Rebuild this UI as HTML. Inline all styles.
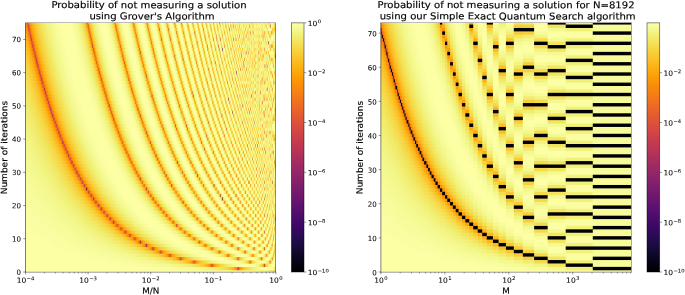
<!DOCTYPE html>
<html><head><meta charset="utf-8"><title>Grover search probability plots</title>
<style>
html,body{margin:0;padding:0;background:#fff}
#f{position:relative;width:685px;height:295px;overflow:hidden;background:#fff}
.hm{position:absolute;overflow:hidden}
.r{position:absolute;left:0;right:0;background:var(--g)}
.r i{position:absolute;left:0;right:0;top:-1px;height:1px;background:var(--g)}
.w{position:absolute;left:0;right:0;height:1px;background:#fff}
text{white-space:pre}
</style></head>
<body><div id="f">
<div class="hm" style="left:25px;top:22px;width:251px;height:250px">
<div class="r" style="--g:linear-gradient(90deg,#fbb768 .5px,#f37819,#e05635,#ee6d22,#f88a0c,#fc9f08,#fcab0f,#fbb61b,#fbbd23,#fac52c,#f9cb34,#f7d03c,#f6d543,#f5da4a,#f4de51,#f3e157,#f3e55e,#f2e864,#f2eb6b,#f1ed71,#f1ef76,#f2f17a,#f2f380,#f2f484,#f3f587,#f4f78d,#f4f88e,#f6fa94,#f6fa96,#f7fb99,#f8fb9a,#f9fc9d,#fafd9f,#fafda1,#fbfea2,#fcffa4,#fcffa4,#fcffa4,#fcffa4,#fcffa4,#fcffa4,#fcffa4,#fcffa4,#fcffa4,#fcffa4,#fbfea3,#fafda1,#f9fd9e,#f8fc9b,#f7fb97,#f6fa94,#f4f88e,#f4f68a,#f2f483,#f2f179,#f1ec6e,#f2e763,#f4e054,#f6d847,#f9c932,#fbba1f,#f89310,#ee6b23,#fba20e,#fabf26,#f8cf3a,#f4dd4f,#f3e55d,#f1ed6f,#f2f17a,#f3f688,#f5f890,#f7fb97,#f9fc9d,#fafda0,#fbfea3,#fcffa4,#fcffa4,#fcffa4,#fcffa4,#fbfea3,#fafd9f,#f8fb99,#f5f992,#f3f587,#f2f17a,#f2e966,#f4dd50,#f9c932,#fb9f0f,#fa970e,#fac128,#f5db4d,#f2e968,#f2f27c,#f4f78c,#f7fa96,#fafd9f,#fbfea3,#fcffa4,#fcffa4,#fbfea2,#fafd9f,#f6fa95,#f3f585,#f2ed71,#f5dc4e,#fabc22,#f58b1b,#f9c730,#f3e35c,#f2f17b,#f4f88e,#f9fc9d,#fcfea3,#fcffa4,#fcffa4,#f9fc9d,#f5f992,#f2f078,#f4de52,#ec9732,#f3a328,#f5dc50,#f2f27e,#f6fa95,#fafda1,#fcffa4,#fbfea2,#f8fb9a,#f3f483,#f4e056,#fab41c,#f9c42d,#f2e968,#f5f88f,#fafd9f,#fcffa4,#fbfea1,#f5f88f,#f3e765,#fabe26,#f8ca35,#f2ee73,#f7fa97,#fcfea3,#fbfea3,#f5f88f,#f4e360,#ef8c2e,#f6d648,#f5f88f,#fbfea1,#fbfea3,#f6f991,#f5de55,#de7d41,#f4e768,#f8fc9b,#fcffa4,#f7fa95,#f4e460,#f9c52f,#f3ee74,#fafd9f,#fbfea2,#f5f17f,#f6a828,#f4e058,#f9fc9d,#fbfea2,#f4ee77,#f8ab21,#f5eb70,#fafda1,#f9fb98,#f6d64a,#f7ca3b,#f9fc9b,#fbfda1,#f6da57,#f6c33a,#f8fb9a,#f8fb9a,#f5e15a,#f5e769,#fbfea3,#f5f07b,#f7b62e,#f8f78f,#f9fc9c,#f4df53,#f6f487,#fafb9b,#d1845f,#f5f381,#f7fa96,#f8cc3e,#f9f58a,#f7f890,#f8c741,#fafd9e,#f4ed73,#f6f384,#f8fa95,#f7e160,#f9fc9d,#f7dd59,#f9fc9d,#f4ec72,#f9f68f,#f5f17e,#f7f891,#f8d458,#faf089,#f7e463,#f7f68b,#f3e45d,#f9f080,#f4ed74,#f5f68a,#f8fb9a,#f5e25f,#f5ea73,#faed7e,#f5f88f,#fad459,#fbd260,#f9e276,#f2ef75,#f2f17b,#f9e771,#f5ec75,#f6f588,#f3e35a,#f7f07d,#f7f58a,#f4f688,#f6e669,#f6f78e,#fad350,#f7fa97,#f6ee77,#f7d442,#f6d649,#f4f483,#f2f27d,#fafda0,#fcd25d,#f4ea76,#f9fbaa 250.5px);top:1px;height:2px"><i style="opacity:.150"></i></div>
<div class="r" style="--g:linear-gradient(90deg,#fcc065 .5px,#f98b0b,#ec6b24,#d24a42,#f1741c,#fa9208,#fca209,#fcaf13,#fbb71c,#fabf25,#f9c72f,#f8cd36,#f7d33f,#f6d745,#f5dc4e,#f4e054,#f3e35a,#f2e660,#f2e967,#f1ec6d,#f1ee72,#f1f078,#f2f27c,#f2f482,#f3f585,#f3f689,#f4f78d,#f5f890,#f6f993,#f7fa97,#f8fb9a,#f8fc9c,#f9fc9d,#fafda1,#fafda1,#fbfea1,#fcffa4,#fcffa4,#fcffa4,#fcffa4,#fcffa4,#fcffa4,#fcffa4,#fcffa4,#fcffa4,#fcffa4,#fbfea1,#fafda0,#f9fc9d,#f8fc9b,#f6fa96,#f5f992,#f4f88e,#f3f587,#f2f380,#f1f077,#f2eb6c,#f2e55f,#f4df52,#f7d340,#f9c72f,#fbb116,#f78a0f,#e1682a,#fcad13,#fac32b,#f6d542,#f4df53,#f2e865,#f1ed71,#f2f37f,#f3f688,#f5f991,#f7fa97,#f9fc9d,#fbfea1,#fcffa4,#fcffa4,#fcffa4,#fcffa4,#fcffa4,#fbfea3,#f9fc9d,#f7fb98,#f5f88f,#f3f586,#f1ee74,#f2e762,#f6d949,#fac228,#f48017,#f89c14,#f8cb35,#f4df54,#f2eb6c,#f2f482,#f4f88e,#f8fb9a,#fafd9f,#fcfea4,#fcffa4,#fcffa4,#fbfea3,#f8fb9a,#f5f890,#f2f381,#f2e967,#f6d746,#f6991d,#f79715,#f7d13d,#f2e865,#f3f483,#f6fa95,#fafd9f,#fcffa4,#fcffa4,#fcfea3,#f8fc9b,#f4f78b,#f2ec6f,#f6d341,#fa9810,#faba24,#f2e762,#f3f484,#f8fb9a,#fcfea3,#fcffa4,#fbfea3,#f7fa95,#f2f079,#f5d94c,#fb9b07,#f7cf3c,#f2ef76,#f6f993,#fbfea1,#fcffa4,#f9fd9e,#f3f586,#f3e25b,#fca20b,#f6d343,#f4f381,#f8fc9c,#fcffa4,#fbfea2,#f4f587,#f6d648,#fcaa0f,#f2eb6c,#f6f994,#fbfea3,#fbfea1,#f4f485,#f7c936,#f9bf2a,#f3f27f,#fafda0,#fbfea3,#f5f78c,#f6c640,#f5b636,#f4f587,#fcfea4,#f9fc9c,#f4e768,#fbb71c,#f3f27f,#fafda0,#f9fc9c,#f3e869,#f8bf2e,#f5f689,#fbfea1,#f5f68a,#f5ae34,#f3eb75,#fbfea1,#f7f891,#f8c231,#f6e566,#fbfea2,#f8f58b,#f9be28,#f4f381,#fafd9f,#f5e162,#f5da56,#fafda0,#f7f07e,#f8c535,#f7f993,#f6f78e,#f8cd37,#fafa97,#f7f487,#f4e561,#fbfea1,#efbb6d,#f1d973,#fafa98,#f7d442,#f8fb9a,#f4cd5f,#f5d86e,#f5ee8a,#eaa55a,#f7f992,#f8c840,#f9f994,#f4df53,#fafd9e,#f9c145,#f8fa97,#f2f17c,#f7f992,#f9df60,#f5ee76,#f9ef7e,#f2e764,#f7f68c,#f7f993,#f1a75b,#f6ee77,#f7f891,#fcd354,#f8e569,#f6fa96,#f6f994,#f6f07b,#f5f88e,#f5ef78,#f9fc9d,#f4f280,#f5f17d,#f4f27f,#f5f991,#f1ef75,#faeb78,#f7d445,#f8fa96,#f8fa96,#f5e96c,#d58668,#fcffa4,#f7fa95,#f4f587,#f6d747,#fcf39c 250.5px);top:3px;height:3px"><i style="opacity:.489"></i></div>
<div class="r" style="--g:linear-gradient(90deg,#fdc566 .5px,#fb9806,#f78410,#df5b32,#d54f3d,#f68112,#fb9607,#fca60c,#fcb115,#fbb91f,#fac128,#f9c831,#f8cf39,#f7d33f,#f6d847,#f5dc4d,#f4e156,#f3e45c,#f2e762,#f2e967,#f1ec6e,#f1ef74,#f1f078,#f2f27d,#f2f381,#f3f586,#f3f68a,#f4f88e,#f5f992,#f6fa95,#f7fa96,#f8fb9a,#f9fc9d,#f9fc9d,#fafda0,#fafda1,#fbfea3,#fcffa4,#fcffa4,#fcffa4,#fcffa4,#fcffa4,#fcffa4,#fcffa4,#fcffa4,#fcffa4,#fbfea3,#fafda1,#f9fd9e,#f9fc9d,#f8fb9a,#f7fa96,#f5f992,#f4f78b,#f2f484,#f2f27c,#f1ef74,#f2e967,#f3e45d,#f5db4c,#f7d23e,#fac128,#fcab10,#e96f22,#f58a11,#fbb318,#f9ca33,#f6d644,#f3e259,#f2ea68,#f1ef76,#f2f482,#f4f78b,#f5f992,#f8fb99,#f9fc9d,#fafda1,#fcfea4,#fcffa4,#fcffa4,#fcffa4,#fcffa4,#fbfea1,#f9fd9e,#f7fb97,#f4f88e,#f2f380,#f1ed70,#f3e35b,#f7d441,#fbb016,#ef761e,#faaf1c,#f7d23e,#f3e35a,#f2ee73,#f3f585,#f6f993,#f8fc9b,#fbfea2,#fcffa4,#fcffa4,#fcffa4,#fafda0,#f8fb99,#f5f88e,#f2f17a,#f2e660,#f8cb35,#f99810,#f8a822,#f5d949,#f2eb6d,#f3f587,#f7fb98,#fafda1,#fcffa4,#fcffa4,#fbfea1,#f7fb98,#f3f484,#f3e764,#f8c731,#f2861f,#f7d13e,#f2eb6b,#f4f78c,#f8fc9c,#fbfea3,#fcffa4,#fafd9f,#f5f88e,#f2ed71,#f9c832,#df7437,#f4dd53,#f2f27e,#f7fb98,#fcffa4,#fcfea3,#f8fb99,#f3f381,#f7d13e,#ea8130,#f4e15b,#f4f68a,#fafd9f,#fcffa4,#f9fc9c,#f2f07a,#f7d13e,#f9c12b,#f2ee75,#f8fb9a,#fcffa4,#f9fc9d,#f2ef76,#f9c833,#f6d648,#f4f587,#fcffa4,#fbfea1,#f4f07a,#f9b824,#f6d84e,#f7fa95,#fbfea3,#f7f994,#f4e15a,#f7cc3a,#f5f689,#fbfea2,#f7fa97,#f6c43f,#f6d54b,#f6f991,#fcfea3,#f4f383,#eb923f,#f5f282,#fbfda1,#f4f689,#f7d441,#f5f487,#fbfda1,#f4eb74,#f8bb29,#f9fa98,#f9fc9b,#f8c038,#f4ec73,#fbfea1,#f5d959,#f7d44d,#fbfea3,#f5ee78,#f4e869,#fafd9f,#f8e260,#f6e567,#f9fc9b,#f7d74a,#f7f181,#f5f48a,#d78c63,#f9fb99,#f7d74e,#f8f58a,#f7e467,#f6ed75,#f8ea79,#f6de5d,#f6f78d,#f9d24f,#f8ea78,#f6e66a,#f7ed76,#f7f17f,#f5f280,#f9f790,#f9c045,#f7f890,#f8e86d,#f7e463,#f9f58d,#faeb78,#f2ec6f,#fae975,#faec7b,#f2ef77,#f2f079,#f9e974,#f5eb73,#f7f283,#f4e25d,#f4f78b,#f6e972,#f9eb78,#f4f281,#f7f78e,#f5f383,#faf893,#f3e866,#f8fb99,#fbfea2,#f6fa95,#f5f88f,#f7ca3d,#f8e76d,#fcbb26,#fdec94 250.5px);top:6px;height:4px"><i style="opacity:.167"></i></div>
<div class="r" style="--g:linear-gradient(90deg,#fdca6a .5px,#fca209,#fa9308,#f57d15,#e35b31,#ea6529,#f8870e,#fb9b07,#fca80d,#fcb317,#fbbc21,#fac32a,#f9ca33,#f8cf3a,#f7d441,#f5da4a,#f4dd50,#f4e055,#f3e45c,#f2e763,#f2ea6a,#f1ed70,#f1ee74,#f1f179,#f2f37f,#f2f482,#f3f586,#f4f78c,#f5f890,#f6f993,#f6fa96,#f7fb98,#f8fb9a,#f9fc9d,#f9fd9e,#fafda1,#fafda1,#fcffa4,#fcffa4,#fcffa4,#fcffa4,#fcffa4,#fcffa4,#fcffa4,#fcffa4,#fcffa4,#fcffa4,#fcfea4,#fafda1,#fafd9f,#f8fc9c,#f7fb98,#f6fa95,#f5f88f,#f4f68a,#f3f484,#f2f27c,#f1ee72,#f2e967,#f3e157,#f5da4b,#f8cd37,#fbbe24,#fb9f0d,#eb6826,#f9940f,#fbbc22,#f8cd37,#f5db4c,#f3e45d,#f2eb6b,#f2f17a,#f3f585,#f4f88e,#f6fa95,#f8fc9c,#fafd9f,#fbfea2,#fcffa4,#fcffa4,#fcffa4,#fcffa4,#fcfea3,#fafda0,#f8fc9b,#f6fa94,#f3f689,#f2f27e,#f2ea6a,#f4e054,#f8cb35,#fba815,#f9910b,#fbbb21,#f6d746,#f2e763,#f2f078,#f4f78b,#f6f994,#f9fd9e,#fcfea4,#fcffa4,#fcffa4,#fbfea3,#fafda0,#f7fa97,#f3f689,#f1ee73,#f4de52,#f9c42c,#f89113,#fac027,#f4df54,#f2ef75,#f4f78b,#f8fc9c,#fbfea2,#fcffa4,#fcffa4,#fafda0,#f5f992,#f2f27d,#f4e158,#f8bc2c,#f59420,#f6d848,#f2f078,#f5f890,#f9fd9e,#fcffa4,#fcfea3,#f9fc9d,#f4f78c,#f3e55f,#f9bb25,#fabc24,#f3e45e,#f4f587,#fafd9f,#fcfea4,#fbfea3,#f7fb97,#f2ec70,#f9c32d,#f9c12a,#f3e968,#f6f992,#fbfea2,#fcfea3,#f7fa96,#f2ed73,#f1952c,#f5c840,#f4f383,#fafd9f,#fcffa4,#f7fb98,#f4e564,#f69b24,#f4e058,#f8fb98,#fcfea4,#f8fb99,#f3eb6e,#fac52c,#f3e96a,#f8fb98,#fcfea3,#f5f88f,#ec9e3e,#f1cb52,#f7f994,#fcfea4,#f5f485,#f9c22b,#f5dd5a,#fafd9f,#fafda1,#f5da52,#f8cc3a,#f7f891,#fbfea2,#f6e466,#f8cb3a,#f6f88f,#fafd9e,#f5e25e,#f4e767,#fafd9e,#f6f488,#f9c830,#f6f68c,#fafc9d,#f5e15a,#f5f280,#fbfea3,#f7d446,#f6e972,#f9fb9a,#f5b53a,#f6f183,#f8f78e,#f8c83b,#fafda0,#f7e568,#f6f283,#f9f893,#f2ea6a,#fafda1,#f2ec6e,#f8fa96,#f5ec72,#f8fa95,#f8da5d,#faf18a,#f5eb70,#f9f080,#f6d953,#f6f388,#f9d34e,#f9f895,#f9e76f,#f6c963,#f8e57e,#f3ec6f,#eb9d67,#f8fb9a,#fada5a,#f9bd4c,#f6f992,#f6f994,#f6f17f,#f5f78d,#f8e86d,#f8fb98,#f3f586,#f6f993,#fccd4e,#f7e873,#f5b161,#f2ef76,#f4f27e,#f6f17e,#f9c42c,#f4ed74,#fbe779,#fca90d,#f6cf46,#f9e76d,#f3ef76,#fafaa8 250.5px);top:10px;height:3px"><i style="opacity:.845"></i></div>
<div class="r" style="--g:linear-gradient(90deg,#fdcf6f .5px,#fcaa0f,#fb9f08,#fa8f09,#f2771a,#d14744,#ee6d22,#f98d0b,#fb9e08,#fcab10,#fbb61a,#fbbd23,#fac52d,#f9cb34,#f7d13d,#f6d644,#f5db4c,#f4df52,#f3e258,#f2e55f,#f2e966,#f1eb6c,#f1ed70,#f1f077,#f2f17b,#f2f381,#f3f484,#f3f688,#f4f78b,#f5f88f,#f5f992,#f6fa96,#f8fb9a,#f8fc9b,#f9fc9d,#fafda0,#fafda1,#fafda1,#fcfea4,#fcffa4,#fcffa4,#fcffa4,#fcffa4,#fcffa4,#fcffa4,#fcffa4,#fcffa4,#fcffa4,#fbfea2,#fafda1,#f9fc9d,#f9fc9c,#f7fa97,#f6f993,#f5f890,#f3f689,#f2f482,#f1f077,#f1ec6f,#f2e762,#f4e055,#f6d745,#f9cb34,#fbb81d,#f9930d,#e4652b,#fba50e,#fbbf25,#f7d33f,#f5dd4f,#f2e661,#f1ed6f,#f2f27d,#f3f586,#f4f88e,#f7fb98,#f8fc9b,#fafda1,#fcfea4,#fcffa4,#fcffa4,#fcffa4,#fcffa4,#fcfea4,#fafd9f,#f8fb9a,#f5f991,#f3f587,#f2f079,#f2e967,#f5da4a,#f9c62e,#f89414,#f58915,#f9c52d,#f5dc4e,#f2e968,#f2f27f,#f4f78c,#f7fb98,#f9fd9e,#fcfea3,#fcffa4,#fcffa4,#fcfea3,#f9fc9d,#f6f993,#f3f586,#f2eb6b,#f5dc4f,#f9b221,#f07e1b,#f9c731,#f3e45d,#f2f17a,#f5f992,#f9fc9d,#fcfea4,#fcffa4,#fcffa4,#f9fc9d,#f5f890,#f2ef75,#f4dd52,#f99e18,#faaf18,#f4e158,#f2f27d,#f6fa95,#fbfea3,#fcffa4,#fcfea4,#f8fc9b,#f2f381,#f4e158,#faa712,#f9bf2b,#f2ea6a,#f5f88f,#fafda1,#fcffa4,#fbfea2,#f5f88e,#f3e866,#faaf18,#f8c32f,#f2ee75,#f8fb9a,#fcfea4,#fafda1,#f6f992,#f4e057,#fbac13,#f5db53,#f4f78b,#fbfea1,#fbfea3,#f6f78e,#f5d84d,#fbaf15,#f2f079,#f8fc9b,#fcfea4,#f7fa96,#f5db54,#f9b121,#f4ee77,#fbfda1,#fbfea3,#f3ee75,#fabc24,#f5e365,#fafd9e,#fafd9f,#f3ed73,#f5ac30,#f4f280,#fbfea3,#f6f993,#f1bf4d,#efc561,#fafd9e,#f9fb9a,#f3c34d,#f4c850,#fafda0,#f9fc9b,#f9cb37,#f5ea71,#fafda0,#f4f07b,#f0a64a,#fafc9d,#f9f58d,#f8cc37,#f6f992,#f7f890,#f7bb32,#f9f68d,#f7fa94,#f7d74e,#f9fc9c,#f6ef7f,#f7dd5d,#fbfea1,#f8d345,#f8f78f,#f7ea70,#f7e669,#f8f589,#f6de57,#faf995,#f4dd51,#fafda0,#efa556,#f8fb98,#f3ed72,#f9fc9d,#fbcd4d,#f9ed80,#f6e062,#f5b654,#f8f695,#f9e164,#f7f184,#fbe36d,#f5e361,#f7f58a,#f8f182,#f5eb72,#f4ed74,#f8e973,#f5eb73,#f9ec7c,#f8d454,#f4f587,#f5e15f,#f8d36f,#f4bf75,#fbcc57,#f8f188,#f2eb6c,#f8f78d,#f7f994,#f5c642,#f3dd5d,#f2f381,#f8fb99,#f5f992,#f7fb98,#fafdb0 250.5px);top:13px;height:3px"><i style="opacity:.523"></i></div>
<div class="r" style="--g:linear-gradient(90deg,#fdd373 .5px,#fcb216,#fca80d,#fb9b07,#f98c0b,#ee6b23,#cb4447,#f2781a,#fa9009,#fca20a,#fcaf13,#fbb71c,#fac026,#f9c62e,#f8cd37,#f7d23e,#f6d745,#f5db4b,#f4df53,#f3e45b,#f2e660,#f2e966,#f2eb6b,#f1ee73,#f1f076,#f2f27c,#f2f380,#f2f484,#f3f68a,#f4f78d,#f5f991,#f6fa94,#f6fa96,#f8fb99,#f9fc9c,#f9fc9d,#fafd9f,#fafda1,#fbfea2,#fcffa4,#fcffa4,#fcffa4,#fcffa4,#fcffa4,#fcffa4,#fcffa4,#fcffa4,#fcffa4,#fcfea4,#fafda1,#fafd9f,#f9fc9d,#f8fc9b,#f7fb97,#f6f994,#f4f78d,#f3f586,#f2f27e,#f1f077,#f2ea6a,#f2e660,#f4de51,#f6d542,#f9c62e,#fcb116,#f28615,#ea7121,#fcab11,#f9c62e,#f7d440,#f4df53,#f2e865,#f1ee72,#f2f37f,#f3f689,#f5f890,#f7fb98,#f9fc9d,#fafda0,#fbfea3,#fcffa4,#fcffa4,#fcffa4,#fcffa4,#fbfea2,#fafd9f,#f7fb99,#f5f991,#f3f484,#f1ef75,#f3e55e,#f6d848,#fabe25,#f17d1c,#faa114,#f8cd37,#f4de52,#f2ec6d,#f2f381,#f5f890,#f8fb9a,#fafda0,#fcffa4,#fcffa4,#fcffa4,#fbfea1,#f8fc9b,#f5f992,#f2f27f,#f2e968,#f6d442,#fba813,#f7961c,#f7d340,#f3e762,#f2f482,#f6fa95,#fafda0,#fcfea4,#fcffa4,#fbfea3,#f8fc9b,#f4f689,#f2ec6f,#f7d441,#f58f1a,#f6bd35,#f3e560,#f3f484,#f8fb99,#fbfea2,#fcffa4,#fbfea2,#f6f994,#f2f17a,#f6d343,#df7438,#f7cf3d,#f2f17a,#f7fa95,#fcfea4,#fcffa4,#f9fc9d,#f4f689,#f5dc52,#e67e35,#f6d546,#f3f483,#f8fc9b,#fcffa4,#fbfea2,#f3f484,#f5da4d,#fabc23,#f3e764,#f6f994,#fcfea4,#fbfda1,#f3f483,#f6d443,#f8ca36,#f3f27f,#fafda0,#fcfea4,#f5f68a,#f7c536,#f8c636,#f5f78b,#fbfea3,#f8fc9b,#f4e96a,#f8c934,#f3f17b,#fafda1,#f9fc9c,#f3d862,#f6b936,#f5f68a,#fbfea3,#f5f68a,#efa040,#f4ec72,#fbfea2,#f6f891,#f6d648,#f4ee76,#fbfea3,#f5f280,#f1a03a,#f8f487,#fbfea3,#e6ad67,#efd56c,#fafd9f,#f3ea79,#d98d59,#fafc9c,#f6f283,#f4e35d,#fafd9f,#f9e26a,#f6e15e,#f9fc9b,#f7c43b,#f5f280,#f7f589,#f7d347,#f8fb9a,#df9a63,#f3eb88,#f1d174,#efc46b,#f6f68a,#f9d14c,#f8f081,#f5e664,#f6f487,#f9dc5c,#f6cb75,#f5db7e,#f6ef7b,#f9fc9c,#f4e35e,#f7dc6d,#f8db6e,#f7ed77,#f7f88f,#f3ef76,#fada59,#f6f689,#f6f991,#f5f383,#f6f68b,#fade60,#f6f68a,#f6f180,#f9fa97,#f8ea72,#fbd454,#f6f78c,#fccf50,#fafb99,#f3e968,#fafd9f,#f9fc9b,#f6ec73,#fcffa4,#fbfea2,#f9ef7c,#fbfb9b,#f9fcae 250.5px);top:16px;height:4px"><i style="opacity:.201"></i></div>
<div class="r" style="--g:linear-gradient(90deg,#fcd677 .5px,#fbb81d,#fcaf14,#fca50b,#fb9a07,#f7850f,#e96429,#e45b31,#f57d15,#fa9508,#fca50b,#fcb015,#fbba1f,#fac127,#f9c831,#f8ce38,#f7d340,#f6d847,#f5dc4e,#f4e054,#f3e35a,#f2e661,#f2e967,#f1ec6f,#f1ee72,#f1f078,#f2f27c,#f2f482,#f3f586,#f4f68a,#f4f88e,#f5f890,#f6fa96,#f7fa97,#f8fb9a,#f9fc9c,#f9fc9d,#fafda1,#fafda1,#fcfea3,#fcffa4,#fcffa4,#fcffa4,#fcffa4,#fcffa4,#fcffa4,#fcffa4,#fcffa4,#fcffa4,#fcffa4,#fafea1,#fafda0,#f9fc9d,#f8fb99,#f6fa96,#f5f991,#f4f78c,#f3f585,#f2f37f,#f1ee74,#f2ea69,#f3e45c,#f5dd4f,#f7d13c,#fac229,#fbac14,#f0741d,#f58213,#fbb51a,#f9c830,#f6d745,#f3e156,#f2e966,#f1ef75,#f2f381,#f4f78c,#f6f994,#f8fc9b,#f9fd9e,#fbfea1,#fcffa4,#fcffa4,#fcffa4,#fcffa4,#fcffa4,#fafda1,#f9fc9c,#f6fa96,#f4f78c,#f2f381,#f1ec6e,#f3e45c,#f7d23f,#fbb81d,#f98c0b,#fbb019,#f7d03c,#f3e45c,#f1ed71,#f3f586,#f5f991,#f8fc9b,#fafda1,#fcffa4,#fcffa4,#fcfea4,#fafda1,#f8fc9c,#f4f78c,#f2f27d,#f3e661,#f8cf3a,#f89a18,#f9ab1d,#f6d645,#f2ec6e,#f3f587,#f7fa97,#fafda1,#fcffa4,#fcffa4,#fbfea2,#f7fb99,#f3f688,#f2e864,#f8cc37,#ee8328,#f8cb36,#f2e969,#f4f78b,#f8fc9b,#fcfea4,#fcffa4,#fafd9f,#f5f992,#f2ec6e,#f7cd39,#fcad12,#f5dd50,#f3f27e,#f8fb99,#fbfea3,#fcffa4,#f8fc9b,#f3f17c,#f6d546,#fbb419,#f3e25a,#f4f587,#fafd9f,#fcffa4,#f9fc9c,#f3f27f,#efb341,#ea9b3b,#f3ee74,#f9fc9c,#fcfea4,#f9fc9d,#f3f380,#f5a129,#f5cd47,#f5f68a,#fbfea3,#fafd9f,#f3f17b,#f8cd38,#f5dc52,#f5f890,#fcffa4,#f7fa95,#f2c852,#eca142,#f5f68a,#fcfea4,#f7f993,#f7d141,#f7cb3b,#f9fc9b,#fbfea3,#f5ea71,#fac027,#f5f484,#fbfea2,#f7f081,#fac42c,#f4f485,#fbfea1,#f5ea72,#f5dc50,#f9fb9a,#f8fa96,#f8d03e,#f6ea71,#fbfea1,#f5e160,#f4ed75,#fafda0,#f8e160,#f6e261,#f9fc9e,#f6db53,#f6e368,#f9fc9b,#f7d442,#fbf895,#f6e773,#f8d960,#f9fc9d,#f6e15e,#f9fc9c,#f6e566,#f8fa97,#f8de62,#f9f289,#f6eb74,#fbe470,#f9d759,#f6f182,#f6e260,#f8f58a,#f4e35d,#f8f993,#f5f88f,#f6ea6e,#f4f588,#fac94b,#f5f88f,#f9ec7e,#f9db61,#f6e76a,#f8eb75,#f6eb73,#f9e678,#f8c75e,#f8ec74,#f8d952,#f4f485,#f7f589,#f2f27d,#f9e56f,#f8dc56,#f6f485,#b97457,#f2f08f,#fafc9d,#f5f88f,#f3f079,#f9df64,#faf692,#f7f9a5 250.5px);top:20px;height:3px"><i style="opacity:.879"></i></div>
<div class="r" style="--g:linear-gradient(90deg,#fcd97a .5px,#fbbd22,#fbb61b,#fcae12,#fca40a,#fa9407,#f68212,#d6513b,#db5835,#f78410,#fb9906,#fca70d,#fcb217,#fbbb20,#fac42b,#f9c931,#f8cf3a,#f7d441,#f5d949,#f4de51,#f3e157,#f3e45d,#f2e864,#f2ea69,#f1ec6e,#f1ef74,#f1f078,#f2f380,#f2f483,#f3f587,#f4f78a,#f4f88e,#f5f992,#f6fa95,#f7fb99,#f8fb9a,#f9fc9d,#f9fc9d,#fafda0,#fafda1,#fbfea3,#fcffa4,#fcffa4,#fcffa4,#fcffa4,#fcffa4,#fcffa4,#fcffa4,#fcffa4,#fcffa4,#fbfea3,#fafda1,#f9fd9e,#f9fc9d,#f7fb98,#f6fa94,#f5f991,#f4f78b,#f2f483,#f2f27c,#f1ed71,#f2e966,#f3e259,#f5da4a,#f8ce38,#fabf25,#fba30d,#c7543c,#f59510,#fbb81d,#f8cc36,#f6d848,#f3e35b,#f2ea6a,#f2f078,#f3f484,#f4f78c,#f6fa95,#f8fb9a,#fafda0,#fbfea3,#fcffa4,#fcffa4,#fcffa4,#fcffa4,#fcffa4,#fafda0,#f9fc9d,#f6fa94,#f4f78c,#f2f17b,#f2eb6b,#f4df53,#f8cf39,#faa916,#ec7222,#fbb51c,#f6d644,#f3e55f,#f2f078,#f3f587,#f6f993,#f8fc9c,#fbfea2,#fcffa4,#fcffa4,#fcffa4,#fafd9f,#f7fb97,#f4f68a,#f2ef76,#f3e258,#f9c52f,#f68716,#fab51f,#f4de52,#f1ee72,#f4f68a,#f7fb98,#fbfea2,#fcffa4,#fcffa4,#fafda1,#f7fa97,#f2f37f,#f3e660,#f9b724,#fa9b0c,#f6d545,#f2ef74,#f5f88e,#fafda0,#fcffa4,#fcffa4,#f9fd9e,#f4f688,#f2e968,#f9bd26,#f9a71a,#f4e15a,#f3f688,#f8fc9b,#fcffa4,#fbfea3,#f6fa94,#f2ef75,#f8c532,#faad1b,#f3e663,#f6f992,#fbfea2,#fcffa4,#f8fb99,#f3eb6d,#fabb23,#f7c534,#f3f484,#f9fc9d,#fcfea4,#f8fc9a,#f3e663,#fbb319,#f4de59,#f6f993,#fcffa4,#f9fc9c,#f4e96d,#f8a321,#f3e45f,#f9fc9d,#fcfea3,#f5f587,#f8cb38,#f7d248,#f7fa97,#fbfea2,#f5f68a,#f7b52c,#f3e86b,#fafd9e,#f9fc9c,#f3e665,#e09157,#f8fa96,#fbfda0,#f4e46a,#f4aa34,#f9fa98,#fafda0,#f8d952,#f5db54,#fafda0,#f6f589,#d8895c,#f7fa94,#f9fc9e,#f8d03f,#f6ee7b,#f9fc9c,#efa748,#f6ed7d,#f8fb98,#f8cc42,#f8fa97,#f6f88f,#f6e05d,#fafd9e,#f9c044,#f6f589,#faeb79,#f6e463,#fbf996,#f5db4d,#fafda0,#f9c941,#f8fa96,#f8e05f,#fafd9f,#f4ed73,#f8fa95,#f6de58,#f6f78e,#f9e365,#f3ec6f,#f8f58b,#f3f587,#fae872,#f4f17e,#f4ec71,#f7ef7a,#f7f78d,#f5f587,#f6f689,#fbca4c,#f8ed77,#fcdb65,#f9f087,#f3f689,#f3f586,#f7f384,#f5f78e,#f5f180,#f9f183,#f5f890,#f7d546,#f6d568,#faa011,#fbb318,#f3ea6c,#f4f688,#f6f497 250.5px);top:23px;height:3px"><i style="opacity:.557"></i></div>
<div class="r" style="--g:linear-gradient(90deg,#fcdb7d .5px,#fac228,#fbbc21,#fcb418,#fcad11,#fca008,#fa9208,#f37819,#d94f3c,#e86529,#f98a0c,#fb9c08,#fcaa0f,#fcb318,#fbbe23,#fac42b,#f9cb34,#f7d03c,#f6d643,#f5da4a,#f4dd50,#f4e156,#f3e45c,#f2e763,#f2ea6a,#f1ed70,#f1ef74,#f2f17b,#f2f37f,#f2f483,#f3f689,#f4f78c,#f5f890,#f5f992,#f6fa95,#f7fb98,#f8fc9b,#f9fc9d,#f9fd9e,#fafda1,#fafea1,#fcffa4,#fcffa4,#fcffa4,#fcffa4,#fcffa4,#fcffa4,#fcffa4,#fcffa4,#fcffa4,#fcffa4,#fbfea1,#fafda1,#fafd9f,#f8fc9c,#f7fb98,#f6fa95,#f5f88f,#f3f68a,#f2f380,#f1f079,#f1ec6f,#f2e864,#f4e055,#f6d847,#f8cd36,#fbba20,#fb9f0a,#d45738,#fb9d0d,#fbbd23,#f8d03b,#f5dc4e,#f3e55e,#f2eb6c,#f2f17a,#f2f483,#f4f88f,#f6fa96,#f9fc9c,#fafd9f,#fbfea2,#fcffa4,#fcffa4,#fcffa4,#fcffa4,#fcfea3,#fafda0,#f8fc9b,#f6f994,#f3f587,#f2f079,#f2e967,#f4de50,#f9c932,#f99b13,#f68716,#fac128,#f6d847,#f2e967,#f2f179,#f4f68a,#f7fb98,#fafd9f,#fcfea4,#fcffa4,#fcffa4,#fcffa4,#f9fc9d,#f6fa95,#f3f585,#f2ed71,#f4dd51,#fabb23,#ee7b23,#f9c72f,#f4e157,#f2f17a,#f4f78d,#f8fc9b,#fbfea3,#fcffa4,#fcfea4,#f9fd9e,#f5f992,#f2f17b,#f5dd50,#f4aa27,#ea8f32,#f4dd51,#f2f079,#f6fa94,#fafda0,#fcffa4,#fbfea3,#f8fb99,#f3f587,#f3e35c,#f8a321,#f9b626,#f2e867,#f4f68a,#fafda1,#fcffa4,#fafda0,#f6f993,#f3e96a,#f8ad26,#f8bb2b,#f2ee73,#f6fa95,#fcffa4,#fcfea3,#f6f991,#f3e765,#fab41d,#f5db4e,#f4f587,#fbfea2,#fcffa4,#f5f88f,#f4e15b,#fabe26,#f3ea6b,#f8fb99,#fcffa4,#f8fa97,#f4e059,#fbb318,#f3f17d,#fafda0,#fafda0,#f4f483,#f8c731,#f4e564,#f8fb99,#fbfda1,#f3f381,#f9b21f,#f4ec73,#fafda0,#f9fc9c,#eaaa56,#f2d35b,#f8fb99,#f9fc9c,#f5df59,#f4e460,#f9fc9c,#f7f993,#f5af36,#f6e96f,#fbfea2,#f3de7c,#eeb04c,#f9fc9d,#f6f589,#9f706a,#f8f78e,#f8fb99,#f5de53,#f8f994,#f9f188,#f7ce3e,#fafd9e,#f3cb60,#f3d365,#f9fa98,#f6d645,#f7f892,#f6e061,#f7df66,#f6f588,#f8cf49,#f7f589,#f6e05a,#f7f791,#f7c841,#f9f284,#f5e96a,#f8f994,#f8ed79,#f9d45f,#faeb84,#f9cc47,#f5f381,#f7f17f,#f5f484,#f8e97d,#fbd660,#f9dd60,#f7eb75,#f7e970,#faea76,#fbe46e,#fcce4f,#fbd251,#f4f17e,#f4ee80,#f4b062,#f6e96d,#f8fb98,#f5e666,#fafda1,#f7f589,#f8c33b,#f2f382,#f3f483,#fbd85a,#f8d751,#f6ea80 250.5px);top:26px;height:4px"><i style="opacity:.235"></i></div>
<div class="r" style="--g:linear-gradient(90deg,#fbde80 .5px,#f9c72e,#fac027,#fbba1f,#fcb419,#fca90e,#fc9f07,#f98d0b,#f2751c,#db503a,#f1721e,#f98d0b,#fca008,#fcab10,#fbb71c,#fbbf25,#fac62d,#f9cb35,#f7d23d,#f6d644,#f5da4a,#f4df52,#f3e258,#f2e55f,#f2e966,#f1eb6c,#f1ed70,#f1f077,#f2f17b,#f2f37f,#f3f585,#f3f688,#f4f78c,#f5f88f,#f6f993,#f6fa96,#f7fb98,#f8fc9b,#f9fc9d,#fafda0,#fafda1,#fbfea2,#fcffa4,#fcffa4,#fcffa4,#fcffa4,#fcffa4,#fcffa4,#fcffa4,#fcffa4,#fcffa4,#fcffa4,#fbfea2,#fafda1,#f9fc9d,#f8fb9a,#f7fb99,#f6f993,#f5f890,#f3f688,#f2f381,#f1f077,#f1ec6e,#f2e761,#f4df54,#f6d644,#f9c932,#fbb81d,#f88c0f,#ec6c23,#fba611,#fac128,#f7d13d,#f4de51,#f2e661,#f1ee72,#f2f17b,#f3f586,#f4f88e,#f7fa97,#f8fc9c,#fafda1,#fcfea4,#fcffa4,#fcffa4,#fcffa4,#fcffa4,#fbfea2,#f9fd9e,#f7fb98,#f5f891,#f3f586,#f2f077,#f2e762,#f5da4b,#fac32a,#fa9b0f,#f99512,#f9c52d,#f4de52,#f2ea69,#f2f27e,#f4f88e,#f7fb99,#fafda0,#fcfea3,#fcffa4,#fcffa4,#fcfea3,#f9fc9d,#f6fa94,#f3f483,#f2eb6c,#f5d949,#eeab2c,#d06f33,#f8cb35,#f3e662,#f2f27c,#f5f991,#fafd9f,#fcfea4,#fcffa4,#fcfea4,#f8fc9b,#f5f88f,#f2ee73,#f5da4b,#f39128,#fab81f,#f4e158,#f2f380,#f7fa96,#fbfea3,#fcffa4,#fbfea3,#f7fa97,#f3f380,#f4dd50,#fbb319,#f8c934,#f2eb6c,#f6f994,#fbfea2,#fcffa4,#fbfea1,#f4f78b,#f3e35c,#fbbb21,#f7cf3d,#f2f078,#f9fc9d,#fcfea4,#fafda0,#f5f78d,#f5de55,#f99f19,#f5df57,#f6f992,#fbfea3,#fbfea1,#f5f78c,#f5c946,#f6aa2a,#f3ef77,#fafd9f,#fbfea3,#f6f88f,#f5dd53,#f8c733,#f4f382,#fbfea1,#fafda0,#f4ea6d,#f8a821,#f4e96c,#fafda1,#fafda1,#f4e360,#f8b224,#f6f384,#fcffa4,#f6f68b,#f9c731,#f5e05f,#fbfea2,#f8fb99,#f9c733,#f5e365,#fafd9f,#f5f88e,#f6d746,#f6f588,#fafd9f,#f6de58,#f6d850,#fbfda0,#f5ef7c,#f4e15a,#fafd9f,#f8ed7a,#f7d74c,#f9fb9a,#f5eb71,#f7d34b,#f9fc9c,#f6df59,#faec7b,#f7f891,#f7b749,#f9fc9d,#f8db57,#f9fb9a,#f7e267,#f8f389,#f5e181,#f4c16e,#f7f281,#f7e86c,#f7e672,#f8dd65,#e59d67,#f7f496,#f5b053,#f9f68f,#f9e974,#f8d556,#f8ea76,#f4f07b,#fae468,#f7f487,#f5f588,#f6f587,#f5ad5a,#fbda5c,#fbe26c,#f9ea75,#f9ed79,#f9ed7a,#fae167,#fbe772,#fbbf34,#f6f58a,#f9c62f,#fafa99,#f7fa95,#fcffa4,#fcfea4,#f7f994,#f7d84b,#fad359 250.5px);top:30px;height:3px"><i style="opacity:.913"></i></div>
<div class="r" style="--g:linear-gradient(90deg,#fbe083 .5px,#f9ca33,#fac42b,#fbbf25,#fbba1f,#fcb216,#fca80d,#fb9a07,#f98b0b,#ec6c23,#ca4448,#f2761b,#fa9108,#fca109,#fcaf14,#fbb71c,#fac026,#f9c72e,#f8cd37,#f7d23e,#f6d644,#f5db4c,#f4de52,#f3e45b,#f3e55f,#f2e865,#f1eb6c,#f1ee73,#f1f077,#f2f17a,#f2f380,#f2f484,#f3f68a,#f4f78d,#f5f991,#f6fa94,#f6fa96,#f8fb99,#f8fc9b,#f9fc9d,#fafd9f,#fafda1,#fbfea2,#fcffa4,#fcffa4,#fcffa4,#fcffa4,#fcffa4,#fcffa4,#fcffa4,#fcffa4,#fcffa4,#fcfea4,#fafda1,#fafd9f,#f9fc9d,#f8fb9a,#f7fa97,#f6f994,#f4f78c,#f3f586,#f2f37f,#f1f077,#f2eb6b,#f2e55f,#f4de52,#f7d340,#f9c730,#fcaf14,#f58613,#f37d17,#fcac11,#f9c52d,#f7d441,#f4df52,#f2e966,#f1ed71,#f2f380,#f3f68a,#f5f991,#f7fb98,#f9fc9d,#fafda0,#fcfea3,#fcffa4,#fcffa4,#fcffa4,#fcffa4,#fbfea2,#f9fc9d,#f7fb98,#f4f88e,#f2f483,#f1ef74,#f3e55f,#f6d746,#fabf27,#ef781e,#fb9f0e,#f8cd38,#f4df53,#f2eb6d,#f2f482,#f5f991,#f8fb9a,#fafda0,#fcffa4,#fcffa4,#fcffa4,#fbfea2,#f9fc9c,#f5f992,#f2f380,#f2e966,#f6d544,#fba312,#f89616,#f6d341,#f2e764,#f3f482,#f6fa96,#fafda0,#fcffa4,#fcffa4,#fbfea3,#f8fb9a,#f3f688,#f2ec6f,#f7d341,#f68d15,#f8bc2d,#f3e763,#f3f482,#f8fb9a,#fbfea2,#fcffa4,#fbfea2,#f6fa95,#f2f078,#f6d545,#e17636,#f8ce3a,#f2f17b,#f6fa95,#fbfea3,#fcffa4,#fafd9f,#f3f586,#f5dc53,#e67d35,#f6d342,#f3f587,#fafd9f,#fcffa4,#fafd9f,#f4f485,#f6d545,#f6a127,#f3eb6d,#f6fa95,#fcffa4,#fbfea1,#f3f27e,#f8ca38,#f6ba31,#f4f586,#fafd9f,#fbfea1,#f5f78d,#f5b032,#f6c83f,#f6f68b,#fbfea3,#f8fb9a,#f4e15c,#f8b426,#f4f484,#fbfea3,#f7fa96,#f5db54,#f6d345,#f6f991,#fbfea3,#f4f27f,#f7bb2d,#f4f382,#fbfea3,#f4f484,#f9c12c,#f7ed79,#fcffa4,#f6ec75,#f8c533,#f7f88f,#f9fc9c,#f6c43c,#f5ec7b,#fafda1,#f7e05d,#f6dd58,#fafd9e,#f5d95f,#f6d14f,#fcfea4,#f6d955,#f6f081,#f9fb9a,#f5dd56,#f9fc9b,#f8d266,#f5df6b,#faf793,#f6d748,#fafda0,#f8d64c,#f8f891,#d98e72,#f7fa94,#f4f07a,#f9f790,#f8e365,#f9fc9d,#f4e35d,#f8f080,#f4eb6f,#fcd455,#f8fb98,#fae468,#f6f282,#fae875,#fac852,#f6eb74,#f8e76e,#fae975,#f9ef7d,#fbd555,#f6f17e,#fbc44b,#f9bb4e,#f4f689,#f7eb73,#f9ee82,#fbe775,#f4f68a,#f3af4b,#f8f994,#f4f78c,#f6fa95,#f8fb98,#f5d35e,#d26f68 250.5px);top:33px;height:3px"><i style="opacity:.591"></i></div>
<div class="r" style="--g:linear-gradient(90deg,#fae185 .5px,#f8ce39,#f9c931,#fac42b,#fbbf24,#fbb81c,#fcb015,#fca60c,#fb9a07,#f8870f,#ea6529,#c84945,#f57d15,#fa9308,#fca50b,#fcaf14,#fbb91f,#fac127,#f9c830,#f8ce39,#f7d23e,#f6d746,#f5dc4e,#f4e054,#f3e35b,#f2e661,#f2e967,#f2eb6b,#f1ee72,#f1ef76,#f2f27d,#f2f482,#f3f586,#f3f689,#f4f78d,#f5f890,#f6f994,#f7fb97,#f8fb9a,#f9fc9c,#f9fc9d,#fafda1,#fafda1,#fcfea4,#fcffa4,#fcffa4,#fcffa4,#fcffa4,#fcffa4,#fcffa4,#fcffa4,#fcffa4,#fcffa4,#fcffa4,#fafda1,#fafda0,#f9fc9c,#f8fb99,#f6fa96,#f5f890,#f4f78d,#f3f586,#f2f37f,#f1ef75,#f2ea68,#f3e45d,#f5dc4e,#f7d23e,#fac229,#fcae14,#f27a1c,#f48114,#fbb117,#f9c831,#f6d543,#f3e157,#f2e865,#f1ef75,#f2f381,#f4f78b,#f6fa94,#f7fb97,#f9fd9e,#fbfea1,#fcffa4,#fcffa4,#fcffa4,#fcffa4,#fcffa4,#fafda1,#f9fc9c,#f6fa95,#f4f78c,#f2f381,#f1ed70,#f3e35b,#f6d442,#fbb71e,#ec731f,#f9ac1c,#f8cf3a,#f3e158,#f1ed71,#f2f482,#f5f992,#f8fb9a,#fbfea1,#fcffa4,#fcffa4,#fcffa4,#fbfea2,#f8fc9b,#f4f88e,#f2f17c,#f2e763,#f8cf3b,#f89618,#faae1d,#f6d543,#f2ea6b,#f3f586,#f6fa95,#fbfea1,#fcffa4,#fcffa4,#fbfea3,#f7fb99,#f3f587,#f2e968,#f8cd38,#faa010,#f8cc37,#f2e866,#f4f78c,#f9fc9c,#fcfea4,#fcffa4,#fafda0,#f5f891,#f2ec70,#f8cb37,#fa9c0c,#f4de51,#f2f27d,#f7fb98,#fcfea3,#fcffa4,#f8fb9a,#f3f27f,#f6d445,#fba20c,#f3e35b,#f4f689,#fafd9f,#fcffa4,#f9fc9d,#f2f27d,#e6b151,#e59f41,#f2ec6f,#f9fc9d,#fcfea4,#f9fc9c,#f3f07a,#f3a734,#f5d34a,#f5f689,#fcfea3,#fbfea3,#f3f079,#f9bc2a,#f5d351,#f7fa96,#fcffa4,#f6f994,#f3d056,#f4b83d,#f4f68a,#fcfea4,#f7f994,#f8cd3e,#f6d447,#f8fb98,#fbfea1,#f5e770,#f9c32d,#f5f689,#fbfea1,#f4f07d,#f6d646,#f6f88f,#fafda0,#f5df5d,#f8d143,#fafd9f,#f8fb98,#f9c22f,#f6f384,#f9fc9c,#f7c53a,#f7e970,#fafd9f,#f4e665,#f5f17e,#fafda0,#f8d142,#f7f488,#f6f185,#f6c239,#f9fb9b,#f6e05a,#f7eb76,#f6f484,#f8cd46,#f7f78e,#f7d348,#f7fa96,#f4de51,#f7f892,#f0a752,#f9f792,#f5dd56,#f8fa97,#f4f382,#f6f182,#fbe570,#f2e864,#fbe46f,#f8e977,#fbc94b,#f7f281,#f5f68b,#f6f382,#fbd455,#f9bd4d,#f8f386,#f6d862,#fbd866,#fbe773,#f3f483,#f3f483,#f5f78d,#f8e060,#fcffa4,#f9dc62,#f5d84e,#fabd23,#f8ce3a,#f9e871,#f8ef7e,#fad45d 250.5px);top:36px;height:4px"><i style="opacity:.269"></i></div>
<div class="r" style="--g:linear-gradient(90deg,#fae488 .5px,#f8d03b,#f8cd37,#f9c830,#fac42b,#fbbd23,#fbb71c,#fcae13,#fca50b,#fb9807,#f78311,#cd543a,#d3533a,#f57f14,#fb9907,#fca50b,#fcb216,#fbba20,#fac228,#f9c932,#f8ce39,#f7d440,#f6d948,#f5dc4e,#f4df54,#f3e45d,#f2e761,#f2e967,#f1ec6e,#f1ee72,#f1f079,#f2f27d,#f2f483,#f3f587,#f4f78b,#f4f88e,#f5f992,#f6fa96,#f7fa97,#f8fb9a,#f8fc9c,#f9fc9d,#fafda0,#fafda1,#fbfea3,#fcffa4,#fcffa4,#fcffa4,#fcffa4,#fcffa4,#fcffa4,#fcffa4,#fcffa4,#fcffa4,#fbfea3,#fafda1,#fafda0,#f9fc9d,#f8fb9a,#f6fa94,#f5f991,#f4f68a,#f2f483,#f2f17b,#f1ee73,#f2ea68,#f3e45c,#f5dc4e,#f8d03b,#fac229,#fba70f,#e76827,#f78d12,#fbb71c,#f9c932,#f5d949,#f3e258,#f2eb6b,#f1ef76,#f2f483,#f4f78c,#f6f993,#f8fb9a,#f9fd9e,#fbfea1,#fcffa4,#fcffa4,#fcffa4,#fcffa4,#fcffa4,#fafda0,#f9fc9c,#f6f994,#f4f78c,#f2f27e,#f2ec6e,#f3e259,#f7d13c,#fbb51b,#da6431,#fbb119,#f7d23f,#f3e45c,#f2ee73,#f3f587,#f5f992,#f8fc9c,#fbfea3,#fcffa4,#fcffa4,#fcffa4,#fafd9f,#f7fa97,#f4f78d,#f2f17b,#f3e35b,#f8cd37,#f99011,#fab01d,#f5da4b,#f2ed71,#f4f689,#f7fb99,#fafda0,#fcffa4,#fcffa4,#fafda0,#f7fa97,#f3f484,#f3e660,#f8c22e,#f99711,#f8ce3a,#f2ed71,#f4f78d,#f9fd9e,#fcffa4,#fcffa4,#f9fd9e,#f4f78d,#f2ea69,#f7c938,#f69b21,#f4de54,#f3f483,#f8fc9c,#fcffa4,#fbfea3,#f8fb98,#f2ef77,#f6d343,#f7a122,#f3e45f,#f5f78e,#fbfea2,#fcffa4,#f8fb99,#f3ed74,#fabc26,#f9ba27,#f3f482,#f9fc9e,#fcfea4,#f8fc9b,#f3ea6d,#fbb319,#f6d74d,#f6f994,#fbfea3,#f9fc9c,#f3ee75,#f09b36,#f4e45f,#f8fc9b,#fcfea3,#f6f78d,#f8ca37,#f7cc3b,#f8fa98,#fbfea3,#f5f587,#f7b429,#f6e25f,#fafd9f,#f9fc9c,#f3dd5e,#ed9e40,#f8fa96,#fbfea2,#f1d86a,#e49a4e,#f7f994,#fafd9e,#f5e460,#f5e361,#fafda1,#f5f07d,#f7b92e,#f7f78f,#f9fc9b,#f4df54,#f7f68b,#fafa98,#f8c431,#f6f78d,#f7f78d,#f6b736,#f8f994,#f6ee78,#f9d956,#f9fc9c,#f8c942,#f9fc9c,#f7e66b,#f7f385,#f9f288,#f7e469,#f8fa96,#eda060,#f9f68f,#f4e45f,#f6f68c,#f9df5f,#f6e66c,#fae979,#f8e365,#f9fc9c,#fabd4c,#f4f079,#f8ef83,#fac556,#f5eb73,#f9e36b,#fbe471,#f7f58a,#f5ec72,#f7fa96,#f7ec75,#f5f17e,#f9ee7a,#f6f588,#f8d54f,#f6f68c,#f6d746,#f9fb9b,#f7e669,#f3f27e,#f3e45c,#f4e159,#f9f792,#f6eb83 250.5px);top:40px;height:3px"><i style="opacity:.947"></i></div>
<div class="r" style="--g:linear-gradient(90deg,#fae58a .5px,#f7d441,#f8d03b,#f9cb35,#f9c830,#fac229,#fbbd22,#fbb61a,#fcae13,#fca40a,#fa9507,#f57f14,#dc5437,#da5637,#f8870e,#fb9907,#fca80e,#fcb317,#fbbb20,#fac32a,#f9c932,#f8cf3a,#f7d441,#f5d949,#f4de50,#f4e156,#f3e45c,#f2e763,#f2ea69,#f1ec6d,#f1ef74,#f1f179,#f2f37f,#f2f483,#f3f587,#f3f68a,#f4f88e,#f5f992,#f6fa95,#f7fb98,#f8fb9a,#f9fc9d,#f9fd9e,#fafda1,#fafda1,#fbfea3,#fcffa4,#fcffa4,#fcffa4,#fcffa4,#fcffa4,#fcffa4,#fcffa4,#fcffa4,#fcffa4,#fbfea3,#fafda1,#fafd9f,#f9fc9d,#f7fb98,#f6fa95,#f5f88f,#f4f78b,#f2f484,#f2f27c,#f1ed71,#f2e966,#f3e35a,#f5d949,#f8cf3a,#fabe25,#fca50c,#f47918,#fa960c,#fbb71c,#f8cd36,#f5da4a,#f3e35b,#f2ea69,#f1f077,#f2f484,#f4f78d,#f6fa95,#f7fb99,#fafd9f,#fbfea3,#fcffa4,#fcffa4,#fcffa4,#fcffa4,#fbfea3,#fafda0,#f8fb9a,#f6f994,#f4f68a,#f2f27c,#f2eb6c,#f4e054,#f8d03b,#fba613,#f0781d,#fab920,#f6d745,#f2e661,#f2f077,#f3f689,#f6fa94,#f8fc9b,#fbfea2,#fcffa4,#fcffa4,#fcffa4,#fafda0,#f7fb98,#f4f78b,#f2ef76,#f3e259,#f9c32b,#f3831c,#fab922,#f4df53,#f2ee73,#f4f78d,#f8fb99,#fbfea3,#fcffa4,#fcffa4,#fafda1,#f6fa95,#f2f380,#f3e35c,#f9b826,#fa990d,#f5d94a,#f2ee72,#f5f890,#fafd9f,#fcffa4,#fcffa4,#f9fd9e,#f4f68a,#f2e968,#fab51e,#faac16,#f3e45f,#f3f585,#f9fc9c,#fcffa4,#fbfea2,#f7fa95,#f2f078,#f9bc25,#fab21a,#f3e96a,#f6f992,#fbfea3,#fbfea3,#f7fa95,#f2ea6b,#f9b41f,#f6d84a,#f3f484,#fbfda1,#fcffa4,#f7fa96,#f3e460,#f8af21,#f3e665,#f7fa96,#fcffa4,#f8fb9a,#f4e361,#fbb217,#f4ea6e,#fafd9e,#fbfea2,#f4f484,#f8bb2b,#f4e461,#f8fb98,#fbfea2,#f4f485,#f8ce39,#f4ec73,#f9fd9e,#f8fb99,#f5dc54,#f5e15a,#f8fb99,#f9fc9c,#f5df59,#f8ce46,#fafd9e,#f9f995,#f5ae33,#f4eb6e,#fbfea1,#f5ed77,#f5de55,#f9fc9d,#f7f486,#f6b334,#f7f890,#f7f992,#f8ce39,#fafa98,#f7f285,#f4e561,#fbfea3,#f7de62,#f7eb78,#faf591,#f6d143,#fbfea2,#f7dc53,#f8f58b,#fae062,#f6f281,#e0b787,#e7cd85,#f6f88f,#f7f281,#f9e46c,#f9f289,#f8df5e,#f6f78e,#f8d34c,#fbe473,#f9e97b,#fac646,#f8ed78,#f6f78c,#f6f280,#f9e265,#f7e263,#f6f992,#f2ed70,#f5f484,#f3ef83,#f3af63,#fccc4d,#e8d096,#dbb488,#f2f37f,#f8e569,#fbfea2,#fcfea4,#fafb9d,#f4b34b,#f8fb9a,#f6f598 250.5px);top:43px;height:3px"><i style="opacity:.625"></i></div>
<div class="r" style="--g:linear-gradient(90deg,#f9e78e .5px,#f6d644,#f7d33f,#f8cf3a,#f8cc35,#f9c62e,#fac228,#fbbb20,#fbb51a,#fcac11,#fca209,#fa9308,#f47c16,#df5735,#ec6826,#f8870e,#fb9c08,#fca90e,#fcb318,#fbbd23,#fac42b,#f9cb34,#f8cf39,#f6d543,#f5da4a,#f4dd4f,#f4e055,#f3e55e,#f2e763,#f2ea69,#f1ed70,#f1ee73,#f2f17b,#f2f37f,#f3f585,#f3f688,#f4f78c,#f5f88f,#f6f993,#f6fa96,#f7fb98,#f8fb9a,#f9fc9d,#f9fd9e,#fafda1,#fafda1,#fcffa4,#fcffa4,#fcffa4,#fcffa4,#fcffa4,#fcffa4,#fcffa4,#fcffa4,#fcffa4,#fcffa4,#fcfea4,#fafda1,#fafd9f,#f8fc9c,#f7fb99,#f6f993,#f5f88f,#f3f688,#f2f381,#f1f179,#f1ed70,#f2e865,#f3e257,#f6d948,#f8cd37,#fbbc22,#fa9c0e,#e2602e,#fa980e,#fbbd23,#f8cd37,#f5dc4e,#f3e55d,#f2ec6d,#f2f179,#f3f585,#f4f88e,#f6fa95,#f8fc9c,#fafd9f,#fbfea2,#fcffa4,#fcffa4,#fcffa4,#fcffa4,#fcfea4,#f9fd9e,#f8fc9b,#f5f992,#f3f688,#f2f17c,#f2e967,#f4df53,#f9c932,#faa313,#f9920d,#fabe25,#f6d848,#f2e762,#f2f077,#f4f78b,#f6fa95,#f9fd9e,#fcfea4,#fcffa4,#fcffa4,#fbfea3,#f9fc9d,#f7fa96,#f3f689,#f1ee74,#f5dd50,#fac129,#fa980a,#f9c42c,#f4e157,#f2f079,#f4f78c,#f8fc9c,#fbfea2,#fcffa4,#fcfea4,#fafd9f,#f5f992,#f2f17b,#f4df55,#fabb24,#f9a519,#f5db4d,#f2f078,#f6f993,#fbfea1,#fcffa4,#fcfea3,#f8fb9a,#f4f689,#f3e35b,#f8ae24,#f8bc2d,#f3e662,#f4f78c,#fafda0,#fcffa4,#fafda1,#f6fa94,#f2e968,#f8b52b,#f7c034,#f2ec70,#f7fa96,#fcfea4,#fbfea3,#f6f993,#f2ea6b,#fca90f,#f6d648,#f5f68b,#fbfea2,#fbfea3,#f5f891,#f4dd58,#fbb41a,#f3e868,#f9fc9d,#fcffa4,#f7f993,#f3e35e,#f9ba25,#f3f07a,#fafd9e,#fbfda1,#f3f483,#fbba20,#f4e463,#f9fc9c,#fbfea2,#f5eb71,#ef9736,#f4ed76,#fbfea3,#f7fb97,#f8c032,#f5d958,#f9fc9d,#f9fc9c,#f5c643,#f4df62,#fafd9f,#f6f78f,#f8c12c,#f6f083,#fbfea1,#f7e05e,#f6d74f,#fafd9f,#f6ee7a,#f8d343,#fafda0,#f6f588,#f6de58,#fafc9d,#f7e76a,#f6df5c,#f9fb9a,#f7d84c,#f7f283,#f6f382,#f8cc45,#f8fa95,#eb9e52,#f8fa95,#f6cb44,#f7f288,#f5e664,#f7f07f,#eda759,#f7f493,#f8d852,#f8f993,#f2f27e,#f7f78d,#f7ea6e,#f7e567,#f8f68f,#fbde62,#f5eb72,#f9db68,#f9da6c,#f7f891,#f2f27c,#f8fa97,#f4f68b,#f5f68b,#f8eb75,#fbe36e,#f6e972,#fad757,#fcffa4,#f5e362,#f6ee7a,#f6f588,#fbfea2,#f6f78d,#f6f383,#f7f9a5 250.5px);top:46px;height:4px"><i style="opacity:.303"></i></div>
<div class="r" style="--g:linear-gradient(90deg,#f9e990 .5px,#f5d949,#f6d745,#f7d340,#f8d03a,#f9ca33,#f9c72e,#fac127,#fbbc21,#fcb419,#fcab10,#fca008,#fa9009,#f47b17,#cb4447,#eb6826,#f98b0c,#fb9d07,#fcaa0f,#fbb61a,#fbbd23,#fac52c,#f9ca33,#f8d03b,#f6d643,#f5db4c,#f4de52,#f3e258,#f2e55f,#f2e865,#f2ea69,#f1ed6f,#f1f077,#f2f17b,#f2f381,#f2f484,#f3f688,#f4f78b,#f5f88f,#f5f992,#f6fa96,#f8fb9a,#f8fc9b,#f9fc9d,#fafda0,#fafda1,#fafda1,#fcfea4,#fcffa4,#fcffa4,#fcffa4,#fcffa4,#fcffa4,#fcffa4,#fcffa4,#fcffa4,#fcffa4,#fbfea2,#fafda1,#f9fc9d,#f9fc9c,#f7fa97,#f6f993,#f5f890,#f3f689,#f2f482,#f2f17a,#f1ed6f,#f2e762,#f4e156,#f6d746,#f8cc36,#fbb81e,#fa970c,#d35938,#fba30c,#fbbd23,#f7d13d,#f5dd4f,#f3e55e,#f1ec6d,#f2f27c,#f3f586,#f4f88e,#f6fa96,#f8fc9b,#fafda1,#fcfea4,#fcffa4,#fcffa4,#fcffa4,#fcffa4,#fbfea2,#fafd9f,#f8fb9a,#f5f991,#f3f689,#f1f078,#f2e967,#f5db4c,#f9c831,#f89814,#f1801a,#fac229,#f5db4d,#f2e864,#f2f27c,#f4f78c,#f7fa96,#f9fc9d,#fbfea3,#fcffa4,#fcffa4,#fcfea4,#f9fd9e,#f6fa95,#f3f586,#f2ec6e,#f4dd50,#fab823,#f48215,#f9c630,#f3e45d,#f2f079,#f5f992,#f8fc9b,#fcfea3,#fcffa4,#fcffa4,#f9fc9e,#f5f891,#f2f078,#f4df54,#faa318,#fbab16,#f4df54,#f2f17a,#f6fa94,#fbfea2,#fcffa4,#fcfea4,#f9fc9c,#f2f482,#f4e259,#faa813,#f9bc27,#f2e969,#f5f88e,#fafda0,#fcffa4,#fbfea2,#f5f88e,#f3e865,#fab019,#f8c22d,#f3ef76,#f8fb99,#fcfea4,#fbfea1,#f6f993,#f4e057,#fba913,#f5dc55,#f5f88f,#fbfea3,#fbfea3,#f5f78c,#f5d54a,#faaa1a,#f3f17b,#f9fc9d,#fcfea3,#f6f993,#f6d54b,#f9bf2a,#f4f07b,#fbfea2,#fafda1,#f3ea6d,#f8ac21,#f5ea71,#fafda0,#fafd9e,#f4e666,#f8b728,#f5f68a,#fcffa4,#f5f689,#f9c935,#f6e468,#fbfea1,#f7f890,#f9cb37,#f5e466,#fbfea3,#f5f78c,#ec9a45,#f6f68a,#f9fc9d,#f7d349,#f7e465,#fafda1,#f5eb74,#f6d853,#fbfea2,#f6da5b,#f6d954,#fafd9e,#f7d54e,#f7ea71,#f9fa97,#9f7475,#f9fd9e,#f7e971,#f6f282,#f9f893,#f3ea6b,#fafd9f,#f5e667,#f8fb9a,#f9c343,#fafd9f,#f4e35b,#f8f68c,#f7dc56,#f5f68a,#fae164,#f7f385,#f8f58b,#f6df5b,#fae76f,#f6f78d,#f6f07c,#f7eb72,#f3ef77,#f5f88f,#f8dd5c,#f4f07b,#f9e061,#f3f585,#f4f587,#f5ed75,#f6f68c,#f4df54,#f8f992,#f8cd3c,#f8c935,#f2ed71,#fafda1,#fabd4c,#f9fcad 250.5px);top:50px;height:3px"><i style="opacity:.981"></i></div>
<div class="r" style="--g:linear-gradient(90deg,#f8ea92 .5px,#f5dc4e,#f6d948,#f6d543,#f7d33f,#f8ce39,#f9cb34,#fac62d,#fac128,#fbbb20,#fcb419,#fcaa0f,#fb9f08,#fa9009,#f2741c,#d54a40,#ec6e22,#f98c0b,#fb9e08,#fcac10,#fbb51a,#fbbd23,#fac42b,#f8cc36,#f7d13c,#f6d745,#f5db4b,#f4de51,#f3e257,#f3e55e,#f2e864,#f2eb6b,#f1ed71,#f1ef76,#f2f27c,#f2f380,#f2f484,#f3f68a,#f4f78b,#f5f891,#f5f992,#f6fa96,#f7fb99,#f8fb9a,#f9fc9d,#fafd9f,#fafda1,#fbfea2,#fcffa4,#fcffa4,#fcffa4,#fcffa4,#fcffa4,#fcffa4,#fcffa4,#fcffa4,#fcffa4,#fcffa4,#fbfea3,#fafda1,#f9fd9e,#f8fc9b,#f7fb97,#f6fa94,#f4f88e,#f3f689,#f2f381,#f2f179,#f2eb6c,#f2e762,#f4e055,#f6d745,#f9ca33,#fbb71c,#f79211,#ec6c24,#fba30c,#fac228,#f7d13c,#f5dd4f,#f2e661,#f1ed70,#f2f27d,#f3f586,#f5f890,#f7fb97,#f9fc9d,#fafda0,#fbfea3,#fcffa4,#fcffa4,#fcffa4,#fcffa4,#fbfea2,#fafd9f,#f7fb99,#f5f991,#f3f587,#f2f179,#f2e762,#f5db4c,#f9c42c,#f99610,#f68e1a,#f9c62e,#f5da4b,#f2ea68,#f2f27d,#f4f88e,#f7fb98,#fafda0,#fcffa4,#fcffa4,#fcffa4,#fcfea4,#fafd9f,#f6fa94,#f3f483,#f2ec6d,#f5da4c,#fbb51c,#d16a3e,#f8cc36,#f3e45c,#f2f380,#f5f991,#f9fc9d,#fcfea3,#fcffa4,#fbfea3,#f8fc9b,#f4f78d,#f2f077,#f5d949,#f69c21,#f8b42a,#f4e158,#f2f27f,#f6fa95,#fbfea1,#fcffa4,#fcfea4,#f6fa96,#f2f381,#f5db4f,#f9a017,#f8c42f,#f2ed70,#f5f890,#fbfea2,#fcffa4,#fafd9f,#f5f78e,#f4e25b,#f9a61a,#f7cb39,#f2f17c,#f8fb9a,#fcffa4,#fbfea2,#f4f689,#f4df57,#fab31d,#f4e35c,#f6f991,#fcfea4,#fbfea1,#f4f587,#f6d94b,#f9c22c,#f3f07a,#fafd9f,#fcfea4,#f5f68a,#f7cb3c,#f9c330,#f4f689,#fbfea3,#f9fc9b,#f3e96c,#f8c933,#f3f07a,#fafda0,#f9fc9b,#efd269,#eda945,#f5f78b,#fbfea2,#f5f587,#f8be2e,#f3f079,#fbfea2,#f5f589,#f7c736,#f4f280,#fcffa4,#f5eb72,#f8c835,#f7f890,#f9fc9d,#f5dc52,#f6ef7c,#fafd9f,#f6d951,#f5e564,#fafd9e,#f5dd5e,#f8d65f,#fbfda1,#f3e663,#f8f58a,#faf28d,#f6c93d,#fbfea2,#f6df57,#f7f081,#f6ef7a,#f8df60,#f9f488,#f6e25e,#fbf795,#f6d34a,#f9fc9b,#f6e96e,#f9f58f,#f9e66f,#f9e66d,#f5f180,#f9c045,#f8f995,#f9e972,#f4eb71,#f4cf72,#f3ca77,#f5f992,#f6ec75,#f8f284,#f9e978,#fcda66,#f4f586,#f4f381,#fbef85,#fae773,#f2ee74,#f6f383,#f6f890,#f5ef7a,#f9a71e,#f8fa95,#f3ea6c,#f9fbac 250.5px);top:53px;height:3px"><i style="opacity:.659"></i></div>
<div class="r" style="--g:linear-gradient(90deg,#f8eb94 .5px,#f4de51,#f5da4b,#f6d948,#f6d643,#f7d23e,#f8cf39,#f9cb34,#fac62d,#fac127,#fbba1f,#fcb217,#fcaa0f,#fb9f08,#f98c0b,#f1741c,#b33e4f,#f0711f,#f98d0b,#fca008,#fcac11,#fbb71c,#fbbe24,#f9c62e,#f8cc35,#f7d13d,#f6d745,#f5da4b,#f4df52,#f3e258,#f2e660,#f2e863,#f2eb6b,#f1ed70,#f1ef75,#f2f27c,#f2f380,#f3f585,#f3f689,#f4f78d,#f5f890,#f6f994,#f6fa96,#f7fb99,#f9fc9c,#f9fc9d,#fafd9f,#fafda1,#fbfea1,#fcffa4,#fcffa4,#fcffa4,#fcffa4,#fcffa4,#fcffa4,#fcffa4,#fcffa4,#fcffa4,#fcffa4,#fbfea1,#fafda1,#f9fd9e,#f8fc9b,#f7fb98,#f5f992,#f4f88e,#f3f587,#f2f37f,#f1f078,#f1ec6d,#f2e660,#f4df52,#f6d644,#f9c831,#fbb71c,#f78d0f,#d95b34,#fbaa12,#fac128,#f7d23f,#f4de51,#f2e762,#f1ed71,#f2f27c,#f3f688,#f5f890,#f7fa97,#f9fc9c,#fafda0,#fbfea3,#fcffa4,#fcffa4,#fcffa4,#fcffa4,#fbfea3,#f9fd9e,#f8fb99,#f5f88f,#f3f586,#f1ee73,#f2e864,#f5d949,#fac42b,#e67d27,#f39417,#f9c52d,#f4de51,#f2eb6a,#f2f37f,#f4f78e,#f7fb98,#fafd9f,#fcffa4,#fcffa4,#fcffa4,#fbfea2,#f8fc9c,#f5f890,#f2f482,#f2ea6a,#f6d848,#f8a922,#f99810,#f8cb35,#f2e764,#f2f27e,#f6f992,#f9fc9d,#fbfea3,#fcffa4,#fcfea3,#f9fc9d,#f5f88f,#f2ed71,#f5d949,#fa9e10,#fab622,#f4e259,#f2f483,#f7fb98,#fcfea4,#fcffa4,#fbfea3,#f7fb97,#f2f079,#f5db4e,#faa516,#f7d03d,#f2ed71,#f6f994,#fbfea2,#fcffa4,#fafd9f,#f4f586,#f3e25a,#faaf19,#f6d545,#f3f27e,#f9fc9c,#fcffa4,#fafd9f,#f4f689,#f6d448,#fcad12,#f4e563,#f6fa94,#fbfea3,#fbfda1,#f4f78b,#f8bf2d,#f9c22d,#f4f280,#fbfea2,#fbfea1,#f4f689,#f6d244,#f7cc3d,#f4f68a,#fcfea4,#f8fc9a,#f5dd5a,#f9b521,#f4f381,#fbfea3,#f8fa98,#f5d94f,#f7b92e,#f8fa97,#fbfea3,#f5ee78,#fabf25,#f5f280,#fbfea2,#f7f184,#fac42c,#f4f586,#fafda0,#f5e86e,#f5da51,#f9fc9d,#f8f892,#f8c634,#f6f07d,#fafda0,#f5c542,#f6eb7d,#fafd9f,#f4af49,#f5f383,#f8f994,#f7bb35,#f7f68c,#f5f17e,#f8cb42,#f8fb98,#f8cf44,#f8f68c,#f7e163,#f6ec74,#f8e978,#f6da59,#f6f68c,#f8d955,#f8e571,#f6df65,#f9e468,#f6f68a,#f3f484,#f7f890,#f3e865,#fadf63,#f7f68e,#f7ee78,#f5f07c,#f2f380,#f6f382,#fcd051,#f9b752,#f9e86f,#fbe56e,#fbe772,#f6e361,#fcc64b,#fcffa4,#f3e865,#f9fb9b,#fafda0,#f4f78c,#f6d955,#f5ea72,#fbf8a3 250.5px);top:56px;height:3px"><i style="opacity:.337"></i></div>
<div class="r" style="--g:linear-gradient(90deg,#f8ec96 .5px,#f4e054,#f4de51,#f5db4c,#f6d948,#f6d543,#f7d23f,#f8cd37,#f9ca32,#fac52c,#fac026,#fbba1f,#fcb216,#fcaa0f,#fb9d07,#f98d0a,#ed6d22,#c94448,#f0731d,#fa9108,#fca109,#fcae12,#fbb71b,#fac026,#fac62d,#f8cd36,#f7d13d,#f6d644,#f5dc4d,#f4df53,#f3e259,#f2e660,#f2e967,#f2eb6a,#f1ed71,#f1ef75,#f2f17b,#f2f381,#f3f585,#f3f689,#f4f78c,#f5f890,#f6f993,#f7fa96,#f8fb9a,#f8fc9b,#f9fc9d,#f9fd9e,#fafda1,#fafda1,#fcffa4,#fcffa4,#fcffa4,#fcffa4,#fcffa4,#fcffa4,#fcffa4,#fcffa4,#fcffa4,#fcffa4,#fbfea1,#fafda0,#f9fc9d,#f8fc9c,#f7fa96,#f5f992,#f4f88e,#f3f688,#f2f380,#f1f078,#f2eb6b,#f2e661,#f4de52,#f7d441,#f9c931,#fbb318,#f9900c,#f47c17,#fca910,#fac32a,#f7d340,#f4de51,#f2e762,#f1ed70,#f2f27e,#f3f688,#f5f992,#f7fa96,#f9fc9c,#fafda1,#fcffa4,#fcffa4,#fcffa4,#fcffa4,#fcffa4,#fbfea1,#f9fc9e,#f7fa97,#f5f890,#f2f483,#f1ef75,#f2e661,#f5d949,#fac027,#f48616,#f59118,#f9ca33,#f4df52,#f2ec6d,#f2f380,#f5f88f,#f7fb98,#f9fd9e,#fcfea4,#fcffa4,#fcffa4,#fbfea3,#f9fc9d,#f6f992,#f2f382,#f2ea69,#f6d645,#f8a41c,#f78f15,#f7d23e,#f2e763,#f3f382,#f6fa94,#f9fd9e,#fcffa4,#fcffa4,#fcfea4,#f8fc9c,#f4f78c,#f2ee72,#f7d341,#f99b13,#f9ba25,#f3e660,#f3f381,#f8fb99,#fbfea3,#fcffa4,#fbfea3,#f7fa95,#f2f17c,#f6d748,#fb9c07,#f7cc3b,#f2ef77,#f6fa95,#fbfea3,#fcffa4,#f9fc9d,#f4f688,#f4de54,#fba40b,#f6d243,#f3f484,#f9fc9c,#fcffa4,#fafd9f,#f3f382,#f5d749,#f9b020,#f2ea6c,#f7fa95,#fcffa4,#fafda1,#f3f17c,#f6bd38,#f5c341,#f3f484,#fafda1,#fbfea2,#f5f486,#f9c22c,#f7cd3b,#f7f993,#fcfea4,#f7fa96,#f4e15c,#ed9b41,#f5f68a,#fbfea2,#f7fa95,#f5d94d,#f5de55,#f7fa96,#fafda0,#f3f079,#f8c633,#f6f68c,#fbfea1,#f4f07a,#fac027,#f8f790,#fbfea1,#f7df5c,#f6d045,#f9fc9c,#f6f68b,#ea9a4c,#f7f994,#fafd9e,#f8cf3e,#f6f180,#f8fa98,#f7c835,#f6f285,#f7f78e,#f8c537,#fafda0,#f6eb74,#f5f07b,#f9fb99,#f3e763,#fafda1,#f4ec71,#f9f68e,#f5f382,#f7f588,#f8ec78,#f7f489,#f6ee7a,#fbe874,#f7d451,#f7f083,#f8d753,#f8fa97,#f8f17f,#f4ea6d,#fae16b,#f9df6b,#f4f78d,#f7c567,#facc62,#fadd6d,#f5ea78,#f2ad64,#fcd859,#f4f68a,#f6f68b,#f3e662,#f9ee7c,#f4e564,#f7f080,#fcfda2,#f8bd29,#f7cc70,#fadc96 250.5px);top:59px;height:4px"><i style="opacity:.015"></i></div>
<div class="r" style="--g:linear-gradient(90deg,#f8ed99 .5px,#f3e258,#f4e055,#f4dd50,#f5db4d,#f6d847,#f6d543,#f7d13d,#f8ce38,#f9ca33,#fac52c,#fac026,#fbb91e,#fcb317,#fca80d,#fb9d07,#f88a0d,#ef6f20,#df5437,#f3771a,#f9900a,#fca209,#fcac11,#fbb81d,#fbbf25,#f9c72f,#f8cc36,#f7d13d,#f6d745,#f5db4c,#f4df52,#f3e258,#f2e55f,#f2e966,#f1ec6d,#f1ed71,#f1f077,#f2f17b,#f2f381,#f3f584,#f3f688,#f4f88e,#f5f991,#f6fa95,#f6fa96,#f8fb9a,#f8fc9b,#f9fc9d,#fafda0,#fafda1,#fbfea2,#fcffa4,#fcffa4,#fcffa4,#fcffa4,#fcffa4,#fcffa4,#fcffa4,#fcffa4,#fcffa4,#fcffa4,#fbfea2,#fafda1,#f9fc9d,#f8fb9a,#f7fa97,#f6f993,#f4f88e,#f3f586,#f2f381,#f1f077,#f1eb6c,#f2e660,#f4de52,#f6d543,#f9c62e,#fbb419,#f38017,#f1761c,#fbab13,#fac52c,#f7d441,#f4df53,#f2e763,#f1ee72,#f2f37f,#f4f68a,#f5f992,#f7fb98,#f9fc9d,#fafda1,#fcfea4,#fcffa4,#fcffa4,#fcffa4,#fcffa4,#fbfea2,#fafd9f,#f7fb98,#f5f88f,#f3f585,#f2ee74,#f3e55f,#f6d847,#fabe25,#fa940e,#fba210,#f9ca33,#f4e055,#f2eb6c,#f2f482,#f5f890,#f7fb98,#fbfea1,#fcffa4,#fcffa4,#fcffa4,#fbfea1,#f9fc9d,#f5f891,#f2f380,#f2e866,#f7d442,#fbaf19,#f99b16,#f7d13d,#f2e865,#f2f380,#f6fa95,#fafd9f,#fcfea4,#fcffa4,#fcfea4,#f8fb99,#f4f78b,#f2eb6c,#f6d544,#f6931d,#f9c52d,#f3e560,#f3f585,#f7fa97,#fbfea3,#fcffa4,#fafda1,#f6fa94,#f2f078,#f6d543,#faa615,#f6d443,#f2ee74,#f8fb99,#fbfea2,#fcfea4,#f9fd9e,#f3f585,#f5dc50,#faab1a,#f5db4e,#f3f381,#fafda0,#fcffa4,#f9fc9d,#f3f484,#f7cf3e,#f9af1c,#f3e969,#f8fb99,#fcffa4,#f9fc9c,#f3f27f,#f9bf2a,#f7cb38,#f4f688,#fcfea3,#fbfda1,#f3f27e,#f8bf2b,#f4df57,#f6f891,#fbfea3,#f7fb98,#f6d147,#f8ca37,#f5f588,#fcffa4,#f7fb97,#efab44,#f1c754,#f8fa97,#fbfea3,#f6e568,#f8c430,#f5f589,#fbfea2,#f4f07b,#f7cc3c,#f6f890,#f9fc9d,#f6dc55,#f8db56,#fbfea1,#f8f185,#f8c934,#f7fa96,#f7f890,#f7bb31,#f8f488,#f8fb99,#f5de54,#f8f995,#f7ec8a,#f3b847,#fbfea2,#f6dc56,#f7e872,#f6f48b,#f5ba3d,#f8fa97,#f8c83e,#f7f891,#f4b747,#f7f590,#f5e460,#f8f489,#fad352,#fafd9e,#f6eb72,#f9f68f,#f3e867,#fad054,#f8f58f,#f8ea72,#f5f382,#f4f17e,#fae367,#f7f17e,#f6ed75,#f5f992,#f7f281,#f5f485,#f8f385,#f7f07f,#f4e765,#f7f993,#f7db53,#f7d144,#f5f88f,#f3f17b,#f9f286,#fbf6a1 250.5px);top:63px;height:3px"><i style="opacity:.693"></i></div>
<div class="r" style="--g:linear-gradient(90deg,#f7ef9b .5px,#f3e45b,#f3e258,#f4df53,#f4dd50,#f5db4c,#f6d848,#f6d542,#f7d23d,#f8ce38,#f9ca33,#fac52c,#fbbf25,#fbba1f,#fcb216,#fca80d,#fb9b07,#f98c0b,#ed6d22,#c6424a,#f1751b,#fa9108,#fca008,#fcaf13,#fbb71c,#fabf25,#f9c62e,#f8cd36,#f7d23e,#f6d644,#f5db4c,#f4de52,#f3e45b,#f3e55f,#f2e865,#f1eb6c,#f1ee73,#f1f077,#f2f27d,#f2f380,#f2f484,#f3f68a,#f4f78d,#f5f991,#f6fa94,#f6fa96,#f8fb99,#f8fc9a,#f9fc9d,#fafd9f,#fafda1,#fbfea2,#fcffa4,#fcffa4,#fcffa4,#fcffa4,#fcffa4,#fcffa4,#fcffa4,#fcffa4,#fcffa4,#fcfea4,#fafda1,#fafd9f,#f9fc9d,#f8fc9a,#f7fb97,#f6f994,#f4f78d,#f3f586,#f2f37f,#f1f077,#f2eb6c,#f2e65f,#f4df52,#f7d340,#f9c830,#fcb015,#f58613,#f17b19,#fcad12,#fac52c,#f7d442,#f4df53,#f2e866,#f1ed70,#f2f37f,#f3f68a,#f5f891,#f7fb98,#f9fc9d,#fafda0,#fcfea3,#fcffa4,#fcffa4,#fcffa4,#fcfea4,#fafda1,#f9fc9d,#f7fb99,#f5f88f,#f3f484,#f1ef75,#f3e55e,#f6d644,#fabe26,#ea7223,#fba10e,#f8cd37,#f4df52,#f2ec6e,#f2f482,#f5f890,#f8fb9a,#fafda0,#fcffa4,#fcffa4,#fcffa4,#fbfea2,#f9fc9c,#f5f992,#f2f380,#f2e865,#f6d645,#faa113,#f99913,#f6d442,#f2e866,#f3f483,#f6fa95,#fafd9f,#fcffa4,#fcffa4,#fbfea3,#f8fc9b,#f4f689,#f2ec6f,#f7d340,#f9930d,#f8be2d,#f2e763,#f3f484,#f8fc9b,#fcfea4,#fcffa4,#fbfea1,#f6f993,#f2ef75,#f6d242,#f6921b,#f7d13e,#f2f27d,#f7fa97,#fbfea3,#fcfea4,#f8fc9b,#f3f482,#f5d94e,#f99c16,#f6d849,#f4f689,#f9fd9e,#fcffa4,#fafd9f,#f3f280,#f7cb38,#fab41e,#f2ed71,#f7fb98,#fcffa4,#fafd9e,#f3ef78,#f9bc26,#f7ce3f,#f5f78c,#fbfea2,#fbfda1,#f3f483,#fab620,#f5d64c,#f7f993,#fcffa4,#f7f993,#f6cf43,#f9c635,#f6f991,#fcffa4,#f5f78c,#f7c83c,#f5d053,#f9fd9e,#fafd9e,#f5e361,#f9c835,#f7f994,#fbfea3,#f5e160,#f8ce3d,#f7f993,#fafd9f,#f5cd48,#f5e064,#fafd9f,#f4f17f,#f7b52c,#fafb9a,#f8f892,#f5dd51,#f8fa97,#f8f488,#f8c436,#f7fa95,#f5f07a,#f8c93f,#f9fb9a,#f6de57,#f9f080,#f6f486,#fad14e,#f9fb99,#f8ca3f,#fafda1,#f4e056,#f9f68f,#f9cd46,#f7f891,#f3e259,#f8f588,#f5e869,#f8fa96,#f7f589,#f3ea6c,#f9e772,#f8e66f,#f5f382,#faea77,#f6eb73,#f5f17f,#f4ec71,#f2f381,#f4f587,#f9d550,#dd9174,#fcffa4,#fad351,#fafd9f,#f5e375,#f5b335,#fafda1,#f5f88e,#f9fcad 250.5px);top:66px;height:3px"><i style="opacity:.371"></i></div>
<div class="r" style="--g:linear-gradient(90deg,#f7f09d .5px,#f2e55f,#f3e45c,#f3e157,#f4e054,#f4de51,#f5db4c,#f6d847,#f6d543,#f7d23e,#f8ce39,#f9ca33,#fac52c,#fac026,#fbb91e,#fcb317,#fca80d,#fb9c07,#f98a0c,#ee6c23,#c64647,#f37819,#fa9009,#fca309,#fcae12,#fbb81c,#fbbf25,#f9c72f,#f8cd37,#f7d23e,#f6d745,#f5da4b,#f4e054,#f3e35b,#f2e661,#f2e865,#f2eb6b,#f1ee72,#f1ef76,#f2f27c,#f2f380,#f3f586,#f3f689,#f4f78d,#f5f890,#f6f994,#f6fa96,#f7fb99,#f9fc9c,#f9fc9d,#fafda1,#fafda1,#fbfea1,#fcffa4,#fcffa4,#fcffa4,#fcffa4,#fcffa4,#fcffa4,#fcffa4,#fcffa4,#fcffa4,#fcffa4,#fafda1,#fafda0,#f9fc9d,#f8fc9b,#f7fb98,#f5f992,#f4f88e,#f3f586,#f2f37f,#f1ef76,#f2eb6b,#f2e660,#f4de52,#f7d441,#fac52c,#fbb318,#f58416,#ec7120,#fbac12,#f9c62d,#f7d441,#f4e055,#f2e864,#f1ee73,#f2f27e,#f3f689,#f5f890,#f8fb99,#f9fc9d,#fbfea1,#fcffa4,#fcffa4,#fcffa4,#fcffa4,#fcffa4,#fafda1,#f9fc9c,#f7fb99,#f5f890,#f2f483,#f2ee73,#f3e55e,#f6d746,#fbbd23,#eb7620,#f8a419,#f9cb34,#f4df53,#f1ec6f,#f2f482,#f5f991,#f8fb99,#fafda1,#fcffa4,#fcffa4,#fcffa4,#fbfea2,#f8fc9b,#f5f992,#f2f27e,#f2e968,#f7d441,#faa616,#fba913,#f7d23f,#f2e866,#f2f483,#f6fa95,#fafda1,#fcffa4,#fcffa4,#fbfea3,#f8fb99,#f4f78b,#f2eb6d,#f7d13d,#fba70e,#f9c630,#f3e560,#f3f688,#f8fb9a,#fbfea3,#fcffa4,#fafda1,#f6f993,#f2ef76,#f7d13e,#f89315,#f5da4c,#f2f07a,#f7fb97,#fbfea3,#fcffa4,#f8fc9b,#f3f483,#f5d84a,#fa9d10,#f4e159,#f4f588,#fafd9f,#fcffa4,#f9fc9d,#f3f27e,#e8b752,#e69b3e,#f2ec6f,#f9fc9c,#fcfea4,#f9fc9d,#f3f17b,#f5ae31,#f5d34b,#f4f588,#fbfea3,#fafda1,#f3ef77,#fabe27,#f5d751,#f7fa95,#fcffa4,#f6f890,#f5d74e,#f7ca3c,#f5f88f,#fbfea2,#f6f890,#f8bc30,#f4e15a,#f9fc9b,#f9fc9d,#f3dc67,#f4b83f,#f7fa95,#fafd9f,#f5e364,#f6d74c,#f9fc9c,#f8fb98,#f7d142,#f6de5c,#fbfea3,#f5f17e,#f6dd55,#f9fc9b,#f6f283,#f8c834,#f8f995,#f7f284,#f8d141,#fafda0,#f6ed77,#f4ee76,#fafd9e,#f8d54f,#f7fa96,#f6cc70,#f4d86f,#faf293,#f4bd4a,#fafd9f,#f9d24f,#f9fb99,#f2ee73,#fafd9e,#fac648,#f9ee82,#f7dd60,#eca965,#f7f194,#f8e86e,#f6f486,#f7ed79,#e1946d,#f5f991,#f6f58a,#f8f284,#f5f588,#f9e76d,#f6f891,#f6f486,#f4e96b,#f9d260,#f9eb83,#f9fc9c,#f4e564,#fbfea1,#f6ec73,#f9fcae 250.5px);top:69px;height:4px"><i style="opacity:.049"></i></div>
<div class="r" style="--g:linear-gradient(90deg,#f7f1a0 .5px,#f2e763,#f2e660,#f3e45c,#f3e157,#f4e054,#f4de51,#f5db4c,#f6d847,#f6d644,#f7d23e,#f8ce38,#f9c932,#fac62d,#fac026,#fbba1f,#fcb116,#fca90e,#fb9c07,#f88a0c,#ec6b24,#d54b40,#f1741c,#fa9307,#fca109,#fcae13,#fbb71c,#fbbf25,#f9c72f,#f8cc36,#f7d33f,#f6d745,#f5dc4e,#f4df53,#f3e35a,#f2e660,#f2e967,#f1ec6d,#f1ed71,#f1f078,#f2f17c,#f2f482,#f3f585,#f3f689,#f4f78c,#f5f890,#f6f993,#f7fa97,#f8fb9a,#f8fc9c,#f9fc9d,#fafda0,#fafda1,#fbfea1,#fcffa4,#fcffa4,#fcffa4,#fcffa4,#fcffa4,#fcffa4,#fcffa4,#fcffa4,#fcffa4,#fcffa4,#fbfea1,#fafda0,#f9fc9d,#f8fc9b,#f6fa96,#f5f993,#f4f88f,#f3f688,#f2f380,#f1ef75,#f1ec6c,#f2e660,#f4df53,#f7d441,#f9c72f,#fbb016,#f78810,#ea6f24,#fcad13,#fac42b,#f6d542,#f4e054,#f2e966,#f1ee71,#f2f37f,#f3f688,#f6f993,#f7fb99,#f9fc9d,#fafda1,#fcffa4,#fcffa4,#fcffa4,#fcffa4,#fcffa4,#fbfea1,#f9fc9d,#f7fa97,#f5f890,#f2f483,#f1ee73,#f2e660,#f6d645,#fabf26,#f68316,#f99f15,#f8cb35,#f4df53,#f2ec6e,#f2f482,#f5f890,#f8fc9c,#fafda1,#fcfea4,#fcffa4,#fcffa4,#fbfea3,#f8fc9b,#f5f991,#f2f380,#f2e864,#f6d644,#e28a2b,#e28728,#f7d23f,#f2ea68,#f3f381,#f6fa95,#fafda0,#fcffa4,#fcffa4,#fafda1,#f8fb9a,#f3f689,#f2eb6c,#f7d03e,#f38720,#fac028,#f2e967,#f3f585,#f8fc9b,#fcfea3,#fcffa4,#fbfea2,#f6f992,#f2ef75,#f6d647,#f99511,#f6d443,#f3f17c,#f7fa96,#fbfea3,#fcffa4,#f9fc9c,#f3f380,#f4de53,#f89719,#f5dc50,#f4f588,#f9fd9e,#fcffa4,#f9fc9d,#f4f27f,#eebf41,#d18046,#f2ef77,#f8fb99,#fcfea3,#fafda0,#f4ef77,#f8b226,#f6c842,#f5f88e,#fbfea3,#f9fd9e,#f3f17c,#f3a134,#f4df56,#f7fa96,#fcfea4,#f7f891,#f7d140,#f8c634,#f7f993,#fbfea3,#f5f689,#f7b42c,#f6e15f,#fafd9f,#f9fc9c,#f5df58,#f7b930,#f9fa98,#fbfea1,#f7df5d,#f6c83b,#f8fb9a,#f8fa97,#f6db52,#f4ee76,#fcffa4,#f6e162,#f7d649,#f9fb9a,#f5f587,#f6bb3c,#f9fc9c,#f6e987,#f0b34e,#fafda0,#f5d158,#f5d762,#f8fa97,#f6d644,#f8f892,#f6e365,#f7df63,#f6f689,#f9d24c,#f8f58a,#f5e35c,#f5f692,#c78776,#faeb7b,#f5e96f,#f6f88e,#f7f891,#f3e969,#f9ec78,#f6ea73,#f9e970,#f7f78d,#f2f077,#f4ee76,#fcd253,#fcd55c,#fce069,#f7ea75,#f4f484,#f6da53,#f7f893,#f8ce3e,#f9e774,#f9fd9e,#f3f483,#fac646,#f8fba9 250.5px);top:73px;height:3px"><i style="opacity:.727"></i></div>
<div class="r" style="--g:linear-gradient(90deg,#f7f2a2 .5px,#f2e865,#f2e863,#f3e55e,#f3e45d,#f3e258,#f4e055,#f4dd50,#f5db4c,#f6d847,#f6d543,#f7d23e,#f8cd37,#f9ca32,#fac42c,#fac026,#fbb91e,#fcb217,#fca80d,#fb9c07,#f98b0c,#ed6c23,#d24843,#f47918,#fa9009,#fca209,#fcad11,#fbb71c,#fbbf25,#f9c62e,#f8cd36,#f7d23e,#f6d746,#f5dc4d,#f4df53,#f3e259,#f2e55f,#f2e966,#f1ec6d,#f1ee71,#f1f077,#f2f17b,#f2f381,#f3f585,#f3f688,#f4f78c,#f5f992,#f6f993,#f7fa96,#f8fb9a,#f8fc9b,#f9fc9d,#fafda0,#fafda1,#fbfea3,#fcffa4,#fcffa4,#fcffa4,#fcffa4,#fcffa4,#fcffa4,#fcffa4,#fcffa4,#fcffa4,#fcffa4,#fbfea2,#fafda1,#f9fc9d,#f8fb9a,#f7fa96,#f6f993,#f4f88e,#f3f688,#f2f381,#f1f076,#f2eb6c,#f2e661,#f4de51,#f6d543,#f9c72f,#fcb317,#f28218,#f27a1a,#fbaa11,#fac52d,#f7d441,#f4e055,#f2e865,#f1ee73,#f2f37f,#f4f78b,#f5f992,#f7fb99,#f9fc9d,#fafda1,#fcfea4,#fcffa4,#fcffa4,#fcffa4,#fcffa4,#fbfea2,#f9fd9e,#f7fb98,#f5f88f,#f3f484,#f2ef75,#f3e55e,#f6d948,#fbbb22,#f78b12,#f79b1b,#f8cc35,#f4df53,#f2ec6e,#f2f380,#f5f890,#f8fc9b,#fbfea2,#fcffa4,#fcffa4,#fcffa4,#fbfea3,#f9fc9c,#f5f992,#f2f37f,#f2e967,#f7d340,#f4a11e,#e8872e,#f7d441,#f2e865,#f2f381,#f6f993,#fafd9f,#fcffa4,#fcffa4,#fcfea4,#f8fc9b,#f3f688,#f2eb6d,#f7d13e,#f58e1f,#f9c831,#f2e762,#f3f587,#f8fb9a,#fbfea3,#fcffa4,#fbfea1,#f6f992,#f2f17b,#f7d13e,#f99812,#f6d344,#f2f077,#f7fa96,#fcfea4,#fcfea4,#f8fc9b,#f3f688,#f6d746,#f89a19,#f5db51,#f3f587,#fafd9f,#fcffa4,#f9fc9d,#f3f17d,#f6d443,#f9bd27,#f3ec70,#f8fb99,#fcffa4,#f9fc9e,#f3ef77,#f8c934,#f6d649,#f4f68a,#fcfea4,#fafda0,#f4ee77,#f39d2e,#f5de56,#f8fb97,#fbfea3,#f5f88f,#f6d547,#f5db50,#f6f890,#fbfea3,#f6f890,#f7cc3a,#f4e363,#f9fc9c,#f9fc9d,#f4e460,#f6dc52,#f7fa96,#f9fc9d,#f5e35f,#f8cc42,#fafc9d,#f9fa97,#b17566,#f4ee75,#fafda0,#f5e66c,#f6d752,#fbfda1,#f8eb76,#f7d84d,#f9fc9b,#f5ef78,#f7c73d,#f9fc9c,#f5e363,#f9e067,#f8fb9a,#f7da54,#f9fc9c,#f5ec72,#f7f78e,#f7f281,#f5f381,#f9f38b,#f8e268,#f7f78d,#f9e05f,#f7e677,#f8d560,#f8c84a,#f9f693,#f9e569,#f7f489,#fbe36d,#f6e15f,#f7f891,#f9eb7e,#fad461,#f1ab66,#f5ee76,#fbc94a,#fcca4c,#fbfea3,#fcd152,#f3f381,#f7d74f,#f9fb9b,#fab01d,#f5e872,#f6f69d 250.5px);top:76px;height:3px"><i style="opacity:.405"></i></div>
<div class="r" style="--g:linear-gradient(90deg,#f7f3a4 .5px,#f2ea69,#f2e865,#f2e762,#f2e661,#f3e45b,#f3e258,#f4df53,#f4de50,#f5dc4d,#f6d847,#f7d542,#f7d13d,#f8ce38,#f9ca33,#f9c62e,#fac026,#fbba20,#fcb217,#fca90d,#fb9d07,#f98b0b,#f0731e,#cf4645,#f1731d,#fa9109,#fca108,#fcad11,#fbb71c,#fbbf25,#f9c72e,#f8cc35,#f7d23e,#f6d643,#f5db4b,#f4de52,#f3e258,#f3e55f,#f2e865,#f1eb6c,#f1ed71,#f1f077,#f2f17a,#f2f380,#f2f484,#f3f688,#f4f88e,#f5f88f,#f6fa94,#f6fa96,#f8fb99,#f8fc9b,#f9fc9d,#fafd9f,#fafda1,#fbfea2,#fcffa4,#fcffa4,#fcffa4,#fcffa4,#fcffa4,#fcffa4,#fcffa4,#fcffa4,#fcffa4,#fcfea4,#fafda1,#fafda1,#f9fc9e,#f8fb9a,#f7fa97,#f6f994,#f4f78c,#f3f586,#f2f381,#f1f076,#f1ec6d,#f2e55f,#f4df53,#f6d543,#f9c72f,#fbb319,#f68712,#f0731f,#fcab11,#fac229,#f7d441,#f4de52,#f2e661,#f1ed71,#f2f27e,#f3f689,#f5f991,#f7fb98,#f9fc9d,#fafda0,#fcfea4,#fcffa4,#fcffa4,#fcffa4,#fcffa4,#fbfea2,#fafd9f,#f7fb98,#f5f890,#f3f585,#f1ef74,#f2e761,#f6d746,#fac128,#f18020,#fb9f0f,#f9c932,#f4df53,#f2eb6b,#f2f482,#f5f890,#f8fb9a,#fafda1,#fcffa4,#fcffa4,#fcffa4,#fbfea2,#f9fd9e,#f5f992,#f2f381,#f2e866,#f6d645,#faa717,#f89617,#f7d03d,#f2e865,#f2f27e,#f6fa96,#fafd9e,#fcfea4,#fcffa4,#fbfea2,#f8fb9a,#f4f68a,#f2ec6e,#f6d747,#f88f12,#f9be2a,#f3e662,#f3f585,#f7fb98,#fbfea2,#fcffa4,#fbfea1,#f7fa96,#f2ee74,#f6d646,#f49226,#f7d241,#f2f078,#f7fb98,#fbfea3,#fcfea4,#fafd9f,#f2f381,#f5dd52,#f8a320,#f5da4c,#f3f585,#fafd9f,#fcffa4,#fafd9e,#f3f587,#f8c833,#fab41c,#f3ec71,#f8fb99,#fcffa4,#f9fc9d,#f4ef7a,#f9b721,#f7ce3b,#f6f88f,#fcfea3,#f9fd9e,#f3f381,#f9c12b,#f4de58,#f6f992,#fcfea4,#f7fa96,#f6bd3b,#f6c840,#f7f891,#fcffa4,#f6f68b,#f9c631,#f6db55,#fafda0,#fafd9f,#f6d249,#f7cf40,#f8fa95,#fafda1,#f6cf50,#f6d54e,#f8fb99,#f8fa97,#f1ad42,#f4e680,#fbfea2,#f7e363,#f6d54c,#f9fc9c,#f6ea73,#f8d546,#fbfea1,#f5ef7a,#f4ea6d,#fafd9f,#f9c143,#f5f484,#f9f58a,#f7d74c,#f8fb98,#f6bf3b,#f7f58d,#f6df61,#f8e26c,#f7ec75,#f7ec74,#fada70,#f8e074,#f5f383,#f8fa97,#f3e867,#f9ef7e,#f4ec71,#fccf51,#f8fb99,#f9e162,#e79969,#f6f78d,#f6f68a,#f4f78c,#f8f68e,#f8f07f,#f6eb73,#f4ef79,#fbfa98,#f6ec76,#f6dc5a,#f3e259,#f6f891,#f6ef8a 250.5px);top:79px;height:4px"><i style="opacity:.083"></i></div>
<div class="r" style="--g:linear-gradient(90deg,#f7f3a4 .5px,#f1ec6d,#f2ea69,#f2e966,#f2e762,#f2e55f,#f3e45c,#f3e259,#f4e056,#f4de51,#f5db4c,#f6d948,#f6d543,#f7d23e,#f8ce39,#f9cb34,#fac62d,#fac127,#fbba1f,#fcb217,#fcaa0f,#fb9e07,#f98f09,#f0711e,#d44941,#ef711f,#f98e0a,#fb9f08,#fcad11,#fbb71c,#fbbf25,#fac52c,#f8cc36,#f7d23d,#f6d745,#f5db4b,#f4df53,#f3e257,#f3e55e,#f2e864,#f2eb6b,#f1ed71,#f1ef76,#f2f27c,#f2f380,#f2f484,#f3f68a,#f4f78d,#f5f891,#f5f992,#f6fa96,#f7fb99,#f9fc9c,#f9fc9d,#fafd9f,#fafda1,#fbfea2,#fcffa4,#fcffa4,#fcffa4,#fcffa4,#fcffa4,#fcffa4,#fcffa4,#fcffa4,#fcffa4,#fcffa4,#fafda1,#fafda1,#f9fd9e,#f8fc9b,#f7fb97,#f6fa94,#f4f78d,#f3f688,#f2f37f,#f1f077,#f1eb6c,#f2e661,#f4df52,#f6d644,#f9c931,#fbb419,#ec8a17,#cd5c35,#fca70d,#fac32a,#f7d33f,#f4de52,#f2e661,#f1ee73,#f2f27e,#f3f688,#f5f890,#f7fb97,#f9fc9d,#fafda1,#fcffa4,#fcffa4,#fcffa4,#fcffa4,#fcffa4,#fbfea3,#fafd9f,#f8fb99,#f5f992,#f3f585,#f1ef75,#f3e55f,#f5d94a,#fac22a,#f68915,#f99715,#f9c932,#f4dd50,#f2eb6c,#f2f27f,#f5f88f,#f8fb99,#fafda0,#fcffa4,#fcffa4,#fcffa4,#fbfea2,#f8fc9b,#f6f993,#f2f380,#f2ea6a,#f6d848,#fbad16,#f58e1e,#f7d03b,#f3e560,#f2f380,#f6f993,#f9fc9d,#fcfea3,#fcffa4,#fbfea3,#f8fc9b,#f4f78b,#f2ed72,#f6d442,#f5931c,#f5b634,#f3e55e,#f3f482,#f7fb99,#fbfea1,#fcffa4,#fbfea2,#f6fa94,#f2f17c,#f6d444,#e37734,#f7cf3c,#f2f078,#f6f994,#fcfea3,#fcffa4,#f9fd9e,#f3f587,#f5da4f,#f48f21,#f6d748,#f3f585,#f9fc9d,#fcffa4,#fafda1,#f3f380,#f6d343,#fac22a,#f2ea6c,#f8fb99,#fcfea4,#fafd9e,#f3f07a,#f9c12b,#f6d84a,#f4f588,#fbfea1,#fbfea2,#f4f17c,#fabc25,#f6d348,#f7fa96,#fcffa4,#f6f890,#f5cf47,#f5c942,#f5f891,#fbfea3,#f5f68a,#f6d545,#f4e563,#fafd9f,#f8fc9b,#f5de5b,#f6d247,#f8fb98,#f9fc9d,#f5d653,#f7cb3f,#fafd9e,#f9fb9a,#f9cc39,#f5ec75,#fafd9f,#f5e666,#f8d54e,#fafda0,#f6ed7e,#f6ca43,#fafda0,#f6d85e,#f5d555,#fafd9e,#db9a64,#f1e482,#f7f488,#f7d94c,#fbfea3,#f6d94f,#fbf38c,#f6ea6e,#faea76,#f8e46a,#f6ee78,#f5eb71,#f8ec78,#f7d750,#f9f895,#f9e164,#f7ec8b,#f8c366,#f2eb6b,#faea78,#faec7b,#f1ef75,#f1f179,#f8e974,#f4ec74,#f4f68a,#f5b943,#f8f186,#f3f381,#f8fa95,#f6b936,#f7fb97,#f8f78f,#f8df6b 250.5px);top:83px;height:3px"><i style="opacity:.761"></i></div>
<div class="r" style="--g:linear-gradient(90deg,#f7f4a7 .5px,#f1ed6f,#f2eb6b,#f2ea69,#f2e966,#f2e763,#f2e65f,#f3e45c,#f3e259,#f4e054,#f4de51,#f5dc4e,#f5d949,#f6d644,#f7d23e,#f8cf39,#f9cb34,#f9c62e,#fac128,#fbbb20,#fcb418,#fcaa0f,#fca008,#f98e09,#f3771a,#b83f4d,#ee6c22,#f98c0b,#fc9f08,#fcab10,#fbb61a,#fbbe24,#fac52d,#f8cc35,#f7d13c,#f6d644,#f5da4a,#f4de50,#f3e157,#f2e660,#f2e763,#f2eb6b,#f1ed70,#f1ef75,#f2f27c,#f2f37f,#f3f585,#f3f689,#f4f78d,#f5f890,#f6f993,#f6fa96,#f7fb99,#f8fb9a,#f9fc9d,#fafd9f,#fafda1,#fbfea1,#fcffa4,#fcffa4,#fcffa4,#fcffa4,#fcffa4,#fcffa4,#fcffa4,#fcffa4,#fcffa4,#fcffa4,#fbfea1,#fafda1,#f9fd9e,#f8fc9b,#f7fb98,#f6fa95,#f4f88e,#f3f587,#f2f380,#f1f078,#f1ec6e,#f2e763,#f4e156,#f6d644,#f9ca33,#fbb81e,#f9940b,#e5612c,#fba712,#fac027,#f7d13d,#f4dd4f,#f2e763,#f1ed70,#f2f17c,#f3f688,#f5f890,#f7fa96,#f9fc9d,#fafda1,#fbfea3,#fcffa4,#fcffa4,#fcffa4,#fcffa4,#fbfea3,#f9fd9e,#f8fb99,#f5f88f,#f3f586,#f2ef76,#f2e864,#f5db4c,#f9c52d,#dc7b2e,#ec8b1b,#fac42b,#f4dd50,#f2e966,#f2f27e,#f4f78c,#f7fa97,#fafd9f,#fcfea4,#fcffa4,#fcffa4,#fbfea3,#f8fc9c,#f5f992,#f3f484,#f2eb6d,#f5da4a,#f9ae23,#f9950f,#f9c933,#f2e661,#f2f27d,#f5f992,#f9fc9d,#fbfea3,#fcffa4,#fcfea3,#f9fc9d,#f5f890,#f2ed71,#f5da4b,#faa111,#fab420,#f4e159,#f2f482,#f7fa97,#fcfea3,#fcffa4,#fbfea3,#f7fb98,#f2f17b,#f5dc50,#faa715,#f7ce3b,#f2ec70,#f6f993,#fbfea1,#fcffa4,#fafd9f,#f4f587,#f4e25a,#fbb219,#f6d646,#f3f27d,#f9fc9e,#fcffa4,#f9fd9e,#f4f688,#f6cf44,#faaa17,#f3e968,#f7fb98,#fcfea4,#fafd9f,#f3f585,#f0a439,#f4be3f,#f5f486,#fbfea1,#fafda0,#f3f280,#f8cf3c,#f5db51,#f6f993,#fcfea4,#f7fa96,#f7d349,#f7be30,#f6f78e,#fcfea4,#f7f890,#f8bc2a,#f5de56,#fafd9e,#fafd9e,#f6dd5b,#f6bb35,#f7fa95,#fafda0,#f4e567,#f6d146,#f9fc9c,#f7f993,#f8d040,#f8e972,#fbfea3,#f6d25b,#f5d958,#fafd9e,#f5ed75,#f7c439,#fafc9d,#f5e071,#f5c75c,#fbfea3,#f3e866,#f7f489,#f8f18d,#f5c04a,#fafda0,#f8c03e,#f8fa97,#eea25f,#f7f993,#f6ee79,#f9f489,#f7ea70,#f9fc9b,#f3e661,#f8f282,#f3ea6c,#fcd052,#f8fa97,#fccc4d,#f5ee76,#f7f993,#f6f68a,#fabd4e,#f8eb73,#fbd95a,#fafd9f,#f7ed76,#f2a53b,#eec87f,#f6f78c,#fcffa4,#fbe171,#fcb038 250.5px);top:86px;height:3px"><i style="opacity:.439"></i></div>
<div class="r" style="--g:linear-gradient(90deg,#f7f5a9 .5px,#f1ed71,#f1ed6f,#f1ec6d,#f2eb6a,#f2e967,#f2e763,#f2e660,#f3e45d,#f3e359,#f4e054,#f4de51,#f5db4d,#f5da4a,#f6d644,#f7d33f,#f8cf3a,#f8cc35,#f9c72f,#fac228,#fbbc21,#fcb419,#fcac11,#fca008,#fa9308,#f2771a,#d34b40,#ea6728,#f98b0b,#fb9d07,#fcab0f,#fcb418,#fbbe23,#fac52c,#f9cb34,#f8d03b,#f6d543,#f5da4a,#f4de51,#f3e259,#f3e45c,#f2e865,#f2ea6a,#f1ed71,#f1ef75,#f2f17b,#f2f37f,#f2f483,#f3f688,#f4f78c,#f5f890,#f6f993,#f6fa96,#f7fb98,#f8fc9b,#f9fc9d,#f9fd9e,#fafda1,#fafda1,#fcffa4,#fcffa4,#fcffa4,#fcffa4,#fcffa4,#fcffa4,#fcffa4,#fcffa4,#fcffa4,#fcffa4,#fbfea2,#fafda0,#f9fc9d,#f8fc9c,#f7fb98,#f6fa95,#f5f88f,#f3f688,#f2f380,#f1f179,#f1ed6f,#f2e865,#f4e156,#f6d847,#f8cc36,#fbba1f,#fb9c0a,#db5e32,#fb9e0c,#fabe24,#f8cf3a,#f4de51,#f3e55e,#f2ec6e,#f2f17b,#f3f585,#f4f88f,#f6fa95,#f8fc9c,#fafd9f,#fcfea4,#fcffa4,#fcffa4,#fcffa4,#fcffa4,#fcfea3,#fafda0,#f8fb99,#f6fa94,#f3f688,#f2f179,#f2e966,#f4dd4f,#f9c831,#f79515,#f48517,#fac42b,#f5d94a,#f2e966,#f2f17c,#f4f78b,#f7fb98,#f9fd9e,#fcfea4,#fcffa4,#fcffa4,#fbfea3,#f9fc9d,#f6fa96,#f3f586,#f2ec6e,#f5dc4e,#fab720,#f88a11,#f8cb34,#f3e45c,#f2f27d,#f5f890,#f9fd9e,#fcffa4,#fcffa4,#fcfea4,#f9fd9e,#f4f88e,#f2f078,#f5da4c,#faab17,#f7a625,#f4e157,#f2f17c,#f7fa97,#fafda0,#fcffa4,#fcfea3,#f7fa97,#f3f382,#f5dd52,#f89c18,#f7be33,#f2ed70,#f5f891,#fbfea2,#fcffa4,#f9fd9e,#f4f78d,#f4e35e,#fba714,#f7c83a,#f3f27f,#f8fb9a,#fcffa4,#fbfea2,#f4f688,#f4de54,#fab61d,#f3e664,#f6f890,#fbfea3,#fbfea3,#f3f280,#f6c63b,#f6c439,#f3f381,#fafda0,#fbfea2,#f5f587,#f9c22d,#f7cf3e,#f7f994,#fcfea4,#f7fa95,#f5df56,#f2a53c,#f6f78d,#fbfea2,#f6f890,#f7cc3c,#f4e360,#f8fb9a,#fafd9e,#f4e768,#f0a345,#f8fa96,#fbfda0,#f5e360,#f7c033,#f9fb99,#f8fb99,#bb7d6f,#f4ef77,#fafd9f,#f5dc5f,#f7ce45,#fbfea3,#f5f07d,#f5e562,#fafd9e,#f8e566,#f6e160,#f9fc9b,#f7d74c,#f7f282,#f6f486,#f8c840,#f8fa95,#e3955a,#f8fa95,#f6d249,#f7f187,#f6e360,#f8f588,#f5dd55,#f9f997,#fadc5c,#f9f38d,#fcdb63,#f6e466,#fbe772,#f7ec79,#fabf49,#f5b964,#f6eb85,#f9ef80,#fae872,#f7ee78,#f2f17c,#f6f994,#f8db58,#fbfea1,#f7fb97,#f4e96e,#fbc54a 250.5px);top:89px;height:4px"><i style="opacity:.117"></i></div>
<div class="r" style="--g:linear-gradient(90deg,#f7f5aa .5px,#f1ef75,#f1ed71,#f1ed70,#f1eb6c,#f2ea69,#f2e967,#f2e864,#f2e660,#f3e45d,#f3e35a,#f4e055,#f4de52,#f5dd4f,#f5d949,#f6d745,#f7d33f,#f8d03b,#f8cc36,#f9c72e,#fac329,#fbbc21,#fbb61b,#fcac11,#fca309,#fa9208,#f57f14,#b1414b,#e96529,#f7860f,#fb9b07,#fca70d,#fcb418,#fbbc22,#fac42a,#f9ca33,#f8cf3a,#f7d542,#f5d949,#f5dd4f,#f4e055,#f2e55f,#f2e762,#f2ea69,#f1ed6f,#f1ee73,#f2f17a,#f2f27e,#f3f484,#f3f688,#f4f78c,#f5f88f,#f5f992,#f6fa96,#f7fb98,#f8fb9a,#f9fc9c,#f9fc9e,#fafda1,#fafda1,#fcfea4,#fcffa4,#fcffa4,#fcffa4,#fcffa4,#fcffa4,#fcffa4,#fcffa4,#fcffa4,#fcffa4,#fbfea2,#fafda1,#fafd9f,#f9fc9c,#f7fb99,#f6f993,#f5f890,#f3f689,#f2f481,#f2f17a,#f1ed71,#f2e864,#f3e258,#f5da4a,#f8ce38,#fbbd23,#fb9d0c,#e3612d,#f99810,#fbbc21,#f8d03b,#f5db4d,#f3e55e,#f1ec6d,#f2f078,#f3f586,#f4f78d,#f6fa94,#f8fc9b,#fafda1,#fbfea2,#fcffa4,#fcffa4,#fcffa4,#fcffa4,#fcfea4,#fafd9f,#f8fc9c,#f5f991,#f3f689,#f2f17b,#f2ea69,#f4df53,#f9ca33,#ee9f1f,#cb6532,#fbbd23,#f5d949,#f2e763,#f2f079,#f3f68a,#f6fa94,#f9fc9d,#fcfea3,#fcffa4,#fcffa4,#fcfea3,#f9fd9e,#f6fa95,#f3f688,#f2ee73,#f4df53,#f9c22e,#f8880e,#fac129,#f3e159,#f2f077,#f4f78d,#f8fc9b,#fbfea2,#fcffa4,#fcffa4,#fafd9f,#f6f993,#f2f07a,#f4e157,#f9ac1e,#faa815,#f5db4e,#f2f17b,#f5f991,#fbfea3,#fcffa4,#fcfea4,#f8fc9b,#f3f483,#f4e158,#fab71f,#f9be29,#f2e865,#f6f993,#fbfea1,#fcffa4,#fbfea2,#f5f890,#f3e663,#fabf27,#f8c935,#f2ee74,#f9fc9c,#fcfea4,#fafda1,#f5f88f,#f5de56,#f79a1f,#f5de55,#f5f991,#fbfea3,#fbfea2,#f4f68a,#f5c844,#f3a533,#f3f17b,#fafda0,#fbfea2,#f5f68b,#f7d141,#f6d749,#f5f68b,#fbfea2,#f8fc9b,#f5dc57,#f9c32d,#f4f381,#fbfea3,#f8fb98,#e1a555,#e7bc59,#f8fa96,#fbfea3,#f6e467,#f8c936,#f6f68c,#fbfea2,#f4eb70,#f6db50,#f8fa97,#f8fb98,#f4b43c,#f6e56c,#fbfea1,#f5ec77,#f6d44d,#fafda0,#f6e66c,#f7d74b,#f9fc9c,#f6e86c,#f8de5c,#fafd9e,#f7db56,#f7f994,#f7f68b,#f4ed72,#fafc9c,#f2e968,#fafd9f,#f3ee73,#f8fa96,#f9d957,#fafd9f,#f4e45e,#f8f487,#f4e866,#f9e970,#f6f78d,#f6ef7a,#f7f184,#fae170,#f0a965,#f2f27e,#f2ee74,#f4f78b,#f7cc43,#fcda63,#fbf08a,#f5f07b,#f7ef7b,#f3e259,#f6db52,#f7e476 250.5px);top:93px;height:3px"><i style="opacity:.795"></i></div>
<div class="r" style="--g:linear-gradient(90deg,#f7f6ac .5px,#f1f077,#f1ef75,#f1ee72,#f1ed70,#f1ec6d,#f2eb6b,#f2e968,#f2e864,#f2e661,#f3e55d,#f3e35a,#f3e157,#f4df54,#f5dc4e,#f5da4b,#f6d745,#f7d440,#f8d03b,#f8cd36,#f9c831,#fac32a,#fbbe24,#fbb61b,#fcaf13,#fca30a,#fb9707,#f68212,#dd5636,#e05933,#f78311,#fb9607,#fca70c,#fcb116,#fbbb21,#fac329,#f9ca32,#f8cf39,#f7d441,#f6d948,#f5dc4e,#f3e258,#f3e35b,#f2e763,#f2e968,#f1ed6f,#f1ef75,#f1f179,#f2f27e,#f2f482,#f3f687,#f4f78b,#f4f88f,#f5f992,#f6f994,#f7fa97,#f8fb9a,#f9fc9d,#f9fc9d,#fafda1,#fafda1,#fcfea3,#fcffa4,#fcffa4,#fcffa4,#fcffa4,#fcffa4,#fcffa4,#fcffa4,#fcffa4,#fcffa4,#fbfea2,#fafda1,#fafda0,#f9fc9d,#f8fb99,#f6fa96,#f5f991,#f4f78b,#f3f484,#f2f17b,#f1ee72,#f2e967,#f3e35a,#f5db4b,#f7d13c,#fbbe24,#fba70f,#c7573b,#fa930b,#fbbb21,#f8cc35,#f5d949,#f3e35a,#f2ea6a,#f2f179,#f2f482,#f4f78c,#f6f994,#f8fc9b,#f9fd9e,#fcfea3,#fcffa4,#fcffa4,#fcffa4,#fcffa4,#fcffa4,#fafda1,#f9fc9c,#f6fa96,#f4f78c,#f2f27d,#f2eb6b,#f4e055,#f7d03b,#fbad13,#f2781a,#fab822,#f7d441,#f3e55e,#f2f077,#f3f688,#f6fa95,#f9fc9c,#fbfea3,#fcffa4,#fcffa4,#fcfea4,#fafd9f,#f7fb98,#f4f78b,#f2ef75,#f3e35b,#f9c52d,#f88c0e,#f8b82a,#f5dc4f,#f2ee73,#f4f78d,#f8fc9b,#fcfea4,#fcffa4,#fcffa4,#fafda0,#f6f992,#f2f380,#f3e35b,#fabb22,#f6961e,#f5d94a,#f2ed71,#f5f992,#f9fd9e,#fcfea4,#fcfea4,#f8fc9b,#f3f688,#f3e662,#f9b323,#f7a023,#f2e866,#f4f689,#fafd9f,#fcffa4,#fbfea1,#f6f992,#f3eb6e,#faba23,#f9b122,#f2ef76,#f7fa95,#fbfea2,#fcffa4,#f6f992,#f3e45f,#fab71f,#f4de54,#f4f68a,#fcfea4,#fcfea4,#f5f78d,#f5dd53,#f6a82a,#f3ef77,#f8fc9b,#fcfea4,#f6f994,#f7cb3c,#f9c32e,#f5f384,#fbfea3,#f9fc9d,#f4e665,#f8b225,#f4f483,#fbfea3,#f7fa96,#f5d752,#f6cb43,#f7fa96,#fafda0,#f4eb71,#f9bd29,#f6f890,#fbfea3,#f5e667,#f8cb38,#f7f891,#fafd9f,#f6d74f,#f5e66b,#fafd9f,#f4ec71,#f7c235,#fbfc9d,#f6f080,#f5df58,#fafda1,#f7d365,#f5d960,#fafc9d,#f7c436,#f6f58b,#f7e974,#f6de59,#f8fb99,#f6d647,#f8f993,#f8c23e,#f8f892,#f4e055,#fafb9a,#fad755,#f9f893,#f8e972,#f8cc5d,#f5e87a,#f4eb6f,#f6f280,#f7f992,#f5f280,#f6f689,#f9e266,#f8fc9b,#f4f587,#f5e664,#f8f68d,#f4e157,#f6a62a,#f8cf50,#f6f190 250.5px);top:96px;height:3px"><i style="opacity:.473"></i></div>
<div class="r" style="--g:linear-gradient(90deg,#f7f7ae .5px,#f1f179,#f1f078,#f1ef75,#f1ee72,#f1ed71,#f1ec6d,#f1eb6c,#f2ea68,#f2e865,#f2e661,#f2e660,#f3e35a,#f3e157,#f4df53,#f4dd4f,#f5db4c,#f6d846,#f7d441,#f7d03c,#f8cd37,#f9c932,#fac42b,#fbbe23,#fbb81d,#fcb014,#fca60b,#fb9907,#f8860f,#e0602f,#d8513b,#f47b17,#fb9607,#fca40a,#fcb115,#fbb91e,#fac127,#f9c830,#f8ce38,#f7d33f,#f6d746,#f5dc4d,#f4df53,#f3e45b,#f2e660,#f2e967,#f1ec6e,#f1ee72,#f1f078,#f2f17b,#f2f481,#f3f585,#f3f689,#f4f88e,#f5f992,#f6fa95,#f7fa97,#f8fb9a,#f8fc9c,#f9fc9d,#fafda0,#fafda1,#fbfea3,#fcffa4,#fcffa4,#fcffa4,#fcffa4,#fcffa4,#fcffa4,#fcffa4,#fcffa4,#fcffa4,#fbfea3,#fafda1,#fafda0,#f9fc9d,#f8fb9a,#f7fa96,#f5f992,#f4f78b,#f3f586,#f2f27e,#f1ef74,#f2ea6a,#f3e45d,#f4dd50,#f7d03c,#fac32b,#fbab12,#ef751d,#f9910c,#fbb419,#f9ca33,#f6d745,#f3e259,#f2ea69,#f1ef74,#f2f483,#f4f78c,#f6f993,#f8fb9a,#f9fc9e,#fafda1,#fcffa4,#fcffa4,#fcffa4,#fcffa4,#fcffa4,#fafda0,#f9fc9d,#f7fa97,#f4f78c,#f2f381,#f2ed6f,#f3e35b,#f7d23e,#fbb71d,#ea7124,#fbad16,#f7d13d,#f3e35a,#f2ee72,#f3f586,#f5f991,#f8fc9c,#fbfea2,#fcffa4,#fcffa4,#fcffa4,#fafda1,#f8fc9b,#f4f88e,#f2f27c,#f3e45d,#f8cf3a,#f99411,#faac1b,#f6d849,#f2ed70,#f3f688,#f7fb98,#fafda0,#fcffa4,#fcffa4,#fafda1,#f7fb97,#f3f483,#f2e661,#f8c330,#fa980e,#f8ce3a,#f2ee72,#f4f78d,#f9fc9d,#fcffa4,#fcffa4,#f9fd9e,#f5f78d,#f2e967,#f8cb35,#f9a71a,#f4e056,#f3f485,#f8fc9b,#fcffa4,#fbfea3,#f7fa96,#f2ee74,#f8ce3a,#fab720,#f3e764,#f6f891,#fbfea3,#fbfea3,#f6fa95,#f3ea6d,#f8a61e,#f7ce3b,#f4f68a,#fafda0,#fcfea3,#f6fa94,#f5df58,#eb8a37,#f4e665,#f9fc9b,#fcffa4,#f6f993,#f5df57,#f8ca35,#f3f27f,#fafda0,#fafd9e,#f4eb73,#fbba1f,#f3ee74,#fbfea2,#f9fc9e,#f5d95c,#f1a63a,#f6f88f,#fbfea3,#f6f07f,#fac329,#f4f485,#fbfda1,#f5f07c,#f6d849,#f7f993,#f9fc9c,#f5d14e,#f5cf50,#fbfea3,#f5f280,#f6de57,#fafc9d,#f5ee81,#eca04a,#f9fb9a,#f6e36c,#f6d24b,#fbfea3,#f5ca46,#f9eb84,#f7f185,#f7de60,#f9fc9c,#f8dc59,#f9fc9b,#eda157,#fafda1,#f4e35c,#f8f58a,#f5e25c,#f5f484,#f7ed76,#f4f78c,#f9f58b,#f5e86c,#f2ed71,#fbe571,#fbd667,#fad368,#f8ee7a,#f8e76c,#f6e160,#f9e876,#f9de5f,#f3f381,#f5f689,#f7f8a3 250.5px);top:99px;height:4px"><i style="opacity:.151"></i></div>
<div class="r" style="--g:linear-gradient(90deg,#f7f7af .5px,#f2f27d,#f1f179,#f1f078,#f1ef75,#f1ee73,#f1ed71,#f1ec6d,#f1eb6c,#f2ea69,#f2e865,#f2e864,#f3e55e,#f3e45d,#f3e258,#f4e055,#f4dd50,#f5db4d,#f6d847,#f6d543,#f7d23e,#f8ce37,#f9ca33,#fac52c,#fac026,#fbba1f,#fcb317,#fca80d,#fb9c07,#f88a0c,#ed6c23,#d34842,#f47a18,#fa9009,#fca20a,#fcad12,#fbb71c,#fbbf25,#fac62d,#f8cc36,#f7d23d,#f6d847,#f5db4d,#f4df52,#f3e258,#f2e55f,#f2e966,#f1ec6d,#f1ee71,#f1f077,#f2f27d,#f2f381,#f3f585,#f3f68a,#f4f78c,#f5f991,#f6f993,#f7fa96,#f8fb9a,#f8fc9b,#f9fc9d,#fafda0,#fafda1,#fbfea3,#fcffa4,#fcffa4,#fcffa4,#fcffa4,#fcffa4,#fcffa4,#fcffa4,#fcffa4,#fcffa4,#fcffa4,#fbfea2,#fafda1,#f9fc9d,#f8fb9a,#f7fa97,#f6f993,#f4f88e,#f3f587,#f2f37f,#f1ef75,#f2eb6a,#f2e65f,#f4de51,#f6d542,#f9c72f,#fcb318,#ee771d,#f17a1a,#fbae14,#fac52d,#f6d543,#f4e055,#f2e865,#f1ee74,#f2f37f,#f4f78b,#f5f992,#f7fb99,#f9fc9d,#fafda1,#fcfea4,#fcffa4,#fcffa4,#fcffa4,#fcffa4,#fbfea2,#f9fd9e,#f7fb98,#f5f88f,#f2f482,#f2ef76,#f3e55f,#f6d847,#fabc22,#f78a13,#f99e19,#f8cc36,#f4e054,#f2ec6d,#f2f380,#f5f890,#f8fc9b,#fbfea1,#fcffa4,#fcffa4,#fcffa4,#fbfea2,#f8fb9a,#f5f992,#f2f27d,#f2e967,#f7d23f,#f7a118,#ed8b2b,#f6d543,#f2e866,#f3f484,#f6f993,#fafd9f,#fcfea4,#fcffa4,#fbfea2,#f8fb99,#f3f689,#f2ea6b,#f8ce3a,#cc673f,#f8ce38,#f2e865,#f4f587,#f8fc9b,#fbfea3,#fcffa4,#fafda0,#f5f890,#f2ef76,#f8ca35,#dc7239,#f5d94c,#f2f27e,#f8fb99,#fcffa4,#fcfea4,#f8fc9b,#f3f483,#f7cf3b,#f49325,#f4e15c,#f4f78c,#fafda1,#fcffa4,#f9fc9b,#f2ef77,#f9c52f,#f7cf3c,#f3f17c,#f9fc9d,#fcffa4,#f8fb98,#f3e867,#f9b421,#f3e561,#f7fa95,#fcfea4,#f8fc9b,#f5e361,#fcb419,#f4ec72,#fafda0,#fbfea1,#f3f17c,#f8ad25,#f3e56d,#f9fc9d,#fafd9e,#f3ec71,#f7ba2c,#f5f588,#fbfea2,#f4f689,#f9c028,#f5ee7d,#fbfea2,#f5f281,#fac52c,#f6f384,#fbfda1,#f4ea6e,#f6dc57,#fafda0,#f6ee79,#f8ce3d,#f8fa96,#f6f78e,#f7c53c,#fafc9d,#f6f284,#f7d44f,#fbfea2,#f7db51,#f7f181,#f6f281,#f8d34e,#f8f890,#f8d248,#f9fa98,#f4df53,#f9fb9b,#facf4c,#f9fa97,#f4ef79,#f9ef7f,#f4f07a,#f3aa56,#f7fb98,#f6f68c,#f9dc5c,#f8e162,#f4f78c,#f5e05a,#f9e973,#faf690,#f9df5f,#f8fb9a,#fbfea1,#fbfea2,#f9fbac 250.5px);top:103px;height:3px"><i style="opacity:.829"></i></div>
<div class="r" style="--g:linear-gradient(90deg,#f7f8b1 .5px,#f2f27d,#f2f27d,#f2f17a,#f1f079,#f1ef75,#f1ef75,#f1ee71,#f1ed70,#f1ec6d,#f2ea69,#f2e967,#f2e864,#f2e661,#f3e45b,#f3e258,#f4e055,#f4de50,#f5dc4d,#f6d847,#f6d644,#f7d33f,#f8d03b,#f9ca33,#f9c72f,#fac128,#fbbb20,#fcb519,#fcab0f,#fca009,#f98f09,#f37918,#d44842,#ec6b24,#f98c0b,#fb9d07,#fcab10,#fcb51a,#fbbe23,#fac52c,#f9cb34,#f7d13d,#f6d643,#f5da4b,#f4de52,#f3e258,#f3e55e,#f2e865,#f2eb6b,#f1ed6f,#f1f077,#f2f17a,#f2f380,#f2f484,#f3f688,#f4f78b,#f4f88f,#f5f992,#f6fa96,#f8fb99,#f8fc9b,#f9fc9d,#fafd9f,#fafda1,#fbfea2,#fcffa4,#fcffa4,#fcffa4,#fcffa4,#fcffa4,#fcffa4,#fcffa4,#fcffa4,#fcffa4,#fcffa4,#fbfea2,#fafda1,#f9fc9e,#f8fb9a,#f7fa97,#f6f994,#f5f890,#f3f689,#f2f482,#f1f077,#f1ed6f,#f2e661,#f4e156,#f6d745,#f9ca33,#fbb419,#f9930d,#f57d16,#fca60d,#fac128,#f7d23e,#f5dd4f,#f2e762,#f1ed71,#f2f27e,#f3f586,#f5f88f,#f7fb98,#f8fc9b,#fafda0,#fcfea3,#fcffa4,#fcffa4,#fcffa4,#fcffa4,#fbfea2,#fafd9f,#f7fb98,#f5f992,#f3f587,#f2f079,#f2e864,#f5d94a,#f9c52d,#f89217,#f89211,#f9c52d,#f5dd4f,#f2e966,#f2f27e,#f4f78d,#f8fb99,#fafda0,#fbfea3,#fcffa4,#fcffa4,#fcfea4,#f9fd9e,#f5f992,#f2f483,#f2ea69,#f5da4b,#fab11a,#ef7f22,#f8cb35,#f3e55f,#f2f17c,#f5f992,#f9fd9e,#fcfea4,#fcffa4,#fbfea3,#f8fc9c,#f5f88e,#f2ee72,#f5dc4e,#ec8226,#f7b428,#f3e35d,#f2f381,#f7fb98,#fbfea2,#fcffa4,#fbfea2,#f8fb99,#f2f078,#f5da4c,#e27c3a,#f7cf3b,#f2ee75,#f6fa95,#fbfea1,#fcfea4,#fafd9f,#f3f382,#f4de53,#f7a022,#f5d94a,#f3f485,#fafd9f,#fcffa4,#fafd9f,#f3f585,#f8c632,#fab61e,#f3eb70,#f7fb98,#fcffa4,#f9fc9d,#f4ee77,#f7a723,#f6d647,#f6f890,#fbfea3,#f9fc9d,#f2f078,#f9c72f,#f4e767,#f8fb99,#fcfea4,#f5f88e,#f9bf2a,#f5d74f,#f8fb98,#fbfea3,#f5ee78,#ed943b,#f4ed75,#fbfea3,#f7fa95,#f9c733,#f5e465,#fafd9f,#f6f992,#f6d848,#f5f180,#fbfda1,#f4e96b,#f7c033,#fafb9b,#f7f68d,#f5dd51,#f8fb99,#f8f58a,#f7c033,#f7f993,#f5f382,#f6ba39,#f9fb99,#f6e360,#f9eb77,#f6f68b,#facb47,#f9fb99,#f8d045,#fbfda1,#f5df54,#f8f68c,#f7d74f,#f5f88f,#fad350,#f8f183,#f9f387,#f7de5b,#fbdb61,#f8f58d,#f6f994,#f6e86c,#f7f992,#f4f689,#f6f991,#f4f280,#f7f78f,#fafda1,#fafda0,#fafcaf 250.5px);top:106px;height:3px"><i style="opacity:.507"></i></div>
<div class="r" style="--g:linear-gradient(90deg,#f7f8b1 .5px,#f2f482,#f2f380,#f2f27d,#f2f17a,#f1f179,#f1f077,#f1ef75,#f1ee72,#f1ed71,#f1ec6d,#f2ea69,#f2ea68,#f2e864,#f2e661,#f3e55d,#f3e359,#f4e156,#f4de51,#f5dc4e,#f5da4a,#f6d745,#f7d441,#f8d03b,#f8cd37,#f9c830,#fac329,#fbbc22,#fbb61b,#fcad12,#fca30a,#fb9607,#f57d15,#d04f3e,#de5e30,#f78510,#fb9a07,#fca80d,#fcb317,#fbbc22,#fac228,#f9ca33,#f8d03a,#f7d542,#f6d948,#f4dd4f,#f3e157,#f3e55d,#f2e864,#f2e967,#f1ec6e,#f1ef74,#f1f079,#f2f27d,#f2f483,#f3f587,#f4f78b,#f4f88e,#f5f992,#f6fa96,#f7fa97,#f8fb9a,#f9fc9d,#fafd9f,#fafda1,#fbfea2,#fcffa4,#fcffa4,#fcffa4,#fcffa4,#fcffa4,#fcffa4,#fcffa4,#fcffa4,#fcffa4,#fcffa4,#fbfea3,#fafda1,#f9fd9e,#f9fc9d,#f8fb9a,#f6fa94,#f5f991,#f4f68a,#f2f483,#f2f17b,#f1ed70,#f2e966,#f3e35a,#f5da4a,#f8cd37,#fbbd22,#fa9d0e,#e96529,#fa9b0e,#fbbd23,#f8cd37,#f5db4c,#f3e45d,#f1ec6d,#f1f078,#f2f483,#f4f78c,#f6fa95,#f8fc9b,#fafda0,#fbfea3,#fcffa4,#fcffa4,#fcffa4,#fcffa4,#fbfea3,#fafda0,#f8fb99,#f5f993,#f3f689,#f2f27e,#f2e967,#f4df53,#f8cc36,#fba811,#ca613c,#fabd23,#f6d645,#f2e763,#f2f078,#f4f68a,#f6fa95,#f9fd9e,#fbfea3,#fcffa4,#fcffa4,#fcffa4,#fafd9f,#f7fa97,#f3f688,#f2ee73,#f4e055,#fac027,#f89314,#f9c32c,#f4df53,#f2f079,#f4f78c,#f9fc9c,#fcfea3,#fcffa4,#fcffa4,#fafd9f,#f6f992,#f2f27d,#f4de52,#fab11f,#fab11c,#f5dc4f,#f2f07a,#f6fa94,#fafda1,#fcffa4,#fcffa4,#f8fb9a,#f3f586,#f4df56,#faab17,#f9bc28,#f2eb6c,#f5f88e,#fafda0,#fcffa4,#fafd9f,#f5f88f,#f4e45f,#f9a61c,#f8ca37,#f3f27d,#f8fb99,#fcffa4,#fbfea3,#f3f587,#f5dd53,#fabb22,#f3e661,#f7f994,#fcfea4,#fafd9f,#f3f483,#f7cd3a,#f7d240,#f4f483,#fbfda1,#fbfea3,#f4f27f,#f9be2a,#f6cf45,#f7fa96,#fcffa4,#f5f88f,#f4cb4c,#f3bf4a,#f6f994,#fbfea3,#f5f586,#f8cb38,#f3ec70,#fafda0,#f7fa95,#f5d14b,#f5cc51,#fafd9f,#f8fa96,#f8cf3e,#f5e364,#fcffa4,#f5f381,#f7d448,#f8fa96,#f7f892,#f8cd37,#f6f386,#f8fa95,#f1a845,#f8fb98,#f7f891,#f6df5a,#f9fc9c,#facd4b,#f6f382,#faf083,#f5e25e,#fbfa9a,#f5da4d,#f9fc9c,#f9c545,#f9fb99,#f2f17c,#f8f993,#f8e263,#f5ed74,#f7f088,#eea765,#f8e872,#fadf66,#fbe06b,#f8f07e,#fabc4f,#f8bb3a,#f9ee7f,#f7de5f,#f4ef79,#f5f78c,#f9faa8 250.5px);top:109px;height:4px"><i style="opacity:.185"></i></div>
<div class="r" style="--g:linear-gradient(90deg,#f7f9b4 .5px,#f2f482,#f2f482,#f2f381,#f2f27d,#f2f27d,#f1f179,#f1f078,#f1ef75,#f1ee72,#f1ed71,#f1ec6d,#f1eb6c,#f2ea68,#f2e865,#f2e661,#f3e55e,#f3e35b,#f3e258,#f4df53,#f5dd4f,#f5db4b,#f6d847,#f7d441,#f7d13c,#f8cd37,#f9ca32,#fac32a,#fbbe24,#fbb81d,#fcb015,#fca70c,#fb9806,#f8870e,#e15e30,#d34c3f,#f57c16,#fa9507,#fca40a,#fcb115,#fbb81d,#fac128,#f9c830,#f8ce39,#f7d33f,#f6d746,#f5dc4d,#f4df54,#f3e45c,#f2e65f,#f2e966,#f1ec6d,#f1ef74,#f1f077,#f2f17b,#f2f381,#f3f586,#f3f68a,#f4f88e,#f5f992,#f6fa95,#f7fa96,#f8fb9a,#f8fc9b,#f9fc9d,#fafda0,#fafda1,#fbfea3,#fcffa4,#fcffa4,#fcffa4,#fcffa4,#fcffa4,#fcffa4,#fcffa4,#fcffa4,#fcffa4,#fbfea3,#fafda1,#fafd9f,#f9fc9d,#f8fb9a,#f7fa96,#f5f992,#f4f78b,#f3f586,#f2f27d,#f1ef75,#f2ea69,#f3e55d,#f5db4c,#f7d13c,#fac229,#fcab10,#ec721f,#f68a11,#fbb318,#f9cb34,#f6d746,#f3e259,#f2ea69,#f1f077,#f2f482,#f4f78b,#f5f992,#f7fb99,#f9fc9d,#fafda1,#fcfea4,#fcffa4,#fcffa4,#fcffa4,#fbfea3,#fafda0,#f9fc9d,#f7fb97,#f4f78c,#f2f380,#f1ed71,#f3e259,#f7d23f,#fbb41c,#e46a28,#fbac16,#f7d33f,#f3e35a,#f2ee74,#f3f585,#f6f993,#f8fc9b,#fbfea2,#fcffa4,#fcffa4,#fcffa4,#fafda0,#f7fb98,#f4f88e,#f2f17a,#f3e45d,#f8cc37,#f99212,#faab18,#f5dd4f,#f2ec6d,#f3f688,#f7fb97,#fbfea1,#fcffa4,#fcffa4,#fbfea1,#f7fb98,#f2f380,#f2e763,#f9be2b,#fa9809,#f7d341,#f2ee72,#f4f78c,#fafd9f,#fcffa4,#fcffa4,#fafd9f,#f4f78b,#f2e969,#f9ba27,#faae17,#f4e159,#f4f68a,#f9fc9e,#fcffa4,#fcfea3,#f6f993,#f2ed72,#f7b62b,#fabb25,#f3e969,#f7fa96,#fbfea3,#fbfea3,#f6f993,#f4e461,#e88235,#f6d94e,#f4f78c,#fafda0,#fbfea2,#f6f992,#f6d345,#fab51d,#f4ed75,#fafda0,#fbfea3,#f5f78d,#f5d64b,#f7c434,#f4f689,#fcfea3,#f8fc9b,#f3d95d,#ee9b3a,#f5f485,#fcfea3,#f8f995,#f8c533,#f6da50,#f9fb9b,#fafd9f,#f7de5b,#f7c637,#f8fa96,#f9fc9c,#f4e461,#f5e25e,#fafda0,#f6f384,#f4a936,#f7f589,#f9fc9d,#f4e158,#f6f283,#fafb9c,#f8c532,#f6f487,#f7f68b,#f8ca3b,#f8fa97,#f7e162,#f7e86c,#f8f68e,#f6dd51,#fafd9f,#f5dc50,#f8f78f,#f8c23e,#f6fa94,#f8cc44,#fbe172,#f8e26e,#f9e76d,#f8fb98,#f9e366,#eda064,#f5f587,#f2ea6a,#f5f68a,#f5ef7b,#f7f080,#f8d651,#f8c531,#f5dd55,#fcf098 250.5px);top:113px;height:3px"><i style="opacity:.863"></i></div>
<div class="r" style="--g:linear-gradient(90deg,#f7f9b4 .5px,#f3f586,#f2f484,#f2f482,#f2f381,#f2f27d,#f2f27d,#f1f17a,#f1f179,#f1f077,#f1ef75,#f1ee71,#f1ec6e,#f1ec6c,#f2ea69,#f2e865,#f2e762,#f2e660,#f3e35b,#f3e258,#f4e055,#f4dd50,#f5dc4d,#f6d847,#f6d543,#f7d23d,#f8cf39,#f9ca33,#fac62d,#fac127,#fbba1f,#fcb318,#fca90e,#fb9f08,#f98d0b,#f1741c,#df5337,#f1731d,#f98d0b,#fca008,#fcac10,#fbb81c,#fbbe24,#f9c62e,#f8cc35,#f7d13d,#f6d644,#f5db4c,#f4df52,#f3e258,#f2e55f,#f2e865,#f1eb6c,#f1ed71,#f1f077,#f2f17b,#f2f381,#f2f484,#f3f688,#f4f88e,#f5f88f,#f5f992,#f6fa96,#f8fb9a,#f8fc9b,#f9fc9d,#fafda0,#fafda1,#fbfea2,#fcffa4,#fcffa4,#fcffa4,#fcffa4,#fcffa4,#fcffa4,#fcffa4,#fcffa4,#fcffa4,#fcffa4,#fbfea2,#fafda1,#f9fc9d,#f8fb9a,#f7fa97,#f6f993,#f4f88e,#f3f689,#f2f482,#f1f078,#f1ec6d,#f3e55f,#f4df52,#f6d543,#f9c932,#fbb318,#f68712,#f0741f,#fcac11,#fac229,#f7d442,#f4df52,#f2e762,#f1ed71,#f2f27c,#f3f68a,#f5f991,#f7fb98,#f9fc9d,#fafda1,#fcfea4,#fcffa4,#fcffa4,#fcffa4,#fcffa4,#fbfea2,#fafd9f,#f7fb98,#f5f890,#f3f585,#f2ef75,#f2e661,#f5d949,#fac027,#fa970d,#fba010,#f9c931,#f4df53,#f2eb6b,#f2f381,#f5f890,#f7fb98,#fafda1,#fcffa4,#fcffa4,#fcffa4,#fbfea2,#f9fc9d,#f5f991,#f2f380,#f2e967,#f6d544,#fbb21a,#f99c15,#f7d03d,#f2e867,#f2f482,#f6fa94,#fafd9f,#fcfea4,#fcffa4,#fbfea2,#f8fb9a,#f4f68b,#f2ea6b,#f7d341,#fa9f12,#f9c631,#f3e661,#f3f688,#f8fb9a,#fcffa4,#fcffa4,#fafda0,#f6f994,#f2ee73,#f7d03d,#f08b2b,#f5d94a,#f2f078,#f8fb9a,#fcfea4,#fcfea4,#f9fc9c,#f3f27e,#f7d241,#f2922b,#f4e25b,#f4f68a,#fbfea2,#fcffa4,#f8fc9b,#f2f079,#e69946,#f3c03f,#f3f07b,#f9fd9e,#fcffa4,#f6fa95,#f3e868,#f9b621,#f3e561,#f7fa95,#fcfea4,#f8fa97,#f4e15c,#faad1a,#f4f17e,#fafd9f,#fafd9e,#f3ef76,#f9c932,#f4ee77,#fafda0,#f9fc9c,#f4e35e,#f6d74a,#f6f890,#fbfea1,#f3ef78,#f7bc31,#f6f78e,#fbfea1,#f4e768,#f7bd31,#fafb9a,#f9fb99,#f7c539,#f4f484,#f9fc9c,#f6da50,#f6df5f,#fafda1,#f4c54f,#f6e57d,#fafc9c,#f4df57,#f8fb9a,#f2c876,#f1cf6f,#fbf999,#f7cd42,#fafd9f,#f6b44b,#f8fb98,#f2ed71,#fafc9d,#fac748,#f4e088,#efbb70,#f2e968,#f8f68c,#f6f88f,#f4ec71,#f6f589,#f9ec78,#faf792,#f9e062,#f6f382,#f7d550,#fbb318,#fcf199 250.5px);top:116px;height:3px"><i style="opacity:.541"></i></div>
<div class="r" style="--g:linear-gradient(90deg,#f8fab6 .5px,#f3f586,#f3f586,#f3f585,#f2f482,#f2f482,#f2f380,#f2f27d,#f2f17a,#f1f179,#f1f077,#f1ef75,#f1ee72,#f1ed70,#f1ec6d,#f2ea69,#f2e968,#f2e864,#f2e661,#f3e55d,#f3e259,#f4e055,#f4df52,#f5dc4e,#f5d949,#f6d746,#f7d440,#f8d03b,#f8cd36,#f9c72f,#fac229,#fbbd23,#fbb61b,#fcad12,#fca209,#fb9507,#f57e15,#bf4646,#d85934,#f8870e,#fb9907,#fca90e,#fcb317,#fbbc22,#fac32a,#f9c932,#f8d03b,#f7d441,#f6d948,#f5dc4e,#f3e257,#f3e55e,#f2e864,#f2ea69,#f1ec6f,#f1ef75,#f1f179,#f2f27e,#f2f484,#f3f587,#f4f78b,#f4f88e,#f5f992,#f6fa96,#f8fb99,#f8fb9a,#f9fc9d,#f9fc9d,#fafda1,#fafda1,#fcfea3,#fcffa4,#fcffa4,#fcffa4,#fcffa4,#fcffa4,#fcffa4,#fcffa4,#fcffa4,#fcffa4,#fbfea3,#fafda1,#f9fd9e,#f9fc9d,#f8fb99,#f6fa94,#f5f891,#f3f68a,#f2f483,#f2f17b,#f1ed70,#f2e864,#f3e157,#f5d948,#f8cd37,#fbbb21,#fa9e10,#ec6826,#fb9b0a,#fbbd23,#f8cd38,#f5db4c,#f3e55e,#f2ec6d,#f2f17b,#f3f586,#f5f890,#f6f994,#f8fb9a,#fafda0,#fbfea3,#fcffa4,#fcffa4,#fcffa4,#fcffa4,#fbfea2,#fafd9f,#f7fb99,#f5f992,#f3f688,#f2f17b,#f2ea68,#f4de52,#f8cd38,#fba40f,#de662e,#fabe26,#f6d847,#f2e661,#f2f079,#f3f689,#f6fa96,#f9fc9c,#fbfea3,#fcffa4,#fcffa4,#fcfea4,#fafd9f,#f7fa96,#f3f587,#f2ed71,#f4df54,#fbbc22,#f58415,#f9c32e,#f3e158,#f2f078,#f5f991,#f8fc9b,#fcfea3,#fcffa4,#fcffa4,#fafd9f,#f5f88f,#f2f17a,#f4dd52,#f9a51e,#f9a919,#f4df55,#f2f17a,#f6fa95,#fbfea1,#fcffa4,#fcfea4,#f7fb98,#f2f380,#f4df56,#f99d19,#f9c029,#f2ed72,#f5f88f,#fbfea1,#fcffa4,#fafd9f,#f4f689,#f4e25c,#e78035,#f7cf3b,#f3f483,#f9fc9d,#fcffa4,#fafda0,#f4f483,#f6d343,#faae1a,#f2eb6d,#f7fb97,#fcfea4,#fafd9f,#f3ef78,#f9b423,#f7d244,#f5f78e,#fbfea2,#fafda0,#f3f07a,#fab41d,#f4e35f,#f8fb99,#fcffa4,#f5f485,#f9c42e,#f6d84f,#fafd9e,#fbfea3,#f4e96c,#f8b025,#f5f280,#fcffa4,#f6f485,#f8b627,#f4ec72,#fcffa4,#f4f485,#f7c435,#f6f78d,#f9fc9c,#f6ca40,#f7e364,#fafda1,#f4ee77,#f6df5d,#fcfea3,#f6d457,#f5d45b,#fafd9e,#f7cf3f,#f7f083,#f7ec7b,#f6d84e,#f9fc9d,#f6d74a,#f8f892,#f5b247,#f7fa95,#f4e156,#f8f488,#f5e867,#f7fa96,#f6f68c,#f3eb6e,#f4ee78,#f9ed7b,#f8f07e,#fade60,#f6ee79,#f4f280,#f7fa96,#f7f993,#f3e45d,#fafbaa 250.5px);top:119px;height:4px"><i style="opacity:.219"></i></div>
<div class="r" style="--g:linear-gradient(90deg,#f8fab6 .5px,#f3f68a,#f3f688,#f3f586,#f3f585,#f2f482,#f2f482,#f2f380,#f2f27d,#f2f27d,#f1f179,#f1f078,#f1ef75,#f1ef75,#f1ed71,#f1ec6d,#f1eb6c,#f2ea68,#f2e865,#f2e661,#f2e660,#f3e35b,#f3e157,#f4df53,#f4dd4f,#f5db4c,#f6d846,#f7d441,#f7d13c,#f8cd37,#f9ca32,#fac52c,#fbbf25,#fbb91e,#fcb115,#fca80d,#fb9b07,#f8880d,#e6652a,#d94f3c,#f37819,#fb9507,#fca209,#fcaf14,#fbb91d,#fac127,#f9c830,#f8ce38,#f7d33f,#f6d644,#f5dc4d,#f4df53,#f3e259,#f2e660,#f2e967,#f1ec6e,#f1ee72,#f1f078,#f2f17b,#f2f381,#f3f585,#f3f689,#f4f88e,#f5f890,#f6f993,#f7fa96,#f8fb9a,#f8fc9b,#f9fc9d,#fafda0,#fafda1,#fbfea3,#fcffa4,#fcffa4,#fcffa4,#fcffa4,#fcffa4,#fcffa4,#fcffa4,#fcffa4,#fcffa4,#fbfea3,#fafda1,#fafda0,#f9fc9d,#f8fb9a,#f7fa96,#f5f992,#f4f78b,#f3f688,#f2f27c,#f1ef75,#f2eb6a,#f3e45d,#f5dc4e,#f7d23e,#fac52c,#fcab11,#f27b18,#f88d0e,#fbb116,#f9c730,#f6d645,#f3e157,#f2e966,#f1ee74,#f2f380,#f4f78c,#f6f993,#f8fb99,#f9fc9e,#fafda1,#fcffa4,#fcffa4,#fcffa4,#fcffa4,#fcffa4,#fbfea1,#f9fc9e,#f7fa97,#f4f88e,#f2f382,#f1ed70,#f3e45c,#f7d441,#fbba20,#ef7720,#fba914,#f8cf3b,#f3e259,#f2ed71,#f3f585,#f5f991,#f8fc9b,#fbfea2,#fcffa4,#fcffa4,#fcffa4,#fafda1,#f8fc9b,#f5f88e,#f2f27d,#f3e55e,#f7d03b,#f99512,#faa919,#f6d848,#f2ec6f,#f3f587,#f7fb98,#fafda0,#fcffa4,#fcffa4,#fbfea1,#f7fb98,#f3f483,#f3e661,#f8c431,#fa990c,#f8ce39,#f2ee72,#f4f78c,#fafd9f,#fcffa4,#fcffa4,#fafd9f,#f5f78e,#f2e866,#f9c731,#fab01a,#f4e159,#f4f588,#f9fd9e,#fcffa4,#fcfea3,#f7fa96,#f2ec6f,#f9c731,#f9c32b,#f2eb6d,#f7fa95,#fbfea3,#fbfea3,#f6f992,#f3e564,#f69821,#f5db4e,#f6f891,#fbfea3,#fbfea1,#f5f88f,#f6cf41,#f9c029,#f3ef77,#fafda0,#fbfea3,#f4f586,#f0bc48,#eab155,#f5f890,#fcfea4,#f7fa95,#f4dd56,#f7c737,#f6f890,#fbfea2,#f5f68b,#f3a839,#f3ea6c,#fafd9e,#f8fa97,#f5dc52,#f4e665,#fafda0,#f6f68c,#f8c432,#f6ec76,#fbfea3,#f7d75e,#f6d652,#f9fc9d,#f5f17e,#ec9d48,#fafb9a,#f6ee7c,#f6da56,#fbfea3,#f5e86b,#f7ef7f,#f7f195,#e6a05d,#fafd9f,#d38a6e,#f8fa97,#f7e160,#f9fc9c,#f4ed73,#f8f994,#f3e661,#f9e871,#f6f58a,#f9e56a,#f5f483,#f1ef75,#f5f78d,#f4e664,#f9e076,#f8c568,#fafda1,#f6f993,#fafcaf 250.5px);top:123px;height:3px"><i style="opacity:.897"></i></div>
<div class="r" style="--g:linear-gradient(90deg,#f8fab6 .5px,#f3f68a,#f3f68a,#f3f689,#f3f586,#f3f586,#f2f484,#f2f482,#f2f482,#f2f37f,#f2f27d,#f2f27c,#f1f179,#f1f076,#f1ef75,#f1ed71,#f1ed70,#f1ec6d,#f2eb6a,#f2e967,#f2e864,#f2e660,#f3e45d,#f3e35a,#f4e055,#f4de52,#f5dc4d,#f5da4a,#f6d645,#f7d33f,#f8d03a,#f8cc36,#f9c72e,#fac128,#fbbc21,#fcb51a,#fcac11,#fca008,#fa9109,#f3781a,#cb4745,#ef6e21,#f8890d,#fb9d08,#fcaa0f,#fcb519,#fbbd22,#fac42b,#f9cb34,#f7d03c,#f6d644,#f5d949,#f4de51,#f3e258,#f2e55f,#f2e864,#f2ea69,#f1ed70,#f1ef75,#f2f17b,#f2f27e,#f3f584,#f3f688,#f4f78c,#f5f88f,#f5f993,#f6fa96,#f7fb98,#f8fc9b,#f9fc9d,#fafda0,#fafda1,#fafda1,#fcfea4,#fcffa4,#fcffa4,#fcffa4,#fcffa4,#fcffa4,#fcffa4,#fcffa4,#fcffa4,#fcffa4,#fbfea2,#fafda1,#f9fc9d,#f9fc9c,#f7fb99,#f6f993,#f5f890,#f3f688,#f2f381,#f1f077,#f1ec6f,#f2e762,#f4e055,#f6d746,#f9ca33,#fbba1f,#f9900e,#e86628,#fba210,#fac026,#f7d13d,#f4de51,#f2e661,#f1ed6f,#f2f17b,#f3f586,#f4f88e,#f7fa97,#f8fc9b,#fafda1,#fcfea4,#fcffa4,#fcffa4,#fcffa4,#fcffa4,#fbfea2,#fafd9f,#f8fb9a,#f6f993,#f3f586,#f2f17a,#f2e865,#f5dc4e,#f9c52d,#f29317,#e47c29,#fac52c,#f5db4c,#f2ea69,#f2f17b,#f4f88e,#f7fa97,#fafda0,#fcfea3,#fcffa4,#fcffa4,#fcfea3,#f9fc9e,#f6fa94,#f3f484,#f2ec6d,#f6d949,#fab41f,#f99613,#f8cd38,#f3e45e,#f2f37f,#f5f88f,#fafd9f,#fcfea4,#fcffa4,#fcfea4,#f9fc9d,#f4f78e,#f2ee73,#f6d646,#f99f17,#fac22a,#f3e35c,#f3f382,#f7fa97,#fbfea3,#fcffa4,#fbfea3,#f6fa94,#f2f27d,#f7d442,#fa9c12,#f6d040,#f2f078,#f6fa95,#fcfea4,#fcfea4,#f8fc9b,#f3f585,#f6d545,#e98132,#f5dc53,#f4f689,#fafda0,#fcffa4,#f9fc9b,#f2f078,#f8c833,#f8cd39,#f3f17b,#f9fc9c,#fcffa4,#f8fb97,#f3e765,#f7aa26,#f3e664,#f6fa95,#fcfea4,#f8fb98,#f5dc59,#f8ac21,#f4f07a,#fbfea2,#fafd9e,#f3eb6e,#fbb81d,#f5f07f,#fbfea2,#f8fa97,#f6d74b,#f8d044,#f8fb9a,#fbfda0,#f4e461,#f7ba2d,#f9fa97,#fafd9e,#f8d047,#f5e361,#fafd9e,#f5f180,#f9ca37,#f9fc9c,#f7fa96,#f5b23f,#f7f891,#f6f58a,#f7c132,#f9fa98,#f5de69,#f5cb56,#f8fb99,#f7d142,#f8f994,#f8d34c,#f7f78d,#f6d952,#f7f084,#f7bc45,#f8f597,#eba463,#fae774,#f9ee7f,#f3ee74,#f8ef7b,#fbd562,#f9e778,#f5f486,#f2f078,#f6f68a,#fcffa4,#f9fbac 250.5px);top:126px;height:3px"><i style="opacity:.575"></i></div>
<div class="r" style="--g:linear-gradient(90deg,#f8fab9 .5px,#f4f88e,#f3f68a,#f3f68a,#f3f68a,#f3f688,#f3f586,#f3f586,#f2f483,#f2f482,#f2f380,#f2f27d,#f2f27c,#f1f179,#f1f077,#f1ef75,#f1ee72,#f1ed71,#f1ec6e,#f2eb6b,#f2e967,#f2e865,#f2e762,#f3e55d,#f3e45c,#f3e157,#f4df53,#f4dd4f,#f5da4b,#f6d745,#f7d441,#f7d23e,#f8cc36,#f9c931,#fac42b,#fbbf25,#fbb81d,#fcb014,#fca60c,#fb9807,#f8880d,#e55e2e,#d9503c,#f57e15,#fa9407,#fca50b,#fcb014,#fbb81d,#fac127,#f9c830,#f8ce38,#f7d340,#f6d848,#f5dc4e,#f4e054,#f3e35b,#f2e661,#f2e968,#f1ec6d,#f1ee72,#f1f078,#f2f27d,#f2f482,#f3f688,#f3f68a,#f4f88e,#f5f992,#f6f994,#f7fb97,#f8fb9a,#f9fc9c,#f9fc9d,#fafda1,#fafda1,#fcfea4,#fcffa4,#fcffa4,#fcffa4,#fcffa4,#fcffa4,#fcffa4,#fcffa4,#fcffa4,#fcffa4,#fcffa4,#fafda1,#fafda0,#f9fc9d,#f8fc9b,#f6fa96,#f5f891,#f4f78d,#f3f484,#f2f27d,#f1ee71,#f2e967,#f3e45c,#f5db4c,#f7d13d,#fac027,#fcaa11,#e76b27,#f88c0e,#fbb51b,#f9ca33,#f6d745,#f3e259,#f2ea68,#f1f077,#f2f381,#f4f78b,#f6f994,#f8fc9b,#f9fd9e,#fbfea1,#fcffa4,#fcffa4,#fcffa4,#fcffa4,#fcffa4,#fafda1,#f9fc9c,#f6fa96,#f4f88e,#f2f37f,#f1ed70,#f3e258,#f7d23f,#fbb31a,#f57c16,#faaf1a,#f7d33f,#f3e25a,#f1ef75,#f3f484,#f6fa95,#f9fc9d,#fbfea3,#fcffa4,#fcffa4,#fcffa4,#fbfea2,#f7fb98,#f4f78c,#f2ef76,#f3e45d,#f9c933,#f68913,#f9ae21,#f5dd4f,#f2ec6f,#f4f78b,#f7fb98,#fafda1,#fcffa4,#fcffa4,#fafda0,#f6fa94,#f2f37f,#f2e662,#fab921,#f79219,#f6d647,#f2ee72,#f5f992,#fafda0,#fcffa4,#fcfea4,#f9fc9d,#f3f587,#f3e764,#f9b31f,#f9ae21,#f3e663,#f4f78c,#f9fc9d,#fcffa4,#fbfea3,#f5f890,#f2e969,#f9b11d,#f9c32d,#f3ee75,#f8fb9a,#fcfea4,#fbfea2,#f5f88e,#f5d94c,#e98535,#f4e35f,#f6f992,#fcffa4,#fafd9f,#f4f383,#f9c22c,#f8c632,#f5f68a,#fbfea2,#fafd9e,#f3f17d,#f9c831,#f4e25d,#f7fa95,#fcffa4,#f5f78d,#fac22d,#f5da53,#f9fb9a,#fbfea3,#f5e86e,#f9bb27,#f5f281,#fcffa4,#f4f586,#e99547,#f5f282,#fafda0,#f4ed73,#f3ac43,#f9fc9b,#f9f996,#f9c52e,#f5f384,#f8fb99,#f7d74c,#f8ec77,#f9fc9c,#f4e25b,#f8f892,#f7f58c,#f7d34d,#fafd9e,#f6b544,#f8fa96,#f8ba4f,#f7f994,#f4f17e,#f9f790,#facf4d,#f9fc9c,#e49668,#f3f078,#f8f486,#f8f17f,#f3ee75,#f7fa96,#fae265,#fbcc4f,#db916b,#fbfea2,#f7f8a3 250.5px);top:129px;height:4px"><i style="opacity:.253"></i></div>
<div class="r" style="--g:linear-gradient(90deg,#f8fab9 .5px,#f4f88e,#f4f88e,#f4f78d,#f3f68a,#f3f68a,#f3f68a,#f3f586,#f3f586,#f2f483,#f2f482,#f2f482,#f2f27e,#f2f27d,#f2f17b,#f1f179,#f1ef76,#f1ef74,#f1ed71,#f1ed6f,#f1ec6d,#f2ea6a,#f2e966,#f2e763,#f2e660,#f3e45c,#f3e259,#f4e054,#f4de51,#f5dc4e,#f5d949,#f6d644,#f7d23e,#f8cf39,#f9cb35,#f9c72e,#fac128,#fbbb20,#fcb51a,#fcab10,#fca108,#fa9009,#f37918,#c44548,#ec6a25,#f98b0c,#fb9d07,#fcaa0f,#fcb51a,#fbbc21,#fac52c,#f9ca33,#f7d13c,#f6d643,#f5da4a,#f4dd50,#f3e157,#f3e55e,#f2e763,#f2eb6a,#f1ed70,#f1ef74,#f2f17c,#f2f37f,#f2f483,#f3f689,#f4f78c,#f5f890,#f6f993,#f6fa96,#f7fb98,#f8fb9a,#f9fc9d,#f9fd9e,#fafda1,#fbfea1,#fcffa4,#fcffa4,#fcffa4,#fcffa4,#fcffa4,#fcffa4,#fcffa4,#fcffa4,#fcffa4,#fcffa4,#fbfea1,#fafda1,#fafd9f,#f8fc9b,#f7fb98,#f6fa95,#f4f88f,#f3f687,#f2f380,#f1f078,#f1ec6e,#f2e762,#f4e156,#f6d644,#f9cb34,#fbb61c,#fa960a,#e86a26,#fba60e,#fabf25,#f7d23e,#f5dd4f,#f2e762,#f1ed70,#f2f17b,#f3f688,#f5f88f,#f7fa96,#f9fc9d,#fafda1,#fbfea2,#fcffa4,#fcffa4,#fcffa4,#fcffa4,#fbfea3,#f9fd9e,#f8fb9a,#f5f890,#f3f587,#f2f077,#f2e865,#f5dc4e,#fac52d,#e0822b,#e8861f,#fac22a,#f4dd50,#f2ea69,#f2f27d,#f4f78c,#f7fb98,#fafd9f,#fcfea4,#fcffa4,#fcffa4,#fbfea3,#f9fc9c,#f5f992,#f2f483,#f2ea6a,#f6d848,#f7ab26,#f89411,#f9ca33,#f2e864,#f2f27e,#f6f993,#f9fd9e,#fbfea3,#fcffa4,#fcfea4,#f8fc9b,#f4f78d,#f2ec6e,#f6d746,#f6931d,#fabd25,#f3e560,#f3f585,#f8fb99,#fcfea3,#fcffa4,#fafd9f,#f6f993,#f2ee74,#f6d645,#fcad12,#f6d849,#f2f079,#f8fb9a,#fbfea3,#fcffa4,#f9fc9c,#f3f17d,#f6d747,#faab19,#f3e35d,#f4f68a,#fbfea2,#fcffa4,#f7fb98,#f3ee75,#f9b622,#f8ca36,#f4f382,#fafda0,#fcfea3,#f6f993,#f3e662,#f5a22a,#f3e96a,#f8fc9b,#fcffa4,#f6f891,#f6d044,#f9c02d,#f4f78b,#fbfea2,#f8fb98,#f4e05d,#f7cd3b,#f5f78b,#fbfea2,#f5f78c,#f7d040,#f3ea6d,#fafda0,#f7fa95,#f7d446,#f7da5a,#fbfea3,#f7f589,#f4aa34,#f5f07d,#fafda1,#f6da56,#f5e86f,#fbfda1,#f8e05f,#f6e463,#f9fc9c,#f6dd55,#f6e86f,#f7fa95,#f7c93a,#f9fa95,#f7df5b,#f8f283,#f8dc5e,#f6ec79,#f5ec73,#f8ee7b,#f4e15b,#f9f894,#f5f382,#f6f07a,#f2f380,#f6f27f,#f3aa59,#f4f17d,#f5f88e,#f4e35e,#f6f68c,#f6f292 250.5px);top:133px;height:3px"><i style="opacity:.931"></i></div>
<div class="r" style="--g:linear-gradient(90deg,#f9fbbb .5px,#f5f890,#f4f88e,#f4f88e,#f4f78d,#f3f68a,#f3f68a,#f3f68a,#f3f587,#f3f586,#f3f586,#f2f482,#f2f482,#f2f381,#f2f27d,#f2f27d,#f2f17a,#f1f079,#f1ef75,#f1ee73,#f1ed71,#f1ec6e,#f1ec6c,#f2ea69,#f2e865,#f2e762,#f3e55e,#f3e45b,#f3e258,#f4df53,#f4dd50,#f5db4c,#f6d847,#f7d542,#f7d13d,#f8ce38,#f9c932,#fac42b,#fbbf25,#fbb81d,#fcb216,#fca60b,#fb9b07,#f7860f,#ea6826,#d34e3f,#f57d15,#fa9308,#fca50b,#fcae13,#fbb91e,#fac026,#f9c830,#f8ce38,#f7d340,#f6d847,#f5db4d,#f4e055,#f3e45c,#f2e762,#f2e966,#f1eb6c,#f1ee73,#f1f077,#f2f27d,#f2f381,#f3f586,#f3f68a,#f4f88e,#f5f991,#f6fa94,#f6fa96,#f8fb9a,#f9fc9d,#f9fd9e,#fafda1,#fafda1,#fbfea2,#fcffa4,#fcffa4,#fcffa4,#fcffa4,#fcffa4,#fcffa4,#fcffa4,#fcffa4,#fcffa4,#fcfea4,#fafda1,#fafd9f,#f9fc9d,#f8fb9a,#f7fa96,#f5f992,#f4f78c,#f3f585,#f2f27d,#f1ee72,#f2ea69,#f3e45b,#f5dc4f,#f7d13d,#fac32a,#fbaa11,#ee731f,#f07e1b,#fbb419,#f9c932,#f6d847,#f3e157,#f2ea69,#f1ef75,#f2f380,#f3f68a,#f5f992,#f8fb9a,#fafd9f,#fbfea2,#fcffa4,#fcffa4,#fcffa4,#fcffa4,#fcfea4,#fafda1,#f8fc9b,#f7fb98,#f4f78d,#f2f381,#f2ed6f,#f3e35a,#f7d340,#fbb41b,#dd662f,#fbb218,#f7d03c,#f3e45c,#f1ee72,#f3f484,#f6f994,#f8fc9b,#fbfea2,#fcffa4,#fcffa4,#fcffa4,#fafda1,#f8fb9a,#f4f78b,#f2f078,#f3e45d,#f8ca34,#f79217,#fbb91f,#f5d94a,#f2ed71,#f3f687,#f7fb98,#fbfea2,#fcffa4,#fcffa4,#fbfea2,#f7fa96,#f3f482,#f3e35c,#f9c12c,#f89b19,#f6d747,#f2ed72,#f5f890,#f9fc9e,#fcffa4,#fcffa4,#f8fc9b,#f4f68a,#f3e560,#f7aa27,#f8ad24,#f2e865,#f4f68a,#fafda0,#fcffa4,#fbfea1,#f6f993,#f3e765,#f8a823,#f6b935,#f2f079,#f7fb97,#fcfea4,#fbfea3,#f5f68a,#f4de52,#fab11d,#f3e867,#f6f993,#fcffa4,#fbfea1,#f3f079,#f8bf32,#f4c544,#f4f78c,#fbfea2,#f9fc9e,#f4ed76,#fbb017,#f3e766,#f9fc9c,#fbfea3,#f5f17e,#f9b21f,#f5e567,#fafd9f,#fafd9e,#f5e15b,#f7b62a,#f8f994,#fbfea2,#f5e56c,#f0a33d,#f7f891,#f9fc9d,#f5e461,#f5e869,#fbfea1,#f6ea72,#f7d342,#f8fa97,#f6f587,#efa44e,#fafc9d,#f5f384,#f6e363,#fafd9f,#f8c33d,#f8f892,#fbd95a,#f6f384,#f8d776,#f6d871,#f6f78c,#f6f68c,#f6e467,#f9ed7b,#f3ed71,#fae469,#f8f284,#f6e56a,#fbe56f,#fbe874,#fae56e,#f3e561,#f6e678 250.5px);top:136px;height:3px"><i style="opacity:.609"></i></div>
<div class="r" style="--g:linear-gradient(90deg,#f9fbbb .5px,#f5f992,#f5f992,#f4f88f,#f4f88e,#f4f88e,#f4f88e,#f4f68a,#f3f68a,#f3f68a,#f3f586,#f3f586,#f3f585,#f2f482,#f2f482,#f2f27e,#f2f27d,#f2f17a,#f1f179,#f1f077,#f1ef75,#f1ee72,#f1ed71,#f1ec6d,#f2ea69,#f2e966,#f2e864,#f2e661,#f3e55d,#f3e259,#f4e055,#f4df52,#f5dc4e,#f5d949,#f6d746,#f7d441,#f8d03b,#f8cc35,#f9c72f,#fac228,#fbbd23,#fcb419,#fcad11,#fca109,#fa9407,#f57d15,#ca4943,#dc5c32,#f8880d,#fb9a06,#fcab0f,#fcb318,#fbbd22,#fac42b,#f9ca33,#f8d03b,#f6d542,#f6d948,#f4de51,#f3e157,#f3e55e,#f2e864,#f2ea69,#f1ec6f,#f1ef74,#f1f079,#f2f380,#f2f484,#f3f587,#f4f78b,#f4f88e,#f5f992,#f6fa96,#f7fb99,#f8fb9a,#f9fc9d,#f9fc9d,#fafda1,#fafda1,#fbfea3,#fcffa4,#fcffa4,#fcffa4,#fcffa4,#fcffa4,#fcffa4,#fcffa4,#fcffa4,#fcffa4,#fbfea3,#fafda1,#f9fd9e,#f8fc9b,#f7fb97,#f6fa94,#f4f88e,#f4f68a,#f2f483,#f2f17b,#f1ec6f,#f2e864,#f4e056,#f6d847,#f8cc35,#fbba1f,#f99c0f,#ee6b24,#fb9d0a,#fabf25,#f8cf39,#f5dc4d,#f3e55d,#f2ec6d,#f2f17a,#f3f585,#f5f890,#f6fa96,#f8fb9a,#fafda0,#fbfea3,#fcffa4,#fcffa4,#fcffa4,#fcffa4,#fbfea3,#fafd9f,#f8fb99,#f5f992,#f3f689,#f2f179,#f2ea68,#f4dd50,#f8cc36,#fa9c0f,#f27e1b,#fac129,#f5d949,#f2e864,#f2f27d,#f4f78b,#f7fa96,#f9fc9e,#fcffa4,#fcffa4,#fcffa4,#fcfea4,#fafd9f,#f6fa94,#f3f586,#f2ec6e,#f4de52,#fbb61c,#b45942,#f8c832,#f3e45c,#f2f17c,#f5f891,#f9fc9d,#fcfea3,#fcffa4,#fbfea3,#f9fc9d,#f5f88f,#f2ef76,#f5d94b,#ef8d25,#f3a82b,#f3e35b,#f2f27e,#f7fb99,#fbfea1,#fcffa4,#fbfea2,#f7fa96,#f2f078,#f5d649,#f79219,#f7cf3b,#f2f17b,#f7fa96,#fbfea2,#fcffa4,#f9fc9c,#f3f381,#f5d64a,#fba70e,#f4df54,#f5f78d,#fafda0,#fcfea4,#f8fc9b,#f3ed74,#f5ae2f,#f4b73a,#f3f484,#fafda1,#fcfea3,#f6f994,#f5dd57,#fbae15,#f4e96c,#f9fc9d,#fbfea3,#f5f890,#f6d74a,#f6d445,#f4f689,#fbfea2,#f8fb99,#f5cf4c,#f7cb3d,#f5f78d,#fcffa4,#f4f68a,#f8b727,#f4eb71,#fafda0,#f6f890,#f6d747,#f5ee79,#fafda0,#f4ef78,#f2a339,#f9f994,#f9fb99,#f7d144,#f6f78d,#f8fa96,#f7c235,#f6f485,#f6f88f,#f7bd32,#f9fa96,#f6e666,#fae975,#f7f384,#f8e160,#f9f187,#f5de5a,#f7f07d,#f6ee78,#f6e565,#f8f78e,#f7f07e,#f3ef78,#f8f78e,#f5f588,#f5f381,#f8fa97,#f29a35,#fbca4e 250.5px);top:139px;height:4px"><i style="opacity:.287"></i></div>
<div class="r" style="--g:linear-gradient(90deg,#f9fbbb .5px,#f5f992,#f5f992,#f5f992,#f5f991,#f4f88e,#f4f88e,#f4f88e,#f4f78b,#f3f68a,#f3f68a,#f3f688,#f3f586,#f3f586,#f2f484,#f2f482,#f2f380,#f2f27d,#f2f27d,#f1f179,#f1f078,#f1ef75,#f1ef75,#f1ed71,#f1ed6f,#f1eb6c,#f2ea69,#f2e967,#f2e763,#f2e660,#f3e45d,#f3e359,#f4e054,#f4de51,#f5db4c,#f5d949,#f6d644,#f7d33f,#f8cf39,#f9ca32,#f9c62e,#fac026,#fbbb20,#fcb217,#fca90e,#fb9d07,#f98d0a,#ef711f,#d14843,#f07020,#fa9109,#fca008,#fcad12,#fbb61b,#fbbe24,#f9c72e,#f8cc35,#f7d23e,#f6d644,#f5dc4d,#f4df53,#f3e259,#f2e65f,#f2e967,#f1eb6c,#f1ed71,#f1f078,#f2f17b,#f2f381,#f3f585,#f3f688,#f4f78c,#f5f890,#f6f993,#f7fa96,#f8fb9a,#f8fc9b,#f9fc9d,#fafda0,#fafda1,#fafda1,#fcffa4,#fcffa4,#fcffa4,#fcffa4,#fcffa4,#fcffa4,#fcffa4,#fcffa4,#fcffa4,#fcffa4,#fbfea2,#fafda0,#f9fc9d,#f8fc9c,#f7fa96,#f5f992,#f4f88e,#f3f688,#f2f380,#f1ef76,#f2eb6b,#f2e661,#f4de51,#f7d441,#f9c830,#fcb116,#f88b0e,#f68313,#fcaa11,#fac42c,#f7d441,#f4e054,#f2e865,#f1ed71,#f2f380,#f3f687,#f5f992,#f7fb99,#f9fc9c,#fafda1,#fcfea4,#fcffa4,#fcffa4,#fcffa4,#fcffa4,#fbfea1,#f9fd9e,#f7fb97,#f5f890,#f3f484,#f1ef74,#f2e660,#f6d644,#fabf26,#f68616,#f99d13,#f8cb34,#f4e055,#f2eb6c,#f2f381,#f5f88f,#f8fc9b,#fafda1,#fcfea4,#fcffa4,#fcffa4,#fbfea3,#f8fc9c,#f5f88f,#f2f380,#f2e762,#f7d340,#f89b15,#f79b1b,#f6d443,#f2ea6a,#f3f484,#f7fb98,#fafd9f,#fcffa4,#fcffa4,#fbfea1,#f7fb98,#f3f586,#f2e866,#f8c936,#f9930f,#f8ca34,#f2ec6f,#f4f78b,#f9fc9c,#fcffa4,#fcffa4,#fafd9f,#f5f88e,#f2ea69,#f9c832,#faaf19,#f4e057,#f4f587,#f9fd9e,#fcffa4,#fcfea3,#f7fa95,#f2eb6e,#f9c12a,#f9c731,#f2ec6f,#f7fa96,#fcffa4,#fbfea1,#f5f78e,#f4df5a,#fcab10,#f4e35c,#f7f994,#fcfea4,#fafd9f,#f3f585,#efab44,#f3c447,#f4f484,#fbfea3,#fbfea1,#f3ec70,#f9b120,#f5e362,#f9fc9d,#fafda0,#f4f17e,#f8ba29,#f3ed72,#fafda0,#f8fb99,#f4da59,#f5c542,#f8fb99,#fafd9e,#f5d858,#f7c53b,#f9fc9d,#f9fc9b,#f9cc3b,#f5ec74,#fafda1,#f6de5a,#f8df5b,#fafda1,#f5ec73,#f5ec73,#fafd9f,#f9cb40,#f7f68c,#f8ed77,#f7e363,#f9f489,#f5e25c,#f9f69b,#e8a161,#f8f890,#f5f68a,#f7eb72,#f3f586,#fadf62,#f6f281,#f9e468,#f9e468,#f7f994,#f6d851,#faa73f 250.5px);top:143px;height:3px"><i style="opacity:.965"></i></div>
<div class="r" style="--g:linear-gradient(90deg,#fafcbe .5px,#f6fa96,#f5f992,#f5f992,#f5f992,#f5f992,#f5f890,#f4f88e,#f4f88e,#f4f88e,#f3f68a,#f3f68a,#f3f68a,#f3f587,#f3f586,#f3f586,#f2f482,#f2f482,#f2f37f,#f2f27d,#f2f27c,#f1f179,#f1f079,#f1ef75,#f1ee73,#f1ed71,#f1ec6e,#f2eb6b,#f2ea69,#f2e865,#f2e762,#f3e55f,#f3e35a,#f3e156,#f4df53,#f5dd4f,#f5da4a,#f6d746,#f6d542,#f7d23d,#f8ce38,#f9c931,#fac42c,#fbbe24,#fbb81d,#fcb015,#fca70c,#fb9907,#f7850f,#ec6826,#dc5338,#f57c16,#fa9508,#fca40a,#fcb014,#fbb91f,#fac228,#f9c830,#f8cd37,#f7d441,#f6d746,#f5dc4e,#f4e055,#f3e45b,#f2e762,#f2e966,#f1ec6d,#f1ee73,#f1f079,#f2f27d,#f2f381,#f3f586,#f3f68a,#f4f78d,#f5f991,#f6fa94,#f6fa96,#f8fb99,#f9fc9c,#f9fc9e,#fafda1,#fafda1,#fcfea4,#fcffa4,#fcffa4,#fcffa4,#fcffa4,#fcffa4,#fcffa4,#fcffa4,#fcffa4,#fcffa4,#fcfea4,#fafda1,#fafd9f,#f9fc9c,#f7fb99,#f6fa96,#f5f992,#f4f78d,#f3f586,#f2f17c,#f1ee73,#f2ea68,#f3e45c,#f5dc4d,#f8d03b,#fac32a,#fba60e,#f1771b,#f48716,#fbb51a,#f9c932,#f6d846,#f3e258,#f2ea69,#f1f077,#f2f482,#f4f78c,#f6fa94,#f8fb9a,#f9fd9e,#fbfea2,#fcffa4,#fcffa4,#fcffa4,#fcffa4,#fcfea4,#fafda1,#f8fc9c,#f6fa95,#f4f78d,#f2f37f,#f1ec6d,#f3e35a,#f7d03c,#fbb31b,#f98b0c,#fbb51b,#f7d23f,#f3e45d,#f1ee73,#f3f688,#f6f993,#f9fc9d,#fbfea1,#fcffa4,#fcffa4,#fcfea3,#fafda0,#f7fb99,#f4f68a,#f2f079,#f4e157,#f9c932,#f99511,#faba23,#f5dc4f,#f2ee73,#f3f689,#f8fc9b,#fbfea2,#fcffa4,#fcffa4,#fafd9f,#f6f993,#f2f27e,#f4e157,#fabf27,#faa816,#f5da4b,#f2f078,#f6f993,#fafda1,#fcffa4,#fcfea4,#f8fc9b,#f3f585,#f4de53,#f8a81f,#f5b837,#f2eb6b,#f5f891,#fbfea1,#fcffa4,#fafda0,#f5f88e,#f4df55,#fbaa13,#f6d143,#f2f380,#f9fd9e,#fcffa4,#fafd9f,#f3f380,#f7d03e,#f9c731,#f3ee75,#f8fc9b,#fcffa4,#f8fb98,#f3e766,#f5a32a,#f3e766,#f8fb99,#fbfea3,#f7fa95,#f6d751,#f5ab2f,#f5f383,#fbfea3,#f9fc9b,#f5de55,#f7b228,#f7f78d,#fbfea3,#f5f484,#fabf26,#f5ea71,#fbfea2,#f7f78f,#fac32a,#f4f17e,#fafda0,#f5e86f,#f6d249,#fafd9e,#f8f284,#f8cb3a,#f7f993,#f5f587,#efa344,#f9fa98,#f5e76d,#fad85e,#f8fa97,#f8bf44,#f9fc9b,#f7bf3b,#fafd9f,#f6dd56,#f8f181,#f5e86b,#fccd52,#f8f792,#f4e86a,#f4f17c,#f7eb72,#fcd557,#f6f588,#f8db66 250.5px);top:146px;height:3px"><i style="opacity:.643"></i></div>
<div class="r" style="--g:linear-gradient(90deg,#fafcbe .5px,#f6fa96,#f6fa96,#f6fa95,#f5f992,#f5f992,#f5f992,#f5f992,#f5f88f,#f4f88e,#f4f88e,#f4f78c,#f3f68a,#f3f68a,#f3f68a,#f3f586,#f3f586,#f3f585,#f2f482,#f2f482,#f2f380,#f2f27d,#f2f17b,#f1f179,#f1f078,#f1ef75,#f1ee72,#f1ed71,#f1ec6d,#f2ea69,#f2ea68,#f2e865,#f2e661,#f3e55e,#f3e35a,#f4e156,#f4de51,#f5dc4e,#f5da4a,#f6d745,#f7d441,#f7d03c,#f8cd37,#f9c830,#fac32a,#fbbd22,#fbb61b,#fcae12,#fca40a,#fb9706,#f57d15,#d2523b,#d75a35,#f78410,#fb9907,#fca80d,#fcb216,#fbbc21,#fac329,#f9ca33,#f8cf3a,#f7d441,#f6d848,#f5dd4f,#f3e157,#f3e45d,#f2e864,#f2ea69,#f1ec6e,#f1ef74,#f1f078,#f2f27d,#f2f483,#f3f587,#f4f78a,#f4f88e,#f5f992,#f6fa95,#f7fa97,#f8fb9a,#f9fc9d,#fafd9f,#fafda1,#fbfea1,#fcffa4,#fcffa4,#fcffa4,#fcffa4,#fcffa4,#fcffa4,#fcffa4,#fcffa4,#fcffa4,#fcffa4,#fbfea3,#fafda1,#f9fd9e,#f8fc9b,#f8fb9a,#f6fa95,#f5f991,#f4f78b,#f2f483,#f2f17a,#f1ed70,#f2e966,#f3e259,#f5d949,#f8cc36,#fbbe24,#fa9e0e,#ec6826,#fa990e,#fbbc21,#f8cc36,#f5db4c,#f3e45d,#f2ec6e,#f2f17a,#f3f584,#f5f890,#f6fa95,#f8fc9a,#fafda0,#fbfea3,#fcffa4,#fcffa4,#fcffa4,#fcffa4,#fbfea3,#fafda0,#f8fb9a,#f6f993,#f3f688,#f2f17b,#f2e968,#f4de52,#f8cb35,#fba410,#ea7527,#fabf25,#f6d644,#f2e865,#f2f079,#f4f68a,#f6fa95,#f9fc9e,#fbfea2,#fcffa4,#fcffa4,#fcffa4,#fafd9f,#f6fa95,#f3f586,#f2ed70,#f5dd50,#fabb22,#e5762e,#f9c831,#f3e258,#f2f27f,#f5f88f,#f9fc9c,#fbfea3,#fcffa4,#fbfea3,#f9fc9c,#f5f88f,#f2f078,#f6d848,#f09625,#efa536,#f4e158,#f3f381,#f7fb98,#fafda1,#fcffa4,#fbfea3,#f6f993,#f2f17b,#f6d444,#f99511,#f7d342,#f2f17b,#f6fa95,#fbfea3,#fcffa4,#f8fb9a,#f3f27f,#f6ce41,#faa112,#f4e25c,#f5f88e,#fafd9f,#fcffa4,#f7fb98,#f3e968,#fab921,#f6cd40,#f4f688,#fafda0,#fbfea3,#f6f88f,#f6d648,#f29a30,#f4f17e,#fafd9f,#fbfea1,#f3f483,#f8c935,#f5dc55,#f6f993,#fcffa4,#f5f78c,#fac32e,#f5e05c,#f9fc9b,#fafd9f,#f6d959,#f7cf40,#f6f891,#fafda1,#f4e564,#f5e25b,#f9fc9b,#f7f994,#f8c731,#f6ed7a,#fafd9f,#f6e15c,#f5f27f,#fafda0,#f9d044,#f7f385,#f6f68a,#f1a849,#f8fa97,#f8c43d,#f7f892,#f6d54c,#f9f690,#f9c146,#f9fa96,#f6f07d,#f9da61,#f8c965,#f7d173,#f6f180,#f2ed72,#f9fc9b,#f6ee88 250.5px);top:149px;height:4px"><i style="opacity:.321"></i></div>
<div class="r" style="--g:linear-gradient(90deg,#fafcbe .5px,#f6fa96,#f6fa96,#f6fa96,#f6fa96,#f6f994,#f5f992,#f5f992,#f5f992,#f5f992,#f4f88e,#f4f88e,#f4f88e,#f4f78e,#f3f68a,#f3f68a,#f3f689,#f3f586,#f3f586,#f2f484,#f2f482,#f2f482,#f2f37f,#f2f27d,#f2f27c,#f1f179,#f1ef76,#f1ef75,#f1ed71,#f1ed70,#f1ec6d,#f2eb6a,#f2e967,#f2e863,#f2e660,#f3e45d,#f3e35a,#f4e055,#f4de52,#f5dc4d,#f5da4a,#f6d644,#f7d33f,#f8cf3a,#f8cc35,#f9c72f,#fac127,#fbbc21,#fcb519,#fcad11,#fca008,#fa9208,#f37919,#cd4844,#ea6727,#f88a0c,#fb9c08,#fcab0f,#fcb419,#fbbd23,#fac42b,#f9cb34,#f7d13c,#f6d542,#f5da49,#f4dd50,#f3e259,#f3e55d,#f2e864,#f2ea69,#f1ed70,#f1ef75,#f2f17b,#f2f37f,#f2f482,#f3f688,#f4f78c,#f5f88f,#f6f993,#f6fa96,#f7fb98,#f8fc9b,#f9fc9d,#f9fd9e,#fafda1,#fafda1,#fcfea4,#fcffa4,#fcffa4,#fcffa4,#fcffa4,#fcffa4,#fcffa4,#fcffa4,#fcffa4,#fcffa4,#fbfea2,#fafda1,#f9fc9d,#f9fc9c,#f7fb99,#f6f993,#f5f890,#f3f688,#f2f381,#f2f179,#f1ec6e,#f2e763,#f4e055,#f6d746,#f9ca33,#fbb91e,#f99510,#e96827,#fba00d,#fac027,#f7d13c,#f4de51,#f2e660,#f1ec6e,#f2f17b,#f3f586,#f4f88e,#f6fa95,#f8fc9c,#fafda1,#fcfea4,#fcffa4,#fcffa4,#fcffa4,#fcffa4,#fbfea2,#f9fd9e,#f7fb98,#f5f891,#f3f586,#f2f17a,#f2e864,#f5dc4d,#f9c62e,#ef8c19,#e27526,#f9c62e,#f5db4c,#f2e968,#f2f17b,#f4f78c,#f7fb97,#f9fd9e,#fcfea3,#fcffa4,#fcffa4,#fcfea3,#f9fc9d,#f6fa94,#f3f483,#f2eb6b,#f5d949,#f8aa1d,#f28218,#f7d23f,#f3e661,#f2f380,#f6f993,#f9fc9d,#fcffa4,#fcffa4,#fbfea2,#f8fc9b,#f3f689,#f2ec6e,#f7cf3c,#c06243,#f9c42e,#f2e865,#f3f585,#f8fc9b,#fbfea3,#fcffa4,#fafda1,#f5f890,#f2ed71,#f8c834,#f89c19,#f5da4e,#f3f484,#f8fb99,#fcfea4,#fcfea4,#f7fa95,#f2ee74,#f6b731,#f9ba27,#f3e969,#f6fa95,#fbfea3,#fbfea2,#f5f890,#f4df58,#fcaa0f,#f4e15b,#f7fa95,#fcfea3,#fafda0,#f3f483,#f9b829,#f6ca40,#f6f78d,#fcffa4,#f9fc9c,#f3e869,#f39c30,#f3ef77,#fafda0,#f9fc9d,#f4eb70,#f8cf3a,#f4f484,#fcfea3,#f6f78e,#f7d040,#f3ec71,#fbfea1,#f6f68c,#f8be2e,#f7ed78,#fbfea3,#f7dc63,#f6d54d,#f9fc9d,#f5f27f,#f2a940,#fafb9a,#f5e87a,#f5c356,#fafda0,#f3e867,#f8f994,#f5f07b,#f6f68c,#f8e56f,#faef84,#f7e568,#f5f588,#f7b54e,#f6fa95,#f6f488,#faed7b,#f9e46a,#faf794,#f6f69d 250.5px);top:153px;height:3px"><i style="opacity:.999"></i></div>
<div class="r" style="--g:linear-gradient(90deg,#fafdc0 .5px,#f7fb98,#f6fa96,#f6fa96,#f6fa96,#f6fa96,#f6fa96,#f5f992,#f5f992,#f5f992,#f5f992,#f5f890,#f4f88e,#f4f88e,#f4f88e,#f4f78c,#f3f68a,#f3f68a,#f3f68a,#f3f586,#f3f586,#f3f585,#f2f482,#f2f482,#f2f27e,#f2f27d,#f2f17a,#f1f179,#f1ef75,#f1ef74,#f1ed71,#f1ec6e,#f1ec6d,#f2ea69,#f2e966,#f2e762,#f2e55f,#f3e45c,#f3e259,#f4e156,#f4de51,#f5db4c,#f6d948,#f6d543,#f7d23e,#f8cf3a,#f9cb34,#f9c72f,#fac127,#fbbc21,#fcb217,#fcab10,#fb9e08,#fa9009,#f2751b,#d64b40,#eb6a25,#f98d0a,#fb9d07,#fcac11,#fcb519,#fbbe24,#fac52c,#f9cb34,#f7d13d,#f6d643,#f5da4b,#f4de51,#f3e157,#f3e55d,#f2e864,#f2eb6b,#f1ec6e,#f1ef76,#f2f17a,#f2f380,#f2f483,#f3f689,#f4f78d,#f5f890,#f5f992,#f6fa96,#f7fb99,#f8fb9a,#f9fc9d,#fafd9f,#fafda1,#fbfea2,#fcffa4,#fcffa4,#fcffa4,#fcffa4,#fcffa4,#fcffa4,#fcffa4,#fcffa4,#fcffa4,#fcffa4,#fafda1,#fafda1,#f9fd9e,#f8fc9b,#f7fb98,#f6fa94,#f4f78d,#f3f689,#f2f37f,#f1f077,#f1eb6c,#f2e661,#f4df53,#f6d644,#f9c932,#fbb51a,#eb8a16,#c05639,#fca80e,#fac42b,#f7d23e,#f4de51,#f2e661,#f1ed71,#f2f27d,#f3f687,#f5f890,#f7fb97,#f9fc9d,#fafda0,#fbfea3,#fcffa4,#fcffa4,#fcffa4,#fcffa4,#fbfea3,#fafda0,#f8fb99,#f5f992,#f3f585,#f1ef76,#f2e762,#f5d94a,#f9c52d,#f07d1c,#f99810,#f9c932,#f4dd50,#f2eb6c,#f2f381,#f5f88f,#f8fb99,#fafda0,#fcffa4,#fcffa4,#fcffa4,#fbfea2,#f8fc9b,#f5f891,#f2f37f,#f2e966,#f6d746,#f99a17,#fa9e11,#f7d240,#f2e966,#f2f381,#f7fa96,#f9fd9e,#fcffa4,#fcffa4,#fbfea3,#f7fb98,#f3f586,#f2ea68,#f8cb36,#f3871d,#f8c935,#f2eb6b,#f4f68a,#f9fd9e,#fcfea4,#fcfea4,#fafd9f,#f5f78d,#f2e967,#f6bc36,#f5a028,#f3e25a,#f4f78c,#f9fc9d,#fcffa4,#fbfea3,#f6f991,#f3e867,#fac22a,#f8ca36,#f2ef76,#f8fb9a,#fcfea4,#fafd9f,#f4f689,#f6d244,#fab41d,#f3e96a,#f9fc9c,#fcffa4,#f8fb99,#f3ed73,#f8b124,#f3e45f,#f8fa97,#fcffa4,#f8fa96,#f5da4e,#f7af26,#f6f589,#fbfea3,#f7fa95,#f6d649,#f8cd3f,#f7fa96,#fbfea2,#f3ee74,#f8b323,#f7f58a,#fbfea3,#f6e96e,#f6b732,#f8f995,#f7f994,#f7c83a,#f5f689,#fafda0,#f8d347,#f6ef7d,#f8fb98,#f7d23f,#f8f891,#f6e66b,#f7da5c,#f6f486,#f8dd59,#f8e778,#f7da5e,#fbc751,#f8f793,#fcce4f,#f9e568,#f4f68a,#f9ed7a,#f6f68b,#f8faa7 250.5px);top:156px;height:3px"><i style="opacity:.677"></i></div>
<div class="r" style="--g:linear-gradient(90deg,#fafdc0 .5px,#f8fb9a,#f8fb9a,#f7fb99,#f6fa96,#f6fa96,#f6fa96,#f6fa96,#f6fa96,#f6f993,#f5f992,#f5f992,#f5f992,#f5f992,#f4f88e,#f4f88e,#f4f88e,#f4f78d,#f3f68a,#f3f68a,#f3f688,#f3f586,#f3f586,#f2f484,#f2f482,#f2f381,#f2f27d,#f2f27d,#f1f179,#f1f179,#f1ef76,#f1ef75,#f1ed71,#f1ed6f,#f1eb6c,#f2ea69,#f2e967,#f2e763,#f2e660,#f3e45d,#f3e35a,#f4e055,#f4de52,#f5db4c,#f5d949,#f6d644,#f7d33f,#f8cf39,#f9ca33,#f9c62e,#fac026,#fbbb20,#fcb317,#fcaa0f,#fb9e08,#f98e0a,#f1751c,#c94448,#ee6d22,#fa8f09,#fb9f08,#fcac11,#fbb61b,#fbbe24,#fac62d,#f9cb34,#f7d13c,#f6d644,#f5dc4d,#f4df53,#f3e259,#f2e65f,#f2e966,#f2ea6a,#f1ed70,#f1f077,#f2f17b,#f2f381,#f3f585,#f3f688,#f4f78c,#f5f88f,#f6f993,#f7fa96,#f8fb9a,#f8fc9b,#f9fc9d,#fafda0,#fafda1,#fafda1,#fcffa4,#fcffa4,#fcffa4,#fcffa4,#fcffa4,#fcffa4,#fcffa4,#fcffa4,#fcffa4,#fcffa4,#fbfea2,#fafda1,#f9fc9d,#f8fc9c,#f7fa96,#f5f992,#f4f88e,#f3f688,#f2f381,#f1f078,#f2eb6b,#f2e661,#f4df53,#f6d542,#f9c831,#fcb318,#f98e0d,#f57f15,#fca910,#fac42b,#f7d441,#f4df53,#f2e865,#f1ed71,#f2f380,#f3f587,#f5f992,#f7fb98,#f8fc9c,#fafda1,#fcfea4,#fcffa4,#fcffa4,#fcffa4,#fcffa4,#fbfea2,#f9fd9e,#f7fb97,#f5f890,#f3f484,#f1ef75,#f2e763,#f6d746,#fac128,#f78916,#f99c13,#f9ca34,#f4e055,#f2eb6c,#f2f380,#f5f88f,#f8fc9b,#fafda1,#fcfea4,#fcffa4,#fcffa4,#fbfea1,#f9fc9c,#f5f88f,#f2f381,#f2e762,#f7d441,#f99d14,#f99e18,#f6d645,#f2ea6a,#f3f483,#f7fb97,#fafd9f,#fcffa4,#fcffa4,#fbfea1,#f7fb99,#f3f484,#f2e763,#f8c434,#fa980a,#f8cf3a,#f2ed72,#f4f78d,#f9fd9e,#fcffa4,#fcffa4,#f9fc9c,#f4f68a,#f3e661,#fabb23,#fac028,#f3e561,#f4f78b,#fafd9f,#fcffa4,#fafd9f,#f5f88f,#f3e45d,#e58738,#f1cd4d,#f3f27f,#f9fc9c,#fcffa4,#fafd9f,#f3f280,#f6d041,#f8b828,#f2f07a,#f9fc9d,#fcfea4,#f7fa96,#f3e561,#f9b822,#f3eb6f,#f8fb99,#fcffa4,#f5f890,#f8bf33,#f5cb44,#f6f891,#fcffa4,#f6f588,#f9c530,#f5de58,#fbfea1,#fafd9f,#d4af65,#d0a962,#f8fb99,#f9fc9c,#f5dc54,#f5e76c,#fafda1,#f4ed74,#f7be33,#fafb9b,#f7f285,#f5dc55,#fbfea2,#f7e56b,#f7e872,#f8f59a,#e59c5e,#f9fc9c,#f9da59,#fafb9a,#f5ef79,#f9eb77,#f4ef7a,#f3ef76,#cc897d,#f4f88e,#f7e668,#f9fcae 250.5px);top:159px;height:3px"><i style="opacity:.355"></i></div>
<div class="r" style="--g:linear-gradient(90deg,#fafdc0 .5px,#f8fb9a,#f8fb9a,#f8fb9a,#f8fb9a,#f7fb97,#f6fa96,#f6fa96,#f6fa96,#f6fa96,#f6fa96,#f5f992,#f5f992,#f5f992,#f5f992,#f5f890,#f4f88e,#f4f88e,#f4f88e,#f4f78c,#f3f68a,#f3f68a,#f3f68a,#f3f586,#f3f586,#f3f585,#f2f482,#f2f482,#f2f27d,#f2f27d,#f2f17a,#f1f079,#f1ef75,#f1ef75,#f1ee72,#f1ec6e,#f1ec6d,#f2ea69,#f2e865,#f2e762,#f2e661,#f3e45c,#f3e258,#f4e055,#f4de51,#f5dc4e,#f6d948,#f6d543,#f7d23d,#f8cf3a,#f9cb34,#f9c72e,#fac027,#fbbb20,#fcb318,#fcab0f,#fba008,#f98f09,#f37819,#d14743,#ee6d22,#f98d0b,#fb9e07,#fcac10,#fbb61b,#fbbe24,#f9c62e,#f9cb35,#f7d23e,#f6d543,#f5da4a,#f4de51,#f3e258,#f3e55e,#f2e864,#f2eb6b,#f1ed71,#f1ef76,#f2f17a,#f2f380,#f2f484,#f3f587,#f4f78d,#f4f88e,#f5f992,#f6fa96,#f8fb99,#f8fb9a,#f9fc9d,#fafd9f,#fafda1,#fbfea2,#fcffa4,#fcffa4,#fcffa4,#fcffa4,#fcffa4,#fcffa4,#fcffa4,#fcffa4,#fcffa4,#fcfea4,#fafda1,#fafd9f,#f9fc9d,#f8fc9b,#f7fb97,#f6fa94,#f4f78d,#f3f587,#f2f380,#f1f077,#f1ec6e,#f2e661,#f4df53,#f6d542,#f9c830,#fbb217,#f78d10,#f27a19,#fcab10,#fac42b,#f7d340,#f4de51,#f2e865,#f1ed70,#f2f27e,#f3f689,#f5f890,#f7fb97,#f9fc9d,#fafda0,#fbfea3,#fcffa4,#fcffa4,#fcffa4,#fcffa4,#fbfea2,#f9fc9d,#f7fb99,#f5f88f,#f3f484,#f1ef75,#f2e762,#f6d746,#fac128,#c4623e,#f9a111,#f9ca33,#f4e055,#f2eb6c,#f2f381,#f5f890,#f8fb99,#fafda0,#fcffa4,#fcffa4,#fcffa4,#fbfea2,#f8fc9b,#f4f88e,#f2f27f,#f2e763,#f7d341,#ef8a28,#f9a717,#f7d442,#f2eb6c,#f3f484,#f7fb99,#fbfea1,#fcffa4,#fcffa4,#fbfea1,#f7fb97,#f3f484,#f2e662,#f9ca34,#f08625,#f7d13e,#f2ed71,#f4f78d,#fafd9e,#fcffa4,#fcfea4,#f9fc9c,#f4f68a,#f3e35b,#da9a39,#cd944b,#f2e865,#f5f78e,#fbfda1,#fcffa4,#fafda0,#f5f88e,#f4df55,#faa815,#f6d244,#f3f484,#f9fc9d,#fcffa4,#f9fc9d,#f2f17b,#f8c32e,#f7d03e,#f3f27d,#fafd9f,#fcffa4,#f6f890,#f5d94f,#fbb820,#f3f27d,#fafda0,#fbfea1,#f4f484,#f1a138,#f4e460,#f8fb98,#fbfea2,#f5f07f,#fbbd22,#f3ef79,#fbfea1,#f7f994,#f4af3a,#f3ed73,#fafd9f,#f6f487,#f7b42c,#f7f993,#fafd9f,#f8d548,#f6e970,#fafd9e,#f6c53d,#f6e876,#f8f790,#f7d645,#fafda1,#f5df59,#fbf288,#f8dd5a,#f6f78c,#f5e15c,#fae777,#fae674,#f2f17a,#fae469,#f8d34d,#f9fbac 250.5px);top:162px;height:4px"><i style="opacity:.033"></i></div>
<div class="r" style="--g:linear-gradient(90deg,#fafdc0 .5px,#f8fb9a,#f8fb9a,#f8fb9a,#f8fb9a,#f8fb9a,#f8fb9a,#f7fb98,#f6fa96,#f6fa96,#f6fa96,#f6fa96,#f6fa96,#f6f993,#f5f992,#f5f992,#f5f992,#f5f991,#f4f88e,#f4f88e,#f4f88e,#f4f78d,#f3f68a,#f3f68a,#f3f68a,#f3f586,#f3f586,#f2f483,#f2f482,#f2f482,#f2f27e,#f2f27d,#f1f179,#f1f179,#f1ef76,#f1ef75,#f1ed71,#f1ed6f,#f1eb6c,#f2ea69,#f2e966,#f2e763,#f2e660,#f3e45d,#f3e359,#f4e054,#f4de51,#f5db4c,#f5d948,#f6d644,#f7d23f,#f8cf3a,#f9cb34,#f9c62e,#fac228,#fbbb20,#fcb318,#fcab10,#fca209,#f98f09,#f37819,#70322e,#ed6a24,#f98b0c,#fb9e08,#fcaa0f,#fcb519,#fbbe23,#fac52c,#f9cb34,#f8d03b,#f6d543,#f5da4a,#f4dd50,#f4e156,#f2e65f,#f2e763,#f2ea6a,#f1ed70,#f1ef74,#f2f17b,#f2f37f,#f3f585,#f3f689,#f4f78c,#f5f890,#f6f993,#f6fa96,#f7fb98,#f8fb9a,#f9fc9d,#f9fd9e,#fafda1,#fafda1,#fcffa4,#fcffa4,#fcffa4,#fcffa4,#fcffa4,#fcffa4,#fcffa4,#fcffa4,#fcffa4,#fcffa4,#fbfea1,#fafda0,#f9fc9d,#f8fc9c,#f7fb98,#f6f993,#f5f88f,#f3f688,#f2f380,#f1f079,#f1ec6e,#f2e661,#f4df53,#f6d644,#f9ca33,#fbb61b,#f9920b,#bf543e,#fba80f,#fac026,#f7d23f,#f4dd50,#f2e661,#f1ed70,#f2f27e,#f3f688,#f5f890,#f7fa97,#f9fc9c,#fafda1,#fcffa4,#fcffa4,#fcffa4,#fcffa4,#fcffa4,#fcfea3,#f9fc9e,#f8fb99,#f5f890,#f3f587,#f2ef76,#f2e864,#f5da4a,#fac128,#f89411,#f89914,#f9c52d,#f4df52,#f2eb6b,#f2f380,#f5f88f,#f8fb9a,#fafda1,#fcfea4,#fcffa4,#fcffa4,#fbfea3,#f9fc9d,#f5f88f,#f2f380,#f2e865,#f7d23f,#f9a51b,#f89e1b,#f7d23e,#f2eb6b,#f3f483,#f7fa97,#fafda0,#fcffa4,#fcffa4,#fbfea1,#f7fb98,#f3f587,#f3e661,#f8c832,#fba60f,#f7d13d,#f2ec6f,#f5f88f,#f9fc9d,#fcffa4,#fcffa4,#f8fc9b,#f4f688,#f3e45e,#fab31c,#f9b522,#f2e968,#f4f78c,#fbfea2,#fcffa4,#fafd9f,#f4f78c,#f4e058,#f89b19,#f6d448,#f3f586,#f9fd9e,#fcffa4,#f9fc9e,#f3ee75,#f7bd33,#f4ba3f,#f3f585,#fafd9f,#fbfea3,#f6f890,#f6d647,#f7ab25,#f5f382,#fbfea2,#fafd9f,#f3f078,#f8cb35,#f3eb6f,#f9fc9c,#fafda1,#f3eb6f,#f8cb3a,#f5f588,#fbfea3,#f4f483,#f7cc3b,#f6f589,#fbfea2,#f4e666,#f8ca3c,#fafc9b,#f7f78d,#f4de52,#f9fc9b,#f9ee7f,#f6db50,#f9fc9d,#efae52,#f5eb86,#f6e16b,#f7d861,#fbe167,#f6f68a,#f4f586,#f9ef86,#fcd963,#f8ea71,#f4ea6e,#fbf6a0 250.5px);top:166px;height:3px"><i style="opacity:.711"></i></div>
<div class="r" style="--g:linear-gradient(90deg,#fbfdc2 .5px,#f9fc9d,#f9fc9c,#f8fb9a,#f8fb9a,#f8fb9a,#f8fb9a,#f8fb9a,#f8fb9a,#f8fb99,#f6fa96,#f6fa96,#f6fa96,#f6fa96,#f6fa96,#f6fa94,#f5f992,#f5f992,#f5f992,#f5f992,#f4f88e,#f4f88e,#f4f88e,#f4f88e,#f3f68a,#f3f68a,#f3f689,#f3f586,#f3f586,#f3f584,#f2f482,#f2f381,#f2f27d,#f2f27d,#f2f17a,#f1f179,#f1f077,#f1ef75,#f1ee72,#f1ed70,#f1ec6d,#f2ea69,#f2e967,#f2e864,#f2e661,#f3e55d,#f3e35a,#f4e156,#f4df52,#f5dc4d,#f5d949,#f6d745,#f7d340,#f8d03b,#f9cc35,#f9c72f,#fac329,#fbbc21,#fbb61a,#fcac11,#fca209,#fa9408,#f67f14,#d14e3e,#e6632b,#f78510,#fb9b07,#fca70d,#fcb418,#fbbc21,#fac42b,#f9ca32,#f8cf3a,#f6d543,#f5d949,#f4de51,#f3e258,#f3e55e,#f2e864,#f2e968,#f1ed6f,#f1ef75,#f2f17a,#f2f27e,#f2f484,#f3f688,#f4f78b,#f4f88f,#f5f992,#f6fa96,#f8fb99,#f8fc9a,#f9fc9d,#f9fc9d,#fafda1,#fafda1,#fcfea4,#fcffa4,#fcffa4,#fcffa4,#fcffa4,#fcffa4,#fcffa4,#fcffa4,#fcffa4,#fcffa4,#fbfea2,#fafda1,#f9fd9e,#f9fc9d,#f7fa97,#f6f994,#f5f890,#f3f689,#f2f482,#f2f17b,#f1ed6f,#f2e864,#f3e157,#f6d847,#f8cc35,#fbba20,#fa980c,#e2612e,#fba30c,#fbbd23,#f7d13c,#f5dc4e,#f3e55f,#f1ec6f,#f2f17b,#f3f586,#f4f78d,#f7fb98,#f8fc9b,#fafda0,#fcfea3,#fcffa4,#fcffa4,#fcffa4,#fcffa4,#fbfea2,#fafd9f,#f7fb98,#f5f992,#f3f688,#f2f17b,#f2e864,#f5dc4e,#f9c62e,#fba10e,#f99411,#fac32a,#f5db4d,#f2e866,#f2f17b,#f4f78c,#f7fa97,#fafda0,#fbfea3,#fcffa4,#fcffa4,#fbfea2,#f9fd9e,#f5f992,#f2f482,#f2ea6a,#f6d746,#fbb41a,#fa9d13,#f8cf3a,#f2e764,#f2f381,#f6f993,#f9fd9e,#fcfea4,#fcffa4,#fbfea3,#f7fb98,#f3f689,#f2e867,#f7d03b,#fca50b,#f8cd39,#f2e969,#f4f88e,#f9fc9d,#fcffa4,#fcffa4,#fafd9e,#f4f78b,#f3e764,#f7af29,#f8a921,#f3e763,#f4f78b,#fbfda1,#fcffa4,#fafd9f,#f4f78d,#f4e35d,#fba912,#f7ce3d,#f3f585,#f9fc9d,#fcfea4,#f9fc9d,#f3ef78,#f9bb27,#f8c735,#f4f484,#fafd9f,#fbfea3,#f6f991,#f6c93e,#f9be2c,#f4f280,#fbfea3,#fafd9e,#f3eb70,#f19934,#f3f07a,#fafda0,#f8fb99,#f4e05e,#f7c93a,#f7fa96,#fafd9f,#f4e76b,#f9c832,#f8fb99,#fafd9f,#f8d448,#f5e262,#fafd9f,#f5e362,#f8de5a,#fafd9f,#f6e362,#f6f68a,#f7f890,#f4ed72,#fafb9b,#f3ed73,#f7f992,#f7e465,#f8e568,#f7fa97,#f4f68b,#f8d46c,#fbe193 250.5px);top:169px;height:3px"><i style="opacity:.389"></i></div>
<div class="r" style="--g:linear-gradient(90deg,#fbfdc2 .5px,#f9fc9d,#f9fc9d,#f9fc9d,#f9fc9d,#f8fb9a,#f8fb9a,#f8fb9a,#f8fb9a,#f8fb9a,#f8fb9a,#f8fb9a,#f7fa97,#f6fa96,#f6fa96,#f6fa96,#f6fa96,#f6fa95,#f5f992,#f5f992,#f5f992,#f5f992,#f5f88f,#f4f88e,#f4f88e,#f4f88e,#f4f78b,#f3f68a,#f3f68a,#f3f586,#f3f586,#f3f586,#f2f482,#f2f482,#f2f27e,#f2f27d,#f2f17b,#f1f179,#f1f078,#f1ef75,#f1ee73,#f1ed71,#f1ec6d,#f2ea6a,#f2ea68,#f2e865,#f2e661,#f3e55e,#f3e35b,#f3e258,#f4df53,#f5dd4f,#f5da4a,#f6d847,#f7d441,#f7d13c,#f8cd37,#f9c830,#fac42c,#fbbd23,#fbb71c,#fcaf13,#fca50b,#fb9807,#f78410,#e2602e,#d3503d,#f57e14,#fb9707,#fca50b,#fcb015,#fbba1f,#fac229,#f9c831,#f8ce38,#f7d441,#f6d847,#f4dd50,#f4e156,#f3e45c,#f2e763,#f2e966,#f1ec6d,#f1ef74,#f1f077,#f2f27d,#f2f482,#f3f586,#f3f68a,#f4f88e,#f5f992,#f6fa95,#f7fb98,#f8fb9a,#f9fc9d,#f9fc9d,#fafda0,#fafda1,#fbfea3,#fcffa4,#fcffa4,#fcffa4,#fcffa4,#fcffa4,#fcffa4,#fcffa4,#fcffa4,#fcffa4,#fcfea3,#fafda1,#fafd9f,#f9fc9d,#f7fb98,#f6fa95,#f5f991,#f4f78c,#f2f484,#f2f27d,#f1ee72,#f2e968,#f3e35a,#f5db4b,#f8cf39,#fac127,#fca40c,#e66728,#f59013,#fbb71d,#f8cc35,#f5da4a,#f3e35a,#f2eb6c,#f1f077,#f2f484,#f4f78b,#f6fa95,#f8fb9a,#fafd9f,#fbfea2,#fcffa4,#fcffa4,#fcffa4,#fcffa4,#fbfea3,#fafda0,#f8fc9a,#f6f994,#f4f78b,#f2f27f,#f2eb6a,#f4e156,#f8cc35,#fbac14,#f98f0e,#fbb91f,#f6d645,#f2e661,#f2f077,#f3f68a,#f6fa94,#fafd9f,#fbfea2,#fcffa4,#fcffa4,#fbfea3,#fafda0,#f6fa95,#f3f587,#f1ee72,#f5db4d,#fabc23,#fa9b0d,#f9c730,#f3e45d,#f2f27c,#f5f88e,#f9fc9c,#fbfea3,#fcffa4,#fcfea4,#f8fc9b,#f4f78d,#f2ed71,#f6d442,#fba812,#f9c52d,#f2e661,#f4f688,#f8fb9a,#fcfea3,#fcffa4,#fafda0,#f5f88f,#f2ec70,#f6c333,#c96e44,#f3e35e,#f3f585,#f9fc9d,#fcffa4,#fbfea2,#f5f88f,#f3e869,#f59925,#f8cb36,#f3f27e,#f9fc9c,#fcffa4,#f9fc9d,#f4f17e,#ecaf42,#e9a141,#f3f483,#fafda0,#fbfea2,#f6f890,#f6d448,#f8b327,#f4f280,#fbfea2,#fafda0,#f3eb6f,#fbb71d,#f5ee79,#fbfea1,#f8fb99,#f5d94e,#f8ce41,#f8fb98,#fafda0,#f5dd55,#f7d244,#f9fb99,#f8fa95,#f6d546,#f6f68b,#f9fb98,#f8c83a,#f6f281,#f6f890,#f4b03f,#f8fa95,#f8d149,#f7f78e,#f4e45f,#f7f283,#f3ec70,#f7ee78,#fcd962,#f9ec7c,#faf8a4 250.5px);top:172px;height:4px"><i style="opacity:.067"></i></div>
<div class="r" style="--g:linear-gradient(90deg,#fbfdc2 .5px,#f9fc9d,#f9fc9d,#f9fc9d,#f9fc9d,#f9fc9d,#f9fc9d,#f8fb9a,#f8fb9a,#f8fb9a,#f8fb9a,#f8fb9a,#f8fb9a,#f8fb9a,#f7fb98,#f6fa96,#f6fa96,#f6fa96,#f6fa96,#f6fa96,#f5f992,#f5f992,#f5f992,#f5f992,#f5f890,#f4f88e,#f4f88e,#f4f88e,#f4f78c,#f3f68a,#f3f68a,#f3f68a,#f3f586,#f3f586,#f2f482,#f2f482,#f2f482,#f2f27d,#f2f27c,#f1f179,#f1f179,#f1ef75,#f1ee74,#f1ed71,#f1ec6e,#f2eb6b,#f2ea69,#f2e966,#f2e762,#f2e55f,#f3e45c,#f3e259,#f4df54,#f4de51,#f5dc4e,#f6d948,#f6d543,#f7d23e,#f8ce39,#f9cb34,#fac62d,#fac026,#fbbb20,#fcb217,#fca90e,#fb9e08,#f98c0b,#f1741d,#b73e4f,#f0721e,#f9900a,#fca008,#fcad12,#fbb71c,#fabf25,#f9c62e,#f8cc36,#f7d23d,#f6d745,#f5db4b,#f4de51,#f3e259,#f2e660,#f2e864,#f2eb6b,#f1ed71,#f1ef76,#f2f27c,#f2f380,#f3f586,#f3f68a,#f4f78d,#f5f891,#f6fa94,#f7fb97,#f8fb9a,#f8fb9a,#f9fc9d,#fafd9f,#fafda1,#fbfea2,#fcffa4,#fcffa4,#fcffa4,#fcffa4,#fcffa4,#fcffa4,#fcffa4,#fcffa4,#fcffa4,#fcffa4,#fafda1,#fafda0,#f9fc9d,#f8fc9b,#f7fb97,#f5f992,#f4f78d,#f3f586,#f2f37f,#f1f077,#f2eb6b,#f3e45d,#f4de51,#f7d441,#f9c62e,#fcaf14,#ee8018,#dc6b2a,#fcaf14,#f9c52d,#f6d543,#f4df53,#f2e865,#f1ee74,#f2f381,#f3f689,#f5f992,#f7fb97,#f9fd9e,#fbfea2,#fcffa4,#fcffa4,#fcffa4,#fcffa4,#fcffa4,#fbfea3,#f8fc9c,#f7fb97,#f4f88e,#f2f483,#f1ed71,#f3e55e,#f7d441,#fbbb22,#f78711,#fbad16,#f8cf3a,#f3e35a,#f1ed70,#f3f585,#f5f992,#f9fc9c,#fbfea1,#fcffa4,#fcffa4,#fcfea4,#fafda1,#f8fc9b,#f4f78b,#f2f17a,#f3e259,#f8cb35,#fa970f,#fab923,#f5db4d,#f2ef74,#f4f68a,#f8fc9a,#fbfea1,#fcffa4,#fcffa4,#f9fd9e,#f6f992,#f2f17b,#f4de52,#fab21a,#fab71e,#f4de52,#f3f27e,#f7fa96,#fbfea2,#fcffa4,#fbfea3,#f6fa95,#f2f17c,#f7d13f,#8d5746,#f6d648,#f2f380,#f8fb9a,#fcfea4,#fcfea3,#f7fa97,#f2ee75,#efa538,#f2ab34,#f3ec71,#f7fb98,#fcfea4,#fafda0,#f5f689,#f7d03e,#f7a523,#f3ef78,#f9fc9d,#fcffa4,#f6fa94,#f5d750,#fabf28,#f3ef76,#fbfea3,#fbfea2,#f4e96d,#f6a329,#f5ec72,#fbfea3,#f8fa97,#f4cc4e,#f3ba45,#f9fc9d,#fafd9f,#f7d146,#f5d752,#fafd9e,#f5f485,#f5b43d,#f9fb99,#f6f394,#e19659,#fafc9e,#f6e360,#f8eb77,#f8ee79,#f7eb72,#f9f184,#f9f082,#f6e260,#f6f07d,#f7f88f,#fafcae 250.5px);top:176px;height:3px"><i style="opacity:.745"></i></div>
<div class="r" style="--g:linear-gradient(90deg,#fbfdc2 .5px,#f9fc9d,#f9fc9d,#f9fc9d,#f9fc9d,#f9fc9d,#f9fc9d,#f9fc9d,#f9fc9d,#f8fc9b,#f8fb9a,#f8fb9a,#f8fb9a,#f8fb9a,#f8fb9a,#f8fb9a,#f7fb99,#f6fa96,#f6fa96,#f6fa96,#f6fa96,#f6fa96,#f6fa96,#f5f992,#f5f992,#f5f992,#f5f992,#f5f890,#f4f88e,#f4f88e,#f4f78d,#f3f68a,#f3f68a,#f3f68a,#f3f587,#f3f586,#f3f586,#f2f482,#f2f482,#f2f37f,#f2f27d,#f2f17b,#f1f179,#f1ef76,#f1ef75,#f1ee73,#f1ed6f,#f1ec6d,#f2ea6a,#f2ea69,#f2e865,#f2e762,#f3e55e,#f3e359,#f4e156,#f4de52,#f5dd4f,#f5da4a,#f6d746,#f7d340,#f7d13d,#f8cc36,#f9c830,#fac32a,#fbbd22,#fbb61a,#fcad12,#fca40a,#fa9507,#f68112,#de5636,#e25b31,#f78510,#fb9a07,#fca70c,#fcb317,#fbbc21,#fac42b,#f9c931,#f8cf3a,#f7d441,#f6d948,#f4dd50,#f4e156,#f3e45c,#f2e763,#f2ea6a,#f1ec6e,#f1ee74,#f1f179,#f2f37f,#f2f483,#f3f688,#f4f78c,#f5f890,#f5f992,#f6fa95,#f7fb98,#f8fb9a,#f9fc9d,#f9fd9e,#fafda1,#fafda1,#fcffa4,#fcffa4,#fcffa4,#fcffa4,#fcffa4,#fcffa4,#fcffa4,#fcffa4,#fcffa4,#fcffa4,#fbfea2,#fafda1,#fafd9f,#f8fc9c,#f7fb98,#f6fa95,#f5f88f,#f3f68a,#f2f483,#f1f179,#f1ee71,#f2e865,#f3e157,#f6d848,#f8ce38,#fbbc22,#fb9e0a,#f1761b,#fb9e0c,#fbba20,#f8cf3a,#f5db4c,#f3e45d,#f2eb6b,#f2f17a,#f3f585,#f4f88f,#f6fa95,#f8fc9c,#fafd9f,#fbfea2,#fcffa4,#fcffa4,#fcffa4,#fcffa4,#fcfea3,#f9fd9e,#f8fc9b,#f5f992,#f3f689,#f2f17a,#f2ea68,#f5dd4f,#f9c830,#e18a28,#dc7a26,#fac026,#f5dc4f,#f2e967,#f2f17c,#f4f78b,#f7fb98,#f9fd9e,#fcfea4,#fcffa4,#fcffa4,#fbfea3,#f9fc9d,#f6f993,#f2f482,#f2ea6a,#f6d644,#f5a526,#f18d20,#f8d03b,#f2ea6a,#f2f381,#f6f993,#fafd9f,#fcffa4,#fcffa4,#fbfea1,#f7fb98,#f3f688,#f3e762,#f8c934,#fba70e,#f7d23f,#f2ed70,#f5f88f,#f9fc9d,#fcffa4,#fcffa4,#f8fc9b,#f3f586,#f4e057,#f69922,#f8c22f,#f2ed71,#f5f890,#fbfea3,#fcffa4,#f8fc9a,#f3f381,#f6cf44,#f59522,#f4e461,#f6f991,#fbfea2,#fbfea3,#f6f993,#f5db51,#f9a61a,#f4e666,#f8fb99,#fcfea4,#f8fb98,#f3e668,#fab11a,#f3ec71,#fafd9e,#fbfea2,#f4ef79,#fbbb20,#f5e96d,#fbfea2,#fafc9d,#f7d042,#f6d74b,#f9fb9a,#f9fc9c,#eda250,#f4eb71,#fafda0,#f5e36b,#f6c73e,#fbfea3,#f6e367,#f6eb75,#f9fb9a,#f2ea6a,#fafd9e,#f9db5b,#f9f088,#f9d65a,#f5eb71,#f5f689,#f9fcad 250.5px);top:179px;height:3px"><i style="opacity:.423"></i></div>
<div class="r" style="--g:linear-gradient(90deg,#fcfec5 .5px,#fafd9f,#f9fc9d,#f9fc9d,#f9fc9d,#f9fc9d,#f9fc9d,#f9fc9d,#f9fc9d,#f9fc9d,#f9fc9d,#f9fc9d,#f8fc9a,#f8fb9a,#f8fb9a,#f8fb9a,#f8fb9a,#f8fb9a,#f8fb9a,#f7fb98,#f6fa96,#f6fa96,#f6fa96,#f6fa96,#f6fa96,#f5f993,#f5f992,#f5f992,#f5f992,#f5f891,#f4f88e,#f4f88e,#f4f88e,#f4f78c,#f3f68a,#f3f68a,#f3f688,#f3f586,#f3f586,#f2f483,#f2f482,#f2f482,#f2f27e,#f2f27d,#f2f17b,#f1f179,#f1ef75,#f1ef74,#f1ed71,#f1ec6f,#f1ec6d,#f2ea69,#f2e966,#f2e762,#f2e65f,#f3e45c,#f3e259,#f4e054,#f4de51,#f5db4c,#f5d949,#f6d643,#f7d23e,#f8ce39,#f9cb34,#fac62d,#fac026,#fbbb20,#fcb317,#fcaa0f,#fb9d08,#fa8f09,#f0721e,#c74448,#ee6e21,#f98e0a,#fc9f07,#fcad12,#fbb61b,#fbbe24,#fac62d,#f8cc35,#f7d23d,#f6d543,#f5da4b,#f4de51,#f3e35a,#f3e55e,#f2e864,#f2eb6b,#f1ee72,#f1ef76,#f2f27c,#f2f380,#f2f483,#f3f689,#f4f78d,#f5f890,#f6f994,#f6fa96,#f7fb99,#f9fc9c,#f9fc9d,#fafd9f,#fafda1,#fbfea1,#fcffa4,#fcffa4,#fcffa4,#fcffa4,#fcffa4,#fcffa4,#fcffa4,#fcffa4,#fcffa4,#fcffa4,#fafea1,#fafda0,#f9fc9d,#f8fc9b,#f7fb98,#f5f992,#f4f88e,#f3f587,#f2f37f,#f1f078,#f2eb6c,#f3e55f,#f4de51,#f7d442,#f9c62e,#fbb116,#f88d0e,#f27919,#fcab11,#f9c52d,#f7d441,#f4df54,#f2e864,#f1ee72,#f2f380,#f3f689,#f6f994,#f7fa97,#f9fc9d,#fbfea1,#fcffa4,#fcffa4,#fcffa4,#fcffa4,#fcffa4,#fafda1,#f9fc9c,#f6fa96,#f4f88f,#f2f381,#f1ee72,#f3e55e,#f6d542,#fbbd24,#f57e15,#faa815,#f7d03b,#f3e259,#f2ed71,#f3f484,#f5f992,#f9fc9c,#fafda1,#fcffa4,#fcffa4,#fcfea4,#fafda1,#f8fb9a,#f4f78c,#f2f078,#f3e25a,#f8cc36,#f88c0e,#fab822,#f4de53,#f1ee74,#f4f78d,#f8fc9b,#fbfea2,#fcffa4,#fcffa4,#f9fc9c,#f5f890,#f2ef75,#f5dc4f,#f49b26,#f8b428,#f4e158,#f3f483,#f8fb99,#fcfea4,#fcffa4,#fafd9f,#f6f993,#f2ec70,#f8c531,#faa410,#f3e35b,#f3f585,#f9fd9e,#fcffa4,#fbfea2,#f5f890,#f4e45f,#fbaa14,#f7cf3d,#f4f587,#fafda0,#fcfea3,#f8fb99,#f3ea6d,#f69f25,#f5d44f,#f6f890,#fbfea3,#fafd9f,#f3f079,#f8ae22,#f4e25d,#f9fc9b,#fbfea3,#f5f282,#f9bc26,#f5e15c,#fbfda1,#fafd9f,#f3c653,#f1bd4d,#f9fb9a,#f8fb99,#f5df55,#f5ed78,#fbfea1,#f6ce46,#f5e669,#f9fb99,#f6b83b,#f7f68c,#f7d458,#f6e876,#f7e566,#f8f890,#fbdf63,#fbd95a,#f8faa7 250.5px);top:182px;height:4px"><i style="opacity:.101"></i></div>
<div class="r" style="--g:linear-gradient(90deg,#fcfec5 .5px,#fafda1,#fafda1,#fafda1,#f9fd9e,#f9fc9d,#f9fc9d,#f9fc9d,#f9fc9d,#f9fc9d,#f9fc9d,#f9fc9d,#f9fc9d,#f9fc9d,#f9fc9d,#f8fb9a,#f8fb9a,#f8fb9a,#f8fb9a,#f8fb9a,#f8fb9a,#f8fb9a,#f7fb97,#f6fa96,#f6fa96,#f6fa96,#f6fa96,#f6fa96,#f5f992,#f5f992,#f5f992,#f5f992,#f5f890,#f4f88e,#f4f88e,#f4f88e,#f4f78c,#f3f68a,#f3f68a,#f3f587,#f3f586,#f3f586,#f2f482,#f2f482,#f2f381,#f2f27d,#f2f27c,#f1f179,#f1f079,#f1ef75,#f1ee73,#f1ed71,#f1ec6e,#f2eb6a,#f2ea69,#f2e865,#f2e762,#f3e55f,#f3e45b,#f4e156,#f4df53,#f4dd50,#f5db4c,#f6d847,#f6d542,#f7d13d,#f8ce38,#f9ca33,#fac42b,#fbbf25,#fbb91e,#fcb115,#fca70c,#fb9a07,#f8880d,#e86529,#bd404c,#f47d15,#fa9308,#fca30a,#fcaf14,#fbb91e,#fac128,#f9c72f,#f8ce38,#f7d23e,#f6d746,#f5db4c,#f4e054,#f3e45b,#f2e762,#f2ea68,#f1eb6c,#f1ee73,#f1f077,#f2f27d,#f2f381,#f3f586,#f3f68a,#f4f78e,#f5f991,#f6fa94,#f7fb98,#f8fb9a,#f9fc9d,#f9fd9e,#fafda1,#fafda1,#fcfea4,#fcffa4,#fcffa4,#fcffa4,#fcffa4,#fcffa4,#fcffa4,#fcffa4,#fcffa4,#fcffa4,#fcfea4,#fafda1,#fafd9f,#f9fc9c,#f8fb9a,#f7fa97,#f5f890,#f4f78c,#f3f585,#f2f27e,#f1ef74,#f2ea69,#f3e35b,#f5db4c,#f7d33f,#fac027,#fcaa10,#f0741f,#f68911,#fbb41a,#f9cb34,#f6d746,#f3e259,#f2e966,#f1f077,#f2f482,#f4f78d,#f6fa94,#f8fb9a,#fafd9f,#fbfea2,#fcffa4,#fcffa4,#fcffa4,#fcffa4,#fcfea4,#fafda1,#f8fc9b,#f6fa94,#f4f78b,#f2f27d,#f2ec6e,#f4df54,#f8cf3a,#faa617,#f57f15,#fbb91f,#f6d746,#f3e55f,#f2f078,#f3f688,#f7fa97,#f9fd9e,#fcfea3,#fcffa4,#fcffa4,#fcfea3,#fafd9f,#f6fa94,#f3f587,#f2eb6b,#f5dd4f,#f9b122,#f68812,#f8cb35,#f3e661,#f2f27d,#f6f993,#fafd9f,#fcffa4,#fcffa4,#fbfea2,#f8fc9b,#f3f587,#f2e969,#f7cc3b,#fa9708,#f8ce39,#f2ed70,#f4f78d,#f9fc9d,#fcffa4,#fbfea3,#f9fc9c,#f4f586,#f4e158,#f59b26,#f6c63c,#f2ec6e,#f6f993,#fbfea3,#fbfea3,#f8fc9b,#f3f27f,#f8cb36,#f7a022,#f3eb70,#f7fa96,#fbfea3,#fbfea1,#f4f485,#f6c53d,#f8b12a,#f3f380,#fafda0,#fbfea3,#f5f68b,#f7c031,#f6d445,#f6f78d,#fbfea3,#f7f994,#f7b92f,#f5d950,#f9fb9a,#fafda0,#f7de5b,#f7d143,#f8fa97,#f8fa96,#f7c538,#f5f588,#fafd9f,#f9ce43,#f6f385,#f6f587,#f8d049,#f9f48a,#f4e766,#f7fa95,#f6f993,#f8e66a,#f6f69b 250.5px);top:186px;height:3px"><i style="opacity:.779"></i></div>
<div class="r" style="--g:linear-gradient(90deg,#fcfec5 .5px,#fafda1,#fafda1,#fafda1,#fafda1,#fafda1,#fafda1,#f9fd9e,#f9fc9d,#f9fc9d,#f9fc9d,#f9fc9d,#f9fc9d,#f9fc9d,#f9fc9d,#f9fc9d,#f9fc9d,#f9fc9d,#f8fb9a,#f8fb9a,#f8fb9a,#f8fb9a,#f8fb9a,#f8fb9a,#f8fb9a,#f7fa96,#f6fa96,#f6fa96,#f6fa96,#f6fa96,#f6fa95,#f5f992,#f5f992,#f5f992,#f5f992,#f5f88f,#f4f88e,#f4f88e,#f4f88e,#f4f78b,#f3f68a,#f3f68a,#f3f586,#f3f586,#f3f585,#f2f482,#f2f482,#f2f380,#f2f27d,#f2f27d,#f1f179,#f1f078,#f1ef75,#f1ee72,#f1ed71,#f1ec6d,#f1eb6c,#f2ea68,#f2e865,#f2e661,#f3e55e,#f3e35b,#f3e258,#f4df53,#f5dd4f,#f5db4b,#f6d847,#f7d441,#f7d13c,#f8cd37,#f9c831,#fac42c,#fbbe24,#fbb71c,#fcb014,#fca50b,#fb9906,#f78311,#e4602e,#de5735,#f68013,#fb9707,#fca60b,#fcb014,#fbba1f,#fac128,#f9c831,#f8ce38,#f7d441,#f6d847,#f4dd50,#f3e156,#f3e45d,#f2e763,#f2e966,#f1ec6d,#f1ef75,#f1f179,#f2f27d,#f2f483,#f3f587,#f3f68a,#f4f88e,#f5f992,#f6fa95,#f7fa96,#f8fb9a,#f9fc9d,#f9fd9e,#fafda1,#fafda1,#fbfea3,#fcffa4,#fcffa4,#fcffa4,#fcffa4,#fcffa4,#fcffa4,#fcffa4,#fcffa4,#fcffa4,#fbfea3,#fafda1,#fafd9e,#f9fc9d,#f8fb9a,#f6fa95,#f5f991,#f4f78b,#f2f484,#f2f17b,#f1ed71,#f2e967,#f3e35a,#f5db4c,#f8cf39,#fabf25,#fba30d,#ec6a25,#f79111,#fbba1f,#f9cb34,#f5da4a,#f3e45b,#f2eb6c,#f1f079,#f2f484,#f5f88f,#f6fa94,#f8fb9a,#fafd9f,#fbfea3,#fcffa4,#fcffa4,#fcffa4,#fcffa4,#fbfea3,#fafda0,#f8fb9a,#f6f994,#f3f688,#f2f17c,#f2e967,#f4df52,#f9ca33,#fa9d11,#f68718,#fac128,#f6d948,#f2ea69,#f2f17a,#f4f78c,#f7fb98,#fafd9f,#fcfea4,#fcffa4,#fcffa4,#fbfea3,#f9fc9c,#f6fa94,#f2f381,#f2ea6a,#f6d544,#f8a11c,#f89914,#f7d441,#f2e865,#f3f485,#f7fa96,#fafda0,#fcffa4,#fcffa4,#fafda0,#f7fa96,#f2f482,#f2e762,#f9b622,#fa9f0e,#f5d94b,#f2f078,#f6f993,#fbfea1,#fcffa4,#fbfea2,#f7fb98,#f2f078,#f6d646,#fbaf15,#f5da4c,#f3f380,#f9fc9c,#fcfea3,#fbfea3,#f6f993,#f3e662,#fab31a,#f7cd3d,#f3f485,#fafd9f,#fcfea4,#f8fb99,#f3e867,#fbb117,#f4df5c,#f7fa95,#fcffa4,#f8fb9a,#f5df5d,#fabe26,#f3ef78,#fbfea3,#f9fc9c,#f5d14f,#f7c135,#f7f891,#fbfea1,#f6e066,#f7d041,#f7fa96,#f7fa96,#f8d13f,#f9f084,#f9fa98,#f2e55f,#fafc9e,#f4f07b,#f8f68c,#face4c,#f7f78d,#f3f585,#f6ec84 250.5px);top:189px;height:3px"><i style="opacity:.457"></i></div>
<div class="r" style="--g:linear-gradient(90deg,#fcfec5 .5px,#fafda1,#fafda1,#fafda1,#fafda1,#fafda1,#fafda1,#fafda1,#fafda1,#fafda1,#f9fc9d,#f9fc9d,#f9fc9d,#f9fc9d,#f9fc9d,#f9fc9d,#f9fc9d,#f9fc9d,#f9fc9d,#f9fc9d,#f9fc9c,#f8fb9a,#f8fb9a,#f8fb9a,#f8fb9a,#f8fb9a,#f8fb9a,#f8fb9a,#f6fa96,#f6fa96,#f6fa96,#f6fa96,#f6fa96,#f6fa94,#f5f992,#f5f992,#f5f992,#f5f992,#f4f88f,#f4f88e,#f4f88e,#f4f88e,#f4f68a,#f3f68a,#f3f68a,#f3f688,#f3f586,#f3f586,#f2f483,#f2f482,#f2f380,#f2f27d,#f2f27d,#f1f179,#f1f077,#f1ef75,#f1ef74,#f1ed70,#f1ec6d,#f2eb6b,#f2e968,#f2e864,#f2e661,#f2e65f,#f3e35a,#f3e157,#f4df54,#f4dd4f,#f5da4b,#f6d746,#f7d440,#f8d03b,#f8cd36,#f9c932,#fac42b,#fbbe24,#fbb81d,#fcaf14,#fca60c,#fb9907,#f8860f,#e05c31,#de5636,#f57d15,#fb9607,#fca40a,#fcb116,#fbba1f,#fac228,#f9c831,#f8cf39,#f7d340,#f6d847,#f5dc4e,#f4e156,#f3e35b,#f2e661,#f2e967,#f1ec6f,#f1ef75,#f1f078,#f2f27c,#f2f482,#f3f587,#f4f78b,#f4f88e,#f5f992,#f6fa96,#f7fa97,#f8fb9a,#f9fc9c,#f9fc9d,#fafda1,#fafda1,#fcfea3,#fcffa4,#fcffa4,#fcffa4,#fcffa4,#fcffa4,#fcffa4,#fcffa4,#fcffa4,#fcffa4,#fbfea3,#fafda1,#f9fd9e,#f9fc9d,#f8fb99,#f6fa96,#f5f991,#f3f68a,#f3f585,#f2f17b,#f1ee72,#f2e865,#f3e35b,#f5db4b,#f8cf39,#fabf26,#fba20d,#e66728,#fb9a0a,#fbb91e,#f8cd37,#f5da4a,#f3e45c,#f2eb6c,#f2f078,#f3f585,#f4f78c,#f6fa96,#f8fc9a,#fafda0,#fbfea3,#fcffa4,#fcffa4,#fcffa4,#fcffa4,#fcffa4,#fafd9f,#f8fb9a,#f6f993,#f3f689,#f2f17b,#f2e967,#f4de51,#f9c831,#fba60f,#f89012,#fac027,#f5da4b,#f2e864,#f2f27d,#f4f78c,#f7fa96,#fafda0,#fcffa4,#fcffa4,#fcffa4,#fbfea1,#f8fc9b,#f5f890,#f2f380,#f2e968,#f7d341,#fba814,#fbac14,#f6d442,#f2ea69,#f3f484,#f7fa96,#fbfea1,#fcffa4,#fcffa4,#fafd9f,#f6f994,#f2f381,#f4e158,#fab61d,#f79f20,#f4df53,#f2f17a,#f7fa96,#fbfea2,#fcffa4,#fbfea1,#f6f993,#f2ee73,#f7c533,#fbab13,#f4df56,#f4f68a,#fafd9f,#fcfea4,#fafda1,#f4f68a,#f4dd52,#faaf1b,#f4e35d,#f4f78c,#fbfea3,#fbfea3,#f5f689,#f5d44a,#f8bb2c,#f3f27e,#f9fd9e,#fbfea2,#f5f588,#f39f2f,#f4db58,#f8fb98,#fbfea3,#f4ee77,#fab61f,#f5f17f,#fbfea2,#f3ef88,#df8f52,#f7f994,#f7f890,#f2a73d,#f7f68c,#f7f384,#f9da54,#f9f791,#f4e35d,#f4ba66,#f7e47b,#f9d760 250.5px);top:192px;height:4px"><i style="opacity:.135"></i></div>
<div class="r" style="--g:linear-gradient(90deg,#fcfec5 .5px,#fafda1,#fafda1,#fafda1,#fafda1,#fafda1,#fafda1,#fafda1,#fafda1,#fafda1,#fafda1,#fafda1,#fafda1,#fafd9f,#f9fc9d,#f9fc9d,#f9fc9d,#f9fc9d,#f9fc9d,#f9fc9d,#f9fc9d,#f9fc9d,#f9fc9d,#f9fc9d,#f8fb9a,#f8fb9a,#f8fb9a,#f8fb9a,#f8fb9a,#f8fb9a,#f8fb9a,#f7fb97,#f6fa96,#f6fa96,#f6fa96,#f6fa96,#f6fa96,#f5f992,#f5f992,#f5f992,#f5f992,#f5f890,#f4f88e,#f4f88e,#f4f88e,#f4f78c,#f3f68a,#f3f68a,#f3f587,#f3f586,#f3f586,#f2f482,#f2f482,#f2f381,#f2f27d,#f2f27d,#f2f17a,#f1f079,#f1ef75,#f1ee73,#f1ed71,#f1ec6e,#f1ec6d,#f2ea69,#f2e865,#f2e762,#f2e55f,#f3e45b,#f3e258,#f4df53,#f4dd50,#f5db4c,#f6d848,#f6d542,#f7d23d,#f8ce38,#f9ca33,#fac42c,#fbbf25,#fbb91e,#fcb216,#fca70d,#fb9a07,#f88b0c,#ec6a25,#ca4448,#f37a18,#fa9109,#fca30a,#fcaf14,#fbb91e,#fac026,#f9c830,#f8ce38,#f7d33f,#f6d846,#f5db4c,#f4e055,#f3e45b,#f2e762,#f2e966,#f1eb6c,#f1ee73,#f1f077,#f2f27d,#f2f381,#f3f586,#f3f68a,#f4f78d,#f5f991,#f6fa94,#f6fa96,#f8fb99,#f9fc9d,#f9fd9e,#fafda1,#fafda1,#fcfea4,#fcffa4,#fcffa4,#fcffa4,#fcffa4,#fcffa4,#fcffa4,#fcffa4,#fcffa4,#fcffa4,#fcfea4,#fafda1,#fafd9f,#f9fc9c,#f8fb9a,#f7fa97,#f5f992,#f4f78d,#f3f585,#f2f27e,#f1ef74,#f2ea69,#f3e35b,#f5db4d,#f7d33f,#fac127,#fcab11,#f0751f,#f68712,#fbb419,#f9ca33,#f6d746,#f3e259,#f2e966,#f1f077,#f2f482,#f4f78d,#f6fa94,#f8fb9a,#fafd9f,#fbfea2,#fcffa4,#fcffa4,#fcffa4,#fcffa4,#fcfea4,#fafda1,#f8fc9b,#f6fa95,#f4f78c,#f2f17b,#f1eb6c,#f4de51,#f8cd38,#f9a217,#f47d16,#fabd23,#f6d948,#f2e662,#f2f17b,#f4f68a,#f7fa97,#f9fc9e,#fcfea3,#fcffa4,#fcffa4,#fcfea3,#f9fc9d,#f6f993,#f3f484,#f2ea68,#f6d847,#f9a618,#f6911b,#f7d23f,#f2ea69,#f3f483,#f7fa97,#fafd9f,#fcfea4,#fcffa4,#fbfea2,#f6fa96,#f2f27e,#f4e157,#f9bb29,#f9a41d,#f4de52,#f3f27f,#f6fa95,#fbfea2,#fcffa4,#fbfea2,#f5f991,#f2ed72,#f9c32b,#f69922,#f3e562,#f4f78b,#fafda0,#fcffa4,#f9fc9d,#f3f381,#f3d24e,#f09730,#f3e968,#f7fa97,#fcfea3,#f9fd9e,#f3f27d,#f8c733,#f6d447,#f5f78c,#fcffa4,#f9fc9c,#f5dc56,#fac029,#f5f484,#fcffa4,#f7f78f,#f8c733,#f5e25f,#fbfea3,#f6f78c,#f7c93b,#f7f890,#f7f992,#f8c837,#f8f892,#f6e361,#f7f282,#f2ea69,#f8d270,#f48d4a 250.5px);top:196px;height:3px"><i style="opacity:.813"></i></div>
<div class="r" style="--g:linear-gradient(90deg,#fcfec5 .5px,#fafda1,#fafda1,#fafda1,#fafda1,#fafda1,#fafda1,#fafda1,#fafda1,#fafda1,#fafda1,#fafda1,#fafda1,#fafda1,#fafda1,#fafda1,#fafda0,#f9fc9d,#f9fc9d,#f9fc9d,#f9fc9d,#f9fc9d,#f9fc9d,#f9fc9d,#f9fc9d,#f9fc9d,#f9fc9d,#f8fc9b,#f8fb9a,#f8fb9a,#f8fb9a,#f8fb9a,#f8fb9a,#f8fb9a,#f7fb99,#f6fa96,#f6fa96,#f6fa96,#f6fa96,#f6fa96,#f6f994,#f5f992,#f5f992,#f5f992,#f5f992,#f4f88e,#f4f88e,#f4f88e,#f4f78d,#f3f68a,#f3f68a,#f3f68a,#f3f587,#f3f586,#f2f484,#f2f482,#f2f482,#f2f37f,#f2f27d,#f1f179,#f1f179,#f1ef76,#f1ef75,#f1ed71,#f1ed6f,#f1eb6c,#f2ea69,#f2e967,#f2e763,#f2e660,#f3e45d,#f3e35a,#f4e055,#f4de52,#f5db4c,#f5d949,#f6d644,#f7d33f,#f8cf3a,#f8cc35,#f9c62e,#fac229,#fbbb21,#fcb419,#fcac10,#fca109,#fa9009,#f47b17,#ac3d4e,#ec6925,#f98d0a,#fb9d07,#fcaa0f,#fbb51a,#fbbe24,#fac62d,#f9cb34,#f7d13c,#f6d644,#f5da4a,#f4de51,#f3e258,#f2e65f,#f2e864,#f2ea6a,#f1ed70,#f1ef75,#f2f17b,#f2f381,#f3f585,#f3f688,#f4f78c,#f5f88f,#f6f993,#f7fa96,#f8fb9a,#f8fc9b,#f9fc9d,#f9fd9e,#fafda1,#fafda1,#fcfea4,#fcffa4,#fcffa4,#fcffa4,#fcffa4,#fcffa4,#fcffa4,#fcffa4,#fcffa4,#fcffa4,#fbfea2,#fafda1,#f9fc9d,#f8fc9c,#f7fa96,#f6f993,#f5f890,#f3f688,#f2f381,#f1ef76,#f1ec6e,#f2e661,#f4e054,#f6d543,#f9c932,#fbb51a,#f88d0e,#ea6d25,#fbaa11,#fac228,#f7d441,#f4de52,#f2e864,#f1ee72,#f2f27d,#f3f689,#f5f992,#f7fb98,#f8fc9c,#fafda1,#fcfea4,#fcffa4,#fcffa4,#fcffa4,#fcffa4,#fbfea2,#f9fd9e,#f7fb97,#f4f78c,#f3f484,#f2ee72,#f3e55e,#f7d441,#fbb71d,#f78913,#fbaf16,#f8d03b,#f3e45d,#f2ee72,#f3f587,#f5f992,#f9fc9d,#fbfea2,#fcffa4,#fcffa4,#fcffa4,#fafda0,#f7fa96,#f3f688,#f1ee72,#f4dd51,#fab820,#f4861c,#f8cc36,#f3e55f,#f2f380,#f5f992,#fafd9f,#fcffa4,#fcffa4,#fafda1,#f8fb99,#f3f484,#f2e864,#f9bb26,#fa9d0e,#f6d849,#f2f079,#f6f993,#fbfea1,#fcffa4,#fbfea3,#f6fa95,#f2ed70,#f7cb38,#fab31c,#f3e45d,#f4f68a,#fafda0,#fcfea4,#f9fc9d,#f3f482,#f7c438,#fab220,#f3ec70,#f8fc9b,#fcfea4,#f9fc9b,#f3ec72,#fcb217,#f4e35e,#f8fb99,#fcfea4,#f5f78c,#f1a93e,#f4d157,#f9fc9c,#fbfda1,#f5de57,#f7d041,#f9fb98,#f8fa96,#f5dc4f,#f7f994,#faef83,#f6e05a,#fafc9e,#fac849,#f6f07e,#fad057 250.5px);top:199px;height:3px"><i style="opacity:.491"></i></div>
<div class="r" style="--g:linear-gradient(90deg,#fdffc7 .5px,#fcffa4,#fbfea1,#fafda1,#fafda1,#fafda1,#fafda1,#fafda1,#fafda1,#fafda1,#fafda1,#fafda1,#fafda1,#fafda1,#fafda1,#fafda1,#fafda1,#fafda1,#fafda1,#fafda1,#fafda0,#f9fc9d,#f9fc9d,#f9fc9d,#f9fc9d,#f9fc9d,#f9fc9d,#f9fc9d,#f9fc9d,#f9fc9d,#f9fc9d,#f8fb9a,#f8fb9a,#f8fb9a,#f8fb9a,#f8fb9a,#f8fb9a,#f8fb9a,#f7fb99,#f6fa96,#f6fa96,#f6fa96,#f6fa96,#f6fa95,#f5f992,#f5f992,#f5f992,#f5f992,#f5f88f,#f4f88e,#f4f88e,#f4f88e,#f4f78b,#f3f68a,#f3f68a,#f3f688,#f3f586,#f3f586,#f2f483,#f2f482,#f2f380,#f2f27d,#f2f27d,#f1f179,#f1f179,#f1ef76,#f1ef75,#f1ed71,#f1ec6d,#f1eb6c,#f2ea68,#f2e865,#f2e763,#f2e660,#f3e45d,#f3e257,#f4e054,#f4dd50,#f5db4c,#f6d846,#f6d543,#f7d23e,#f8cd37,#f9c932,#fac42b,#fac026,#fbb91e,#fcb217,#fca80d,#fb9b07,#f8870e,#ec6a25,#e15834,#f47a17,#fa9308,#fca30a,#fcae12,#fbb81d,#fac026,#f9c830,#f8cd37,#f7d23e,#f6d746,#f5dc4d,#f4df53,#f3e259,#f2e65f,#f2e967,#f1ec6e,#f1ee72,#f1f078,#f2f27d,#f2f381,#f3f585,#f3f689,#f4f88e,#f5f992,#f6fa95,#f7fa96,#f8fb9a,#f8fc9b,#f9fc9d,#fafda0,#fafda1,#fbfea3,#fcffa4,#fcffa4,#fcffa4,#fcffa4,#fcffa4,#fcffa4,#fcffa4,#fcffa4,#fcffa4,#fbfea3,#fafda1,#fafda0,#f9fc9d,#f8fb9a,#f6fa95,#f5f991,#f4f78b,#f2f484,#f2f27c,#f1ef74,#f2ea69,#f3e35b,#f5db4d,#f7d13d,#fac127,#fcac12,#da5e32,#f38813,#fbb61c,#f9ca33,#f6d848,#f3e35a,#f2ea69,#f1f077,#f2f482,#f4f78c,#f5f993,#f8fb99,#fafda0,#fbfea3,#fcffa4,#fcffa4,#fcffa4,#fcffa4,#fbfea3,#fafda0,#f8fb9a,#f6f993,#f4f68a,#f2f17b,#f2eb6b,#f4dd50,#f8cc36,#f99912,#f78a13,#fac128,#f5db4c,#f2e866,#f2f27e,#f4f78d,#f7fb98,#fafd9f,#fcffa4,#fcffa4,#fcffa4,#fbfea3,#f8fb9a,#f5f890,#f2f27e,#f2e661,#f7d23e,#f89211,#f9ac1f,#f5da4c,#f2ed71,#f4f78b,#f8fc9b,#fcfea3,#fcffa4,#fcffa4,#f9fc9c,#f4f78d,#f2ed71,#f6d544,#fcaa0f,#f8ca36,#f2e967,#f4f78c,#fafd9f,#fcfea4,#fcfea4,#f8fb9a,#f2f27e,#f6d344,#f6941f,#f6d849,#f4f688,#f9fd9e,#fcfea4,#fafda0,#f4f485,#f7d240,#f5a42b,#f3ed71,#f7fb98,#fcffa4,#f9fc9c,#f4e360,#f9ac1b,#f4ea6e,#fafda0,#fafda0,#f4ed74,#fab420,#f4f689,#fcfea4,#f5f07e,#f9c02b,#f7f68c,#f9fc9b,#f5df58,#f8f994,#f5f281,#f6f88f,#f3ef77,#f6e87d 250.5px);top:202px;height:4px"><i style="opacity:.169"></i></div>
<div class="r" style="--g:linear-gradient(90deg,#fdffc7 .5px,#fcffa4,#fcffa4,#fcffa4,#fcffa4,#fcffa4,#fbfea1,#fafda1,#fafda1,#fafda1,#fafda1,#fafda1,#fafda1,#fafda1,#fafda1,#fafda1,#fafda1,#fafda1,#fafda1,#fafda1,#fafda1,#fafda1,#fafda1,#fafda1,#f9fc9e,#f9fc9d,#f9fc9d,#f9fc9d,#f9fc9d,#f9fc9d,#f9fc9d,#f9fc9d,#f9fc9d,#f9fc9d,#f9fc9c,#f8fb9a,#f8fb9a,#f8fb9a,#f8fb9a,#f8fb9a,#f8fb9a,#f8fb9a,#f7fa96,#f6fa96,#f6fa96,#f6fa96,#f6fa96,#f6fa95,#f5f992,#f5f992,#f5f992,#f5f992,#f5f88f,#f4f88e,#f4f88e,#f4f88e,#f4f78b,#f3f68a,#f3f68a,#f3f688,#f3f586,#f3f586,#f2f483,#f2f482,#f2f380,#f2f27d,#f2f27d,#f1f179,#f1f078,#f1ef75,#f1ee72,#f1ed71,#f1ec6d,#f1eb6c,#f2ea68,#f2e865,#f2e661,#f3e55e,#f3e35a,#f3e157,#f4e054,#f5dc4e,#f5db4b,#f6d746,#f7d441,#f7d23e,#f8cd37,#f9ca32,#fac52c,#fbbf24,#fbb71b,#fcb014,#fca60c,#fb9906,#f7850f,#e5602d,#db513a,#f68013,#fa9507,#fca60b,#fcb014,#fbb91f,#fac228,#f9c830,#f8ce38,#f7d340,#f6d848,#f5dc4d,#f4e055,#f3e359,#f2e660,#f2e967,#f1ec6e,#f1ee72,#f1f078,#f2f27d,#f2f481,#f3f586,#f4f78b,#f4f88e,#f5f992,#f6f993,#f7fa97,#f8fb9a,#f9fc9d,#f9fc9d,#fafda0,#fafda1,#fbfea3,#fcffa4,#fcffa4,#fcffa4,#fcffa4,#fcffa4,#fcffa4,#fcffa4,#fcffa4,#fcffa4,#fbfea3,#fafda1,#f9fd9e,#f9fc9d,#f8fb9a,#f6fa96,#f5f992,#f4f78b,#f2f483,#f2f17c,#f1ee73,#f2e966,#f3e45c,#f5d949,#f8d03b,#fabe25,#fba50e,#f0741d,#fa970c,#fbb81e,#f8ce38,#f6d948,#f3e45d,#f2eb6a,#f2f079,#f3f484,#f4f88e,#f6fa95,#f8fb9a,#fafda0,#fbfea3,#fcffa4,#fcffa4,#fcffa4,#fcffa4,#fbfea3,#fafda0,#f8fb9a,#f6f993,#f3f688,#f1f076,#f2e864,#f5d94a,#f9c52d,#db7530,#f29517,#f9c62f,#f4df54,#f2eb6b,#f3f483,#f5f88f,#f8fc9b,#fafda1,#fcffa4,#fcffa4,#fcfea4,#fafda1,#f8fb9a,#f4f68a,#f2f077,#f4e056,#fac42c,#fb9a0b,#f9c52e,#f4e157,#f2f27c,#f5f991,#f9fc9e,#fcfea4,#fcffa4,#fbfea3,#f8fb99,#f3f484,#f3e663,#fabb22,#f5911f,#f4de53,#f2f27e,#f7fb97,#fbfea3,#fcffa4,#fafda0,#f5f88f,#f3e45d,#f29a2d,#f3c242,#f2ee74,#f7fa97,#fcffa4,#fbfea1,#f5f78c,#f3df5b,#f8a01e,#f3e664,#f8fa97,#fcffa4,#f8fb9a,#f3e561,#f3a235,#f4f17d,#fafda0,#f8fb9a,#f5dd57,#f5dd55,#f8fb99,#f8fb99,#f7c838,#f6e770,#f9fa97,#f7cf40,#fafda0,#f7b550,#f6f395 250.5px);top:206px;height:3px"><i style="opacity:.847"></i></div>
<div class="r" style="--g:linear-gradient(90deg,#fdffc7 .5px,#fcffa4,#fcffa4,#fcffa4,#fcffa4,#fcffa4,#fcffa4,#fcffa4,#fcffa4,#fcffa4,#fafda1,#fafda1,#fafda1,#fafda1,#fafda1,#fafda1,#fafda1,#fafda1,#fafda1,#fafda1,#fafda1,#fafda1,#fafda1,#fafda1,#fafda1,#fafda1,#fafda1,#fafda1,#fafd9f,#f9fc9d,#f9fc9d,#f9fc9d,#f9fc9d,#f9fc9d,#f9fc9d,#f9fc9d,#f9fc9d,#f9fc9d,#f9fc9c,#f8fb9a,#f8fb9a,#f8fb9a,#f8fb9a,#f8fb9a,#f8fb9a,#f8fb9a,#f7fb98,#f6fa96,#f6fa96,#f6fa96,#f6fa96,#f6fa96,#f6f993,#f5f992,#f5f992,#f5f992,#f5f991,#f4f88e,#f4f88e,#f4f88e,#f4f78d,#f3f68a,#f3f68a,#f3f688,#f3f586,#f3f586,#f2f483,#f2f482,#f2f380,#f2f27d,#f2f27d,#f1f179,#f1f179,#f1ef76,#f1ef74,#f1ed71,#f1ed6f,#f2eb6b,#f2ea69,#f2e966,#f2e763,#f2e65f,#f3e45c,#f3e259,#f4e054,#f4de51,#f5db4b,#f6d948,#f6d644,#f7d23e,#f8cd37,#f9c932,#fac52c,#fabf25,#fbb91e,#fcb116,#fca90e,#fb9c07,#f98b0b,#eb6826,#ce4744,#f2771a,#fa9108,#fca20a,#fcaf13,#fbb81c,#fac026,#f9c72f,#f8ce38,#f7d33f,#f6d847,#f5dc4e,#f4e054,#f3e35a,#f2e660,#f2e967,#f1ec6d,#f1ee72,#f1f078,#f2f27c,#f2f482,#f3f585,#f3f689,#f4f78d,#f5f992,#f6f993,#f7fa97,#f8fb9a,#f8fc9c,#f9fc9d,#fafda1,#fafda1,#fbfea3,#fcffa4,#fcffa4,#fcffa4,#fcffa4,#fcffa4,#fcffa4,#fcffa4,#fcffa4,#fcffa4,#fcffa4,#fbfea1,#fafda0,#f9fc9d,#f8fb9a,#f6fa96,#f5f991,#f4f78b,#f3f587,#f2f17b,#f1ef74,#f2ea69,#f3e45c,#f5dc4e,#f7d13d,#fac32a,#fba810,#ef741d,#fa940b,#fbb51b,#f8cb34,#f6d848,#f3e35a,#f2eb6b,#f1ef76,#f2f483,#f4f78c,#f6f993,#f8fb9a,#fafda0,#fbfea3,#fcffa4,#fcffa4,#fcffa4,#fcffa4,#fbfea3,#fafd9f,#f8fb99,#f5f992,#f3f689,#f2f078,#f2e966,#f5dc4f,#f9c62d,#fa9910,#fb9f0e,#f9c62f,#f4dd50,#f2eb6b,#f2f380,#f5f890,#f8fb9a,#fbfea1,#fcffa4,#fcffa4,#fcffa4,#fbfea2,#f8fb99,#f4f689,#f2ee74,#f4e157,#fabf27,#f88a0d,#f8c834,#f3e35c,#f2f27e,#f5f992,#fafd9f,#fcffa4,#fcffa4,#fbfea3,#f7fa96,#f2f17b,#f4e158,#f8a51f,#fab71e,#f4e35d,#f4f689,#f8fc9b,#fcffa4,#fcffa4,#f7fb98,#f2f27f,#f6d344,#f6931d,#f5de55,#f4f78c,#fafda0,#fcffa4,#f8fb99,#f4e767,#f8a81f,#f5da50,#f6fa94,#fcfea3,#f9fc9b,#f0e56f,#da854b,#f4f27f,#fafda1,#f7f992,#f7cb3a,#f4f17e,#f9fc9e,#f6e05b,#f6e468,#f7f384,#f6ec73,#f7f9a5 250.5px);top:209px;height:3px"><i style="opacity:.525"></i></div>
<div class="r" style="--g:linear-gradient(90deg,#fdffc7 .5px,#fcffa4,#fcffa4,#fcffa4,#fcffa4,#fcffa4,#fcffa4,#fcffa4,#fcffa4,#fcffa4,#fcffa4,#fcffa4,#fcffa4,#fcffa4,#fbfea3,#fafda1,#fafda1,#fafda1,#fafda1,#fafda1,#fafda1,#fafda1,#fafda1,#fafda1,#fafda1,#fafda1,#fafda1,#fafda1,#fafda1,#fafda1,#fafda1,#fafda1,#fafda1,#f9fc9e,#f9fc9d,#f9fc9d,#f9fc9d,#f9fc9d,#f9fc9d,#f9fc9d,#f9fc9d,#f9fc9d,#f9fc9d,#f8fc9a,#f8fb9a,#f8fb9a,#f8fb9a,#f8fb9a,#f8fb9a,#f8fb9a,#f8fb9a,#f7fa96,#f6fa96,#f6fa96,#f6fa96,#f6fa96,#f6fa95,#f5f992,#f5f992,#f5f992,#f5f992,#f5f88f,#f4f88e,#f4f88e,#f4f88e,#f4f78b,#f3f68a,#f3f68a,#f3f586,#f3f586,#f3f585,#f2f482,#f2f482,#f2f27e,#f2f27d,#f2f17b,#f1f179,#f1f078,#f1ef75,#f1ee72,#f1ed71,#f1ec6d,#f2ea69,#f2ea68,#f2e865,#f2e661,#f3e55e,#f3e35a,#f3e157,#f4df53,#f5dc4e,#f5d949,#f6d645,#f7d441,#f7d03c,#f9cb35,#f9c72f,#fac229,#fbbd22,#fcb51a,#fcae12,#fca30a,#fa9407,#f57e15,#d7503c,#dd5934,#f8880e,#fb9a07,#fca90e,#fcb318,#fbbc21,#fac42a,#f9ca32,#f8cf3a,#f7d442,#f5da4b,#f4de51,#f3e157,#f3e45d,#f2e864,#f2ea69,#f1ec6e,#f1ef75,#f1f17a,#f2f380,#f2f483,#f3f587,#f4f78a,#f5f890,#f5f992,#f6fa95,#f7fb99,#f8fb9a,#f9fc9d,#fafd9f,#fafda1,#fbfea1,#fcffa4,#fcffa4,#fcffa4,#fcffa4,#fcffa4,#fcffa4,#fcffa4,#fcffa4,#fcffa4,#fcffa4,#fbfea1,#fafda1,#f9fd9e,#f8fc9b,#f7fb98,#f6fa94,#f4f88e,#f3f689,#f2f381,#f1f078,#f1ed6f,#f2e762,#f4e156,#f6d543,#f9ca33,#fbb51a,#f9940c,#ee711f,#fca80f,#fac027,#f7d340,#f4de51,#f2e864,#f1ed71,#f2f27f,#f3f688,#f5f992,#f7fa97,#f9fc9d,#fbfea1,#fcffa4,#fcffa4,#fcffa4,#fcffa4,#fcffa4,#fafda1,#f9fc9d,#f6fa96,#f4f78d,#f2f482,#f2ec6d,#f3e259,#f8cf3a,#fbb016,#f58415,#fabb22,#f6d644,#f2e763,#f2f079,#f4f78b,#f7fa96,#fafda0,#fcffa4,#fcffa4,#fcffa4,#fbfea1,#f8fc9b,#f5f890,#f2f17b,#f3e55f,#f8c933,#f58615,#f9ba28,#f4e157,#f2ef76,#f5f992,#fafd9f,#fcfea4,#fcffa4,#fbfea2,#f7fa96,#f2f27e,#f4df55,#fab81f,#fabc23,#f3e55f,#f4f689,#f9fc9c,#fcffa4,#fbfea3,#f7fa95,#f2ee74,#f7cd3a,#f9b722,#f2eb6d,#f7fa97,#fcfea3,#fafda0,#f3f483,#efb84c,#f1b543,#f3f382,#fbfea3,#fafd9f,#f5e15f,#fac12a,#f5f586,#fbfea3,#f6db68,#f6cf4a,#f9fc9e,#f6c945,#f8f087,#f9fcad 250.5px);top:212px;height:4px"><i style="opacity:.203"></i></div>
<div class="r" style="--g:linear-gradient(90deg,#fdffc7 .5px,#fcffa4,#fcffa4,#fcffa4,#fcffa4,#fcffa4,#fcffa4,#fcffa4,#fcffa4,#fcffa4,#fcffa4,#fcffa4,#fcffa4,#fcffa4,#fcffa4,#fcffa4,#fcffa4,#fcffa4,#fcffa4,#fbfea3,#fafda1,#fafda1,#fafda1,#fafda1,#fafda1,#fafda1,#fafda1,#fafda1,#fafda1,#fafda1,#fafda1,#fafda1,#fafda1,#fafda1,#fafda1,#fafda1,#fafda1,#fafda1,#f9fd9e,#f9fc9d,#f9fc9d,#f9fc9d,#f9fc9d,#f9fc9d,#f9fc9d,#f9fc9d,#f9fc9d,#f9fc9d,#f8fc9b,#f8fb9a,#f8fb9a,#f8fb9a,#f8fb9a,#f8fb9a,#f8fb9a,#f8fb9a,#f7fa97,#f6fa96,#f6fa96,#f6fa96,#f6fa96,#f6f993,#f5f992,#f5f992,#f5f992,#f5f991,#f4f88e,#f4f88e,#f4f88e,#f4f78d,#f3f68a,#f3f68a,#f3f68a,#f3f586,#f3f586,#f3f586,#f2f482,#f2f482,#f2f27e,#f2f27d,#f2f17b,#f1f179,#f1ef76,#f1ef75,#f1ee73,#f1ed71,#f1ec6d,#f2ea6a,#f2e966,#f2e865,#f2e660,#f3e55d,#f3e35a,#f4e156,#f4de51,#f5dc4e,#f5d949,#f6d644,#f7d441,#f8cf3a,#f9cb35,#f9c72e,#fac229,#fbbc22,#fbb51a,#fcad11,#fca108,#fa9407,#f47a18,#dc5338,#e3602e,#f8880d,#fb9b07,#fca90e,#fcb317,#fbbc21,#fac32a,#f9ca33,#f8d03a,#f6d644,#f5da4a,#f4de50,#f4e156,#f3e45c,#f2e763,#f2eb6a,#f1ed70,#f1ef74,#f2f17c,#f2f37f,#f2f483,#f3f689,#f3f68a,#f5f890,#f5f992,#f6fa95,#f7fb98,#f8fb9a,#f9fc9d,#f9fd9e,#fafda1,#fbfea1,#fcffa4,#fcffa4,#fcffa4,#fcffa4,#fcffa4,#fcffa4,#fcffa4,#fcffa4,#fcffa4,#fcffa4,#fbfea1,#fafda0,#f9fc9d,#f8fc9b,#f7fb98,#f6fa95,#f4f88f,#f3f687,#f2f380,#f1f078,#f1ec6d,#f2e762,#f4df53,#f6d543,#f9c830,#fbb217,#f9900c,#f37c17,#fcab12,#fac42c,#f7d441,#f4e156,#f2e967,#f1ee73,#f2f380,#f3f688,#f6f993,#f7fb99,#f9fc9d,#fafea1,#fcffa4,#fcffa4,#fcffa4,#fcffa4,#fcffa4,#fafda0,#f9fc9c,#f6fa94,#f4f78c,#f2f27c,#f2ea68,#f4df53,#f9c831,#fba210,#fa990d,#f9c42b,#f5dd50,#f2eb6b,#f2f37f,#f5f88f,#f8fb99,#fafea1,#fcffa4,#fcffa4,#fcffa4,#fafda0,#f7fb98,#f3f688,#f2ed6f,#f4dd51,#fbb017,#f3881f,#f6d443,#f2ea6a,#f3f588,#f8fb99,#fbfea2,#fcffa4,#fcfea4,#f8fc9b,#f4f689,#f3e662,#f8bf2f,#f8a620,#f3e259,#f3f483,#f9fc9c,#fbfea3,#fbfea3,#f7fa96,#f3eb6e,#f8bf2e,#f5b233,#f2f17b,#f8fc9b,#fcffa4,#f9fc9d,#f3e664,#fab019,#f4e96e,#fafd9f,#fafd9f,#f4e461,#f9c738,#f8fb99,#f8f998,#f5b43e,#f9fb99,#f9fcae 250.5px);top:216px;height:3px"><i style="opacity:.881"></i></div>
<div class="r" style="--g:linear-gradient(90deg,#fdffc7 .5px,#fcffa4,#fcffa4,#fcffa4,#fcffa4,#fcffa4,#fcffa4,#fcffa4,#fcffa4,#fcffa4,#fcffa4,#fcffa4,#fcffa4,#fcffa4,#fcffa4,#fcffa4,#fcffa4,#fcffa4,#fcffa4,#fcffa4,#fcffa4,#fcffa4,#fcffa4,#fcffa4,#fcffa4,#fbfea2,#fafda1,#fafda1,#fafda1,#fafda1,#fafda1,#fafda1,#fafda1,#fafda1,#fafda1,#fafda1,#fafda1,#fafda1,#fafda1,#fafda1,#fafda1,#fafda1,#fafda1,#f9fd9e,#f9fc9d,#f9fc9d,#f9fc9d,#f9fc9d,#f9fc9d,#f9fc9d,#f9fc9d,#f9fc9d,#f9fc9d,#f9fc9d,#f8fb9a,#f8fb9a,#f8fb9a,#f8fb9a,#f8fb9a,#f8fb9a,#f8fb9a,#f7fa97,#f6fa96,#f6fa96,#f6fa96,#f6fa96,#f6fa95,#f5f992,#f5f992,#f5f992,#f5f992,#f5f890,#f4f88e,#f4f88e,#f4f88e,#f4f78b,#f3f68a,#f3f68a,#f3f689,#f3f586,#f3f586,#f2f484,#f2f482,#f2f381,#f2f27d,#f2f27d,#f1f17a,#f1f078,#f1ef75,#f1ee73,#f1ed71,#f1ec6d,#f2ea6a,#f2ea69,#f2e865,#f2e761,#f3e55e,#f3e35b,#f3e258,#f4df53,#f4dd50,#f5da4b,#f6d847,#f7d442,#f7d13d,#f8ce38,#f9c932,#fac52c,#fbbf25,#fbb81d,#fcb014,#fca70c,#fb9a07,#f8870e,#dc632a,#a63b4a,#f47b17,#fa9408,#fca40a,#fcaf14,#fbba1f,#fac128,#f9c830,#f8cd37,#f7d340,#f6d847,#f4dd4f,#f4e055,#f3e35a,#f2e661,#f2e966,#f1ec6d,#f1ed71,#f1f077,#f2f27d,#f2f482,#f3f586,#f3f68a,#f4f88e,#f5f991,#f6fa95,#f6fa96,#f8fb9a,#f9fc9d,#f9fd9e,#fafda1,#fafda1,#fbfea2,#fcffa4,#fcffa4,#fcffa4,#fcffa4,#fcffa4,#fcffa4,#fcffa4,#fcffa4,#fcffa4,#fcfea4,#fafda1,#fafd9f,#f8fc9c,#f8fb9a,#f7fa96,#f5f88f,#f4f78c,#f3f584,#f2f27c,#f1ee71,#f2e967,#f3e157,#f5da4a,#f8cd37,#fbbd23,#fa9c0f,#e2602e,#fa9b0e,#fbbe24,#f8cf3a,#f4dd4f,#f3e55e,#f2ec6e,#f2f17c,#f3f687,#f4f88f,#f6fa95,#f9fc9c,#fafda1,#fcffa4,#fcffa4,#fcffa4,#fcffa4,#fcffa4,#fbfea1,#f9fd9e,#f7fb97,#f4f88e,#f2f37f,#f2ec6e,#f4e056,#f8cf3a,#faa419,#f78814,#fabc22,#f5db4c,#f2e966,#f2f27e,#f4f78d,#f8fc9b,#fafda1,#fcffa4,#fcffa4,#fcfea4,#fafd9f,#f7fb98,#f3f586,#f2ec6f,#f6d849,#faa916,#f99f18,#f6d849,#f2ec6d,#f4f78c,#f9fc9c,#fcfea4,#fcffa4,#fbfea2,#f7fa96,#f3f17d,#f5d94b,#f89c1d,#f7d03d,#f2ee73,#f7fa95,#fcfea3,#fcffa4,#f7fb98,#f3ef77,#f8bd2e,#f7b22d,#f3f585,#fafd9f,#fbfea3,#f5f78d,#f0a642,#f4dc57,#f8fa97,#f9fc9b,#f6dc54,#f6f484,#f9f78f,#faf9a7 250.5px);top:219px;height:3px"><i style="opacity:.559"></i></div>
<div class="r" style="--g:linear-gradient(90deg,#fdffc7 .5px,#fcffa4,#fcffa4,#fcffa4,#fcffa4,#fcffa4,#fcffa4,#fcffa4,#fcffa4,#fcffa4,#fcffa4,#fcffa4,#fcffa4,#fcffa4,#fcffa4,#fcffa4,#fcffa4,#fcffa4,#fcffa4,#fcffa4,#fcffa4,#fcffa4,#fcffa4,#fcffa4,#fcffa4,#fcffa4,#fcffa4,#fcffa4,#fcffa4,#fcffa4,#fcfea4,#fafda1,#fafda1,#fafda1,#fafda1,#fafda1,#fafda1,#fafda1,#fafda1,#fafda1,#fafda1,#fafda1,#fafda1,#fafda1,#fafda1,#fafda1,#fafda1,#fafda1,#fafda1,#fafd9f,#f9fc9d,#f9fc9d,#f9fc9d,#f9fc9d,#f9fc9d,#f9fc9d,#f9fc9d,#f9fc9d,#f9fc9d,#f9fc9d,#f8fb9a,#f8fb9a,#f8fb9a,#f8fb9a,#f8fb9a,#f8fb9a,#f8fb9a,#f7fb98,#f6fa96,#f6fa96,#f6fa96,#f6fa96,#f6fa96,#f5f992,#f5f992,#f5f992,#f5f992,#f5f890,#f4f88e,#f4f88e,#f4f88e,#f4f78c,#f3f68a,#f3f68a,#f3f687,#f3f586,#f3f586,#f2f483,#f2f482,#f2f482,#f2f27e,#f2f27d,#f2f17a,#f1f179,#f1ef75,#f1ee74,#f1ed71,#f1ec6e,#f1ec6d,#f2ea69,#f2e966,#f2e762,#f2e55f,#f3e45c,#f3e157,#f4df53,#f4dd4f,#f5db4c,#f6d846,#f6d543,#f7d23e,#f8ce39,#f9ca33,#fac52c,#fac026,#fbb91e,#fcb116,#fca60b,#fb9b07,#f8880d,#ec6925,#a33a4f,#f47b17,#fa9109,#fca40a,#fcae13,#fbba1f,#fac127,#f9c72f,#f8cd37,#f7d23f,#f6d746,#f5db4b,#f4e054,#f3e35b,#f2e661,#f2e968,#f2eb6b,#f1ee73,#f1ef76,#f2f27d,#f2f482,#f3f586,#f3f689,#f4f78d,#f5f891,#f6fa94,#f7fb97,#f8fb9a,#f9fc9c,#f9fc9d,#fafda1,#fafda1,#fcfea4,#fcffa4,#fcffa4,#fcffa4,#fcffa4,#fcffa4,#fcffa4,#fcffa4,#fcffa4,#fcffa4,#fbfea2,#fafda1,#fafda0,#f9fc9c,#f8fb99,#f6fa96,#f5f890,#f3f689,#f2f482,#f2f17b,#f1ed71,#f2e864,#f3e258,#f6d847,#f8cd37,#fbb81d,#fa9a0c,#f37919,#fba10b,#fac127,#f7d23e,#f4dd4f,#f2e762,#f1ed71,#f2f27e,#f3f689,#f5f991,#f7fb98,#fafd9f,#fafda1,#fcfea3,#fcffa4,#fcffa4,#fcffa4,#fcfea4,#fafda1,#f8fc9b,#f6f993,#f3f688,#f2f27c,#f2e966,#f4dd50,#fac32b,#f58f14,#f18f23,#f8cc36,#f4e056,#f2ed71,#f3f484,#f6fa94,#fafd9f,#fcfea4,#fcffa4,#fcffa4,#fbfea3,#f8fc9b,#f4f88e,#f2f17b,#f4e056,#fac028,#fa9d13,#f8ce3a,#f2e968,#f3f689,#f8fc9b,#fcfea4,#fcffa4,#fbfea3,#f7fa96,#f2ee74,#f6d342,#fcb015,#f4de52,#f3f381,#fafd9f,#fcffa4,#f9fc9d,#f3f482,#f6bc3a,#f4b237,#f4f382,#fbfea2,#f8fb99,#f4d454,#f3b841,#fbfea3,#f8df67,#fdea92 250.5px);top:222px;height:4px"><i style="opacity:.237"></i></div>
<div class="r" style="--g:linear-gradient(90deg,#fdffc7 .5px,#fcffa4,#fcffa4,#fcffa4,#fcffa4,#fcffa4,#fcffa4,#fcffa4,#fcffa4,#fcffa4,#fcffa4,#fcffa4,#fcffa4,#fcffa4,#fcffa4,#fcffa4,#fcffa4,#fcffa4,#fcffa4,#fcffa4,#fcffa4,#fcffa4,#fcffa4,#fcffa4,#fcffa4,#fcffa4,#fcffa4,#fcffa4,#fcffa4,#fcffa4,#fcffa4,#fcffa4,#fcffa4,#fcffa4,#fcffa4,#fcffa4,#fcffa4,#fbfea3,#fafda1,#fafda1,#fafda1,#fafda1,#fafda1,#fafda1,#fafda1,#fafda1,#fafda1,#fafda1,#fafda1,#fafda1,#fafda1,#fafda1,#fafda1,#fafda1,#fafda1,#fafda1,#f9fd9e,#f9fc9d,#f9fc9d,#f9fc9d,#f9fc9d,#f9fc9d,#f9fc9d,#f9fc9d,#f9fc9d,#f9fc9d,#f9fc9d,#f8fb9a,#f8fb9a,#f8fb9a,#f8fb9a,#f8fb9a,#f8fb9a,#f8fb9a,#f7fa97,#f6fa96,#f6fa96,#f6fa96,#f6fa96,#f6fa95,#f5f992,#f5f992,#f5f992,#f5f992,#f5f890,#f4f88e,#f4f88e,#f4f88e,#f4f78b,#f3f68a,#f3f68a,#f3f586,#f3f586,#f3f586,#f2f482,#f2f482,#f2f381,#f2f27d,#f2f27d,#f1f179,#f1f078,#f1ef75,#f1ee73,#f1ed71,#f1ec6d,#f1eb6c,#f2ea69,#f2e865,#f2e761,#f3e55e,#f3e35b,#f4e156,#f4df53,#f5dd4f,#f5db4b,#f6d746,#f7d441,#f7d13c,#f8ce38,#f9c931,#fac42b,#fbbe23,#fbb71c,#fcaf14,#fca50b,#fb9806,#f68212,#db5b33,#c44c41,#f78211,#fb9708,#fca60c,#fcb015,#fbbc21,#fac229,#f9c931,#f8ce39,#f7d440,#f6d847,#f5dc4e,#f4e156,#f3e45c,#f2e763,#f2ea68,#f1ec6d,#f1ee74,#f1f077,#f2f37f,#f2f483,#f3f586,#f3f68a,#f4f88e,#f5f991,#f6fa95,#f7fb98,#f8fb9a,#f9fc9d,#f9fd9e,#fafda1,#fafea1,#fcffa4,#fcffa4,#fcffa4,#fcffa4,#fcffa4,#fcffa4,#fcffa4,#fcffa4,#fcffa4,#fcffa4,#fbfea1,#fafda0,#f9fc9d,#f8fc9c,#f7fb98,#f6fa95,#f5f88f,#f3f688,#f2f380,#f1f079,#f2eb6c,#f2e660,#f4de52,#f7d441,#f9c72f,#fcb015,#f68512,#f88a0f,#fbb015,#f9c830,#f6d645,#f3e258,#f2ea6a,#f1ef76,#f2f484,#f4f78c,#f7fa96,#f8fb9a,#fafda0,#fbfea3,#fcffa4,#fcffa4,#fcffa4,#fcffa4,#fbfea3,#f9fc9d,#f6fa96,#f4f78d,#f2f482,#f2ed70,#f4e056,#f8ce39,#fba20f,#ef7a1f,#f9c52d,#f4dd50,#f2ec6d,#f3f483,#f5f992,#f9fc9d,#fbfea3,#fcffa4,#fcffa4,#fafda1,#f8fb9a,#f4f78c,#f2ee72,#f5da4d,#f5a120,#f09027,#f4de51,#f2f078,#f6f994,#fafda0,#fcffa4,#fbfea3,#f7fa96,#f2f07a,#f2d34c,#d47541,#f4e25b,#f5f88e,#fbfea2,#fbfea3,#f4f688,#f6cf41,#f6d348,#f6f993,#f9fc9c,#f6dc50,#fcf39d 250.5px);top:226px;height:3px"><i style="opacity:.915"></i></div>
<div class="r" style="--g:linear-gradient(90deg,#fdffc7 .5px,#fcffa4,#fcffa4,#fcffa4,#fcffa4,#fcffa4,#fcffa4,#fcffa4,#fcffa4,#fcffa4,#fcffa4,#fcffa4,#fcffa4,#fcffa4,#fcffa4,#fcffa4,#fcffa4,#fcffa4,#fcffa4,#fcffa4,#fcffa4,#fcffa4,#fcffa4,#fcffa4,#fcffa4,#fcffa4,#fcffa4,#fcffa4,#fcffa4,#fcffa4,#fcffa4,#fcffa4,#fcffa4,#fcffa4,#fcffa4,#fcffa4,#fcffa4,#fcffa4,#fcffa4,#fcffa4,#fcffa4,#fcffa4,#fcffa4,#fcffa4,#fcffa4,#fbfea3,#fafda1,#fafda1,#fafda1,#fafda1,#fafda1,#fafda1,#fafda1,#fafda1,#fafda1,#fafda1,#fafda1,#fafda1,#fafda1,#fafda1,#fafda1,#fafda1,#fafda1,#fafda1,#f9fd9e,#f9fc9d,#f9fc9d,#f9fc9d,#f9fc9d,#f9fc9d,#f9fc9d,#f9fc9d,#f9fc9d,#f9fc9d,#f9fc9d,#f8fb9a,#f8fb9a,#f8fb9a,#f8fb9a,#f8fb9a,#f8fb9a,#f8fb9a,#f7fa96,#f6fa96,#f6fa96,#f6fa96,#f6fa96,#f6fa95,#f5f992,#f5f992,#f5f992,#f5f992,#f5f88f,#f4f88e,#f4f88e,#f4f78d,#f3f68a,#f3f68a,#f3f68a,#f3f586,#f3f586,#f3f585,#f2f482,#f2f482,#f2f27e,#f2f27d,#f2f17b,#f1f179,#f1ef75,#f1ef75,#f1ee72,#f1ed71,#f1ec6d,#f2ea69,#f2ea68,#f2e865,#f2e661,#f3e55e,#f3e35a,#f4e156,#f4de51,#f5dc4e,#f5d949,#f6d745,#f7d340,#f7d13c,#f9cb35,#f9c830,#fac32a,#fbbc21,#fbb51a,#fcac10,#fca209,#fa9308,#f57e14,#da503b,#e6612c,#f8880e,#fb9d07,#fca90e,#fcb419,#fbbc22,#fac52c,#f9cb34,#f7d13c,#f6d542,#f5d949,#f4de51,#f3e157,#f3e45d,#f2e763,#f2eb6b,#f1ed70,#f1ef75,#f1f179,#f2f37f,#f2f483,#f3f587,#f4f78d,#f5f890,#f6f994,#f6fa96,#f7fb99,#f8fb9a,#f9fc9d,#fafd9f,#fafda1,#fbfea1,#fcffa4,#fcffa4,#fcffa4,#fcffa4,#fcffa4,#fcffa4,#fcffa4,#fcffa4,#fcffa4,#fcffa4,#fbfea1,#fafda0,#f9fc9d,#f8fb9a,#f6fa96,#f5f991,#f4f78c,#f2f483,#f2f17b,#f1ee72,#f2e968,#f3e259,#f5da4a,#f8cd37,#fbbc21,#fa9d10,#ee6b23,#fb9e0b,#fac128,#f7d13c,#f4de51,#f2e661,#f1ed71,#f2f37f,#f3f68a,#f6fa94,#f7fb97,#f9fd9e,#fbfea2,#fcffa4,#fcffa4,#fcffa4,#fcffa4,#fbfea2,#fafd9f,#f7fb98,#f4f88e,#f2f482,#f2ec6f,#f4e157,#f8cd37,#f69918,#f28419,#f9ca33,#f4e054,#f2ee73,#f3f587,#f7fa96,#fafd9f,#fcfea4,#fcffa4,#fcffa4,#fafd9f,#f6f993,#f2f079,#f3e259,#f9b31f,#faa416,#f5db4f,#f2f27e,#f6fa95,#fbfea3,#fcffa4,#f9fc9c,#f3f484,#f7d242,#f7a523,#f4ea6d,#f9fc9d,#fcfea4,#f4eb6f,#f8c436,#f9fbaa 250.5px);top:229px;height:3px"><i style="opacity:.593"></i></div>
<div class="r" style="--g:linear-gradient(90deg,#fdffc7 .5px,#fcffa4,#fcffa4,#fcffa4,#fcffa4,#fcffa4,#fcffa4,#fcffa4,#fcffa4,#fcffa4,#fcffa4,#fcffa4,#fcffa4,#fcffa4,#fcffa4,#fcffa4,#fcffa4,#fcffa4,#fcffa4,#fcffa4,#fcffa4,#fcffa4,#fcffa4,#fcffa4,#fcffa4,#fcffa4,#fcffa4,#fcffa4,#fcffa4,#fcffa4,#fcffa4,#fcffa4,#fcffa4,#fcffa4,#fcffa4,#fcffa4,#fcffa4,#fcffa4,#fcffa4,#fcffa4,#fcffa4,#fcffa4,#fcffa4,#fcffa4,#fcffa4,#fcffa4,#fcffa4,#fcffa4,#fcffa4,#fcffa4,#fcffa4,#fcffa4,#fcffa4,#fcffa4,#fbfea3,#fafda1,#fafda1,#fafda1,#fafda1,#fafda1,#fafda1,#fafda1,#fafda1,#fafda1,#fafda1,#fafda1,#fafda1,#fafda1,#fafda1,#fafda1,#fafda1,#fafda1,#fafda1,#f9fd9e,#f9fc9d,#f9fc9d,#f9fc9d,#f9fc9d,#f9fc9d,#f9fc9d,#f9fc9d,#f9fc9d,#f9fc9d,#f9fc9d,#f8fb9a,#f8fb9a,#f8fb9a,#f8fb9a,#f8fb9a,#f8fb9a,#f8fb9a,#f7fa96,#f6fa96,#f6fa96,#f6fa96,#f6fa96,#f6fa95,#f5f992,#f5f992,#f5f992,#f5f992,#f5f88f,#f4f88e,#f4f88e,#f4f78d,#f3f68a,#f3f68a,#f3f68a,#f3f586,#f3f586,#f3f585,#f2f482,#f2f482,#f2f27e,#f2f27d,#f2f17b,#f1f179,#f1f078,#f1ef75,#f1ee72,#f1ed71,#f1ec6d,#f2ea6a,#f2ea68,#f2e865,#f2e661,#f3e55e,#f3e35b,#f3e257,#f4df53,#f5dd4f,#f5da4a,#f6d847,#f7d441,#f7d13c,#f8cc35,#f9c830,#fac32a,#fbbc21,#fbb61b,#fcad11,#fca30a,#fa9307,#f67f14,#db523a,#e5602d,#f8870e,#fb9c07,#fca80e,#fcb418,#fbbc22,#fac42c,#f9ca33,#f7d13c,#f7d542,#f5d949,#f4de50,#f3e156,#f3e45d,#f2e763,#f2eb6a,#f1ed70,#f1ef75,#f2f17c,#f2f37f,#f2f483,#f3f689,#f4f78d,#f5f890,#f6f993,#f6fa96,#f7fb98,#f8fc9c,#f9fc9d,#fafda1,#fafda1,#fbfea1,#fcffa4,#fcffa4,#fcffa4,#fcffa4,#fcffa4,#fcffa4,#fcffa4,#fcffa4,#fcffa4,#fcffa4,#fbfea1,#fafda0,#f9fc9d,#f8fb9a,#f6fa94,#f5f891,#f4f68a,#f2f483,#f2f17b,#f1ec6f,#f2e864,#f4e055,#f6d644,#f9c932,#fbb419,#f78d10,#f0791a,#fcaf14,#f9c931,#f6d745,#f3e258,#f2ea69,#f1f077,#f3f585,#f4f78d,#f7fb98,#f8fc9b,#fafda0,#fcfea3,#fcffa4,#fcffa4,#fcffa4,#fcfea4,#f9fd9e,#f7fb98,#f5f890,#f2f381,#f2ec6f,#f4e055,#f9c730,#fa9a10,#faa718,#f7d03c,#f2e865,#f2f27d,#f5f991,#f9fc9d,#fbfea3,#fcffa4,#fcfea3,#f9fc9d,#f5f890,#f2ed6f,#f7d240,#f89d1d,#f6d645,#f2f17c,#f9fc9c,#fcfea4,#fafda0,#f3f382,#fbbc21,#f4ec75,#f9fcad 250.5px);top:232px;height:4px"><i style="opacity:.271"></i></div>
<div class="r" style="--g:linear-gradient(90deg,#fdffc7 .5px,#fcffa4,#fcffa4,#fcffa4,#fcffa4,#fcffa4,#fcffa4,#fcffa4,#fcffa4,#fcffa4,#fcffa4,#fcffa4,#fcffa4,#fcffa4,#fcffa4,#fcffa4,#fcffa4,#fcffa4,#fcffa4,#fcffa4,#fcffa4,#fcffa4,#fcffa4,#fcffa4,#fcffa4,#fcffa4,#fcffa4,#fcffa4,#fcffa4,#fcffa4,#fcffa4,#fcffa4,#fcffa4,#fcffa4,#fcffa4,#fcffa4,#fcffa4,#fcffa4,#fcffa4,#fcffa4,#fcffa4,#fcffa4,#fcffa4,#fcffa4,#fcffa4,#fcffa4,#fcffa4,#fcffa4,#fcffa4,#fcffa4,#fcffa4,#fcffa4,#fcffa4,#fcffa4,#fcffa4,#fcffa4,#fcffa4,#fcffa4,#fcffa4,#fcffa4,#fcffa4,#fcffa4,#fcffa4,#fcffa4,#fcffa4,#fcfea4,#fafda1,#fafda1,#fafda1,#fafda1,#fafda1,#fafda1,#fafda1,#fafda1,#fafda1,#fafda1,#fafda1,#fafda1,#fafda1,#fafda1,#fafda1,#fafda1,#fafda1,#fafda0,#f9fc9d,#f9fc9d,#f9fc9d,#f9fc9d,#f9fc9d,#f9fc9d,#f9fc9d,#f9fc9d,#f9fc9d,#f9fc9d,#f8fc9c,#f8fb9a,#f8fb9a,#f8fb9a,#f8fb9a,#f8fb9a,#f8fb9a,#f8fb99,#f6fa96,#f6fa96,#f6fa96,#f6fa96,#f6fa96,#f6fa94,#f5f992,#f5f992,#f5f992,#f5f992,#f4f88e,#f4f88e,#f4f88e,#f4f88e,#f3f68a,#f3f68a,#f3f68a,#f3f587,#f3f586,#f2f484,#f2f482,#f2f482,#f2f37f,#f2f27d,#f2f17a,#f1f179,#f1f077,#f1ef75,#f1ee71,#f1ed70,#f1ec6c,#f2ea69,#f2e967,#f2e864,#f2e660,#f3e55d,#f3e35a,#f4e055,#f4df52,#f5dc4d,#f5d949,#f6d745,#f7d340,#f8d03b,#f9cb34,#f9c72e,#fac229,#fbbc21,#fbb51a,#fcaa0f,#fca108,#fa9009,#f37918,#da513a,#ee6d22,#f88a0d,#fb9f08,#fcaa0e,#fbb61b,#fbbe24,#fac52d,#f8cc35,#f7d13d,#f6d644,#f5db4b,#f4de52,#f3e258,#f2e55f,#f2e865,#f1eb6c,#f1ed71,#f1f077,#f2f27d,#f2f481,#f3f586,#f3f68a,#f4f88e,#f5f991,#f6fa95,#f6fa96,#f8fb9a,#f9fc9d,#f9fd9e,#fafda1,#fafda1,#fcffa4,#fcffa4,#fcffa4,#fcffa4,#fcffa4,#fcffa4,#fcffa4,#fcffa4,#fcffa4,#fcffa4,#fbfea2,#fafda1,#f9fc9d,#f8fc9c,#f7fa96,#f5f992,#f4f78b,#f2f484,#f2f27c,#f1ee72,#f2e967,#f3e35a,#f6d948,#f9cb34,#fbb91f,#f88d0e,#e76927,#fbaf17,#f9c830,#f6d746,#f3e35b,#f2eb6c,#f2f27c,#f3f587,#f5f890,#f7fa97,#f9fc9e,#fbfea1,#fcffa4,#fcffa4,#fcffa4,#fcfea4,#fafda0,#f7fb98,#f5f891,#f2f381,#f2eb6b,#f5da4b,#fbb81e,#e9792b,#f9c831,#f4e158,#f2f37f,#f5f890,#fafd9f,#fcffa4,#fcffa4,#f9fd9e,#f4f588,#f4dd52,#faa314,#f3ea6c,#f8fb9a,#f8fba9 250.5px);top:236px;height:3px"><i style="opacity:.949"></i></div>
<div class="r" style="--g:linear-gradient(90deg,#fdffc7 .5px,#fcffa4,#fcffa4,#fcffa4,#fcffa4,#fcffa4,#fcffa4,#fcffa4,#fcffa4,#fcffa4,#fcffa4,#fcffa4,#fcffa4,#fcffa4,#fcffa4,#fcffa4,#fcffa4,#fcffa4,#fcffa4,#fcffa4,#fcffa4,#fcffa4,#fcffa4,#fcffa4,#fcffa4,#fcffa4,#fcffa4,#fcffa4,#fcffa4,#fcffa4,#fcffa4,#fcffa4,#fcffa4,#fcffa4,#fcffa4,#fcffa4,#fcffa4,#fcffa4,#fcffa4,#fcffa4,#fcffa4,#fcffa4,#fcffa4,#fcffa4,#fcffa4,#fcffa4,#fcffa4,#fcffa4,#fcffa4,#fcffa4,#fcffa4,#fcffa4,#fcffa4,#fcffa4,#fcffa4,#fcffa4,#fcffa4,#fcffa4,#fcffa4,#fcffa4,#fcffa4,#fcffa4,#fcffa4,#fcffa4,#fcffa4,#fcffa4,#fcffa4,#fcffa4,#fcffa4,#fcffa4,#fcffa4,#fcffa4,#fcffa4,#fcffa4,#fcffa4,#fcffa4,#fcffa4,#fcffa4,#fcffa4,#fbfea2,#fafda1,#fafda1,#fafda1,#fafda1,#fafda1,#fafda1,#fafda1,#fafda1,#fafda1,#fafda1,#fafda1,#fafda1,#fafda1,#fafda1,#fafda1,#fafda1,#fafda1,#fafd9f,#f9fc9d,#f9fc9d,#f9fc9d,#f9fc9d,#f9fc9d,#f9fc9d,#f9fc9d,#f9fc9d,#f9fc9d,#f9fc9d,#f8fb9a,#f8fb9a,#f8fb9a,#f8fb9a,#f8fb9a,#f8fb9a,#f8fb9a,#f7fb97,#f6fa96,#f6fa96,#f6fa96,#f6fa96,#f6fa96,#f5f992,#f5f992,#f5f992,#f5f992,#f5f890,#f4f88e,#f4f88e,#f4f88e,#f4f78c,#f3f68a,#f3f68a,#f3f689,#f3f586,#f3f586,#f2f482,#f2f482,#f2f482,#f2f27d,#f2f27c,#f1f179,#f1f079,#f1ef75,#f1ee73,#f1ed71,#f1ec6e,#f2eb6b,#f2ea69,#f2e865,#f2e762,#f2e55f,#f3e45c,#f3e258,#f4df53,#f4de50,#f5da4a,#f6d848,#f6d542,#f7d23d,#f8ce38,#f9c931,#fac52c,#fbbe24,#fbb91e,#fcb015,#fca70c,#fb9a07,#f7850f,#ec6826,#df5735,#f57e15,#fb9608,#fca50b,#fcb216,#fbbb20,#fac228,#f9c932,#f8ce39,#f7d542,#f5d949,#f5dd4f,#f4e055,#f3e45d,#f2e762,#f2ea68,#f1ed70,#f1ef75,#f2f17a,#f2f27e,#f3f484,#f3f688,#f4f78b,#f5f991,#f5f992,#f6fa96,#f8fb9a,#f9fc9d,#f9fc9d,#fafda0,#fafda1,#fbfea2,#fcffa4,#fcffa4,#fcffa4,#fcffa4,#fcffa4,#fcffa4,#fcffa4,#fcffa4,#fcffa4,#fbfea2,#fafda0,#f9fc9d,#f8fb9a,#f6fa95,#f5f88f,#f3f689,#f2f380,#f1f077,#f2eb6c,#f3e55f,#f5db4c,#f8ce39,#fbb81e,#f79110,#f17b19,#fbb318,#f9cb34,#f5dc4e,#f2e55f,#f1ef75,#f2f483,#f4f78d,#f7fa97,#f9fc9e,#fbfea2,#fcffa4,#fcffa4,#fcffa4,#fafda1,#f8fc9b,#f4f78d,#f2f17a,#f4e158,#fab71f,#f89b1a,#f5dd51,#f2f27d,#f9fc9d,#fcfea4,#f7f8a0 250.5px);top:239px;height:3px"><i style="opacity:.627"></i></div>
<div class="r" style="--g:linear-gradient(90deg,#fdffc7 0.5px,#fcffa4 1.5px 96.5px,#fbfea2 97.5px,#fafda1 98.5px 115.5px,#f9fc9d 116.5px 125.5px,#f8fb9a 126.5px 132.5px,#f7fb98 133.5px,#f6fa96 134.5px 138.5px,#f6fa95 139.5px,#f5f992 140.5px 143.5px,#f4f88f 144.5px,#f4f88e 145.5px 146.5px,#f4f78c 147.5px,#f3f68a 148.5px 150.5px,#f3f586 151.5px 152.5px,#f3f585 153.5px,#f2f482 154.5px 155.5px,#f2f27e 156.5px,#f2f27d 157.5px,#f2f17a 158.5px,#f1f179 159.5px,#f1ef75 160.5px 161.5px,#f1ee72 162.5px,#f1ec6e 163.5px,#f1ec6d 164.5px,#f2ea69 165.5px,#f2e966 166.5px,#f2e762 167.5px,#f2e55f 168.5px,#f3e45c 169.5px,#f3e259 170.5px,#f4df54 171.5px,#f4de51 172.5px,#f5da4b 173.5px,#f6d848 174.5px,#f6d543 175.5px,#f7d23e 176.5px,#f8ce39 177.5px,#f9c931 178.5px,#fac52c 179.5px,#fbbe24 180.5px,#fbb81c 181.5px,#fcaf14 182.5px,#fca50b 183.5px,#fb9807 184.5px,#f68212 185.5px,#e55e2e 186.5px,#e8612b 187.5px,#f78311 188.5px,#fb9a07 189.5px,#fca80d 190.5px,#fcb318 191.5px,#fbbc22 192.5px,#fac32a 193.5px,#f9cb34 194.5px,#f8d03b 195.5px,#f6d643 196.5px,#f5db4b 197.5px,#f4de52 198.5px,#f3e258 199.5px,#f2e660 200.5px,#f2e966 201.5px,#f1eb6c 202.5px,#f1ee73 203.5px,#f1f077 204.5px,#f2f27e 205.5px,#f2f482 206.5px,#f3f688 207.5px,#f4f78c 208.5px,#f5f88f 209.5px,#f6f993 210.5px,#f7fa96 211.5px,#f8fb9a 212.5px,#f8fc9b 213.5px,#f9fc9d 214.5px,#fafda0 215.5px,#fbfea1 216.5px,#fcffa4 217.5px 225.5px,#fafda1 226.5px,#fafda0 227.5px,#f9fc9d 228.5px,#f8fb99 229.5px,#f6f994 230.5px,#f4f78d 231.5px,#f3f584 232.5px,#f2f179 233.5px,#f1eb6c 234.5px,#f3e45c 235.5px,#f6d848 236.5px,#f9c62e 237.5px,#f7a615 238.5px,#c0583b 239.5px,#fbb41a 240.5px,#f7d340 241.5px,#f3e259 242.5px,#f2ed71 243.5px,#f3f689 244.5px,#f7fa97 245.5px,#fafda0 246.5px,#fcffa4 247.5px 248.5px,#f9fd9e 249.5px,#f6f08d 250.5px);top:242px;height:4px"><i style="opacity:.305"></i></div>
<div class="r" style="--g:linear-gradient(90deg,#fdffc7 0.5px,#fcffa4 1.5px 124.5px,#fbfea1 125.5px,#fafda1 126.5px 142.5px,#fafda0 143.5px,#f9fc9d 144.5px 153.5px,#f8fb9a 154.5px 160.5px,#f7fa96 161.5px,#f6fa96 162.5px 165.5px,#f6fa95 166.5px,#f5f992 167.5px 170.5px,#f5f88f 171.5px,#f4f88e 172.5px 174.5px,#f4f78b 175.5px,#f3f68a 176.5px 177.5px,#f3f586 178.5px 179.5px,#f3f585 180.5px,#f2f482 181.5px 182.5px,#f2f27e 183.5px,#f2f27d 184.5px,#f2f17b 185.5px,#f1f179 186.5px,#f1ef75 187.5px 188.5px,#f1ee72 189.5px,#f1ec6f 190.5px,#f1ec6d 191.5px,#f2ea69 192.5px,#f2e966 193.5px,#f2e763 194.5px,#f2e65f 195.5px,#f3e45c 196.5px,#f3e157 197.5px,#f4df54 198.5px,#f4dd4f 199.5px,#f5da4b 200.5px,#f6d745 201.5px,#f7d440 202.5px,#f8d03b 203.5px,#f8cd36 204.5px,#f9c72f 205.5px,#fac229 206.5px,#fbbc21 207.5px,#fcb418 208.5px,#fcaa0f 209.5px,#fb9c07 210.5px,#f98b0c 211.5px,#ea6528 212.5px,#ce4a42 213.5px,#f68311 214.5px,#fb9807 215.5px,#fca90e 216.5px,#fcb519 217.5px,#fbbe24 218.5px,#f9c72f 219.5px,#f8cc36 220.5px,#f7d340 221.5px,#f6d948 222.5px,#f4de51 223.5px,#f3e259 224.5px,#f2e65f 225.5px,#f2e967 226.5px,#f1ec6e 227.5px,#f1ef75 228.5px,#f2f17a 229.5px,#f2f482 230.5px,#f3f587 231.5px,#f4f78b 232.5px,#f5f891 233.5px,#f6fa94 234.5px,#f7fb97 235.5px,#f8fc9b 236.5px,#f9fd9e 237.5px,#fafda1 238.5px,#fbfea3 239.5px,#fcffa4 240.5px 244.5px,#fcfea3 245.5px,#fafda0 246.5px,#f8fc9b 247.5px,#f4f88e 248.5px,#f2f27d 249.5px,#f7e271 250.5px);top:246px;height:3px"><i style="opacity:.983"></i></div>
<div class="r" style="--g:linear-gradient(90deg,#fdffc7 0.5px,#fcffa4 1.5px 183.5px,#fbfea2 184.5px,#fafda1 185.5px 200.5px,#fafda0 201.5px,#f9fc9d 202.5px 211.5px,#f8fb9a 212.5px 217.5px,#f7fb98 218.5px,#f6fa96 219.5px 222.5px,#f5f992 223.5px 226.5px,#f4f88e 227.5px 229.5px,#f3f68a 230.5px 231.5px,#f3f689 232.5px,#f3f586 233.5px 234.5px,#f2f482 235.5px,#f2f380 236.5px,#f2f27d 237.5px,#f2f17b 238.5px,#f1f077 239.5px,#f1ee73 240.5px,#f1ed70 241.5px,#f1ec6c 242.5px,#f2e967 243.5px,#f2e661 244.5px,#f3e45c 245.5px,#f4df53 246.5px,#f5db4b 247.5px,#f7d13d 248.5px,#f9c830 249.5px,#fcbc41 250.5px);top:249px;height:1px"><i style="opacity:.661"></i></div>
</div>
<div class="hm" style="left:380px;top:22px;width:252px;height:250px">
<div class="r" style="--g:linear-gradient(90deg,#fddbba 0.5px,#fa9109 1.5px,#fca108 2.5px,#fcaa0f 3.5px,#fbb51a 4.5px,#fbbb21 5.5px,#fac52d 6.5px,#f9ca32 7.5px,#f7d13d 8.5px,#f6d643 9.5px,#f5da4a 10.5px,#f4dd4f 11.5px,#f4e156 12.5px,#f3e45c 13.5px,#f2e762 14.5px,#f2eb6b 15.5px,#f1ec6d 16.5px,#f1ee74 17.5px,#f2f17a 18.5px,#f2f27e 19.5px,#f2f482 20.5px,#f3f586 21.5px,#f3f689 22.5px,#f4f78d 23.5px,#f5f890 24.5px,#f6f994 25.5px,#f7fa97 26.5px,#f8fb9a 27.5px,#f9fc9c 28.5px,#f9fc9d 29.5px,#fafd9f 30.5px,#fafda1 31.5px,#fcfea3 32.5px,#fcffa4 33.5px 41.5px,#fbfea2 42.5px,#fafda1 43.5px 45.5px,#f9fc9c 46.5px,#f8fb9a 47.5px,#f7fa96 48.5px,#f6f993 49.5px,#f3f68a 50.5px,#f3f483 51.5px,#f2f27d 52.5px,#f2f078 53.5px,#f2ea69 54.5px,#f4e158 55.5px,#f5db4c 56.5px,#f7d240 57.5px,#fac026 58.5px,#eab323 59.5px,#000004 60.5px 61.5px,#cb9f23 62.5px,#fac42a 63.5px 64.5px,#f4e156 65.5px 66.5px,#f2ee73 67.5px,#f2f27d 68.5px 69.5px,#f5f890 70.5px,#f5f992 71.5px,#f6f993 72.5px,#fafda1 73.5px 74.5px,#fbfea2 75.5px,#fcffa4 76.5px 77.5px,#fbfea3 78.5px,#fafda1 79.5px 80.5px,#fafda0 81.5px,#f4f88e 82.5px 84.5px,#f4e868 85.5px,#f4e156 86.5px 88.5px,#fab720 89.5px,#fca80d 90.5px 92.5px,#f4e469 93.5px,#f2f482 94.5px 96.5px,#f5f78b 97.5px,#fcffa4 98.5px 101.5px,#f8fb99 102.5px,#f6fa96 103.5px 105.5px,#b8ba71 106.5px,#000004 107.5px 111.5px,#0d0d0b 112.5px,#fafda1 113.5px 117.5px,#f7f68c 118.5px,#f1ec6d 119.5px 124.5px,#f2ed71 125.5px,#fafda1 126.5px 132.5px,#f9f995 133.5px,#f2e661 134.5px 141.5px,#f2e763 142.5px,#f1ed71 143.5px 153.5px,#f7fa95 154.5px,#f8fb9a 155.5px 166.5px,#a3a666 167.5px,#000004 168.5px 184.5px,#474626 185.5px,#f1f179 186.5px 211.5px,#bdbc5f 212.5px,#000004 213.5px 250.5px,#dddddd 251.5px);top:1px;height:2px"><i style="opacity:.150"></i></div>
<div class="r" style="--g:linear-gradient(90deg,#fad4c0 0.5px,#f58014 1.5px,#fb9606 2.5px,#fca108 3.5px,#fcae12 4.5px,#fbb61a 5.5px,#fac026 6.5px,#fac52c 7.5px,#f8cd37 8.5px,#f7d23d 9.5px,#f6d644 10.5px,#f5d949 11.5px,#f4dd4f 12.5px,#f3e258 13.5px,#f3e55e 14.5px,#f2e966 15.5px,#f2ea69 16.5px,#f1ed6f 17.5px,#f1ef76 18.5px,#f1f17a 19.5px,#f2f27d 20.5px,#f2f481 21.5px,#f3f689 22.5px,#f4f78d 23.5px,#f5f890 24.5px,#f6f994 25.5px,#f6fa96 26.5px 27.5px,#f7fb98 28.5px,#f8fc9c 29.5px,#fafd9f 30.5px,#fafda1 31.5px 32.5px,#fbfea3 33.5px,#fcffa4 34.5px 43.5px,#fbfea1 44.5px,#fafda1 45.5px,#fafd9f 46.5px,#f9fc9d 47.5px,#f7fa96 48.5px,#f6fa94 49.5px,#f4f88e 50.5px,#f3f587 51.5px,#f2f482 52.5px,#f2f27d 53.5px,#f1ed71 54.5px,#f3e661 55.5px,#f4e156 56.5px,#f5da4b 57.5px,#f9cb35 58.5px,#f9c832 59.5px,#fa9207 60.5px 61.5px,#fbac14 62.5px,#fcb216 63.5px 64.5px,#f5db4c 65.5px 66.5px,#f2e967 67.5px,#f1ed71 68.5px 69.5px,#f4f78b 70.5px,#f4f88e 71.5px,#f5f88f 72.5px,#f9fc9d 73.5px 74.5px,#fafd9f 75.5px,#fcffa4 76.5px 80.5px,#fcfea3 81.5px,#f6fa96 82.5px 84.5px,#f3ee74 85.5px,#f2e865 86.5px 88.5px,#3f3d1d 89.5px,#000004 90.5px 92.5px,#bfbc5a 93.5px,#f1ed71 94.5px 96.5px,#f4f27e 97.5px,#fafda1 98.5px 101.5px,#f9fd9e 102.5px,#f9fc9d 103.5px 105.5px,#faea7c 106.5px,#fbb61a 107.5px 111.5px,#fbb921 112.5px,#f8fb9a 113.5px 117.5px,#f6f991 118.5px,#f3f586 119.5px 124.5px,#f3f587 125.5px,#f8fb9a 126.5px 132.5px,#f8f387 133.5px,#f9cb35 134.5px 141.5px,#f8cc36 142.5px,#f7d13d 143.5px 153.5px,#fbf998 154.5px,#fcffa4 155.5px 166.5px,#f9f68c 167.5px,#f3e55d 168.5px 184.5px,#aca243 185.5px,#000004 186.5px 211.5px,#373724 212.5px,#f8fb9a 213.5px 250.5px,#fefef1 251.5px);top:3px;height:3px"><i style="opacity:.443"></i></div>
<div class="r" style="--g:linear-gradient(90deg,#b5b5b6 0.5px,#ae5218 1.5px,#f8860f 2.5px,#fb9606 3.5px,#fca50b 4.5px,#fcae12 5.5px,#fbb91e 6.5px,#fbbf25 7.5px,#f9c72f 8.5px,#f8cd37 9.5px,#f7d23e 10.5px,#f6d746 11.5px,#f5db4c 12.5px,#f4df53 13.5px,#f3e257 14.5px,#f2e762 15.5px,#f2e865 16.5px,#f2eb6b 17.5px,#f1ee72 18.5px,#f1ef75 19.5px,#f1f179 20.5px,#f2f381 21.5px,#f3f585 22.5px,#f3f689 23.5px,#f4f78c 24.5px,#f5f890 25.5px,#f6f993 26.5px,#f6fa96 27.5px,#f7fb98 28.5px,#f8fc9c 29.5px,#f9fc9d 30.5px 31.5px,#fafda0 32.5px,#fafda1 33.5px 34.5px,#fcfea4 35.5px,#fcffa4 36.5px 43.5px,#fbfea1 44.5px,#fafda1 45.5px,#fafd9f 46.5px,#f9fc9d 47.5px,#f8fb9a 48.5px,#f7fb98 49.5px,#f5f992 50.5px,#f4f78b 51.5px,#f3f586 52.5px,#f2f482 53.5px,#f1f179 54.5px,#f2eb6b 55.5px,#f2e661 56.5px,#f4e157 57.5px,#f6d543 58.5px,#f7d340 59.5px,#fcb014 60.5px 61.5px,#fb9909 62.5px,#fa9407 63.5px 64.5px,#f7d13c 65.5px,#f7d13d 66.5px,#f3e35d 67.5px,#f2ea69 68.5px 69.5px,#f3f483 70.5px,#f3f586 71.5px,#f3f688 72.5px,#f8fb9a 73.5px 74.5px,#f9fc9d 75.5px,#fcffa4 76.5px 80.5px,#fcfea4 81.5px,#f8fb9a 82.5px 84.5px,#f3f380 85.5px,#f1ef75 86.5px 88.5px,#f9bb28 89.5px,#fca80d 90.5px 92.5px,#f4d94f 93.5px,#f2e661 94.5px 96.5px,#f4ed72 97.5px,#f9fc9d 98.5px 101.5px,#fafda0 102.5px,#fafda1 103.5px 105.5px,#faf388 106.5px,#f7d340 107.5px 111.5px,#f7d544 112.5px,#f4f88e 113.5px 117.5px,#f5f88f 118.5px,#f5f992 119.5px 125.5px,#f4f88e 126.5px 132.5px,#c8cb75 133.5px,#000004 134.5px 153.5px,#dddf91 154.5px,#fcffa4 155.5px 166.5px,#fafd9e 167.5px,#f5f992 168.5px 184.5px,#f4f68b 185.5px,#f1f179 186.5px 211.5px,#f3f380 212.5px,#f8fb9a 213.5px 250.5px,#fefef1 251.5px);top:6px;height:4px"><i style="opacity:.030"></i></div>
<div class="r" style="--g:linear-gradient(90deg,#fad4c0 0.5px,#682e12 1.5px,#ee6b23 2.5px,#f8850f 3.5px,#fb9908 4.5px,#fca50b 5.5px,#fcb217 6.5px,#fbb91e 7.5px,#fac32a 8.5px,#f9c932 9.5px,#f8ce38 10.5px,#f7d340 11.5px,#f6d746 12.5px,#f5dc4d 13.5px,#f4e054 14.5px,#f3e45c 15.5px,#f3e55d 16.5px,#f2e967 17.5px,#f1ec6e 18.5px,#f1ee71 19.5px,#f1ef75 20.5px,#f2f27d 21.5px,#f2f381 22.5px,#f3f585 23.5px,#f3f688 24.5px,#f4f78c 25.5px,#f5f88f 26.5px,#f5f992 27.5px,#f6fa94 28.5px,#f7fb98 29.5px,#f8fc9b 30.5px,#f9fc9d 31.5px,#fafda0 32.5px,#fafda1 33.5px 34.5px,#fcfea4 35.5px,#fcffa4 36.5px 45.5px,#fbfea2 46.5px,#fafda1 47.5px,#f9fc9e 48.5px,#f8fc9c 49.5px,#f6fa96 50.5px,#f5f992 51.5px,#f4f88e 52.5px,#f4f689 53.5px,#f2f27d 54.5px,#f2ed71 55.5px,#f2ea69 56.5px,#f3e660 57.5px,#f4dd4f 58.5px,#f5db4d 59.5px,#fac228 60.5px 61.5px,#2f250a 62.5px,#000004 63.5px 64.5px,#f7c42d 65.5px,#fac62d 66.5px,#f5db4e 67.5px,#f3e35a 68.5px 69.5px,#f2f17a 70.5px,#f2f27d 71.5px,#f2f380 72.5px,#f6fa96 73.5px 74.5px,#f8fb9a 75.5px,#fcffa4 76.5px 80.5px,#fcfea4 81.5px,#f9fc9d 82.5px 84.5px,#f4f68a 85.5px,#f2f482 86.5px 88.5px,#f8d243 89.5px,#fac62d 90.5px 92.5px,#f6d745 93.5px,#f5db4c 94.5px 96.5px,#f6e462 97.5px,#f8fb9a 98.5px 101.5px,#fbfea2 102.5px,#fcffa4 103.5px 105.5px,#faf892 106.5px,#f3e55d 107.5px 111.5px,#f3e55f 112.5px,#f2f27d 113.5px 117.5px,#f5f68a 118.5px,#f9fc9d 119.5px 124.5px,#f8fb9a 125.5px,#f1f179 126.5px 132.5px,#f3ea6d 133.5px,#f9cb35 134.5px 141.5px,#f8cc36 142.5px,#f7d13d 143.5px 153.5px,#f8f68e 154.5px,#f8fb9a 155.5px 166.5px,#f9fc9d 167.5px,#fcffa4 168.5px 184.5px,#fcfea3 185.5px,#fafda1 186.5px 211.5px,#c4c67e 212.5px,#000004 213.5px 250.5px,#dddddd 251.5px);top:10px;height:3px"><i style="opacity:.617"></i></div>
<div class="r" style="--g:linear-gradient(90deg,#fddbba 0.5px,#ca6019 1.5px,#080405 2.5px,#ef6c23 3.5px,#f8890e 4.5px,#fb9a07 5.5px,#fcaa0f 6.5px,#fcb217 7.5px,#fbbd23 8.5px,#fac42b 9.5px,#f9ca33 10.5px,#f8cf3a 11.5px,#f7d340 12.5px,#f6d847 13.5px,#f5dc4d 14.5px,#f3e157 15.5px,#f3e35a 16.5px,#f2e763 17.5px,#f2ea6a 18.5px,#f1ec6d 19.5px,#f1ed71 20.5px,#f1f179 21.5px,#f2f27d 22.5px,#f2f380 23.5px,#f3f586 24.5px,#f4f78c 25.5px,#f5f88f 26.5px,#f5f992 27.5px,#f6fa94 28.5px,#f7fb98 29.5px,#f8fb9a 30.5px 31.5px,#f9fc9c 32.5px,#fafd9f 33.5px,#fafda1 34.5px 35.5px,#fcfea4 36.5px,#fcffa4 37.5px 45.5px,#fbfea2 46.5px,#fafda1 47.5px,#f9fc9e 48.5px,#f9fc9c 49.5px,#f8fb9a 50.5px,#f6fa95 51.5px,#f5f992 52.5px,#f5f88f 53.5px,#f3f586 54.5px,#f2f17c 55.5px,#f1ef75 56.5px,#f2eb6c 57.5px,#f3e35a 58.5px,#f3e157 59.5px,#f8cd37 60.5px 61.5px,#fa9f10 62.5px,#fa9407 63.5px 64.5px,#fcb418 65.5px 66.5px,#f6d241 67.5px,#f4dd4f 68.5px 69.5px,#f2ed72 70.5px,#f1ef75 71.5px,#f2f078 72.5px,#f5f992 73.5px 74.5px,#f7fa96 75.5px,#fafda1 76.5px 77.5px,#fbfea3 78.5px,#fcffa4 79.5px 81.5px,#fafda1 82.5px 84.5px,#f6f991 85.5px,#f3f68a 86.5px 88.5px,#f5df57 89.5px,#f6d746 90.5px 92.5px,#f8cc36 93.5px,#f9c932 94.5px 96.5px,#f8d74d 97.5px,#f5f992 98.5px 101.5px,#fafda0 102.5px,#fcffa4 103.5px 105.5px,#f9fb98 106.5px,#f1ef75 107.5px 111.5px,#f1ef74 112.5px,#f2e865 113.5px 117.5px,#f6f17f 118.5px,#fcffa4 119.5px 124.5px,#fbfc9e 125.5px,#f4e156 126.5px 132.5px,#f3e258 133.5px,#f2e661 134.5px 141.5px,#f2e763 142.5px,#f1ed71 143.5px 153.5px,#f2f37f 154.5px,#f2f482 155.5px 166.5px,#f6f78d 167.5px,#fcffa4 168.5px 184.5px,#fcfea3 185.5px,#fafda1 186.5px 211.5px,#fafd9f 212.5px,#f8fb9a 213.5px 250.5px,#fefef1 251.5px);top:13px;height:4px"><i style="opacity:.204"></i></div>
<div class="r" style="--g:linear-gradient(90deg,#fee0b7 0.5px,#f78411 1.5px,#e66723 2.5px,#000004 3.5px,#db6b18 4.5px,#f98b0c 5.5px,#fba009 6.5px,#fcaa0f 7.5px,#fbb61a 8.5px,#fbbe24 9.5px,#fac42b 10.5px,#f9c932 11.5px,#f8cf3a 12.5px,#f7d542 13.5px,#f5da4a 14.5px,#f4df54 15.5px,#f4e156 16.5px,#f3e55e 17.5px,#f2e763 18.5px,#f2ea69 19.5px,#f1ec6d 20.5px,#f1ef75 21.5px,#f1f079 22.5px,#f2f37f 23.5px,#f2f484 24.5px,#f3f688 25.5px,#f4f78b 26.5px,#f4f88e 27.5px,#f5f890 28.5px,#f6f994 29.5px,#f7fb97 30.5px,#f8fb9a 31.5px,#f9fc9c 32.5px,#fafd9f 33.5px,#fafda1 34.5px 35.5px,#fcfea4 36.5px,#fcffa4 37.5px 47.5px,#fbfea1 48.5px,#fafda0 49.5px,#f9fc9d 50.5px,#f8fb99 51.5px,#f6fa96 52.5px,#f6f992 53.5px,#f3f68a 54.5px,#f2f380 55.5px,#f1f179 56.5px,#f2ee73 57.5px,#f2e865 58.5px,#f2e763 59.5px,#f6d746 60.5px 61.5px,#fbb91f 62.5px,#fcb216 63.5px 64.5px,#fb9606 65.5px 66.5px,#f8c331 67.5px,#f7d340 68.5px 69.5px,#f2ea69 70.5px,#f1ec6d 71.5px,#f2ed6f 72.5px,#f3f68a 73.5px 74.5px,#f5f88f 75.5px,#f9fc9d 76.5px 77.5px,#fafda1 78.5px,#fcffa4 79.5px 84.5px,#f7fb98 85.5px,#f5f992 86.5px 88.5px,#f4e868 89.5px,#f3e35a 90.5px 92.5px,#fab820 93.5px,#fcac11 94.5px 96.5px,#f9c031 97.5px,#f3f586 98.5px 101.5px,#fafc9d 102.5px,#fcffa4 103.5px 105.5px,#fafc9d 106.5px,#f3f586 107.5px 111.5px,#f3f382 112.5px,#f6d746 113.5px 117.5px,#f8e76d 118.5px,#fcffa4 119.5px 124.5px,#fcfa9b 125.5px,#fac62d 126.5px 132.5px,#f8ce3c 133.5px,#f2f482 134.5px 141.5px,#f2f483 142.5px,#f4f88e 143.5px 153.5px,#f5df54 154.5px,#f5db4c 155.5px 166.5px,#f5e564 167.5px,#f5f992 168.5px 184.5px,#f4f68b 185.5px,#f1f179 186.5px 211.5px,#f3f380 212.5px,#f8fb9a 213.5px 250.5px,#fefef1 251.5px);top:17px;height:3px"><i style="opacity:.791"></i></div>
<div class="r" style="--g:linear-gradient(90deg,#fee3b7 0.5px,#fa9408 1.5px,#f78410 2.5px,#ef6c23 3.5px,#682f11 4.5px,#f1721e 5.5px,#fa9209 6.5px,#fb9e08 7.5px,#fcae12 8.5px,#fbb81d 9.5px,#fbbf25 10.5px,#fac62d 11.5px,#f9cb35 12.5px,#f7d13c 13.5px,#f6d644 14.5px,#f5dc4d 15.5px,#f4dd4f 16.5px,#f3e258 17.5px,#f2e55f 18.5px,#f2e865 19.5px,#f2ea69 20.5px,#f1ed71 21.5px,#f1ef74 22.5px,#f2f17b 23.5px,#f2f380 24.5px,#f2f483 25.5px,#f3f587 26.5px,#f3f68a 27.5px,#f4f78c 28.5px,#f5f890 29.5px,#f6f993 30.5px,#f6fa96 31.5px,#f7fb98 32.5px,#f8fc9c 33.5px,#f9fc9d 34.5px,#fafda0 35.5px,#fafda1 36.5px,#fbfea1 37.5px,#fcffa4 38.5px 47.5px,#fbfea1 48.5px,#fafda0 49.5px,#f9fc9d 50.5px,#f8fc9b 51.5px,#f8fb9a 52.5px,#f7fa96 53.5px,#f4f88e 54.5px,#f3f587 55.5px,#f2f482 56.5px,#f2f17b 57.5px,#f1ec6d 58.5px,#f2eb6b 59.5px,#f4df53 60.5px 61.5px,#f9c932 62.5px,#fac42a 63.5px 64.5px,#020204 65.5px,#000004 66.5px,#b79324 67.5px,#f9c72f 68.5px 69.5px,#f3e259 70.5px,#f3e55d 71.5px,#f3e661 72.5px,#f2f482 73.5px 74.5px,#f4f688 75.5px,#f8fb9a 76.5px 77.5px,#fafd9f 78.5px,#fcffa4 79.5px 84.5px,#f9fc9d 85.5px,#f8fb9a 86.5px 88.5px,#f3f078 89.5px,#f1ec6d 90.5px 92.5px,#33311a 93.5px,#000004 94.5px 96.5px,#444324 97.5px,#f1f179 98.5px 101.5px,#fafb9a 102.5px,#fcffa4 103.5px 105.5px,#fafda0 106.5px,#f5f992 107.5px 111.5px,#f6f68c 112.5px,#fbba1f 113.5px 117.5px,#fcd656 118.5px,#fcffa4 119.5px 124.5px,#e8eb98 125.5px,#000004 126.5px 132.5px,#2d2e1e 133.5px,#f6fa96 134.5px 141.5px,#f7fa97 142.5px,#f9fc9d 143.5px 153.5px,#1f1f16 154.5px,#000004 155.5px 166.5px,#534e22 167.5px,#f3e55d 168.5px 184.5px,#aca243 185.5px,#000004 186.5px 250.5px,#dddddd 251.5px);top:20px;height:4px"><i style="opacity:.378"></i></div>
<div class="r" style="--g:linear-gradient(90deg,#fee6b9 0.5px,#fca109 1.5px,#fb9507 2.5px,#f8850f 3.5px,#9e4a16 4.5px,#33170a 5.5px,#f57e14 6.5px,#fa910a 7.5px,#fca40a 8.5px,#fcb015 9.5px,#fbb91e 10.5px,#fac026 11.5px,#fac62d 12.5px,#f8cd36 13.5px,#f7d23e 14.5px,#f6d847 15.5px,#f5d949 16.5px,#f4df53 17.5px,#f3e258 18.5px,#f3e55e 19.5px,#f2e865 20.5px,#f1ec6d 21.5px,#f1ed70 22.5px,#f1f077 23.5px,#f2f17c 24.5px,#f2f37f 25.5px,#f3f484 26.5px,#f3f68a 27.5px,#f4f78c 28.5px,#f5f890 29.5px,#f6f993 30.5px,#f6fa96 31.5px,#f7fb98 32.5px,#f8fc9c 33.5px,#f9fc9d 34.5px 35.5px,#fafda0 36.5px,#fbfea1 37.5px,#fcffa4 38.5px 48.5px,#fcfea4 49.5px,#fafda1 50.5px,#f9fc9d 51.5px,#f8fb9a 52.5px,#f7fb97 53.5px,#f5f992 54.5px,#f4f78b 55.5px,#f3f586 56.5px,#f2f380 57.5px,#f1ef75 58.5px,#f1ee73 59.5px,#f3e55d 60.5px 61.5px,#f7d341 62.5px,#f8cf3a 63.5px 64.5px,#fb9607 65.5px,#fb9606 66.5px,#fbad15 67.5px,#fbb61a 68.5px 69.5px,#f5db4e 70.5px,#f4df53 71.5px,#f4e156 72.5px,#f1f179 73.5px 74.5px,#f3f381 75.5px,#f6fa96 76.5px 77.5px,#f8fc9b 78.5px,#fafda1 79.5px 80.5px,#fbfea1 81.5px,#fcffa4 82.5px 84.5px,#fafda0 85.5px,#f9fc9d 86.5px 88.5px,#f3f483 89.5px,#f1f179 90.5px 92.5px,#faba27 93.5px,#fcac11 94.5px 96.5px,#f9bd28 97.5px,#f2e865 98.5px 101.5px,#f8f993 102.5px,#fafda1 103.5px 105.5px,#fafd9f 106.5px,#f8fb9a 107.5px 111.5px,#ebef92 112.5px,#000004 113.5px 117.5px,#686846 118.5px,#fcffa4 119.5px 124.5px,#fcfa9b 125.5px,#fac62d 126.5px 132.5px,#fad042 133.5px,#fafda1 134.5px 141.5px,#fbfea1 142.5px,#fcffa4 143.5px 153.5px,#f6df57 154.5px,#f5db4c 155.5px 166.5px,#a29033 167.5px,#000004 168.5px 184.5px,#474626 185.5px,#f1f179 186.5px 211.5px,#f3f380 212.5px,#f8fb9a 213.5px 250.5px,#fefef1 251.5px);top:24px;height:3px"><i style="opacity:.965"></i></div>
<div class="r" style="--g:linear-gradient(90deg,#fee8bb 0.5px,#fcaa0f 1.5px,#fca008 2.5px,#fb9606 3.5px,#f57e15 4.5px,#bc551c 5.5px,#9c4717 6.5px,#f47c16 7.5px,#fb9906 8.5px,#fca70d 9.5px,#fcb116 10.5px,#fbb81d 11.5px,#fac026 12.5px,#f9c830 13.5px,#f8cd36 14.5px,#f6d542 15.5px,#f6d746 16.5px,#f5dc4e 17.5px,#f4e054 18.5px,#f3e35a 19.5px,#f2e661 20.5px,#f2e865 21.5px,#f2eb6c 22.5px,#f1ee73 23.5px,#f1f077 24.5px,#f2f17b 25.5px,#f2f380 26.5px,#f3f586 27.5px,#f3f688 28.5px,#f4f78c 29.5px,#f5f88f 30.5px,#f5f992 31.5px,#f6fa95 32.5px,#f7fb98 33.5px,#f8fb9a 34.5px,#f9fc9d 35.5px,#fafda0 36.5px,#fafda1 37.5px 38.5px,#fbfea2 39.5px,#fcffa4 40.5px 48.5px,#fcfea4 49.5px,#fafda1 50.5px,#fafd9f 51.5px,#f9fc9d 52.5px,#f8fc9b 53.5px,#f6fa96 54.5px,#f5f991 55.5px,#f4f88e 56.5px,#f3f688 57.5px,#f2f27d 58.5px,#f2f27c 59.5px,#f2ea69 60.5px 61.5px,#f5dc4f 62.5px,#f5d949 63.5px 64.5px,#fcb419 65.5px,#fcb418 66.5px,#fb9f0b 67.5px,#fb9706 68.5px 69.5px,#f7d03e 70.5px,#f6d543 71.5px,#f6d847 72.5px,#f1ed71 73.5px 74.5px,#f2f079 75.5px,#f4f88e 76.5px 77.5px,#f7fa97 78.5px,#fafda1 79.5px 80.5px,#fbfea1 81.5px,#fcffa4 82.5px 84.5px,#fbfea2 85.5px,#fafda1 86.5px 88.5px,#f5f78d 89.5px,#f3f586 90.5px 92.5px,#f8d343 93.5px,#f9c932 94.5px 96.5px,#f8cf3a 97.5px,#f4dd4f 98.5px 101.5px,#f8f58b 102.5px,#f9fc9d 103.5px 105.5px,#f9fd9e 106.5px,#fafda1 107.5px 111.5px,#fbfa9a 112.5px,#fbba1f 113.5px 117.5px,#fad553 118.5px,#f9fc9d 119.5px 124.5px,#f9fa98 125.5px,#f4e156 126.5px 132.5px,#f5e664 133.5px,#fcffa4 134.5px 153.5px,#f3f586 154.5px,#f2f482 155.5px 166.5px,#f2ee75 167.5px,#f3e55d 168.5px 184.5px,#f5ec71 185.5px,#fafda1 186.5px 211.5px,#fafd9f 212.5px,#f8fb9a 213.5px 250.5px,#fefef1 251.5px);top:27px;height:3px"><i style="opacity:.552"></i></div>
<div class="r" style="--g:linear-gradient(90deg,#feeabd 0.5px,#fcb217 1.5px,#fcaa0f 2.5px,#fca108 3.5px,#fa9209 4.5px,#f68212 5.5px,#54270e 6.5px,#7d3913 7.5px,#f8880d 8.5px,#fb9a09 9.5px,#fca80d 10.5px,#fcb014 11.5px,#fbba1f 12.5px,#fac329 13.5px,#f9c931 14.5px,#f7d13d 15.5px,#f7d340 16.5px,#f6d848 17.5px,#f5dc4e 18.5px,#f4df53 19.5px,#f3e35a 20.5px,#f2e661 21.5px,#f2e968 22.5px,#f1ec6f 23.5px,#f1ee73 24.5px,#f2f079 25.5px,#f2f37f 26.5px,#f2f482 27.5px,#f2f484 28.5px,#f3f688 29.5px,#f4f78d 30.5px,#f5f992 31.5px,#f6fa95 32.5px,#f7fb98 33.5px,#f8fb9a 34.5px 35.5px,#f9fc9c 36.5px,#f9fc9e 37.5px,#fafda1 38.5px,#fbfea2 39.5px,#fcffa4 40.5px 50.5px,#fbfea3 51.5px,#fafda1 52.5px,#fafd9f 53.5px,#f8fb9a 54.5px,#f6fa95 55.5px,#f5f992 56.5px,#f4f88e 57.5px,#f3f586 58.5px,#f3f484 59.5px,#f1ed71 60.5px 61.5px,#f3e35b 62.5px,#f4e156 63.5px 64.5px,#fac62d 65.5px 66.5px,#42340e 67.5px,#000004 68.5px 69.5px,#e4b82e 70.5px,#f9c932 71.5px,#f8cc36 72.5px,#f2e661 73.5px 74.5px,#f2ea6b 75.5px,#f3f586 76.5px 77.5px,#f6f890 78.5px,#f9fc9d 79.5px 80.5px,#f9fd9e 81.5px,#fcffa4 82.5px 88.5px,#f6f994 89.5px,#f4f88e 90.5px 92.5px,#f5e15a 93.5px,#f5db4c 94.5px 96.5px,#f6d746 97.5px,#f8cd37 98.5px 101.5px,#f7f080 102.5px,#f6fa96 103.5px 105.5px,#f8fb99 106.5px,#fcffa4 107.5px 111.5px,#fcfda0 112.5px,#f6d746 113.5px 117.5px,#f6e565 118.5px,#f5f992 119.5px 124.5px,#f5f890 125.5px,#f1f179 126.5px 132.5px,#f3f381 133.5px,#fcffa4 134.5px 141.5px,#fcfea3 142.5px,#f9fc9d 143.5px 153.5px,#f8fb9a 154.5px 166.5px,#f7fa97 167.5px,#f5f992 168.5px 184.5px,#f7fa96 185.5px,#fafda1 186.5px 211.5px,#c4c67e 212.5px,#000004 213.5px 250.5px,#dddddd 251.5px);top:30px;height:4px"><i style="opacity:.139"></i></div>
<div class="r" style="--g:linear-gradient(90deg,#feecbf 0.5px,#fbb81d 1.5px,#fcb216 2.5px,#fcaa0f 3.5px,#fba008 4.5px,#fa9408 5.5px,#f2771a 6.5px,#733512 7.5px,#e66b1f 8.5px,#f8890e 9.5px,#fb9d07 10.5px,#fca70c 11.5px,#fcb216 12.5px,#fbbb21 13.5px,#fac329 14.5px,#f9cb34 15.5px,#f8cd37 16.5px,#f7d441 17.5px,#f6d948 18.5px,#f4dd50 19.5px,#f4e156 20.5px,#f3e45d 21.5px,#f2e864 22.5px,#f2e968 23.5px,#f1ec6e 24.5px,#f1ee73 25.5px,#f1f078 26.5px,#f2f27d 27.5px,#f2f380 28.5px,#f3f586 29.5px,#f4f78b 30.5px,#f4f88e 31.5px,#f5f891 32.5px,#f6fa94 33.5px,#f6fa96 34.5px,#f8fb99 35.5px,#f9fc9c 36.5px,#f9fc9e 37.5px,#fafda1 38.5px 40.5px,#fcfea3 41.5px,#fcffa4 42.5px 50.5px,#fbfea3 51.5px,#fafda1 52.5px,#fafda0 53.5px,#f9fc9d 54.5px,#f7fb99 55.5px,#f6fa96 56.5px,#f5f992 57.5px,#f3f68a 58.5px,#f3f689 59.5px,#f1f179 60.5px 61.5px,#f2e866 62.5px,#f2e661 63.5px 64.5px,#f7d13d 65.5px 66.5px,#faa715 67.5px,#fb9706 68.5px 69.5px,#fbb51b 70.5px,#fbb81d 71.5px,#fbbc22 72.5px,#f4e156 73.5px 74.5px,#f3e661 75.5px,#f2f27d 76.5px 77.5px,#f4f688 78.5px,#f6fa96 79.5px 80.5px,#f7fa97 81.5px,#fcffa4 82.5px 88.5px,#f8fb9a 89.5px,#f6fa96 90.5px 92.5px,#f3ea6c 93.5px,#f2e661 94.5px 96.5px,#f5d74b 97.5px,#fcae12 98.5px 101.5px,#f6e671 102.5px,#f4f88e 103.5px 105.5px,#f6f994 106.5px,#fcffa4 107.5px 111.5px,#fcfda1 112.5px,#f2e865 113.5px 117.5px,#f2ed72 118.5px,#f3f586 119.5px 125.5px,#f4f88e 126.5px 132.5px,#f5f991 133.5px,#fafda1 134.5px 141.5px,#f9fd9e 142.5px,#f4f88e 143.5px 153.5px,#fbfea2 154.5px,#fcffa4 155.5px 184.5px,#f9fa98 185.5px,#f1f179 186.5px 211.5px,#f3f380 212.5px,#f8fb9a 213.5px 250.5px,#fefef1 251.5px);top:34px;height:3px"><i style="opacity:.726"></i></div>
<div class="r" style="--g:linear-gradient(90deg,#feedc1 0.5px,#fbbe24 1.5px,#fbb81c 2.5px,#fcb216 3.5px,#fca90f 4.5px,#fca008 5.5px,#f98d0b 6.5px,#f47a18 7.5px,#0b0505 8.5px,#c96416 9.5px,#f98d0a 10.5px,#fb9b06 11.5px,#fca80d 12.5px,#fbb419 13.5px,#fbbd22 14.5px,#f9c62e 15.5px,#f9c932 16.5px,#f7d03c 17.5px,#f7d542 18.5px,#f5da4a 19.5px,#f4dd4f 20.5px,#f4e156 21.5px,#f3e45c 22.5px,#f2e763 23.5px,#f2ea6a 24.5px,#f1ec6f 25.5px,#f1ee74 26.5px,#f1f179 27.5px,#f2f27c 28.5px,#f2f482 29.5px,#f3f587 30.5px,#f3f68a 31.5px,#f4f78d 32.5px,#f5f890 33.5px,#f5f992 34.5px,#f6fa95 35.5px,#f7fb99 36.5px,#f8fb9a 37.5px,#f9fc9d 38.5px,#fafd9f 39.5px,#fafda1 40.5px,#fcfea3 41.5px,#fcffa4 42.5px 50.5px,#fbfea3 51.5px,#fafda1 52.5px,#fafda0 53.5px,#f9fc9d 54.5px,#f8fc9b 55.5px,#f8fb9a 56.5px,#f7fa96 57.5px,#f4f88e 58.5px,#f4f78d 59.5px,#f2f482 60.5px 61.5px,#f2ed71 62.5px,#f1ec6d 63.5px 64.5px,#f5db4c 65.5px 66.5px,#fac028 67.5px,#fbb61a 68.5px 69.5px,#fb9c08 70.5px,#fb9906 71.5px,#fb9f0c 72.5px,#f6d746 73.5px 74.5px,#f5de53 75.5px,#f1ef75 76.5px 77.5px,#f3f382 78.5px,#f5f992 79.5px 80.5px,#f6f993 81.5px,#fafda1 82.5px 84.5px,#fcfea3 85.5px,#fcffa4 86.5px 88.5px,#fafd9f 89.5px,#f9fc9d 90.5px 92.5px,#f3f07a 93.5px,#f1ed71 94.5px 96.5px,#aeab52 97.5px,#000004 98.5px 101.5px,#b9ba61 102.5px,#f2f27d 103.5px 105.5px,#f4f587 106.5px,#fcffa4 107.5px 111.5px,#fcfea2 112.5px,#f2f27d 113.5px 117.5px,#f2ef77 118.5px,#f1ec6d 119.5px 124.5px,#f2ed70 125.5px,#f8fb9a 126.5px 132.5px,#f7fb99 133.5px,#f6fa96 134.5px 141.5px,#f6f890 142.5px,#f1ed71 143.5px 153.5px,#fbfc9e 154.5px,#fcffa4 155.5px 184.5px,#b3b475 185.5px,#000004 186.5px 211.5px,#373724 212.5px,#f8fb9a 213.5px 250.5px,#fefef1 251.5px);top:37px;height:4px"><i style="opacity:.313"></i></div>
<div class="r" style="--g:linear-gradient(90deg,#fdefc3 0.5px,#fac42b 1.5px,#fbbe23 2.5px,#fbba1f 3.5px,#fcb216 4.5px,#fcaa0f 5.5px,#fb9b07 6.5px,#fa9009 7.5px,#f0701f 8.5px,#693110 9.5px,#f1731d 10.5px,#f98b0b 11.5px,#fb9b06 12.5px,#fcaa10 13.5px,#fbb51a 14.5px,#fac127 15.5px,#fac42a 16.5px,#f9cb34 17.5px,#f7d13c 18.5px,#f6d643 19.5px,#f5d949 20.5px,#f4dd4f 21.5px,#f3e258 22.5px,#f2e55f 23.5px,#f2e763 24.5px,#f2ea69 25.5px,#f1ed70 26.5px,#f1ef75 27.5px,#f1f078 28.5px,#f2f27e 29.5px,#f2f483 30.5px,#f3f586 31.5px,#f3f689 32.5px,#f4f88e 33.5px,#f5f992 34.5px,#f6fa95 35.5px,#f7fb99 36.5px,#f8fb9a 37.5px,#f9fc9d 38.5px 40.5px,#fafda0 41.5px,#fbfea3 42.5px,#fcffa4 43.5px 52.5px,#fcfea3 53.5px,#fafda1 54.5px,#fafd9f 55.5px,#f9fc9d 56.5px,#f8fb9a 57.5px,#f5f992 58.5px,#f5f991 59.5px,#f3f586 60.5px 61.5px,#f2f078 62.5px,#f1ef75 63.5px 64.5px,#f4e156 65.5px 66.5px,#f8ce3a 67.5px,#f9c72f 68.5px 69.5px,#151107 70.5px,#000004 71.5px,#181308 72.5px,#f9cb35 73.5px 74.5px,#f7d443 75.5px,#f2ea69 76.5px 77.5px,#f2f078 78.5px,#f3f68a 79.5px 80.5px,#f4f78b 81.5px,#f9fc9d 82.5px 84.5px,#fbfea2 85.5px,#fcffa4 86.5px 88.5px,#fbfea2 89.5px,#fafda1 90.5px 92.5px,#f4f688 93.5px,#f2f482 94.5px 96.5px,#f5e063 97.5px,#fcae12 98.5px 101.5px,#f4dd58 102.5px,#f1ec6d 103.5px 105.5px,#f4f07b 106.5px,#fcffa4 107.5px 111.5px,#fcfea3 112.5px,#f4f88e 113.5px 117.5px,#f4ed74 118.5px,#f4dd4f 119.5px 124.5px,#f5e056 125.5px,#fafda1 126.5px 132.5px,#f9fc9b 133.5px,#f2f482 134.5px 141.5px,#f3ee77 142.5px,#f7d13d 143.5px 153.5px,#f8f68e 154.5px,#f8fb9a 155.5px 166.5px,#f7fa97 167.5px,#f5f992 168.5px 184.5px,#f4f68b 185.5px,#f1f179 186.5px 211.5px,#bdbc5f 212.5px,#000004 213.5px 250.5px,#dddddd 251.5px);top:41px;height:3px"><i style="opacity:.900"></i></div>
<div class="r" style="--g:linear-gradient(90deg,#fdf0c4 0.5px,#f9c830 1.5px,#fac32a 2.5px,#fac026 3.5px,#fbb81d 4.5px,#fcb217 5.5px,#fca70c 6.5px,#fb9f08 7.5px,#f98a0c 8.5px,#b25615 9.5px,#211007 10.5px,#f1711f 11.5px,#f98b0b 12.5px,#fb9f0a 13.5px,#fcac11 14.5px,#fbb91e 15.5px,#fbbc21 16.5px,#fac52d 17.5px,#f9cb34 18.5px,#f8d03b 19.5px,#f6d543 20.5px,#f5db4c 21.5px,#f4de52 22.5px,#f3e258 23.5px,#f3e55e 24.5px,#f2e865 25.5px,#f2eb6c 26.5px,#f1ed71 27.5px,#f1ee74 28.5px,#f2f179 29.5px,#f2f37f 30.5px,#f2f482 31.5px,#f3f587 32.5px,#f4f78c 33.5px,#f4f88e 34.5px,#f5f991 35.5px,#f6fa95 36.5px,#f6fa96 37.5px,#f8fb9a 38.5px,#f8fc9b 39.5px,#f9fc9d 40.5px,#fafda0 41.5px,#fafda1 42.5px 43.5px,#fcfea4 44.5px,#fcffa4 45.5px 52.5px,#fcfea3 53.5px,#fafda1 54.5px,#fafd9f 55.5px,#f9fc9d 56.5px,#f8fc9b 57.5px,#f6fa96 58.5px,#f6fa95 59.5px,#f4f88e 60.5px 61.5px,#f2f380 62.5px,#f2f27d 63.5px 64.5px,#f2e865 65.5px 66.5px,#f6d94a 67.5px,#f7d340 68.5px 69.5px,#fb9e0b 70.5px,#fb9906 71.5px,#fb9c08 72.5px,#fbba1f 73.5px 74.5px,#f9c52f 75.5px,#f3e35a 76.5px 77.5px,#f3ea6c 78.5px,#f2f482 79.5px 80.5px,#f3f483 81.5px,#f8fb9a 82.5px 84.5px,#fbfea1 85.5px,#fcffa4 86.5px 92.5px,#f5f88f 93.5px,#f3f68a 94.5px 96.5px,#f5eb73 97.5px,#f8cd37 98.5px 101.5px,#f5dc4f 102.5px,#f4e156 103.5px 105.5px,#f5e869 106.5px,#fafda1 107.5px 112.5px,#f8fb9a 113.5px 117.5px,#f9e36a 118.5px,#fac026 119.5px 124.5px,#fbc530 125.5px,#fcffa4 126.5px 132.5px,#fafa98 133.5px,#f2e661 134.5px 141.5px,#ccc252 142.5px,#000004 143.5px 153.5px,#d4d672 154.5px,#f2f482 155.5px 166.5px,#f2ee75 167.5px,#f3e55d 168.5px 184.5px,#f5ec71 185.5px,#fafda1 186.5px 211.5px,#fafd9f 212.5px,#f8fb9a 213.5px 250.5px,#fefef1 251.5px);top:44px;height:3px"><i style="opacity:.487"></i></div>
<div class="r" style="--g:linear-gradient(90deg,#fdf1c6 0.5px,#f8cc35 1.5px,#f9c72f 2.5px,#fac42a 3.5px,#fbbe24 4.5px,#fbb91d 5.5px,#fcb015 6.5px,#fca90e 7.5px,#fb9a06 8.5px,#f78510 9.5px,#cf601c 10.5px,#030104 11.5px,#f1711f 12.5px,#f98e0b 13.5px,#fca008 14.5px,#fcb015 15.5px,#fcb418 16.5px,#fac026 17.5px,#f9c72f 18.5px,#f8cc36 19.5px,#f7d13d 20.5px,#f6d746 21.5px,#f5db4b 22.5px,#f4de51 23.5px,#f3e157 24.5px,#f3e45d 25.5px,#f2e864 26.5px,#f2ea69 27.5px,#f1ec6e 28.5px,#f1ef75 29.5px,#f2f17b 30.5px,#f2f27d 31.5px,#f2f483 32.5px,#f3f688 33.5px,#f3f68a 34.5px,#f4f78d 35.5px,#f5f991 36.5px,#f5f992 37.5px,#f8fb9a 38.5px 40.5px,#f9fc9c 41.5px,#fafd9f 42.5px,#fafda1 43.5px,#fcfea4 44.5px,#fcffa4 45.5px 54.5px,#fbfea2 55.5px,#fafda1 56.5px,#fafd9f 57.5px,#f8fb9a 58.5px,#f7fb99 59.5px,#f5f992 60.5px 61.5px,#f3f688 62.5px,#f3f586 63.5px 64.5px,#f1ec6d 65.5px 66.5px,#f4e157 67.5px,#f4dd4f 68.5px 69.5px,#fbbb21 70.5px,#fbb81d 71.5px,#fbb51a 72.5px,#fb9b06 73.5px 74.5px,#faac19 75.5px,#f5d949 76.5px 77.5px,#f4e45f 78.5px,#f1f179 79.5px 80.5px,#f2f17b 81.5px,#f6fa96 82.5px 84.5px,#fafda0 85.5px,#fcffa4 86.5px 92.5px,#f8fb99 93.5px,#f6fa96 94.5px 96.5px,#f6f282 97.5px,#f4dd4f 98.5px 101.5px,#f7d33f 102.5px,#f8cf3a 103.5px 105.5px,#f8db52 106.5px,#f8fb9a 107.5px 112.5px,#fafda1 113.5px 117.5px,#949660 118.5px,#000004 119.5px 124.5px,#141410 125.5px,#fcffa4 126.5px 132.5px,#fbf590 133.5px,#f9cb35 134.5px 141.5px,#f8cc36 142.5px,#f7d13d 143.5px 153.5px,#f5da4a 154.5px,#f5db4c 155.5px 166.5px,#a29033 167.5px,#000004 168.5px 184.5px,#494a32 185.5px,#fafda1 186.5px 211.5px,#fafd9f 212.5px,#f8fb9a 213.5px 250.5px,#fefef1 251.5px);top:47px;height:4px"><i style="opacity:.074"></i></div>
<div class="r" style="--g:linear-gradient(90deg,#fdf2c7 0.5px,#f8cf3a 1.5px,#f9cb35 2.5px,#f9c932 3.5px,#fac42b 4.5px,#fbbf25 5.5px,#fbb81d 6.5px,#fcb216 7.5px,#fca50b 8.5px,#fb9708 9.5px,#f8870e 10.5px,#ef701e 11.5px,#000004 12.5px,#d76c15 13.5px,#fa9009 14.5px,#fca60c 15.5px,#fcaa0f 16.5px,#fbb81d 17.5px,#fac026 18.5px,#f9c62e 19.5px,#f9cb35 20.5px,#f7d13d 21.5px,#f6d644 22.5px,#f5db4d 23.5px,#f4df53 24.5px,#f3e359 25.5px,#f2e660 26.5px,#f2e865 27.5px,#f2ea6a 28.5px,#f1ed71 29.5px,#f1f077 30.5px,#f1f179 31.5px,#f2f37f 32.5px,#f2f484 33.5px,#f3f586 34.5px,#f3f689 35.5px,#f5f890 36.5px,#f5f992 37.5px,#f6fa96 38.5px,#f7fb97 39.5px,#f8fb9a 40.5px,#f9fc9c 41.5px,#fafd9f 42.5px,#fafda1 43.5px 45.5px,#fbfea3 46.5px,#fcffa4 47.5px 54.5px,#fbfea2 55.5px,#fafda1 56.5px,#fafda0 57.5px,#f9fc9d 58.5px 59.5px,#f6fa96 60.5px 61.5px,#f4f78c 62.5px,#f3f68a 63.5px 64.5px,#f1f179 65.5px 66.5px,#f3e662 67.5px,#f3e35a 68.5px 69.5px,#f8cc35 70.5px,#f9c932 71.5px,#e1b62e 72.5px,#000004 73.5px 74.5px,#453912 75.5px,#f8cd37 76.5px 77.5px,#f5db50 78.5px,#f1ec6d 79.5px 80.5px,#f2ed6f 81.5px,#f4f88e 82.5px 84.5px,#f9fc9b 85.5px,#fafda1 86.5px 88.5px,#fcfea4 89.5px,#fcffa4 90.5px 92.5px,#f9fc9c 93.5px,#f8fb9a 94.5px 96.5px,#f6f68b 97.5px,#f2e865 98.5px 101.5px,#f9bf29 102.5px,#fcb216 103.5px 105.5px,#fac436 106.5px,#f5f992 107.5px 111.5px,#f6f993 112.5px,#fcffa4 113.5px 117.5px,#fbe570 118.5px,#fac026 119.5px 124.5px,#fac42f 125.5px,#fafda1 126.5px 132.5px,#cdcf84 133.5px,#000004 134.5px 141.5px,#262515 142.5px,#f1ed71 143.5px 153.5px,#1e1d11 154.5px,#000004 155.5px 166.5px,#534e22 167.5px,#f3e55d 168.5px 184.5px,#f2e865 185.5px,#f1f179 186.5px 211.5px,#bdbc5f 212.5px,#000004 213.5px 250.5px,#dddddd 251.5px);top:51px;height:3px"><i style="opacity:.661"></i></div>
<div class="r" style="--g:linear-gradient(90deg,#fdf3c9 0.5px,#f7d340 1.5px,#f8cf3a 2.5px,#f8cd37 3.5px,#f9c831 4.5px,#fac52c 5.5px,#fbbe23 6.5px,#fbb91e 7.5px,#fcae13 8.5px,#fca50b 9.5px,#fb9907 10.5px,#f98a0b 11.5px,#f1711f 12.5px,#69320f 13.5px,#f3781a 14.5px,#fb9908 15.5px,#fc9f07 16.5px,#fcaf14 17.5px,#fbb81d 18.5px,#fac026 19.5px,#fac62d 20.5px,#f8cd37 21.5px,#f7d23f 22.5px,#f6d644 23.5px,#f5db4b 24.5px,#f4df52 25.5px,#f3e259 26.5px,#f3e55d 27.5px,#f2e762 28.5px,#f2ea69 29.5px,#f1ed70 30.5px,#f1ef75 31.5px,#f2f17b 32.5px,#f2f380 33.5px,#f2f482 34.5px,#f3f689 35.5px,#f4f78d 36.5px,#f4f88e 37.5px,#f5f992 38.5px,#f6f993 39.5px,#f6fa96 40.5px,#f7fb98 41.5px,#f8fc9c 42.5px,#f9fc9d 43.5px,#fafda0 44.5px,#fafda1 45.5px,#fbfea3 46.5px,#fcffa4 47.5px 56.5px,#fcfea3 57.5px,#fafda1 58.5px,#fafda0 59.5px,#f8fb9a 60.5px 61.5px,#f6f993 62.5px,#f5f992 63.5px 64.5px,#f2f482 65.5px 66.5px,#f2ec6f 67.5px,#f2ea69 68.5px 69.5px,#f6d746 70.5px,#f6d543 71.5px,#f7d03d 72.5px,#fb9b06 73.5px 74.5px,#fba40e 75.5px,#fbbc21 76.5px 77.5px,#f7ce3c 78.5px,#f3e55d 79.5px 80.5px,#f3e660 81.5px,#f3f586 82.5px 84.5px,#f7fa96 85.5px,#f9fc9d 86.5px 88.5px,#fbfea3 89.5px,#fcffa4 90.5px 92.5px,#fbfea2 93.5px,#fafda1 94.5px 96.5px,#f8fa96 97.5px,#f1f179 98.5px 101.5px,#39381f 102.5px,#000004 103.5px 105.5px,#3e3e25 106.5px,#f3f586 107.5px 111.5px,#f3f587 112.5px,#fcffa4 113.5px 117.5px,#f9f182 118.5px,#f4dd4f 119.5px 124.5px,#f5df55 125.5px,#f8fb9a 126.5px 132.5px,#f8f387 133.5px,#f9cb35 134.5px 141.5px,#f8d243 142.5px,#f4f88e 143.5px 153.5px,#f5df54 154.5px,#f5db4c 155.5px 166.5px,#f5e564 167.5px,#f5f992 168.5px 184.5px,#aeb068 185.5px,#000004 186.5px 211.5px,#373724 212.5px,#f8fb9a 213.5px 250.5px,#fefef1 251.5px);top:54px;height:4px"><i style="opacity:.248"></i></div>
<div class="r" style="--g:linear-gradient(90deg,#fcf3c9 0.5px,#f6d543 1.5px,#f7d340 2.5px,#f7d13d 3.5px,#f8cc36 4.5px,#f9c931 5.5px,#fac32a 6.5px,#fbbf24 7.5px,#fbb61b 8.5px,#fcae13 9.5px,#fca50b 10.5px,#fb9b06 11.5px,#f98b0b 12.5px,#a65014 13.5px,#2e1608 14.5px,#f68411 15.5px,#f98e09 16.5px,#fca30b 17.5px,#fcaf14 18.5px,#fbb91e 19.5px,#fac026 20.5px,#f9c72f 21.5px,#f8cd36 22.5px,#f7d23d 23.5px,#f6d745 24.5px,#f5db4c 25.5px,#f4df53 26.5px,#f3e35a 27.5px,#f3e55e 28.5px,#f2e865 29.5px,#f2eb6c 30.5px,#f1ed71 31.5px,#f1ee74 32.5px,#f2f17a 33.5px,#f2f27d 34.5px,#f3f585 35.5px,#f3f689 36.5px,#f3f68a 37.5px,#f4f88e 38.5px,#f5f991 39.5px,#f6fa96 40.5px,#f7fb98 41.5px,#f8fc9c 42.5px,#f9fc9d 43.5px,#fafda0 44.5px,#fafda1 45.5px 47.5px,#fcfea4 48.5px,#fcffa4 49.5px 56.5px,#fcfea3 57.5px,#fafda1 58.5px 59.5px,#f9fc9d 60.5px 61.5px,#f7fb97 62.5px,#f6fa96 63.5px 64.5px,#f3f586 65.5px 66.5px,#f2ef76 67.5px,#f1ed71 68.5px 69.5px,#f4e055 70.5px,#f4df53 71.5px,#f5db4e 72.5px,#fbba1f 73.5px 74.5px,#fbb218 75.5px,#fc9f07 76.5px 77.5px,#f9ba26 78.5px,#f5db4c 79.5px 80.5px,#f5dd4f 81.5px,#f2f27d 82.5px 84.5px,#f6f891 85.5px,#f8fb9a 86.5px 88.5px,#fbfea2 89.5px,#fcffa4 90.5px 96.5px,#f9fc9c 97.5px,#f3f586 98.5px 101.5px,#fac230 102.5px,#fcb216 103.5px 105.5px,#f9c12e 106.5px,#f1ef75 107.5px 111.5px,#f2f077 112.5px,#fcffa4 113.5px 117.5px,#f8f78e 118.5px,#f1ec6d 119.5px 124.5px,#f2ed6f 125.5px,#f4f88e 126.5px 132.5px,#f4f486 133.5px,#f2e661 134.5px 141.5px,#f3ea6a 142.5px,#f9fc9d 143.5px 153.5px,#f3f585 154.5px,#f2f482 155.5px 166.5px,#f6f78d 167.5px,#fcffa4 168.5px 184.5px,#f9fa98 185.5px,#f1f179 186.5px 211.5px,#f3f380 212.5px,#f8fb9a 213.5px 250.5px,#fefef1 251.5px);top:58px;height:3px"><i style="opacity:.835"></i></div>
<div class="r" style="--g:linear-gradient(90deg,#fcf5cb 0.5px,#f5d949 1.5px,#f6d746 2.5px,#f7d340 3.5px,#f8d03b 4.5px,#f8cd37 5.5px,#f9c931 6.5px,#fac42c 7.5px,#fbbe24 8.5px,#fbb71c 9.5px,#fcaf13 10.5px,#fca60c 11.5px,#fb9b06 12.5px,#f78610 13.5px,#c45d19 14.5px,#974913 15.5px,#f2741c 16.5px,#fa930a 17.5px,#fca40a 18.5px,#fcaf14 19.5px,#fbb81d 20.5px,#fabf25 21.5px,#f9c62e 22.5px,#f8cd37 23.5px,#f7d33f 24.5px,#f6d746 25.5px,#f5db4c 26.5px,#f4df53 27.5px,#f3e157 28.5px,#f3e55d 29.5px,#f2e864 30.5px,#f2ea69 31.5px,#f1ec6e 32.5px,#f1ef76 33.5px,#f1f179 34.5px,#f2f381 35.5px,#f3f585 36.5px,#f3f586 37.5px,#f3f68a 38.5px,#f4f78d 39.5px,#f5f992 40.5px,#f6fa94 41.5px,#f7fb98 42.5px,#f8fb9a 43.5px,#f9fc9d 44.5px 45.5px,#fafd9f 46.5px,#fafda1 47.5px,#fcfea4 48.5px,#fcffa4 49.5px 59.5px,#fafda1 60.5px 61.5px,#f8fc9b 62.5px,#f8fb9a 63.5px 64.5px,#f4f88e 65.5px 66.5px,#f2f482 67.5px,#f2f27d 68.5px 69.5px,#f3e660 70.5px,#f3e55d 71.5px,#f3e259 72.5px,#f9cb35 73.5px 74.5px,#b49327 75.5px,#000004 76.5px 77.5px,#715e1c 78.5px,#f8cf3a 79.5px 80.5px,#f7d13e 81.5px,#f1ed71 82.5px 84.5px,#f4f587 85.5px,#f5f992 86.5px 88.5px,#fafda0 89.5px,#fcffa4 90.5px 96.5px,#fafd9f 97.5px,#f5f992 98.5px 101.5px,#f7d94f 102.5px,#f8cf3a 103.5px 105.5px,#f6d543 106.5px,#f3e55d 107.5px 111.5px,#f3e661 112.5px,#fcffa4 113.5px 117.5px,#f8fb98 118.5px,#f3f586 119.5px 124.5px,#f3f585 125.5px,#f1f179 126.5px 132.5px,#f2f17b 133.5px,#f2f482 134.5px 141.5px,#f4f587 142.5px,#fcffa4 143.5px 153.5px,#f8fc9b 154.5px,#f8fb9a 155.5px 166.5px,#f9fc9d 167.5px,#fcffa4 168.5px 184.5px,#fcfea3 185.5px,#fafda1 186.5px 211.5px,#c4c67e 212.5px,#000004 213.5px 250.5px,#dddddd 251.5px);top:61px;height:3px"><i style="opacity:.422"></i></div>
<div class="r" style="--g:linear-gradient(90deg,#fcf5cc 0.5px,#f5db4c 1.5px,#f5d949 2.5px,#f6d746 3.5px,#f7d441 4.5px,#f7d13c 5.5px,#f8cd37 6.5px,#f9c932 7.5px,#fac42b 8.5px,#fbbd23 9.5px,#fbb71b 10.5px,#fcb014 11.5px,#fca80d 12.5px,#fb9908 13.5px,#f8880e 14.5px,#5b2b0d 15.5px,#000004 16.5px,#e57713 17.5px,#fa9408 18.5px,#fca209 19.5px,#fcae12 20.5px,#fbb81c 21.5px,#fac026 22.5px,#f9c72f 23.5px,#f8cd37 24.5px,#f7d23e 25.5px,#f6d746 26.5px,#f5db4c 27.5px,#f4de50 28.5px,#f3e258 29.5px,#f2e660 30.5px,#f2e865 31.5px,#f2eb6a 32.5px,#f1ee71 33.5px,#f1ef75 34.5px,#f1f079 35.5px,#f2f37f 36.5px,#f2f482 37.5px,#f3f68a 38.5px,#f4f78b 39.5px,#f4f88e 40.5px,#f5f891 41.5px,#f6fa94 42.5px,#f6fa96 43.5px,#f9fc9c 44.5px,#f9fc9d 45.5px 47.5px,#fafda1 48.5px,#fbfea2 49.5px,#fcffa4 50.5px 59.5px,#fafda1 60.5px 61.5px,#f9fd9e 62.5px,#f9fc9d 63.5px 64.5px,#f5f992 65.5px 66.5px,#f3f689 67.5px,#f3f586 68.5px 69.5px,#f2ec6f 70.5px,#f1ec6d 71.5px,#f2ea69 72.5px,#f6d746 73.5px 74.5px,#f7c834 75.5px,#fc9f07 76.5px 77.5px,#fbad14 78.5px,#fbbe23 79.5px 80.5px,#fac128 81.5px,#f2e661 82.5px 84.5px,#f3f17d 85.5px,#f3f68a 86.5px 88.5px,#f9fc9b 89.5px,#fafda1 90.5px 92.5px,#fcfea4 93.5px,#fcffa4 94.5px 96.5px,#fbfea1 97.5px,#f8fb9a 98.5px 101.5px,#f4e766 102.5px,#f4e156 103.5px 105.5px,#f4dd50 106.5px,#f7d340 107.5px 111.5px,#f7d545 112.5px,#fafda1 113.5px 117.5px,#f8fc9b 118.5px,#f5f992 119.5px 124.5px,#f5f78d 125.5px,#f4e156 126.5px 132.5px,#f4e562 133.5px,#f6fa96 134.5px 141.5px,#f7fb98 142.5px,#fcffa4 143.5px 166.5px,#fafd9e 167.5px,#f5f992 168.5px 184.5px,#f7fa96 185.5px,#fafda1 186.5px 211.5px,#fafd9f 212.5px,#f8fb9a 213.5px 250.5px,#fefef1 251.5px);top:64px;height:4px"><i style="opacity:.009"></i></div>
<div class="r" style="--g:linear-gradient(90deg,#fcf6cd 0.5px,#f4dd50 1.5px,#f5db4c 2.5px,#f5d949 3.5px,#f6d745 4.5px,#f7d441 5.5px,#f8d03b 6.5px,#f8cd37 7.5px,#f9c830 8.5px,#fac329 9.5px,#fbbd22 10.5px,#fbb81d 11.5px,#fcb216 12.5px,#fca60c 13.5px,#fb9a07 14.5px,#f57e15 15.5px,#f2741c 16.5px,#6a330e 17.5px,#f47b17 18.5px,#fa9208 19.5px,#fca309 20.5px,#fcb014 21.5px,#fbb81d 22.5px,#fabf26 23.5px,#f9c62e 24.5px,#f8cd37 25.5px,#f7d340 26.5px,#f6d746 27.5px,#f5da4a 28.5px,#f4de51 29.5px,#f3e259 30.5px,#f3e55d 31.5px,#f2e763 32.5px,#f2ea69 33.5px,#f1ec6d 34.5px,#f1ef74 35.5px,#f2f17b 36.5px,#f2f27e 37.5px,#f3f586 38.5px,#f3f587 39.5px,#f3f68a 40.5px,#f4f78d 41.5px,#f5f992 42.5px,#f6fa96 43.5px,#f7fb99 44.5px,#f8fb9a 45.5px,#f8fc9c 46.5px,#f9fc9d 47.5px,#fafda1 48.5px,#fbfea2 49.5px,#fcffa4 50.5px 61.5px,#fafd9f 62.5px,#f9fc9d 63.5px 64.5px,#f6fa96 65.5px 66.5px,#f4f78d 67.5px,#f3f68a 68.5px 69.5px,#f2f077 70.5px,#f1ef75 71.5px,#f2ee72 72.5px,#f4e156 73.5px 74.5px,#f6d747 75.5px,#fbbc21 76.5px 77.5px,#fbaf16 78.5px,#fca108 79.5px 80.5px,#fba50d 81.5px,#f4dd4f 82.5px 84.5px,#f3ec72 85.5px,#f2f482 86.5px 88.5px,#f7fa96 89.5px,#f9fc9d 90.5px 92.5px,#fbfea3 93.5px,#fcffa4 94.5px 96.5px,#fbfea2 97.5px,#f9fc9d 98.5px 101.5px,#f3f078 102.5px,#f1ec6d 103.5px 105.5px,#f4de58 106.5px,#fbb61a 107.5px 111.5px,#fbb921 112.5px,#f8fb9a 113.5px 117.5px,#f8fc9b 118.5px,#f9fc9d 119.5px 124.5px,#f9f895 125.5px,#fac62d 126.5px 132.5px,#fad042 133.5px,#fafda1 134.5px 141.5px,#fafda0 142.5px,#f9fc9d 143.5px 153.5px,#fcfea4 154.5px,#fcffa4 155.5px 166.5px,#f9f68c 167.5px,#f3e55d 168.5px 184.5px,#f2e865 185.5px,#f1f179 186.5px 211.5px,#f3f380 212.5px,#f8fb9a 213.5px 250.5px,#fefef1 251.5px);top:68px;height:3px"><i style="opacity:.596"></i></div>
<div class="r" style="--g:linear-gradient(90deg,#fcf6ce 0.5px,#f4e056 1.5px,#f4df53 2.5px,#f4dd4f 3.5px,#f5da4a 4.5px,#f6d745 5.5px,#f7d441 6.5px,#f7d13d 7.5px,#f8cd37 8.5px,#f9c931 9.5px,#fac32a 10.5px,#fac026 11.5px,#fbba1f 12.5px,#fcb015 13.5px,#fca80d 14.5px,#fa9508 15.5px,#f98e09 16.5px,#994b12 17.5px,#3b1c09 18.5px,#f47919 19.5px,#fa9207 20.5px,#fca209 21.5px,#fcae13 22.5px,#fbb71c 23.5px,#fac026 24.5px,#f9c72f 25.5px,#f8cd37 26.5px,#f7d13d 27.5px,#f6d543 28.5px,#f5da4b 29.5px,#f4df52 30.5px,#f4e156 31.5px,#f3e55e 32.5px,#f2e865 33.5px,#f2ea69 34.5px,#f1ed70 35.5px,#f1f077 36.5px,#f1f179 37.5px,#f2f27d 38.5px,#f2f380 39.5px,#f3f586 40.5px,#f4f78b 41.5px,#f5f890 42.5px,#f5f992 43.5px,#f6fa95 44.5px,#f6fa96 45.5px,#f7fb98 46.5px,#f8fb9a 47.5px,#f9fc9d 48.5px,#f9fd9e 49.5px,#fafda1 50.5px,#fbfea3 51.5px,#fcffa4 52.5px 61.5px,#fbfea2 62.5px,#fafda1 63.5px 64.5px,#f8fb9a 65.5px 66.5px,#f6f994 67.5px,#f5f992 68.5px 69.5px,#f2f37f 70.5px,#f2f27d 71.5px,#f2f17b 72.5px,#f2e661 73.5px 74.5px,#f4df56 75.5px,#f8cd37 76.5px 77.5px,#877020 78.5px,#000004 79.5px 80.5px,#120f08 81.5px,#f7d13d 82.5px 84.5px,#f3e663 85.5px,#f1ef75 86.5px 88.5px,#f5f78d 89.5px,#f6fa96 90.5px 92.5px,#fbfea1 93.5px,#fcffa4 94.5px 96.5px,#fcfea3 97.5px,#fafda1 98.5px 101.5px,#f4f586 102.5px,#f2f27d 103.5px 105.5px,#b4b55e 106.5px,#000004 107.5px 111.5px,#0d0d0a 112.5px,#f4f88e 113.5px 117.5px,#f7fa97 118.5px,#fcffa4 119.5px 124.5px,#e8eb98 125.5px,#000004 126.5px 132.5px,#2e2e21 133.5px,#fcffa4 134.5px 141.5px,#fbfda1 142.5px,#f4f88e 143.5px 153.5px,#f7fb98 154.5px,#f8fb9a 155.5px 166.5px,#a3a666 167.5px,#000004 168.5px 250.5px,#dddddd 251.5px);top:71px;height:4px"><i style="opacity:.183"></i></div>
<div class="r" style="--g:linear-gradient(90deg,#fcf7cf 0.5px,#f3e259 1.5px,#f4e156 2.5px,#f4df53 3.5px,#f5dd4e 4.5px,#f5db4b 5.5px,#f6d847 6.5px,#f6d543 7.5px,#f7d13d 8.5px,#f8cd37 9.5px,#f9c931 10.5px,#fac52d 11.5px,#fac026 12.5px,#fbb91e 13.5px,#fcb217 14.5px,#fca30a 15.5px,#fc9f07 16.5px,#f78610 17.5px,#b85816 18.5px,#1c0d06 19.5px,#f3761b 20.5px,#fa9108 21.5px,#fca20a 22.5px,#fcad12 23.5px,#fbb71c 24.5px,#fabf25 25.5px,#f9c62e 26.5px,#f9cb35 27.5px,#f7d13c 28.5px,#f6d645 29.5px,#f5db4b 30.5px,#f4dd4f 31.5px,#f3e157 32.5px,#f3e55e 33.5px,#f2e661 34.5px,#f2ea68 35.5px,#f1ed6f 36.5px,#f1ee71 37.5px,#f1f179 38.5px,#f2f27c 39.5px,#f2f482 40.5px,#f3f587 41.5px,#f4f78c 42.5px,#f4f88e 43.5px,#f5f991 44.5px,#f5f992 45.5px,#f7fa96 46.5px,#f8fb9a 47.5px,#f9fc9d 48.5px,#f9fd9e 49.5px,#fafda1 50.5px 52.5px,#fbfea2 53.5px,#fcffa4 54.5px 61.5px,#fbfea2 62.5px,#fafda1 63.5px 64.5px,#f9fc9d 65.5px 66.5px,#f7fb98 67.5px,#f6fa96 68.5px 69.5px,#f3f587 70.5px,#f3f586 71.5px,#f3f484 72.5px,#f1ed71 73.5px 74.5px,#f2e866 75.5px,#f5d949 76.5px 77.5px,#f8bf2b 78.5px,#fca108 79.5px 80.5px,#fca30a 81.5px,#fac026 82.5px 84.5px,#f5db51 85.5px,#f2e865 86.5px 88.5px,#f4f483 89.5px,#f4f88e 90.5px 92.5px,#fafda0 93.5px,#fcffa4 94.5px 101.5px,#f6f993 102.5px,#f4f88e 103.5px 105.5px,#f6e771 106.5px,#fbb61a 107.5px 111.5px,#fbb91f 112.5px,#f2f27d 113.5px 117.5px,#f6f78d 118.5px,#fcffa4 119.5px 124.5px,#fcfa9b 125.5px,#fac62d 126.5px 132.5px,#fad043 133.5px,#fcffa4 134.5px 141.5px,#fafc9c 142.5px,#f1ed71 143.5px 153.5px,#f2f37f 154.5px,#f2f482 155.5px 166.5px,#f2ee75 167.5px,#f3e55d 168.5px 184.5px,#f2e865 185.5px,#f1f179 186.5px 211.5px,#f3f380 212.5px,#f8fb9a 213.5px 250.5px,#fefef1 251.5px);top:75px;height:3px"><i style="opacity:.770"></i></div>
<div class="r" style="--g:linear-gradient(90deg,#fbf8d1 0.5px,#f3e55e 1.5px,#f3e359 2.5px,#f4e156 3.5px,#f4de52 4.5px,#f5dd4f 5.5px,#f5da4a 6.5px,#f6d847 7.5px,#f6d543 8.5px,#f7d13c 9.5px,#f8cd37 10.5px,#f9c932 11.5px,#fac62d 12.5px,#fac026 13.5px,#fbba1f 14.5px,#fcae12 15.5px,#fcaa0f 16.5px,#fb9a08 17.5px,#f88a0d 18.5px,#d76918 19.5px,#000004 20.5px,#f07619 21.5px,#f99009 22.5px,#fba009 23.5px,#fcad11 24.5px,#fbb71b 25.5px,#fabf25 26.5px,#fac62d 27.5px,#f9cb34 28.5px,#f7d03c 29.5px,#f6d643 30.5px,#f5d949 31.5px,#f4dd50 32.5px,#f3e157 33.5px,#f3e35a 34.5px,#f2e864 35.5px,#f2eb6b 36.5px,#f1ec6d 37.5px,#f1ef75 38.5px,#f1f078 39.5px,#f2f27d 40.5px,#f2f380 41.5px,#f3f586 42.5px,#f3f68a 43.5px,#f5f991 44.5px,#f5f992 45.5px,#f6fa94 46.5px,#f6fa96 47.5px,#f8fb99 48.5px,#f8fb9a 49.5px,#f9fc9d 50.5px,#fafd9f 51.5px,#fafda1 52.5px,#fbfea2 53.5px,#fcffa4 54.5px 64.5px,#fafea1 65.5px,#fafda1 66.5px,#f8fc9b 67.5px,#f8fb9a 68.5px 69.5px,#f5f88f 70.5px,#f4f88e 71.5px,#f4f78c 72.5px,#f1f179 73.5px 74.5px,#f2ed70 75.5px,#f3e35a 76.5px 77.5px,#f7d241 78.5px,#fbbe23 79.5px 80.5px,#fbbc21 81.5px,#fca309 82.5px 84.5px,#f6cd3e 85.5px,#f4e156 86.5px 88.5px,#f3f079 89.5px,#f3f586 90.5px 92.5px,#f9fc9b 93.5px,#fafda1 94.5px 96.5px,#fbfea2 97.5px,#fcffa4 98.5px 101.5px,#f8fb99 102.5px,#f6fa96 103.5px 105.5px,#f7f080 106.5px,#f7d340 107.5px 111.5px,#f7d442 112.5px,#f2e865 113.5px 117.5px,#f6f17f 118.5px,#fcffa4 119.5px 124.5px,#fbfc9e 125.5px,#f4e156 126.5px 132.5px,#f5e664 133.5px,#fafda1 134.5px 141.5px,#faf791 142.5px,#f7d13d 143.5px 153.5px,#f5da4a 154.5px,#f5db4c 155.5px 166.5px,#f5e564 167.5px,#f5f992 168.5px 184.5px,#f7fa96 185.5px,#fafda1 186.5px 211.5px,#fafd9f 212.5px,#f8fb9a 213.5px 250.5px,#fefef1 251.5px);top:78px;height:4px"><i style="opacity:.357"></i></div>
<div class="r" style="--g:linear-gradient(90deg,#fbf8d1 0.5px,#f2e660 1.5px,#f3e45d 2.5px,#f3e35a 3.5px,#f3e156 4.5px,#f4e055 5.5px,#f4de50 6.5px,#f5db4c 7.5px,#f6d746 8.5px,#f7d542 9.5px,#f7d13c 10.5px,#f8cf3a 11.5px,#f9cb35 12.5px,#f9c62e 13.5px,#fac027 14.5px,#fbb71c 15.5px,#fcb418 16.5px,#fca80e 17.5px,#fb9d08 18.5px,#f98d0a 19.5px,#f3761b 20.5px,#040204 21.5px,#d16616 22.5px,#f88c0c 23.5px,#fb9f0a 24.5px,#fcac11 25.5px,#fbb61b 26.5px,#fbbe23 27.5px,#fac32a 28.5px,#f9ca32 29.5px,#f7d03c 30.5px,#f6d543 31.5px,#f5d949 32.5px,#f4dd50 33.5px,#f4df53 34.5px,#f3e45c 35.5px,#f2e763 36.5px,#f2e865 37.5px,#f1ec6d 38.5px,#f1ed70 39.5px,#f1ef75 40.5px,#f2f17b 41.5px,#f2f482 42.5px,#f3f586 43.5px,#f4f78d 44.5px,#f4f88e 45.5px,#f5f890 46.5px,#f5f992 47.5px,#f6fa95 48.5px,#f7fb97 49.5px,#f9fc9d 50.5px,#fafd9f 51.5px,#fafda1 52.5px 54.5px,#fbfea3 55.5px,#fcffa4 56.5px 64.5px,#fafea1 65.5px,#fafda1 66.5px,#f9fd9e 67.5px,#f9fc9d 68.5px 69.5px,#f6f993 70.5px,#f5f992 71.5px,#f5f890 72.5px,#f2f482 73.5px 74.5px,#f2f17b 75.5px,#f2ea69 76.5px 77.5px,#f4de53 78.5px,#f8cf3a 79.5px 80.5px,#e6c136 81.5px,#000004 82.5px 84.5px,#a9932f 85.5px,#f6d543 86.5px 88.5px,#f3e96b 89.5px,#f1f179 90.5px 92.5px,#f6f993 93.5px,#f8fb9a 94.5px 96.5px,#f9fc9d 97.5px,#fcffa4 98.5px 101.5px,#fafd9f 102.5px,#f9fc9d 103.5px 105.5px,#f7f68d 106.5px,#f3e55d 107.5px 111.5px,#f3e45c 112.5px,#f6d746 113.5px 117.5px,#f8e76d 118.5px,#fcffa4 119.5px 124.5px,#fbfda1 125.5px,#f1f179 126.5px 132.5px,#f2f27e 133.5px,#f6fa96 134.5px 141.5px,#d0d37f 142.5px,#000004 143.5px 166.5px,#56573a 167.5px,#fcffa4 168.5px 184.5px,#fcfea3 185.5px,#fafda1 186.5px 211.5px,#c4c67e 212.5px,#000004 213.5px 250.5px,#dddddd 251.5px);top:82px;height:3px"><i style="opacity:.944"></i></div>
<div class="r" style="--g:linear-gradient(90deg,#fbf8d2 0.5px,#f2e864 1.5px,#f2e661 2.5px,#f3e55d 3.5px,#f3e45c 4.5px,#f3e259 5.5px,#f4e054 6.5px,#f4de51 7.5px,#f5db4c 8.5px,#f6d848 9.5px,#f6d542 10.5px,#f7d340 11.5px,#f8cf3a 12.5px,#f9cb34 13.5px,#f9c62e 14.5px,#fbbe24 15.5px,#fbbc21 16.5px,#fcb317 17.5px,#fca90f 18.5px,#fb9f08 19.5px,#fa9207 20.5px,#f47819 21.5px,#231107 22.5px,#b25813 23.5px,#f88a0d 24.5px,#fb9e09 25.5px,#fcab10 26.5px,#fcb418 27.5px,#fbba20 28.5px,#fac32a 29.5px,#f9cb34 30.5px,#f8cf3a 31.5px,#f7d340 32.5px,#f6d948 33.5px,#f5db4c 34.5px,#f4e055 35.5px,#f3e45b 36.5px,#f3e55e 37.5px,#f2ea69 38.5px,#f2eb6c 39.5px,#f1ed71 40.5px,#f1f076 41.5px,#f2f27e 42.5px,#f2f482 43.5px,#f3f689 44.5px,#f3f68a 45.5px,#f4f78c 46.5px,#f4f88e 47.5px,#f6fa95 48.5px,#f7fa97 49.5px,#f8fb9a 50.5px,#f8fc9c 51.5px,#f9fc9d 52.5px,#f9fd9e 53.5px,#fafda1 54.5px,#fbfea3 55.5px,#fcffa4 56.5px 66.5px,#fbfea2 67.5px,#fafda1 68.5px 69.5px,#f8fb9a 70.5px 71.5px,#f7fb98 72.5px,#f3f68a 73.5px 74.5px,#f3f484 75.5px,#f1ef75 76.5px 77.5px,#f3e662 78.5px,#f5db4c 79.5px 80.5px,#f5d747 81.5px,#fca309 82.5px 84.5px,#fab920 85.5px,#fac42a 86.5px 88.5px,#f4e15b 89.5px,#f1ec6d 90.5px 92.5px,#f5f78d 93.5px,#f6fa96 94.5px 96.5px,#f8fb9a 97.5px,#fcffa4 98.5px 101.5px,#fbfea2 102.5px,#fafda1 103.5px 105.5px,#f8fa96 106.5px,#f1ef75 107.5px 111.5px,#f2ec71 112.5px,#fbba1f 113.5px 117.5px,#fad553 118.5px,#f9fc9d 119.5px 124.5px,#f9fc9c 125.5px,#f4f88e 126.5px 132.5px,#f4f78c 133.5px,#f2f482 134.5px 141.5px,#f3ee77 142.5px,#f7d13d 143.5px 153.5px,#f5da4a 154.5px,#f5db4c 155.5px 166.5px,#f7e76a 167.5px,#fcffa4 168.5px 184.5px,#f9fa98 185.5px,#f1f179 186.5px 211.5px,#f3f380 212.5px,#f8fb9a 213.5px 250.5px,#fefef1 251.5px);top:85px;height:3px"><i style="opacity:.531"></i></div>
<div class="r" style="--g:linear-gradient(90deg,#fbf9d4 0.5px,#f2ea68 1.5px,#f2e865 2.5px,#f2e661 3.5px,#f2e660 4.5px,#f3e45c 5.5px,#f3e157 6.5px,#f4e054 7.5px,#f4dd4f 8.5px,#f5db4c 9.5px,#f6d948 10.5px,#f6d746 11.5px,#f7d340 12.5px,#f8cf39 13.5px,#f9cb34 14.5px,#fac52c 15.5px,#fac42a 16.5px,#fbbb21 17.5px,#fcb419 18.5px,#fcad11 19.5px,#fca309 20.5px,#fa9207 21.5px,#f47b17 22.5px,#422109 23.5px,#934910 24.5px,#f78710 25.5px,#fb9c09 26.5px,#fca80d 27.5px,#fcb015 28.5px,#fbba1f 29.5px,#fac32a 30.5px,#f9c72f 31.5px,#f8cd37 32.5px,#f7d441 33.5px,#f6d746 34.5px,#f5dc4e 35.5px,#f4e054 36.5px,#f3e157 37.5px,#f2e661 38.5px,#f2e864 39.5px,#f2ea69 40.5px,#f1ed71 41.5px,#f2f17a 42.5px,#f2f27d 43.5px,#f2f381 44.5px,#f2f482 45.5px,#f3f587 46.5px,#f3f68a 47.5px,#f5f991 48.5px,#f6f993 49.5px,#f6fa96 50.5px,#f7fb98 51.5px,#f8fb9a 52.5px,#f8fc9b 53.5px,#f9fc9d 54.5px,#fafd9f 55.5px,#fafda1 56.5px,#fbfea2 57.5px,#fcffa4 58.5px 66.5px,#fbfea2 67.5px,#fafda1 68.5px 69.5px,#f9fc9e 70.5px,#f9fc9d 71.5px,#f9fc9c 72.5px,#f5f992 73.5px 74.5px,#f4f78c 75.5px,#f2f27d 76.5px 77.5px,#f2ec6f 78.5px,#f3e55d 79.5px 80.5px,#f3e259 81.5px,#fac026 82.5px 84.5px,#fbae14 85.5px,#fca60c 86.5px 88.5px,#f5d345 89.5px,#f3e35a 90.5px 92.5px,#f3f280 93.5px,#f3f68a 94.5px 96.5px,#f5f890 97.5px,#fafda1 98.5px 101.5px,#fcfea4 102.5px,#fcffa4 103.5px 105.5px,#fafc9d 106.5px,#f3f586 107.5px 111.5px,#e7e97f 112.5px,#000004 113.5px 117.5px,#65663e 118.5px,#f5f992 119.5px 125.5px,#f8fb9a 126.5px 132.5px,#f7f78f 133.5px,#f2e661 134.5px 141.5px,#f2e763 142.5px,#f1ed71 143.5px 153.5px,#f2f37f 154.5px,#f2f482 155.5px 166.5px,#f3f587 167.5px,#f5f992 168.5px 184.5px,#aeb068 185.5px,#000004 186.5px 211.5px,#373724 212.5px,#f8fb9a 213.5px 250.5px,#fefef1 251.5px);top:88px;height:4px"><i style="opacity:.118"></i></div>
<div class="r" style="--g:linear-gradient(90deg,#fbf9d5 0.5px,#f1eb6c 1.5px,#f2ea69 2.5px,#f2e865 3.5px,#f2e863 4.5px,#f2e660 5.5px,#f3e35b 6.5px,#f3e35a 7.5px,#f4e156 8.5px,#f4df52 9.5px,#f5dc4e 10.5px,#f5d949 11.5px,#f6d746 12.5px,#f7d340 13.5px,#f7d13c 14.5px,#f9cb34 15.5px,#f9c932 16.5px,#fac228 17.5px,#fbbc22 18.5px,#fbb71b 19.5px,#fcae12 20.5px,#fca309 21.5px,#fb9607 22.5px,#f68013 23.5px,#62300c 24.5px,#743a0d 25.5px,#f78511 26.5px,#fb9706 27.5px,#fca20b 28.5px,#fcaf14 29.5px,#fbba1f 30.5px,#fac026 31.5px,#f9c72e 32.5px,#f8ce38 33.5px,#f7d13d 34.5px,#f6d745 35.5px,#f5dc4d 36.5px,#f4dd50 37.5px,#f3e35a 38.5px,#f3e55e 39.5px,#f2e865 40.5px,#f2eb6a 41.5px,#f1ed71 42.5px,#f1ef75 43.5px,#f2f27c 44.5px,#f2f27d 45.5px,#f2f482 46.5px,#f3f586 47.5px,#f4f78d 48.5px,#f4f88f 49.5px,#f5f992 50.5px,#f7fa96 51.5px,#f8fb9a 52.5px,#f8fc9b 53.5px,#f9fc9d 54.5px,#fafd9f 55.5px,#fafda1 56.5px,#fbfea2 57.5px,#fcffa4 58.5px 69.5px,#f9fd9e 70.5px,#f9fc9d 71.5px 72.5px,#f6fa96 73.5px 74.5px,#f5f991 75.5px,#f3f586 76.5px 77.5px,#f2f17a 78.5px,#f1ec6d 79.5px 80.5px,#f2ea69 81.5px,#f7d13d 82.5px 84.5px,#4e4215 85.5px,#000004 86.5px 88.5px,#b69f34 89.5px,#f6d746 90.5px 92.5px,#f3ee75 93.5px,#f2f482 94.5px 96.5px,#f4f689 97.5px,#f9fc9d 98.5px 101.5px,#fbfea3 102.5px,#fcffa4 103.5px 105.5px,#fafda0 106.5px,#f5f992 107.5px 111.5px,#f6f68c 112.5px,#fbba1f 113.5px 117.5px,#f8d249 118.5px,#f3f586 119.5px 124.5px,#f3f688 125.5px,#fafda1 126.5px 132.5px,#faf48d 133.5px,#f9cb35 134.5px 141.5px,#f8d243 142.5px,#f4f88e 143.5px 153.5px,#f7fb98 154.5px,#f8fb9a 155.5px 166.5px,#f6f485 167.5px,#f3e55d 168.5px 184.5px,#f2e865 185.5px,#f1f179 186.5px 211.5px,#bdbc5f 212.5px,#000004 213.5px 250.5px,#dddddd 251.5px);top:92px;height:3px"><i style="opacity:.705"></i></div>
<div class="r" style="--g:linear-gradient(90deg,#fbfad6 0.5px,#f1ec6e 1.5px,#f1ec6d 2.5px,#f2ea69 3.5px,#f2e967 4.5px,#f2e864 5.5px,#f2e661 6.5px,#f2e55f 7.5px,#f3e35a 8.5px,#f4e156 9.5px,#f4df52 10.5px,#f4dd4f 11.5px,#f5db4c 12.5px,#f6d746 13.5px,#f7d442 14.5px,#f8cf39 15.5px,#f8cd37 16.5px,#f9c830 17.5px,#fac42b 18.5px,#fbbf25 19.5px,#fbb81d 20.5px,#fcb015 21.5px,#fca60c 22.5px,#fb9808 23.5px,#f78411 24.5px,#81400e 25.5px,#552a0a 26.5px,#f57b17 27.5px,#f98e0c 28.5px,#fba10b 29.5px,#fcaf13 30.5px,#fbb61a 31.5px,#fbbe24 32.5px,#f9c62e 33.5px,#f9c932 34.5px,#f7d03c 35.5px,#f6d746 36.5px,#f5d949 37.5px,#f4df53 38.5px,#f3e157 39.5px,#f3e55d 40.5px,#f2e762 41.5px,#f2eb6b 42.5px,#f1ed71 43.5px,#f1f078 44.5px,#f1f179 45.5px,#f2f27e 46.5px,#f2f482 47.5px,#f3f689 48.5px,#f4f78b 49.5px,#f4f88e 50.5px,#f5f992 51.5px,#f6fa96 52.5px,#f7fa97 53.5px,#f8fb9a 54.5px,#f8fc9c 55.5px,#f9fc9d 56.5px,#f9fd9e 57.5px,#fafda1 58.5px,#fbfea1 59.5px,#fcffa4 60.5px 69.5px,#fbfea1 70.5px,#fafda1 71.5px,#fafda0 72.5px,#f8fb9a 73.5px 74.5px,#f7fa96 75.5px,#f4f88e 76.5px 77.5px,#f3f484 78.5px,#f1f179 79.5px 80.5px,#f2ef76 81.5px,#f4dd4f 82.5px 84.5px,#fab821 85.5px,#fca60c 86.5px 88.5px,#fabd24 89.5px,#fac62d 90.5px 92.5px,#f3e563 93.5px,#f1ed71 94.5px 96.5px,#f3f17c 97.5px,#f8fb9a 98.5px 101.5px,#fbfea2 102.5px,#fcffa4 103.5px 105.5px,#fbfea2 106.5px,#f8fb9a 107.5px 111.5px,#f8f995 112.5px,#f6d746 113.5px 117.5px,#f4e056 118.5px,#f1ec6d 119.5px 124.5px,#f2ed71 125.5px,#fcffa4 126.5px 132.5px,#ced087 133.5px,#000004 134.5px 141.5px,#27281c 142.5px,#f9fc9d 143.5px 153.5px,#fcfea4 154.5px,#fcffa4 155.5px 166.5px,#a6a86e 167.5px,#000004 168.5px 184.5px,#494a32 185.5px,#fafda1 186.5px 211.5px,#fafd9f 212.5px,#f8fb9a 213.5px 250.5px,#fefef1 251.5px);top:95px;height:4px"><i style="opacity:.292"></i></div>
<div class="r" style="--g:linear-gradient(90deg,#fbfad7 0.5px,#f1ee72 1.5px,#f1ed71 2.5px,#f1ec6d 3.5px,#f2eb6b 4.5px,#f2ea68 5.5px,#f2e865 6.5px,#f2e763 7.5px,#f3e55d 8.5px,#f3e259 9.5px,#f4e156 10.5px,#f4df53 11.5px,#f4dd4f 12.5px,#f5db4b 13.5px,#f6d848 14.5px,#f7d441 15.5px,#f7d340 16.5px,#f8cd37 17.5px,#f9c831 18.5px,#fac52c 19.5px,#fac026 20.5px,#fbb81d 21.5px,#fcb116 22.5px,#fca80d 23.5px,#fb9c08 24.5px,#f8890e 25.5px,#a05110 26.5px,#000004 27.5px,#a0510f 28.5px,#f88c0d 29.5px,#fba00a 30.5px,#fcaa0f 31.5px,#fbb419 32.5px,#fbbd23 33.5px,#fac228 34.5px,#f9ca33 35.5px,#f7d13d 36.5px,#f7d440 37.5px,#f5d949 38.5px,#f5db4c 39.5px,#f4df53 40.5px,#f3e35a 41.5px,#f2e864 42.5px,#f2ea69 43.5px,#f1ed70 44.5px,#f1ed71 45.5px,#f1ef76 46.5px,#f1f179 47.5px,#f2f381 48.5px,#f2f483 49.5px,#f3f68a 50.5px,#f4f88e 51.5px,#f5f992 52.5px,#f6f993 53.5px,#f6fa96 54.5px,#f8fb9a 55.5px,#f9fc9d 56.5px,#f9fd9e 57.5px,#fafda1 58.5px,#fbfea1 59.5px,#fcffa4 60.5px 71.5px,#fcfea4 72.5px,#f9fc9d 73.5px 74.5px,#f8fc9b 75.5px,#f6fa96 76.5px 77.5px,#f4f78d 78.5px,#f2f482 79.5px 80.5px,#f2f37f 81.5px,#f2e661 82.5px 84.5px,#f8ce3b 85.5px,#fac42a 86.5px 88.5px,#fbaf15 89.5px,#fca80d 90.5px 92.5px,#f4d94f 93.5px,#f2e661 94.5px 96.5px,#f3ec6f 97.5px,#f5f992 98.5px 101.5px,#fafda0 102.5px,#fcffa4 103.5px 105.5px,#fcfea4 106.5px,#fafda1 107.5px 111.5px,#fafc9e 112.5px,#f2e865 113.5px 117.5px,#f3e45c 118.5px,#f4dd4f 119.5px 124.5px,#f5e056 125.5px,#fcffa4 126.5px 132.5px,#fbf590 133.5px,#f9cb35 134.5px 141.5px,#f9d346 142.5px,#fcffa4 143.5px 166.5px,#f9f68c 167.5px,#f3e55d 168.5px 184.5px,#f5ec71 185.5px,#fafda1 186.5px 211.5px,#fafd9f 212.5px,#f8fb9a 213.5px 250.5px,#fefef1 251.5px);top:99px;height:3px"><i style="opacity:.879"></i></div>
<div class="r" style="--g:linear-gradient(90deg,#fbfad7 0.5px,#f1ef74 1.5px,#f1ed71 2.5px 3.5px,#f1ec6d 4.5px,#f1eb6c 5.5px,#f2ea69 6.5px,#f2e967 7.5px,#f2e661 8.5px,#f3e55e 9.5px,#f3e45d 10.5px,#f3e35a 11.5px,#f4e156 12.5px,#f4de51 13.5px,#f5db4b 14.5px,#f6d847 15.5px,#f6d746 16.5px,#f7d23e 17.5px,#f8ce39 18.5px,#f9cb34 19.5px,#fac62d 20.5px,#fac026 21.5px,#fbbb20 22.5px,#fcb317 23.5px,#fcaa0f 24.5px,#fb9e09 25.5px,#f98c0c 26.5px,#f57b17 27.5px,#552b0a 28.5px,#81410d 29.5px,#f7880f 30.5px,#fb9906 31.5px,#fca70e 32.5px,#fbb419 33.5px,#fbba1f 34.5px,#fac229 35.5px,#f9cb34 36.5px,#f8ce38 37.5px,#f7d340 38.5px,#f6d644 39.5px,#f5db4c 40.5px,#f4df53 41.5px,#f3e45c 42.5px,#f2e661 43.5px,#f2e968 44.5px,#f2ea69 45.5px,#f1ed70 46.5px,#f1ef75 47.5px,#f2f27d 48.5px,#f2f37f 49.5px,#f3f586 50.5px,#f4f68a 51.5px,#f4f88e 52.5px,#f5f88f 53.5px,#f5f992 54.5px,#f7fa96 55.5px,#f8fb9a 56.5px,#f8fc9b 57.5px,#f9fc9d 58.5px,#f9fc9e 59.5px,#fafda1 60.5px 61.5px,#fcfea4 62.5px,#fcffa4 63.5px 71.5px,#fcfea4 72.5px,#fafda1 73.5px 74.5px,#fafd9f 75.5px,#f8fb9a 76.5px 77.5px,#f6f992 78.5px,#f3f68a 79.5px 80.5px,#f3f688 81.5px,#f1ed71 82.5px 84.5px,#f5dd51 85.5px,#f6d543 86.5px 88.5px,#413814 89.5px,#000004 90.5px 92.5px,#c2ad3d 93.5px,#f5db4c 94.5px 96.5px,#f4e25c 97.5px,#f3f586 98.5px 101.5px,#f9fc9b 102.5px,#fafda1 103.5px 105.5px,#fbfea2 106.5px,#fcffa4 107.5px 111.5px,#fcfea2 112.5px,#f2f27d 113.5px 117.5px,#f5dd59 118.5px,#fac026 119.5px 124.5px,#fac42f 125.5px,#fafda1 126.5px 132.5px,#f9f995 133.5px,#f2e661 134.5px 141.5px,#f4ea6c 142.5px,#fcffa4 143.5px 153.5px,#f8fc9b 154.5px,#f8fb9a 155.5px 166.5px,#f7fa97 167.5px,#f5f992 168.5px 184.5px,#f4f68b 185.5px,#f1f179 186.5px 211.5px,#bdbc5f 212.5px,#000004 213.5px 250.5px,#dddddd 251.5px);top:102px;height:3px"><i style="opacity:.466"></i></div>
<div class="r" style="--g:linear-gradient(90deg,#fbfbd8 0.5px,#f1f078 1.5px,#f1ef75 2.5px 3.5px,#f1ed71 4.5px,#f1ed70 5.5px,#f1ec6d 6.5px,#f2eb6b 7.5px,#f2e865 8.5px,#f2e864 9.5px,#f2e660 10.5px,#f3e55d 11.5px,#f3e35a 12.5px,#f4e055 13.5px,#f4df52 14.5px,#f5db4b 15.5px,#f5d949 16.5px,#f6d644 17.5px,#f7d23e 18.5px,#f8cf39 19.5px,#f9cb35 20.5px,#f9c82f 21.5px,#fac229 22.5px,#fbbc21 23.5px,#fbb51a 24.5px,#fcad11 25.5px,#fca10a 26.5px,#fb9706 27.5px,#f78610 28.5px,#753b0c 29.5px,#62320a 30.5px,#f67e14 31.5px,#fa930a 32.5px,#fca50c 33.5px,#fcac11 34.5px,#fbb81d 35.5px,#fac329 36.5px,#fac62e 37.5px,#f8cd37 38.5px,#f7d03c 39.5px,#f6d543 40.5px,#f5db4b 41.5px,#f4e055 42.5px,#f3e35a 43.5px,#f2e660 44.5px,#f2e661 45.5px,#f2ea68 46.5px,#f1ec6d 47.5px,#f1ef74 48.5px,#f2f078 49.5px,#f2f482 50.5px,#f2f484 51.5px,#f3f586 52.5px,#f3f688 53.5px,#f4f88e 54.5px,#f5f992 55.5px,#f6fa96 56.5px,#f7fa97 57.5px,#f8fb9a 58.5px 59.5px,#fafda1 60.5px 64.5px,#fcffa4 65.5px 74.5px,#fbfea2 75.5px,#f9fc9d 76.5px 77.5px,#f7fb98 78.5px,#f5f992 79.5px 80.5px,#f5f890 81.5px,#f2f27d 82.5px 84.5px,#f3e662 85.5px,#f4e156 86.5px 88.5px,#fab720 89.5px,#fca80d 90.5px 92.5px,#fac32a 93.5px,#f9c932 94.5px 96.5px,#f7d446 97.5px,#f1f179 98.5px 101.5px,#f7fa95 102.5px,#f9fc9d 103.5px 105.5px,#fafd9f 106.5px,#fcffa4 107.5px 111.5px,#fcfea3 112.5px,#f4f88e 113.5px 117.5px,#909255 118.5px,#000004 119.5px 124.5px,#14140f 125.5px,#f8fb9a 126.5px 132.5px,#f7fa95 133.5px,#f2f482 134.5px 141.5px,#f3f586 142.5px,#f9fc9d 143.5px 153.5px,#f3f585 154.5px,#f2f482 155.5px 166.5px,#f6f78d 167.5px,#fcffa4 168.5px 184.5px,#b3b475 185.5px,#000004 186.5px 211.5px,#373724 212.5px,#f8fb9a 213.5px 250.5px,#fefef1 251.5px);top:105px;height:4px"><i style="opacity:.053"></i></div>
<div class="r" style="--g:linear-gradient(90deg,#fbfbd9 0.5px,#f2f17a 1.5px,#f1f179 2.5px,#f1ef75 3.5px,#f1ee74 4.5px,#f1ed71 5.5px,#f1ec6e 6.5px,#f1ec6d 7.5px,#f2ea69 8.5px,#f2e968 9.5px,#f2e864 10.5px,#f2e661 11.5px,#f3e55d 12.5px,#f3e259 13.5px,#f4e055 14.5px,#f4de51 15.5px,#f4dd4f 16.5px,#f5da4a 17.5px,#f6d745 18.5px,#f6d542 19.5px,#f7d13d 20.5px,#f8cd37 21.5px,#f9c831 22.5px,#fac32a 23.5px,#fbbe24 24.5px,#fbb71c 25.5px,#fcaf13 26.5px,#fca80d 27.5px,#fb9d09 28.5px,#f8890e 29.5px,#944b0e 30.5px,#000004 31.5px,#ad590f 32.5px,#f98f0c 33.5px,#fb9b06 34.5px,#fcac11 35.5px,#fbb81d 36.5px,#fbbc22 37.5px,#fac62d 38.5px,#f9c932 39.5px,#f8cf3a 40.5px,#f6d542 41.5px,#f5da4b 42.5px,#f4dd4f 43.5px,#f3e258 44.5px,#f3e35a 45.5px,#f2e660 46.5px,#f2e865 47.5px,#f1ed70 48.5px,#f1ee73 49.5px,#f1f179 50.5px,#f2f27e 51.5px,#f2f482 52.5px,#f2f484 53.5px,#f3f68a 54.5px,#f4f88e 55.5px,#f5f992 56.5px,#f6f993 57.5px,#f6fa96 58.5px,#f7fa96 59.5px,#f9fc9d 60.5px 61.5px,#fafda0 62.5px,#fafda1 63.5px 64.5px,#fcffa4 65.5px 74.5px,#fcfea3 75.5px,#fafda1 76.5px 77.5px,#f9fc9c 78.5px,#f6fa96 79.5px 80.5px,#f6fa95 81.5px,#f3f586 82.5px 84.5px,#f2ec6f 85.5px,#f2e865 86.5px 88.5px,#f8cf3b 89.5px,#fac62d 90.5px 92.5px,#fbb117 93.5px,#fcac11 94.5px 96.5px,#f9bd28 97.5px,#f2e865 98.5px 101.5px,#f5f68a 102.5px,#f6fa96 103.5px 105.5px,#f8fb99 106.5px,#fcffa4 107.5px 111.5px,#fcfea4 112.5px,#f8fb9a 113.5px 117.5px,#f9e36a 118.5px,#fac026 119.5px 124.5px,#fac42e 125.5px,#f4f88e 126.5px 132.5px,#f5f88f 133.5px,#f6fa96 134.5px 141.5px,#f6fa94 142.5px,#f4f88e 143.5px 153.5px,#f5df54 154.5px,#f5db4c 155.5px 166.5px,#f7e76a 167.5px,#fcffa4 168.5px 184.5px,#f9fa98 185.5px,#f1f179 186.5px 211.5px,#f3f380 212.5px,#f8fb9a 213.5px 250.5px,#fefef1 251.5px);top:109px;height:3px"><i style="opacity:.640"></i></div>
<div class="r" style="--g:linear-gradient(90deg,#fbfbd9 0.5px,#f2f27d 1.5px,#f1f179 2.5px 3.5px,#f1f078 4.5px,#f1ef75 5.5px,#f1ee72 6.5px,#f1ed71 7.5px,#f1ec6d 8.5px,#f1eb6c 9.5px,#f2ea68 10.5px,#f2e865 11.5px,#f2e661 12.5px,#f2e660 13.5px,#f3e45d 14.5px,#f3e257 15.5px,#f4e156 16.5px,#f4de50 17.5px,#f5db4b 18.5px,#f6d948 19.5px,#f6d543 20.5px,#f7d13d 21.5px,#f8ce38 22.5px,#f9cb33 23.5px,#fac62d 24.5px,#fac026 25.5px,#fbb91e 26.5px,#fcb418 27.5px,#fcac11 28.5px,#fba009 29.5px,#f98f0c 30.5px,#f67e14 31.5px,#492508 32.5px,#8e4a0c 33.5px,#f68013 34.5px,#fb9a08 35.5px,#fcaa10 36.5px,#fcaf13 37.5px,#fbbc21 38.5px,#fac026 39.5px,#f9c72f 40.5px,#f8cd37 41.5px,#f7d440 42.5px,#f6d746 43.5px,#f4de51 44.5px,#f4df53 45.5px,#f3e259 46.5px,#f3e55d 47.5px,#f2e968 48.5px,#f2eb6a 49.5px,#f1ed71 50.5px,#f2f077 51.5px,#f2f27d 52.5px,#f2f380 53.5px,#f3f586 54.5px,#f4f68a 55.5px,#f4f88e 56.5px,#f5f88f 57.5px,#f5f992 58.5px 59.5px,#f8fb9a 60.5px 61.5px,#f9fc9d 62.5px 64.5px,#fafda1 65.5px 66.5px,#fcfea4 67.5px,#fcffa4 68.5px 77.5px,#fbfea1 78.5px,#f9fc9d 79.5px 80.5px,#f9fc9c 81.5px,#f4f88e 82.5px 84.5px,#f2f27d 85.5px,#f1ef75 86.5px 88.5px,#f5dd52 89.5px,#f6d746 90.5px 92.5px,#342d11 93.5px,#000004 94.5px 96.5px,#443e19 97.5px,#f4dd4f 98.5px 101.5px,#f4f17f 102.5px,#f4f88e 103.5px 105.5px,#f6f994 106.5px,#fcffa4 107.5px 112.5px,#fafda1 113.5px 117.5px,#f8f07f 118.5px,#f4dd4f 119.5px 124.5px,#f4df53 125.5px,#f1f179 126.5px 132.5px,#f3f380 133.5px,#fafda1 134.5px 141.5px,#f9fb99 142.5px,#f1ed71 143.5px 153.5px,#1e1d11 154.5px,#000004 155.5px 166.5px,#545534 167.5px,#f5f992 168.5px 184.5px,#f7fa96 185.5px,#fafda1 186.5px 211.5px,#c4c67e 212.5px,#000004 213.5px 250.5px,#dddddd 251.5px);top:112px;height:4px"><i style="opacity:.227"></i></div>
<div class="r" style="--g:linear-gradient(90deg,#fbfcdb 0.5px,#f2f27e 1.5px,#f2f27d 2.5px 3.5px,#f1f17a 4.5px,#f1f179 5.5px,#f1f076 6.5px,#f1ef75 7.5px,#f1ed71 8.5px,#f1ed70 9.5px,#f1eb6c 10.5px,#f2ea69 11.5px 12.5px,#f2e864 13.5px,#f2e660 14.5px,#f3e35b 15.5px,#f3e35a 16.5px,#f4e055 17.5px,#f4de52 18.5px,#f5dd4f 19.5px,#f5d949 20.5px,#f6d746 21.5px,#f7d441 22.5px,#f7d03c 23.5px,#f8cc35 24.5px,#f9c72e 25.5px,#fac228 26.5px,#fbbe23 27.5px,#fbb71c 28.5px,#fcaf13 29.5px,#fca40b 30.5px,#fb9906 31.5px,#f78610 32.5px,#68360b 33.5px,#000004 34.5px,#da7111 35.5px,#fa960a 36.5px,#fb9e07 37.5px,#fcb014 38.5px,#fbb51a 39.5px,#fbbe23 40.5px,#fac42c 41.5px,#f8cd37 42.5px,#f7d13d 43.5px,#f6d847 44.5px,#f5d949 45.5px,#f5dd4f 46.5px,#f4df53 47.5px,#f2e660 48.5px,#f2e763 49.5px,#f2ea69 50.5px,#f1ed6f 51.5px,#f1ef75 52.5px,#f1f077 53.5px,#f2f27d 54.5px,#f2f482 55.5px,#f3f586 56.5px,#f3f688 57.5px,#f4f88e 58.5px 59.5px,#f6fa96 60.5px 61.5px,#f9fc9c 62.5px,#f9fc9d 63.5px 64.5px,#fafda1 65.5px 66.5px,#fcfea4 67.5px,#fcffa4 68.5px 77.5px,#fbfea3 78.5px,#fafda1 79.5px 80.5px,#fafda0 81.5px,#f6fa96 82.5px 84.5px,#f3f688 85.5px,#f2f482 86.5px 88.5px,#f3e764 89.5px,#f3e35a 90.5px 92.5px,#fab820 93.5px,#fcac11 94.5px 96.5px,#fbb51b 97.5px,#f8cd37 98.5px 101.5px,#f3ea6d 102.5px,#f2f27d 103.5px 105.5px,#f4f586 106.5px,#fafda1 107.5px 111.5px,#fbfea1 112.5px,#fcffa4 113.5px 117.5px,#f8f78e 118.5px,#f1ec6d 119.5px 124.5px,#f2eb6b 125.5px,#f4e156 126.5px 132.5px,#f5e664 133.5px,#fcffa4 134.5px 141.5px,#fbf794 142.5px,#f7d13d 143.5px 153.5px,#f5da4a 154.5px,#f5db4c 155.5px 166.5px,#f4de52 167.5px,#f3e55d 168.5px 184.5px,#f5ec71 185.5px,#fafda1 186.5px 211.5px,#fafd9f 212.5px,#f8fb9a 213.5px 250.5px,#fefef1 251.5px);top:116px;height:3px"><i style="opacity:.814"></i></div>
<div class="r" style="--g:linear-gradient(90deg,#fbfcdb 0.5px,#f2f482 1.5px,#f2f381 2.5px,#f2f27d 3.5px 4.5px,#f2f27c 5.5px,#f1f179 6.5px,#f1f077 7.5px,#f1ef75 8.5px,#f1ee72 9.5px,#f1ed70 10.5px,#f1ec6d 11.5px 12.5px,#f2ea68 13.5px,#f2e864 14.5px,#f2e55f 15.5px,#f3e55d 16.5px,#f3e35b 17.5px,#f4e055 18.5px,#f4df52 19.5px,#f4dd4f 20.5px,#f5db4c 21.5px,#f6d847 22.5px,#f7d441 23.5px,#f7d13c 24.5px,#f8cd37 25.5px,#f9c932 26.5px,#fac62d 27.5px,#fac027 28.5px,#fbba1f 29.5px,#fcb116 30.5px,#fcaa0f 31.5px,#fba009 32.5px,#f88c0d 33.5px,#f68013 34.5px,#1d0f05 35.5px,#bb620e 36.5px,#f78411 37.5px,#fc9f07 38.5px,#fca60d 39.5px,#fcb216 40.5px,#fbbb21 41.5px,#fac52c 42.5px,#f9c932 43.5px,#f7d23e 44.5px,#f7d340 45.5px,#f6d847 46.5px,#f5db4c 47.5px,#f4e055 48.5px,#f3e258 49.5px,#f2e661 50.5px,#f2e967 51.5px,#f1ec6d 52.5px,#f1ed70 53.5px,#f1f179 54.5px,#f2f27e 55.5px,#f2f482 56.5px,#f3f484 57.5px,#f3f68a 58.5px,#f4f68a 59.5px,#f5f992 60.5px 61.5px,#f7fb98 62.5px,#f8fb9a 63.5px 64.5px,#f9fc9d 65.5px 66.5px,#fafda0 67.5px,#fafda1 68.5px 69.5px,#fcfea4 70.5px,#fcffa4 71.5px 77.5px,#fbfea3 78.5px,#fafda1 79.5px 80.5px,#fafda0 81.5px,#f8fb9a 82.5px 84.5px,#f5f88f 85.5px,#f3f68a 86.5px 88.5px,#f2ee74 89.5px,#f1ec6d 90.5px 92.5px,#f7d13e 93.5px,#f9c932 94.5px 96.5px,#fac229 97.5px,#fcae12 98.5px 101.5px,#f4dd58 102.5px,#f1ec6d 103.5px 105.5px,#f3f078 106.5px,#f8fb9a 107.5px 112.5px,#fcffa4 113.5px 117.5px,#f8fb98 118.5px,#f3f586 119.5px 124.5px,#f3f17f 125.5px,#fac62d 126.5px 132.5px,#fad043 133.5px,#fcffa4 134.5px 141.5px,#d4d78b 142.5px,#000004 143.5px 153.5px,#d4d672 154.5px,#f2f482 155.5px 166.5px,#a0a157 167.5px,#000004 168.5px 184.5px,#474626 185.5px,#f1f179 186.5px 211.5px,#f3f380 212.5px,#f8fb9a 213.5px 250.5px,#fefef1 251.5px);top:119px;height:4px"><i style="opacity:.401"></i></div>
<div class="r" style="--g:linear-gradient(90deg,#fbfcdc 0.5px,#f3f585 1.5px,#f2f482 2.5px 3.5px,#f2f380 4.5px,#f2f27d 5.5px 6.5px,#f2f17b 7.5px,#f1f179 8.5px,#f1ef76 9.5px,#f1ef74 10.5px,#f1ed71 11.5px 12.5px,#f1eb6c 13.5px,#f2ea69 14.5px,#f2e966 15.5px,#f2e865 16.5px,#f2e660 17.5px,#f3e45c 18.5px,#f3e259 19.5px,#f4e156 20.5px,#f4dd4f 21.5px,#f5db4c 22.5px,#f6d847 23.5px,#f6d644 24.5px,#f7d340 25.5px,#f8cf3a 26.5px,#f9cb35 27.5px,#f9c830 28.5px,#fac229 29.5px,#fbbc21 30.5px,#fbb61a 31.5px,#fcaf14 32.5px,#fca20b 33.5px,#fb9b06 34.5px,#f78311 35.5px,#3c1f07 36.5px,#100904 37.5px,#f78410 38.5px,#f98e0d 39.5px,#fca108 40.5px,#fcac12 41.5px,#fbba1f 42.5px,#fac026 43.5px,#f9ca33 44.5px,#f9cb35 45.5px,#f8d03b 46.5px,#f7d340 47.5px,#f5da4b 48.5px,#f5dd4f 49.5px,#f3e35a 50.5px,#f2e660 51.5px,#f2e865 52.5px,#f2ea68 53.5px,#f1ed71 54.5px,#f1ef76 55.5px,#f1f179 56.5px,#f2f27d 57.5px,#f3f586 58.5px 59.5px,#f4f88e 60.5px 61.5px,#f6fa94 62.5px,#f6fa96 63.5px 64.5px,#f8fb9a 65.5px 66.5px,#fafd9f 67.5px,#fafda1 68.5px 69.5px,#fcfea4 70.5px,#fcffa4 71.5px 80.5px,#fcfea4 81.5px,#f9fc9d 82.5px 84.5px,#f6fa95 85.5px,#f5f992 86.5px 88.5px,#f2f380 89.5px,#f1f179 90.5px 92.5px,#f4e055 93.5px,#f5db4c 94.5px 96.5px,#b19e38 97.5px,#000004 98.5px 101.5px,#bbac43 102.5px,#f4e156 103.5px 105.5px,#f4e765 106.5px,#f5f992 107.5px 111.5px,#f6f993 112.5px,#fcffa4 113.5px 117.5px,#f9fc9d 118.5px,#f5f992 119.5px 124.5px,#e2e687 125.5px,#000004 126.5px 132.5px,#2e2e20 133.5px,#fafda1 134.5px 141.5px,#faf791 142.5px,#f7d13d 143.5px 153.5px,#f8f68e 154.5px,#f8fb9a 155.5px 166.5px,#f6f485 167.5px,#f3e55d 168.5px 184.5px,#aca243 185.5px,#000004 186.5px 250.5px,#dddddd 251.5px);top:123px;height:3px"><i style="opacity:.988"></i></div>
<div class="r" style="--g:linear-gradient(90deg,#fbfcdc 0.5px,#f3f586 1.5px 3.5px,#f2f482 4.5px 5.5px,#f2f37f 6.5px,#f2f27d 7.5px,#f1f179 8.5px 9.5px,#f1f079 10.5px,#f1ef75 11.5px,#f1ed71 12.5px,#f1ed70 13.5px,#f1ec6d 14.5px,#f2eb6a 15.5px,#f2ea69 16.5px,#f2e864 17.5px,#f2e660 18.5px,#f3e45d 19.5px,#f3e35a 20.5px,#f4e156 21.5px,#f4df53 22.5px,#f4de50 23.5px,#f5db4b 24.5px,#f6d746 25.5px,#f7d441 26.5px,#f7d13d 27.5px,#f8cf39 28.5px,#f9ca33 29.5px,#fac42c 30.5px,#fac026 31.5px,#fbba1f 32.5px,#fcb116 33.5px,#fcac11 34.5px,#fb9f08 35.5px,#f8880f 36.5px,#e77911 37.5px,#000004 38.5px,#5c3108 39.5px,#f78410 40.5px,#fa970b 41.5px,#fcab11 42.5px,#fcb418 43.5px,#fac026 44.5px,#fac228 45.5px,#f9c830 46.5px,#f9cb35 47.5px,#f7d441 48.5px,#f6d745 49.5px,#f4dd4f 50.5px,#f4e157 51.5px,#f3e55d 52.5px,#f2e660 53.5px,#f2ea69 54.5px,#f1ed70 55.5px,#f1ef75 56.5px,#f1f078 57.5px,#f2f27d 58.5px,#f2f27e 59.5px,#f3f586 60.5px 61.5px,#f5f890 62.5px,#f5f992 63.5px 64.5px,#f6fa96 65.5px 66.5px,#f8fc9b 67.5px,#f9fc9d 68.5px 69.5px,#fafda1 70.5px 71.5px,#fbfea1 72.5px,#fcffa4 73.5px 81.5px,#fafda1 82.5px 84.5px,#f9fc9c 85.5px,#f8fb9a 86.5px 88.5px,#f4f78b 89.5px,#f3f586 90.5px 92.5px,#f2e969 93.5px,#f2e661 94.5px 96.5px,#f5d74b 97.5px,#fcae12 98.5px 101.5px,#f9c831 102.5px,#f8cf3a 103.5px 105.5px,#f6d94d 106.5px,#f3f586 107.5px 111.5px,#f3f587 112.5px,#fcffa4 113.5px 117.5px,#fbfea2 118.5px,#f9fc9d 119.5px 124.5px,#f9f895 125.5px,#fac62d 126.5px 132.5px,#f9cf40 133.5px,#f6fa96 134.5px 141.5px,#f6f890 142.5px,#f1ed71 143.5px 153.5px,#fbfc9e 154.5px,#fcffa4 155.5px 166.5px,#fafd9e 167.5px,#f5f992 168.5px 184.5px,#f4f68b 185.5px,#f1f179 186.5px 211.5px,#f3f380 212.5px,#f8fb9a 213.5px 250.5px,#fefef1 251.5px);top:126px;height:3px"><i style="opacity:.575"></i></div>
<div class="r" style="--g:linear-gradient(90deg,#fcfcdd 0.5px,#f3f689 1.5px,#f3f586 2.5px 4.5px,#f3f585 5.5px,#f2f482 6.5px 7.5px,#f2f27d 8.5px,#f2f27c 9.5px,#f1f179 10.5px 11.5px,#f1ef75 12.5px,#f1ee74 13.5px,#f1ed71 14.5px,#f1ec6e 15.5px,#f1ec6d 16.5px,#f2ea69 17.5px,#f2ea68 18.5px,#f2e864 19.5px,#f2e661 20.5px,#f3e55d 21.5px,#f3e35a 22.5px,#f4e055 23.5px,#f4de51 24.5px,#f5db4c 25.5px,#f6d848 26.5px,#f6d746 27.5px,#f7d542 28.5px,#f8d03b 29.5px,#f9cb34 30.5px,#f9c72f 31.5px,#fac32a 32.5px,#fbbd23 33.5px,#fbba1f 34.5px,#fcaf14 35.5px,#fca109 36.5px,#fb9b07 37.5px,#f78410 38.5px,#9b530b 39.5px,#000004 40.5px,#a95b0b 41.5px,#fa960c 42.5px,#fca309 43.5px,#fcb116 44.5px,#fcb418 45.5px,#fbbd23 46.5px,#fac42a 47.5px,#f8cd36 48.5px,#f8d03a 49.5px,#f6d746 50.5px,#f5db4d 51.5px,#f4df53 52.5px,#f4e056 53.5px,#f3e55d 54.5px,#f2e864 55.5px,#f2ea69 56.5px,#f2ec6d 57.5px,#f1ef75 58.5px,#f1ef76 59.5px,#f2f482 60.5px 61.5px,#f3f688 62.5px,#f3f68a 63.5px 64.5px,#f5f992 65.5px 66.5px,#f7fb98 67.5px,#f8fb9a 68.5px 69.5px,#f9fc9d 70.5px 71.5px,#f9fd9e 72.5px,#fcffa4 73.5px 84.5px,#fafda0 85.5px,#f9fc9d 86.5px 88.5px,#f6f992 89.5px,#f4f88e 90.5px 92.5px,#f2ef77 93.5px,#f1ed71 94.5px 96.5px,#f3e461 97.5px,#f8cd37 98.5px 101.5px,#fbb81e 102.5px,#fcb216 103.5px 105.5px,#f9c12e 106.5px,#f1ef75 107.5px 111.5px,#f2f077 112.5px,#fafda1 113.5px 117.5px,#fbfea2 118.5px,#fcffa4 119.5px 124.5px,#fbfc9e 125.5px,#f4e156 126.5px 132.5px,#f3e45e 133.5px,#f2f482 134.5px 141.5px,#f2f483 142.5px,#f4f88e 143.5px 153.5px,#fbfea2 154.5px,#fcffa4 155.5px 184.5px,#fcfea3 185.5px,#fafda1 186.5px 211.5px,#fafd9f 212.5px,#f8fb9a 213.5px 250.5px,#fefef1 251.5px);top:129px;height:4px"><i style="opacity:.162"></i></div>
<div class="r" style="--g:linear-gradient(90deg,#fcfcdd 0.5px,#f3f68a 1.5px 3.5px,#f3f586 4.5px 6.5px,#f2f483 7.5px,#f2f482 8.5px,#f2f27e 9.5px,#f2f27d 10.5px 11.5px,#f1f179 12.5px,#f1f078 13.5px,#f1ef75 14.5px,#f1ee72 15.5px,#f1ed71 16.5px,#f1ec6d 17.5px,#f1eb6c 18.5px,#f2ea68 19.5px,#f2e865 20.5px,#f2e661 21.5px,#f3e55e 22.5px,#f3e35b 23.5px,#f3e257 24.5px,#f4df53 25.5px,#f5dc4e 26.5px,#f5db4c 27.5px,#f6d948 28.5px,#f6d543 29.5px,#f7d23d 30.5px,#f8cf3a 31.5px,#f9cb34 32.5px,#fac52c 33.5px,#fac228 34.5px,#fbbb20 35.5px,#fcb115 36.5px,#fcad12 37.5px,#fc9f07 38.5px,#fa950a 39.5px,#f78410 40.5px,#4f2a08 41.5px,#894a0a 42.5px,#f8850f 43.5px,#fba00b 44.5px,#fca50a 45.5px,#fcaf14 46.5px,#fbb61a 47.5px,#fac229 48.5px,#f9c62e 49.5px,#f8cf3a 50.5px,#f7d340 51.5px,#f6d746 52.5px,#f5da4a 53.5px,#f4e156 54.5px,#f3e45c 55.5px,#f2e661 56.5px,#f2e865 57.5px,#f1ec6d 58.5px,#f1ec6e 59.5px,#f1f179 60.5px 61.5px,#f2f483 62.5px,#f3f586 63.5px 64.5px,#f4f88e 65.5px 66.5px,#f6f994 67.5px,#f6fa96 68.5px 69.5px,#f9fc9d 70.5px 71.5px,#f9fc9e 72.5px,#fafda1 73.5px 74.5px,#fbfea2 75.5px,#fcffa4 76.5px 84.5px,#fbfea2 85.5px,#fafda1 86.5px 88.5px,#f7fb99 89.5px,#f6fa96 90.5px 92.5px,#f3f586 93.5px,#f2f482 94.5px 96.5px,#f3ed74 97.5px,#f4dd4f 98.5px 101.5px,#393415 102.5px,#000004 103.5px 105.5px,#3e3a1a 106.5px,#f3e55d 107.5px 111.5px,#f3e660 112.5px,#f8fb9a 113.5px 117.5px,#f9fd9e 118.5px,#fcffa4 119.5px 124.5px,#fbfda1 125.5px,#f1f179 126.5px 132.5px,#f2ef75 133.5px,#f2e661 134.5px 141.5px,#f3ea6a 142.5px,#f9fc9d 143.5px 153.5px,#f8fb9a 154.5px 166.5px,#f9fc9d 167.5px,#fcffa4 168.5px 184.5px,#fcfea3 185.5px,#fafda1 186.5px 211.5px,#c4c67e 212.5px,#000004 213.5px 250.5px,#dddddd 251.5px);top:133px;height:3px"><i style="opacity:.749"></i></div>
<div class="r" style="--g:linear-gradient(90deg,#fcfdde 0.5px,#f4f78d 1.5px,#f3f68a 2.5px 4.5px,#f3f689 5.5px,#f3f586 6.5px 7.5px,#f2f482 8.5px 9.5px,#f2f381 10.5px,#f2f27d 11.5px 12.5px,#f1f17a 13.5px,#f1f179 14.5px,#f1f077 15.5px,#f1ef75 16.5px,#f1ed71 17.5px,#f1ed70 18.5px,#f1eb6c 19.5px,#f2ea69 20.5px,#f2e865 21.5px 22.5px,#f2e762 23.5px,#f3e45d 24.5px,#f3e258 25.5px,#f4e055 26.5px,#f4df53 27.5px,#f5dc4e 28.5px,#f5da4a 29.5px,#f6d846 30.5px,#f6d543 31.5px,#f7d13d 32.5px,#f8cc35 33.5px,#f9c932 34.5px,#fac42b 35.5px,#fbbe23 36.5px,#fbbb20 37.5px,#fcb014 38.5px,#fcaa10 39.5px,#fca108 40.5px,#f98e0d 41.5px,#6f3c09 42.5px,#000004 43.5px,#d5740c 44.5px,#f8870e 45.5px,#fa990c 46.5px,#fca50a 47.5px,#fbb61b 48.5px,#fbbb20 49.5px,#fac62d 50.5px,#f8cc35 51.5px,#f7d13d 52.5px,#f7d340 53.5px,#f5d949 54.5px,#f4de50 55.5px,#f4e156 56.5px,#f3e35b 57.5px,#f2e865 58.5px,#f2e966 59.5px,#f1ed71 60.5px 61.5px,#f2f17b 62.5px,#f2f27d 63.5px 64.5px,#f3f586 65.5px 66.5px,#f5f88f 67.5px,#f5f992 68.5px 69.5px,#f7fb99 70.5px,#f8fb9a 71.5px 72.5px,#f9fc9d 73.5px 74.5px,#fafd9f 75.5px,#fcffa4 76.5px 88.5px,#fafd9f 89.5px,#f9fc9d 90.5px 92.5px,#f5f88e 93.5px,#f3f68a 94.5px 96.5px,#f3f27f 97.5px,#f2e865 98.5px 101.5px,#f9bf29 102.5px,#fcb216 103.5px 105.5px,#faba21 106.5px,#f7d340 107.5px 111.5px,#f7d544 112.5px,#f4f88e 113.5px 117.5px,#f7fa97 118.5px,#fcffa4 119.5px 124.5px,#fbfea3 125.5px,#f4f88e 126.5px 132.5px,#f5f07e 133.5px,#f9cb35 134.5px 141.5px,#f9d346 142.5px,#fcffa4 143.5px 153.5px,#f3f586 154.5px,#f2f482 155.5px 166.5px,#f3f587 167.5px,#f5f992 168.5px 184.5px,#f4f68b 185.5px,#f1f179 186.5px 211.5px,#f3f380 212.5px,#f8fb9a 213.5px 250.5px,#fefef1 251.5px);top:136px;height:4px"><i style="opacity:.336"></i></div>
<div class="r" style="--g:linear-gradient(90deg,#fcfdde 0.5px,#f4f88e 1.5px 3.5px,#f3f68a 4.5px 6.5px,#f3f688 7.5px,#f3f586 8.5px,#f3f585 9.5px,#f2f482 10.5px 12.5px,#f2f27e 13.5px,#f2f27d 14.5px,#f1f179 15.5px 16.5px,#f1ef75 17.5px,#f1ef74 18.5px,#f1ed70 19.5px,#f1ec6d 20.5px 21.5px,#f2ea69 22.5px,#f2e966 23.5px,#f2e762 24.5px,#f2e65f 25.5px,#f3e45c 26.5px,#f3e35a 27.5px,#f4e055 28.5px,#f4de51 29.5px,#f5db4d 30.5px,#f5d949 31.5px,#f6d645 32.5px,#f7d33f 33.5px,#f7d13d 34.5px,#f8cc36 35.5px,#f9c72f 36.5px,#fac52c 37.5px,#fbbc21 38.5px,#fbb81d 39.5px,#fcb216 40.5px,#fca60d 41.5px,#f9920c 42.5px,#f8850f 43.5px,#231305 44.5px,#000004 45.5px,#965309 46.5px,#f8890c 47.5px,#fca40c 48.5px,#fcab10 49.5px,#fbba1f 50.5px,#fac128 51.5px,#f9c72f 52.5px,#f9ca33 53.5px,#f7d13d 54.5px,#f6d746 55.5px,#f5db4c 56.5px,#f4de50 57.5px,#f3e35a 58.5px,#f3e35b 59.5px,#f2ea69 60.5px 61.5px,#f1ee73 62.5px,#f1ef75 63.5px 64.5px,#f2f481 65.5px,#f2f482 66.5px,#f3f688 67.5px,#f3f68a 68.5px 69.5px,#f5f991 70.5px,#f5f992 71.5px,#f5f993 72.5px,#f8fb9a 73.5px 74.5px,#f8fc9c 75.5px,#fafda1 76.5px 77.5px,#fbfea3 78.5px,#fcffa4 79.5px 88.5px,#fbfea2 89.5px,#fafda1 90.5px 92.5px,#f7fb98 93.5px,#f6fa96 94.5px 96.5px,#f5f78e 97.5px,#f1f179 98.5px 101.5px,#f6d749 102.5px,#f8cf3a 103.5px 105.5px,#f9c932 106.5px,#fbb61a 107.5px 111.5px,#fbb91f 112.5px,#f2f27d 113.5px 117.5px,#f6f78d 118.5px,#fcffa4 119.5px 124.5px,#fcfea4 125.5px,#f8fb9a 126.5px 132.5px,#cbce7e 133.5px,#000004 134.5px 141.5px,#28281d 142.5px,#fcffa4 143.5px 153.5px,#f6df57 154.5px,#f5db4c 155.5px 166.5px,#f4de52 167.5px,#f3e55d 168.5px 184.5px,#aca243 185.5px,#000004 186.5px 211.5px,#373724 212.5px,#f8fb9a 213.5px 250.5px,#fefef1 251.5px);top:140px;height:3px"><i style="opacity:.923"></i></div>
<div class="r" style="--g:linear-gradient(90deg,#fcfddf 0.5px,#f5f991 1.5px,#f4f88e 2.5px 4.5px,#f4f78d 5.5px,#f3f68a 6.5px 8.5px,#f3f586 9.5px 11.5px,#f2f482 12.5px 13.5px,#f2f381 14.5px,#f2f27d 15.5px 16.5px,#f1f179 17.5px,#f1f078 18.5px,#f1ef74 19.5px,#f1ed71 20.5px 21.5px,#f1ec6d 22.5px,#f2ea6a 23.5px,#f2e966 24.5px,#f2e763 25.5px,#f2e660 26.5px,#f3e55d 27.5px,#f3e35b 28.5px,#f3e258 29.5px,#f4df53 30.5px,#f4dd4f 31.5px,#f5dc4d 32.5px,#f6d948 33.5px,#f6d746 34.5px,#f7d23e 35.5px,#f8ce39 36.5px,#f8cd37 37.5px,#fac62d 38.5px,#fac329 39.5px,#fbbe23 40.5px,#fbb61b 41.5px,#fcaa0f 42.5px,#fca309 43.5px,#f98b0d 44.5px,#f8870e 45.5px,#623608 46.5px,#000004 47.5px,#e37e0a 48.5px,#f9910c 49.5px,#fca80d 50.5px,#fcb216 51.5px,#fbba1f 52.5px,#fbbd23 53.5px,#f9c72f 54.5px,#f8ce39 55.5px,#f7d340 56.5px,#f6d645 57.5px,#f4dd4f 58.5px,#f4de50 59.5px,#f3e55d 60.5px 61.5px,#f2ea6a 62.5px,#f1ec6d 63.5px 64.5px,#f1f179 65.5px 66.5px,#f2f482 67.5px,#f3f586 68.5px 69.5px,#f4f78d 70.5px,#f4f88e 71.5px,#f4f88f 72.5px,#f6fa96 73.5px 74.5px,#f7fb98 75.5px,#f9fc9d 76.5px 77.5px,#fafd9f 78.5px,#fafda1 79.5px 80.5px,#fbfea1 81.5px,#fcffa4 82.5px 92.5px,#f9fc9c 93.5px,#f8fb9a 94.5px 96.5px,#f6f994 97.5px,#f3f586 98.5px 101.5px,#f3e661 102.5px,#f4e156 103.5px 105.5px,#b6a841 106.5px,#000004 107.5px 111.5px,#0c0c08 112.5px,#f2e865 113.5px 117.5px,#f5f07c 118.5px,#f9fc9d 119.5px 124.5px,#f9fc9e 125.5px,#fafda1 126.5px 132.5px,#faf48d 133.5px,#f9cb35 134.5px 141.5px,#f9d345 142.5px,#f9fc9d 143.5px 153.5px,#1f1f16 154.5px,#000004 155.5px 184.5px,#474626 185.5px,#f1f179 186.5px 211.5px,#bdbc5f 212.5px,#000004 213.5px 250.5px,#dddddd 251.5px);top:143px;height:3px"><i style="opacity:.510"></i></div>
<div class="r" style="--g:linear-gradient(90deg,#fcfddf 0.5px,#f5f992 1.5px 3.5px,#f4f88e 4.5px 6.5px,#f4f78c 7.5px,#f3f68a 8.5px 9.5px,#f3f689 10.5px,#f3f586 11.5px 12.5px,#f3f584 13.5px,#f2f482 14.5px 16.5px,#f2f27e 17.5px,#f2f27c 18.5px,#f1f079 19.5px,#f1ef75 20.5px 21.5px,#f1ee71 22.5px,#f1ed71 23.5px,#f1ec6e 24.5px,#f2eb6b 25.5px,#f2e967 26.5px,#f2e865 27.5px,#f2e762 28.5px,#f2e55f 29.5px,#f3e35a 30.5px,#f4e156 31.5px,#f4df54 32.5px,#f5dd4f 33.5px,#f5db4c 34.5px,#f6d846 35.5px,#f7d441 36.5px,#f7d33f 37.5px,#f8cd37 38.5px,#f9cb34 39.5px,#f9c72f 40.5px,#fac229 41.5px,#fbb91e 42.5px,#fcb418 43.5px,#fca70c 44.5px,#fca50a 45.5px,#fa940b 46.5px,#f8890c 47.5px,#160c04 48.5px,#371f05 49.5px,#f98b0b 50.5px,#fa9a0c 51.5px,#fca80d 52.5px,#fcae13 53.5px,#fbbc21 54.5px,#fac42b 55.5px,#f9c932 56.5px,#f8cd37 57.5px,#f6d543 58.5px,#f6d644 59.5px,#f4df53 60.5px 61.5px,#f3e55e 62.5px,#f2e661 63.5px 64.5px,#f1ec6d 65.5px 66.5px,#f2f079 67.5px,#f2f27d 68.5px 69.5px,#f3f585 70.5px,#f3f586 71.5px,#f3f587 72.5px,#f5f992 73.5px 74.5px,#f6fa94 75.5px,#f8fb9a 76.5px 77.5px,#f9fc9d 78.5px,#fafda1 79.5px 80.5px,#fbfea1 81.5px,#fcffa4 82.5px 92.5px,#fbfea2 93.5px,#fafda1 94.5px 96.5px,#f9fc9d 97.5px,#f5f992 98.5px 101.5px,#f2ef75 102.5px,#f1ec6d 103.5px 105.5px,#f4de58 106.5px,#fbb61a 107.5px 111.5px,#fbb81d 112.5px,#f6d746 113.5px 117.5px,#f6e565 118.5px,#f5f992 119.5px 124.5px,#f6f993 125.5px,#fcffa4 126.5px 132.5px,#fafa98 133.5px,#f2e661 134.5px 141.5px,#f3e968 142.5px,#f4f88e 143.5px 153.5px,#f5df54 154.5px,#f5db4c 155.5px 166.5px,#f4de52 167.5px,#f3e55d 168.5px 184.5px,#f5ec71 185.5px,#fafda1 186.5px 211.5px,#fafd9f 212.5px,#f8fb9a 213.5px 250.5px,#fefef1 251.5px);top:146px;height:4px"><i style="opacity:.097"></i></div>
<div class="r" style="--g:linear-gradient(90deg,#fcfddf 0.5px,#f5f992 1.5px 4.5px,#f5f991 5.5px,#f4f88e 6.5px 8.5px,#f4f78a 9.5px,#f3f68a 10.5px 12.5px,#f3f586 13.5px 14.5px,#f2f483 15.5px,#f2f482 16.5px,#f2f380 17.5px,#f2f27d 18.5px 19.5px,#f1f179 20.5px 21.5px,#f1ef76 22.5px,#f1ef75 23.5px,#f1ee72 24.5px,#f1ed6f 25.5px,#f2eb6b 26.5px,#f2ea69 27.5px,#f2e966 28.5px,#f2e763 29.5px,#f2e65f 30.5px,#f3e55d 31.5px,#f3e35b 32.5px,#f4e156 33.5px,#f4df53 34.5px,#f4dd50 35.5px,#f5da4a 36.5px,#f6d948 37.5px,#f7d340 38.5px,#f7d23e 39.5px,#f8cf3a 40.5px,#f9ca33 41.5px,#fac32a 42.5px,#fac026 43.5px,#fbb61a 44.5px,#fcb418 45.5px,#fcab10 46.5px,#fca50a 47.5px,#f98d0b 48.5px,#c26c09 49.5px,#000004 50.5px,#844a07 51.5px,#f98c0a 52.5px,#fa950b 53.5px,#fcaa0f 54.5px,#fbb61b 55.5px,#fbbe23 56.5px,#fac229 57.5px,#f9cb35 58.5px,#f8cc36 59.5px,#f6d746 60.5px 61.5px,#f4df53 62.5px,#f4e156 63.5px 64.5px,#f2e865 65.5px 66.5px,#f1ec6e 67.5px,#f1ed71 68.5px 69.5px,#f2f27c 70.5px,#f2f27d 71.5px,#f2f27f 72.5px,#f3f68a 73.5px 74.5px,#f4f78d 75.5px,#f6fa96 76.5px 77.5px,#f8fb99 78.5px,#f9fc9d 79.5px 80.5px,#f9fc9e 81.5px,#fafda1 82.5px 84.5px,#fcfea3 85.5px,#fcffa4 86.5px 96.5px,#fbfea1 97.5px,#f8fb9a 98.5px 101.5px,#f3f484 102.5px,#f2f27d 103.5px 105.5px,#f3ea6e 106.5px,#f7d340 107.5px 111.5px,#f7d23e 112.5px,#fbba1f 113.5px 117.5px,#f8d249 118.5px,#f3f586 119.5px 124.5px,#f3f688 125.5px,#fcffa4 126.5px 132.5px,#fafd9e 133.5px,#f2f482 134.5px 141.5px,#f2f37f 142.5px,#f1ed71 143.5px 153.5px,#f2f37f 154.5px,#f2f482 155.5px 166.5px,#f3f587 167.5px,#f5f992 168.5px 184.5px,#f7fa96 185.5px,#fafda1 186.5px 211.5px,#fafd9f 212.5px,#f8fb9a 213.5px 250.5px,#fefef1 251.5px);top:150px;height:3px"><i style="opacity:.684"></i></div>
<div class="r" style="--g:linear-gradient(90deg,#fdfee1 0.5px,#f6fa96 1.5px 2.5px,#f5f992 3.5px 6.5px,#f5f890 7.5px,#f4f88e 8.5px 11.5px,#f3f68a 12.5px 13.5px,#f3f689 14.5px,#f3f586 15.5px 16.5px,#f2f484 17.5px,#f2f482 18.5px,#f2f381 19.5px,#f2f27d 20.5px 21.5px,#f1f17a 22.5px,#f1f179 23.5px,#f1f077 24.5px,#f1ee73 25.5px,#f1ed71 26.5px 27.5px,#f1ec6e 28.5px,#f2eb6b 29.5px,#f2e967 30.5px,#f2e865 31.5px,#f2e762 32.5px,#f3e45d 33.5px,#f3e35a 34.5px,#f3e156 35.5px,#f4de51 36.5px,#f5dd4f 37.5px,#f5d949 38.5px,#f6d847 39.5px,#f6d543 40.5px,#f7d13d 41.5px,#f8cc36 42.5px,#f9c932 43.5px,#fac329 44.5px,#fac228 45.5px,#fbba20 46.5px,#fbb61a 47.5px,#fca80d 48.5px,#fba00c 49.5px,#f98b0b 50.5px,#764207 51.5px,#000004 52.5px,#442705 53.5px,#f98e09 54.5px,#fba00d 55.5px,#fcac11 56.5px,#fbb217 57.5px,#fac026 58.5px,#fac127 59.5px,#f8cd37 60.5px 61.5px,#f6d746 62.5px,#f5d949 63.5px 64.5px,#f4e156 65.5px 66.5px,#f2e864 67.5px,#f2ea69 68.5px 69.5px,#f1ef74 70.5px,#f1ef75 71.5px,#f1ef76 72.5px,#f2f482 73.5px 74.5px,#f3f585 75.5px,#f4f88e 76.5px 77.5px,#f5f991 78.5px,#f6fa96 79.5px 80.5px,#f7fa96 81.5px,#f9fc9d 82.5px 84.5px,#fbfea2 85.5px,#fcffa4 86.5px 96.5px,#fbfea2 97.5px,#f9fc9d 98.5px 101.5px,#f5f991 102.5px,#f4f88e 103.5px 105.5px,#f4f381 106.5px,#f3e55d 107.5px 111.5px,#e6d959 112.5px,#000004 113.5px 117.5px,#63612f 118.5px,#f1ec6d 119.5px 124.5px,#f2ed71 125.5px,#fafda1 126.5px 132.5px,#fafd9f 133.5px,#f6fa96 134.5px 141.5px,#f7f488 142.5px,#f7d13d 143.5px 153.5px,#f8f68e 154.5px,#f8fb9a 155.5px 166.5px,#f9fc9d 167.5px,#fcffa4 168.5px 184.5px,#f9fa98 185.5px,#f1f179 186.5px 211.5px,#bdbc5f 212.5px,#000004 213.5px 250.5px,#dddddd 251.5px);top:153px;height:4px"><i style="opacity:.271"></i></div>
<div class="r" style="--g:linear-gradient(90deg,#fdfee1 0.5px,#f6fa96 1.5px 3.5px,#f6fa94 4.5px,#f5f992 5.5px 8.5px,#f4f88f 9.5px,#f4f88e 10.5px 12.5px,#f4f78d 13.5px,#f3f68a 14.5px 16.5px,#f3f586 17.5px 18.5px,#f3f585 19.5px,#f2f482 20.5px 21.5px,#f2f27e 22.5px,#f2f27d 23.5px,#f2f17b 24.5px,#f1f077 25.5px,#f1ef75 26.5px 27.5px,#f1ee72 28.5px,#f1ec6f 29.5px,#f2eb6b 30.5px,#f2ea69 31.5px,#f2e966 32.5px,#f2e763 33.5px,#f2e661 34.5px,#f3e55e 35.5px,#f3e258 36.5px,#f4e156 37.5px,#f4df53 38.5px,#f4dd50 39.5px,#f5db4c 40.5px,#f6d848 41.5px,#f7d441 42.5px,#f7d13d 43.5px,#f8cc36 44.5px,#f9cb35 45.5px,#f9c72e 46.5px,#fac42a 47.5px,#fbb91e 48.5px,#fbb419 49.5px,#fca80d 50.5px,#fa9a0b 51.5px,#f98c0a 52.5px,#b66608 53.5px,#000004 54.5px,#915406 55.5px,#fa9008 56.5px,#fa9a0b 57.5px,#fcae12 58.5px,#fcaf14 59.5px,#fac228 60.5px 61.5px,#f8cd37 62.5px,#f8cf3a 63.5px 64.5px,#f5db4c 65.5px 66.5px,#f4e156 67.5px,#f3e35a 68.5px 69.5px,#f2eb6b 70.5px,#f1ec6d 71.5px,#f1ec6e 72.5px,#f1f179 73.5px 74.5px,#f2f27d 75.5px,#f3f586 76.5px 77.5px,#f4f78b 78.5px,#f5f992 79.5px 81.5px,#f8fb9a 82.5px 84.5px,#fafd9f 85.5px,#fafda1 86.5px 88.5px,#fcfea4 89.5px,#fcffa4 90.5px 96.5px,#fcfea3 97.5px,#fafda1 98.5px 101.5px,#f7fb98 102.5px,#f6fa96 103.5px 105.5px,#f5f78d 106.5px,#f1ef75 107.5px 111.5px,#f2ec71 112.5px,#fbba1f 113.5px 117.5px,#f8c833 118.5px,#f4dd4f 119.5px 124.5px,#f5df55 125.5px,#f8fb9a 126.5px 132.5px,#f8fc9b 133.5px,#fafda1 134.5px 141.5px,#d3d688 142.5px,#000004 143.5px 153.5px,#dddf91 154.5px,#fcffa4 155.5px 184.5px,#b3b475 185.5px,#000004 186.5px 211.5px,#373724 212.5px,#f8fb9a 213.5px 250.5px,#fefef1 251.5px);top:157px;height:3px"><i style="opacity:.858"></i></div>
<div class="r" style="--g:linear-gradient(90deg,#fdfee1 0.5px,#f6fa96 1.5px 6.5px,#f6f994 7.5px,#f5f992 8.5px 11.5px,#f4f88e 12.5px 14.5px,#f4f78b 15.5px,#f3f68a 16.5px 17.5px,#f3f689 18.5px,#f3f586 19.5px 20.5px,#f2f482 21.5px 23.5px,#f2f37f 24.5px,#f2f27d 25.5px,#f2f27c 26.5px,#f1f179 27.5px,#f1f076 28.5px,#f1ef75 29.5px,#f1ee73 30.5px,#f1ed71 31.5px,#f1ec6e 32.5px,#f2eb6a 33.5px,#f2ea69 34.5px,#f2e865 35.5px,#f2e55f 36.5px,#f3e45d 37.5px,#f3e35a 38.5px,#f3e157 39.5px,#f4df53 40.5px,#f4de50 41.5px,#f5da4a 42.5px,#f6d746 43.5px,#f7d441 44.5px,#f7d340 45.5px,#f8cf39 46.5px,#f9cb35 47.5px,#fac42b 48.5px,#fac128 49.5px,#fbba1f 50.5px,#fcb116 51.5px,#fca80d 52.5px,#fba10c 53.5px,#f98e09 54.5px,#693c06 55.5px,#000004 56.5px,#512f05 57.5px,#fa9207 58.5px,#fa9408 59.5px,#fcb014 60.5px 61.5px,#fac026 62.5px,#fac42a 63.5px 64.5px,#f7d13d 65.5px 66.5px,#f5da4a 67.5px,#f4dd4f 68.5px 69.5px,#f3e45c 70.5px,#f3e55d 71.5px,#f3e55f 72.5px,#f1ed71 73.5px 74.5px,#f1ef74 75.5px,#f2f27d 76.5px 77.5px,#f2f483 78.5px,#f3f68a 79.5px 80.5px,#f4f78b 81.5px,#f6fa96 82.5px 84.5px,#f8fc9b 85.5px,#f9fc9d 86.5px 88.5px,#fbfea3 89.5px,#fcffa4 90.5px 101.5px,#fafd9f 102.5px,#f9fc9d 103.5px 105.5px,#f7fa97 106.5px,#f3f586 107.5px 111.5px,#f3f382 112.5px,#f6d746 113.5px 117.5px,#f8ce39 118.5px,#fac026 119.5px 124.5px,#fac42e 125.5px,#f4f88e 126.5px 132.5px,#f6f992 133.5px,#fcffa4 134.5px 141.5px,#fbf794 142.5px,#f7d13d 143.5px 153.5px,#fbf998 154.5px,#fcffa4 155.5px 166.5px,#fafd9e 167.5px,#f5f992 168.5px 184.5px,#f4f68b 185.5px,#f1f179 186.5px 211.5px,#f3f380 212.5px,#f8fb9a 213.5px 250.5px,#fefef1 251.5px);top:160px;height:3px"><i style="opacity:.445"></i></div>
<div class="r" style="--g:linear-gradient(90deg,#fdfee2 0.5px,#f8fb9a 1.5px,#f8fb99 2.5px,#f6fa96 3.5px 8.5px,#f5f993 9.5px,#f5f992 10.5px 12.5px,#f5f891 13.5px,#f4f88e 14.5px 16.5px,#f4f78c 17.5px,#f3f68a 18.5px 20.5px,#f3f586 21.5px 22.5px,#f2f483 23.5px,#f2f482 24.5px,#f2f380 25.5px,#f2f27d 26.5px 27.5px,#f2f17b 28.5px,#f1f179 29.5px,#f1f077 30.5px,#f1ef75 31.5px,#f1ee72 32.5px,#f1ec6e 33.5px,#f1ec6d 34.5px,#f2ea69 35.5px,#f2e966 36.5px,#f2e865 37.5px,#f2e661 38.5px,#f2e660 39.5px,#f3e55d 40.5px,#f3e258 41.5px,#f4df52 42.5px,#f4dd4f 43.5px,#f5da4a 44.5px,#f5d949 45.5px,#f6d643 46.5px,#f7d340 47.5px,#f8ce38 48.5px,#f8cc35 49.5px,#fac62d 50.5px,#fabf25 51.5px,#fbba1f 52.5px,#fbb61a 53.5px,#fcaa0f 54.5px,#fb9b0b 55.5px,#fa9008 56.5px,#a96107 57.5px,#000004 58.5px,#110a04 59.5px,#fa9207 60.5px 61.5px,#fbac14 62.5px,#fcb216 63.5px 64.5px,#fac52d 65.5px,#fac62d 66.5px,#f8d03b 67.5px,#f7d340 68.5px 69.5px,#f4de51 70.5px,#f4df53 71.5px,#f4e054 72.5px,#f2e661 73.5px 74.5px,#f2e966 75.5px,#f1ef75 76.5px 77.5px,#f2f17b 78.5px,#f2f482 79.5px 81.5px,#f4f88e 82.5px 84.5px,#f7fa96 85.5px,#f8fb9a 86.5px 88.5px,#fafd9f 89.5px,#fafda1 90.5px 92.5px,#fcfea4 93.5px,#fcffa4 94.5px 101.5px,#fbfea2 102.5px,#fafda1 103.5px 105.5px,#f9fc9d 106.5px,#f5f992 107.5px 111.5px,#f5f890 112.5px,#f2e865 113.5px 117.5px,#8f893d 118.5px,#000004 119.5px 124.5px,#13130d 125.5px,#f1f179 126.5px 132.5px,#f3f381 133.5px,#fcffa4 134.5px 141.5px,#fafc9c 142.5px,#f1ed71 143.5px 153.5px,#f7fa95 154.5px,#f8fb9a 155.5px 166.5px,#f6f485 167.5px,#f3e55d 168.5px 184.5px,#f5ec71 185.5px,#fafda1 186.5px 211.5px,#c4c67e 212.5px,#000004 213.5px 250.5px,#dddddd 251.5px);top:163px;height:4px"><i style="opacity:.032"></i></div>
<div class="r" style="--g:linear-gradient(90deg,#fdfee2 0.5px,#f8fb9a 1.5px 4.5px,#f7fb99 5.5px,#f6fa96 6.5px 9.5px,#f6fa95 10.5px,#f5f992 11.5px 14.5px,#f5f88f 15.5px,#f4f88e 16.5px 18.5px,#f4f78d 19.5px,#f3f68a 20.5px 22.5px,#f3f587 23.5px,#f3f586 24.5px,#f2f484 25.5px,#f2f482 26.5px 27.5px,#f2f37f 28.5px,#f2f27d 29.5px,#f2f17c 30.5px,#f1f179 31.5px,#f1ef76 32.5px,#f1ef75 33.5px 34.5px,#f1ee71 35.5px,#f1ec6e 36.5px,#f1ec6c 37.5px,#f2ea69 38.5px,#f2e967 39.5px,#f2e865 40.5px,#f2e660 41.5px,#f3e45b 42.5px,#f3e35a 43.5px,#f4df54 44.5px,#f4df53 45.5px,#f5dd4f 46.5px,#f5db4c 47.5px,#f6d644 48.5px,#f7d441 49.5px,#f8cf3a 50.5px,#f9cb34 51.5px,#f9c72f 52.5px,#fac42c 53.5px,#fbbc21 54.5px,#fcb318 55.5px,#fcac11 56.5px,#fba40e 57.5px,#fa9207 58.5px,#e98807 59.5px,#000004 60.5px 61.5px,#cb7806 62.5px,#fa9407 63.5px 64.5px,#fcb418 65.5px 66.5px,#fac229 67.5px,#f9c72f 68.5px 69.5px,#f7d441 70.5px,#f6d543 71.5px,#f6d645 72.5px,#f4e156 73.5px 74.5px,#f3e35b 75.5px,#f2ea69 76.5px 77.5px,#f2ed70 78.5px,#f1f179 79.5px 80.5px,#f2f17a 81.5px,#f3f586 82.5px 84.5px,#f4f88e 85.5px,#f5f992 86.5px 88.5px,#f8fb9a 89.5px,#f9fc9d 90.5px 92.5px,#fbfea3 93.5px,#fcffa4 94.5px 105.5px,#fbfea2 106.5px,#f8fb9a 107.5px 111.5px,#f7fb98 112.5px,#f2f27d 113.5px 117.5px,#f5dd59 118.5px,#fac026 119.5px 124.5px,#fac229 125.5px,#f4e156 126.5px 132.5px,#f5e664 133.5px,#fafda1 134.5px 141.5px,#f9fd9e 142.5px,#f4f88e 143.5px 153.5px,#f2f483 154.5px,#f2f482 155.5px 166.5px,#a0a157 167.5px,#000004 168.5px 184.5px,#494a32 185.5px,#fafda1 186.5px 211.5px,#fafd9f 212.5px,#f8fb9a 213.5px 250.5px,#fefef1 251.5px);top:167px;height:3px"><i style="opacity:.619"></i></div>
<div class="r" style="--g:linear-gradient(90deg,#fdfee2 0.5px,#f8fb9a 1.5px 7.5px,#f6fa96 8.5px 12.5px,#f6fa95 13.5px,#f5f992 14.5px 16.5px,#f5f890 17.5px,#f4f88e 18.5px 21.5px,#f4f68a 22.5px,#f3f68a 23.5px 24.5px,#f3f688 25.5px,#f3f586 26.5px 27.5px,#f2f483 28.5px,#f2f482 29.5px,#f2f380 30.5px,#f2f27d 31.5px 32.5px,#f2f17b 33.5px,#f1f179 34.5px,#f1ef75 35.5px,#f1ee72 36.5px,#f1ed71 37.5px,#f1ec6d 38.5px,#f2eb6b 39.5px,#f2ea69 40.5px,#f2e966 41.5px,#f2e763 42.5px,#f2e661 43.5px,#f3e35b 44.5px,#f3e35a 45.5px,#f4e055 46.5px,#f4df53 47.5px,#f5db4d 48.5px,#f5da4b 49.5px,#f6d746 50.5px,#f7d441 51.5px,#f7d13d 52.5px,#f8cf39 53.5px,#f9c72f 54.5px,#fac228 55.5px,#fbbe23 56.5px,#fbb91e 57.5px,#fcae12 58.5px,#fcac12 59.5px,#fa9207 60.5px 61.5px,#2f1c04 62.5px,#000004 63.5px 64.5px,#f99406 65.5px,#fb9606 66.5px,#fbad15 67.5px,#fbb61a 68.5px 69.5px,#f9c830 70.5px,#f9c932 71.5px,#f9cb34 72.5px,#f6d746 73.5px 74.5px,#f5da4b 75.5px,#f3e35a 76.5px 77.5px,#f2e762 78.5px,#f1ec6d 79.5px 80.5px,#f1ec6e 81.5px,#f2f27d 82.5px 84.5px,#f3f586 85.5px,#f3f68a 86.5px 88.5px,#f6f993 89.5px,#f6fa96 90.5px 92.5px,#fafd9f 93.5px,#fafda1 94.5px 96.5px,#fbfea2 97.5px,#fcffa4 98.5px 105.5px,#fcfea4 106.5px,#fafda1 107.5px 111.5px,#fafda0 112.5px,#f4f88e 113.5px 117.5px,#f4ed74 118.5px,#f4dd4f 119.5px 124.5px,#f5db4d 125.5px,#fac62d 126.5px 132.5px,#f9cf40 133.5px,#f6fa96 134.5px 141.5px,#f7fa97 142.5px,#f9fc9d 143.5px 153.5px,#f5df56 154.5px,#f5db4c 155.5px 166.5px,#f4de52 167.5px,#f3e55d 168.5px 184.5px,#f2e865 185.5px,#f1f179 186.5px 211.5px,#f3f380 212.5px,#f8fb9a 213.5px 250.5px,#fefef1 251.5px);top:170px;height:4px"><i style="opacity:.206"></i></div>
<div class="r" style="--g:linear-gradient(90deg,#fdfee3 0.5px,#f9fc9d 1.5px,#f8fb9a 2.5px 8.5px,#f7fb99 9.5px,#f6fa96 10.5px 14.5px,#f6f993 15.5px,#f5f992 16.5px 20.5px,#f4f88e 21.5px 23.5px,#f4f78b 24.5px,#f3f68a 25.5px 27.5px,#f3f587 28.5px,#f3f586 29.5px,#f2f484 30.5px,#f2f482 31.5px 32.5px,#f2f37f 33.5px,#f2f27d 34.5px,#f1f17a 35.5px,#f1f179 36.5px,#f1f079 37.5px,#f1ef75 38.5px,#f1ee73 39.5px,#f1ed71 40.5px,#f1ec6e 41.5px,#f2eb6b 42.5px,#f2ea69 43.5px,#f2e762 44.5px,#f2e661 45.5px,#f2e55f 46.5px,#f3e55d 47.5px,#f3e157 48.5px,#f4e055 49.5px,#f4dd4f 50.5px,#f5da4a 51.5px,#f6d746 52.5px,#f6d643 53.5px,#f7d13d 54.5px,#f8cd37 55.5px,#f9c932 56.5px,#f9c62e 57.5px,#fac026 58.5px,#fbbf24 59.5px,#fcb014 60.5px 61.5px,#fb9909 62.5px,#fa9407 63.5px 64.5px,#020104 65.5px,#000004 66.5px,#b96f05 67.5px,#fb9706 68.5px 69.5px,#fbb51b 70.5px,#fbb81d 71.5px,#fbba1f 72.5px,#f9cb35 73.5px 74.5px,#f8cf3a 75.5px,#f5d949 76.5px 77.5px,#f4de52 78.5px,#f3e55d 79.5px 80.5px,#f3e55f 81.5px,#f1ed71 82.5px 84.5px,#f2f27c 85.5px,#f2f482 86.5px 88.5px,#f4f78b 89.5px,#f4f88e 90.5px 92.5px,#f7fa97 93.5px,#f8fb9a 94.5px 96.5px,#f8fc9c 97.5px,#fafda1 98.5px 101.5px,#fcfea4 102.5px,#fcffa4 103.5px 111.5px,#fcfea4 112.5px,#f8fb9a 113.5px 117.5px,#f5f587 118.5px,#f1ec6d 119.5px 124.5px,#dfd965 125.5px,#000004 126.5px 132.5px,#2c2c1a 133.5px,#f2f482 134.5px 141.5px,#f4f587 142.5px,#fcffa4 143.5px 153.5px,#1f1f17 154.5px,#000004 155.5px 166.5px,#545534 167.5px,#f5f992 168.5px 184.5px,#aeb068 185.5px,#000004 186.5px 250.5px,#dddddd 251.5px);top:174px;height:3px"><i style="opacity:.793"></i></div>
<div class="r" style="--g:linear-gradient(90deg,#fdfee3 0.5px,#f9fc9d 1.5px 4.5px,#f9fc9c 5.5px,#f8fb9a 6.5px 12.5px,#f7fa96 13.5px,#f6fa96 14.5px 17.5px,#f6fa95 18.5px,#f5f992 19.5px 22.5px,#f5f88f 23.5px,#f4f88e 24.5px 25.5px,#f4f78c 26.5px,#f3f68a 27.5px 29.5px,#f3f688 30.5px,#f3f586 31.5px 32.5px,#f2f483 33.5px,#f2f482 34.5px 35.5px,#f2f27e 36.5px,#f2f27d 37.5px,#f1f179 38.5px,#f1f078 39.5px,#f1ef75 40.5px 41.5px,#f1ee73 42.5px,#f1ed71 43.5px,#f2ea6a 44.5px,#f2ea69 45.5px,#f2e966 46.5px,#f2e865 47.5px,#f2e761 48.5px,#f2e65f 49.5px,#f3e35a 50.5px,#f4e156 51.5px,#f4df53 52.5px,#f4dd50 53.5px,#f5d949 54.5px,#f6d644 55.5px,#f7d340 56.5px,#f7d13c 57.5px,#f9cb35 58.5px,#f9cb34 59.5px,#fac228 60.5px 61.5px,#fbb51a 62.5px,#fcb216 63.5px 64.5px,#fb9606 65.5px 66.5px,#432804 67.5px,#000004 68.5px 69.5px,#e68c06 70.5px,#fb9906 71.5px,#fb9c08 72.5px,#fbba1f 73.5px 74.5px,#fabf26 75.5px,#f8cd37 76.5px 77.5px,#f7d441 78.5px,#f5db4c 79.5px 80.5px,#f5dc4d 81.5px,#f2e661 82.5px 84.5px,#f2ec6f 85.5px,#f1ef75 86.5px 88.5px,#f2f381 89.5px,#f3f586 90.5px 92.5px,#f6f992 93.5px,#f6fa96 94.5px 96.5px,#f7fb98 97.5px,#f9fc9d 98.5px 101.5px,#fbfea3 102.5px,#fcffa4 103.5px 112.5px,#fafda1 113.5px 117.5px,#f7fa96 118.5px,#f3f586 119.5px 124.5px,#f3f17f 125.5px,#fac62d 126.5px 132.5px,#f8cb36 133.5px,#f2e661 134.5px 141.5px,#f4ea6c 142.5px,#fcffa4 143.5px 153.5px,#f6df57 154.5px,#f5db4c 155.5px 166.5px,#f7e76a 167.5px,#fcffa4 168.5px 184.5px,#f9fa98 185.5px,#f1f179 186.5px 211.5px,#f3f380 212.5px,#f8fb9a 213.5px 250.5px,#fefef1 251.5px);top:177px;height:4px"><i style="opacity:.380"></i></div>
<div class="r" style="--g:linear-gradient(90deg,#fdfee3 0.5px,#f9fc9d 1.5px 7.5px,#f8fb9a 8.5px 14.5px,#f7fb97 15.5px,#f6fa96 16.5px 20.5px,#f5f992 21.5px 24.5px,#f5f890 25.5px,#f4f88e 26.5px 28.5px,#f4f78c 29.5px,#f3f68a 30.5px 32.5px,#f3f687 33.5px,#f3f586 34.5px 35.5px,#f2f483 36.5px,#f2f381 37.5px,#f2f27d 38.5px 40.5px,#f2f17a 41.5px,#f1f077 42.5px,#f1ef75 43.5px,#f1ee71 44.5px,#f1ed71 45.5px,#f1ec6e 46.5px,#f1ec6d 47.5px,#f2ea69 48.5px,#f2e967 49.5px,#f2e661 50.5px,#f2e55f 51.5px,#f3e55d 52.5px,#f3e45b 53.5px,#f4e156 54.5px,#f4dd50 55.5px,#f5db4c 56.5px,#f5d949 57.5px,#f6d543 58.5px,#f7d542 59.5px,#f8cd37 60.5px 61.5px,#fac52d 62.5px,#fac42a 63.5px 64.5px,#fcb419 65.5px,#fcb418 66.5px,#fb9f0b 67.5px,#fb9706 68.5px 69.5px,#160d04 70.5px,#000004 71.5px,#180f04 72.5px,#fb9b06 73.5px 74.5px,#fba40e 75.5px,#fbbc21 76.5px 77.5px,#f9c52c 78.5px,#f8cf3a 79.5px 80.5px,#f7d03c 81.5px,#f4dd4f 82.5px 84.5px,#f3e55e 85.5px,#f2e865 86.5px 88.5px,#f2ee74 89.5px,#f1f179 90.5px 92.5px,#f3f586 93.5px,#f3f68a 94.5px 96.5px,#f5f88e 97.5px,#f8fb9a 98.5px 101.5px,#fafd9f 102.5px,#fafda1 103.5px 105.5px,#fbfea2 106.5px,#fcffa4 107.5px 117.5px,#f9fc9d 118.5px,#f5f992 119.5px 124.5px,#f5f78d 125.5px,#f4e156 126.5px 132.5px,#f4dd50 133.5px,#f9cb35 134.5px 141.5px,#f9d345 142.5px,#f9fc9d 143.5px 153.5px,#f3f585 154.5px,#f2f482 155.5px 166.5px,#f6f78d 167.5px,#fcffa4 168.5px 184.5px,#fcfea3 185.5px,#fafda1 186.5px 211.5px,#fafd9f 212.5px,#f8fb9a 213.5px 250.5px,#fefef1 251.5px);top:181px;height:3px"><i style="opacity:.967"></i></div>
<div class="r" style="--g:linear-gradient(90deg,#fdfee3 0.5px,#f9fc9d 1.5px 10.5px,#f8fb9a 11.5px 16.5px,#f7fb98 17.5px,#f6fa96 18.5px 23.5px,#f6f993 24.5px,#f5f992 25.5px 27.5px,#f5f88f 28.5px,#f4f88e 29.5px 31.5px,#f4f78b 32.5px,#f3f68a 33.5px 35.5px,#f3f587 36.5px,#f3f586 37.5px 38.5px,#f2f484 39.5px,#f2f482 40.5px,#f2f37f 41.5px,#f2f27d 42.5px 43.5px,#f1f17a 44.5px,#f1f179 45.5px,#f1f077 46.5px,#f1ef75 47.5px,#f1ed71 48.5px,#f1ed6f 49.5px,#f2ea69 50.5px,#f2e967 51.5px,#f2e865 52.5px,#f2e763 53.5px,#f3e55d 54.5px,#f3e259 55.5px,#f4e156 56.5px,#f4e054 57.5px,#f4dd4f 58.5px,#f5dd4f 59.5px,#f6d746 60.5px 61.5px,#f7d13c 62.5px,#f8cf3a 63.5px 64.5px,#fac62d 65.5px 66.5px,#fbba1f 67.5px,#fbb61a 68.5px 69.5px,#fb9c08 70.5px,#fb9906 71.5px,#e38b06 72.5px,#000004 73.5px 74.5px,#462c05 75.5px,#fc9f07 76.5px 77.5px,#fbad14 78.5px,#fbbe23 79.5px 80.5px,#fabf25 81.5px,#f7d13d 82.5px 84.5px,#f5dc4e 85.5px,#f4e156 86.5px 88.5px,#f2e967 89.5px,#f1ec6d 90.5px 92.5px,#f2f27d 93.5px,#f2f482 94.5px 96.5px,#f3f586 97.5px,#f5f992 98.5px 101.5px,#f8fc9b 102.5px,#f9fc9d 103.5px 105.5px,#fafd9f 106.5px,#fcffa4 107.5px 117.5px,#fbfea2 118.5px,#f9fc9d 119.5px 124.5px,#f8fb9a 125.5px,#f1f179 126.5px 132.5px,#c6c564 133.5px,#000004 134.5px 141.5px,#272719 142.5px,#f4f88e 143.5px 153.5px,#f7fb98 154.5px,#f8fb9a 155.5px 166.5px,#f7fa97 167.5px,#f5f992 168.5px 184.5px,#f7fa96 185.5px,#fafda1 186.5px 211.5px,#c4c67e 212.5px,#000004 213.5px 250.5px,#dddddd 251.5px);top:184px;height:3px"><i style="opacity:.554"></i></div>
<div class="r" style="--g:linear-gradient(90deg,#feffe4 0.5px,#fafda0 1.5px,#f9fc9d 2.5px 12.5px,#f9fc9c 13.5px,#f8fb9a 14.5px 20.5px,#f6fa96 21.5px 25.5px,#f6fa94 26.5px,#f5f992 27.5px 31.5px,#f5f88f 32.5px,#f4f88e 33.5px 34.5px,#f4f68a 35.5px,#f3f68a 36.5px 38.5px,#f3f688 39.5px,#f3f586 40.5px,#f2f483 41.5px,#f2f482 42.5px 43.5px,#f2f27e 44.5px,#f2f27d 45.5px,#f2f17b 46.5px,#f1f179 47.5px,#f1ef75 48.5px,#f1ef74 49.5px,#f1ed71 50.5px,#f1ec6f 51.5px,#f1ec6d 52.5px,#f1eb6c 53.5px,#f2ea69 54.5px,#f2e864 55.5px,#f2e661 56.5px,#f3e55f 57.5px,#f3e35a 58.5px,#f3e259 59.5px,#f4df53 60.5px 61.5px,#f5da4b 62.5px,#f5d949 63.5px 64.5px,#f7d13d 65.5px 66.5px,#f9ca33 67.5px,#f9c72f 68.5px 69.5px,#fbb91e 70.5px,#fbb81d 71.5px,#fbb51a 72.5px,#fb9b06 73.5px 74.5px,#b67005 75.5px,#000004 76.5px 77.5px,#734906 78.5px,#fca108 79.5px 80.5px,#fca30a 81.5px,#fac026 82.5px 84.5px,#f8ce3a 85.5px,#f6d543 86.5px 88.5px,#f4df54 89.5px,#f3e35a 90.5px 92.5px,#f2eb6c 93.5px,#f1ed71 94.5px 96.5px,#f2ef77 97.5px,#f3f586 98.5px 101.5px,#f6f992 102.5px,#f6fa96 103.5px 105.5px,#f7fb99 106.5px,#fafda1 107.5px 111.5px,#fbfea1 112.5px,#fcffa4 113.5px 124.5px,#fbfea3 125.5px,#f4f88e 126.5px 132.5px,#f5f07e 133.5px,#f9cb35 134.5px 141.5px,#f7d13e 142.5px,#f1ed71 143.5px 153.5px,#fbfc9e 154.5px,#fcffa4 155.5px 166.5px,#f9f68c 167.5px,#f3e55d 168.5px 184.5px,#f2e865 185.5px,#f1f179 186.5px 211.5px,#f3f380 212.5px,#f8fb9a 213.5px 250.5px,#fefef1 251.5px);top:187px;height:4px"><i style="opacity:.141"></i></div>
<div class="r" style="--g:linear-gradient(90deg,#feffe4 0.5px,#fafda1 1.5px 4.5px,#fafda0 5.5px,#f9fc9d 6.5px 16.5px,#f8fb9a 17.5px 23.5px,#f7fb97 24.5px,#f6fa96 25.5px 28.5px,#f6f994 29.5px,#f5f992 30.5px 34.5px,#f4f88e 35.5px 37.5px,#f3f68a 38.5px 41.5px,#f3f688 42.5px,#f3f586 43.5px,#f2f482 44.5px 47.5px,#f2f27e 48.5px,#f2f27c 49.5px,#f1f179 50.5px,#f1f077 51.5px,#f1ef75 52.5px,#f1ef74 53.5px,#f1ed71 54.5px,#f2eb6c 55.5px,#f2ea69 56.5px,#f2e967 57.5px,#f2e865 58.5px,#f2e864 59.5px,#f3e55d 60.5px 61.5px,#f3e257 62.5px,#f4e156 63.5px 64.5px,#f5db4c 65.5px 66.5px,#f6d543 67.5px,#f7d340 68.5px 69.5px,#f9ca33 70.5px,#f9c932 71.5px,#f9c830 72.5px,#fbba1f 73.5px 74.5px,#fbb218 75.5px,#fc9f07 76.5px 77.5px,#895705 78.5px,#000004 79.5px 80.5px,#120c04 81.5px,#fca309 82.5px 84.5px,#fab920 85.5px,#fac42a 86.5px 88.5px,#f7d23f 89.5px,#f6d746 90.5px 92.5px,#f3e35b 93.5px,#f2e661 94.5px 96.5px,#f2e968 97.5px,#f1f179 98.5px 101.5px,#f4f689 102.5px,#f4f88e 103.5px 105.5px,#f5f991 106.5px,#f8fb9a 107.5px 112.5px,#fcffa4 113.5px 124.5px,#fcfea4 125.5px,#f8fb9a 126.5px 132.5px,#f7f78f 133.5px,#f2e661 134.5px 141.5px,#f3e35b 142.5px,#f7d13d 143.5px 153.5px,#fbf998 154.5px,#fcffa4 155.5px 166.5px,#a6a86e 167.5px,#000004 168.5px 211.5px,#373724 212.5px,#f8fb9a 213.5px 250.5px,#fefef1 251.5px);top:191px;height:3px"><i style="opacity:.728"></i></div>
<div class="r" style="--g:linear-gradient(90deg,#feffe4 0.5px,#fafda1 1.5px 8.5px,#f9fd9e 9.5px,#f9fc9d 10.5px 19.5px,#f8fb9a 20.5px 25.5px,#f7fb98 26.5px,#f6fa96 27.5px 32.5px,#f6f993 33.5px,#f5f992 34.5px 37.5px,#f4f88e 38.5px 41.5px,#f4f78c 42.5px,#f3f68a 43.5px 45.5px,#f3f587 46.5px,#f3f586 47.5px,#f2f482 48.5px 50.5px,#f2f37f 51.5px,#f2f27d 52.5px,#f2f27c 53.5px,#f1f179 54.5px,#f1f077 55.5px,#f1ef75 56.5px,#f1ee72 57.5px,#f1ec6d 58.5px,#f1ec6c 59.5px,#f2ea69 60.5px 61.5px,#f2e762 62.5px,#f2e661 63.5px 64.5px,#f4e156 65.5px 66.5px,#f4de51 67.5px,#f4dd4f 68.5px 69.5px,#f6d644 70.5px,#f6d543 71.5px,#f7d441 72.5px,#f9cb35 73.5px 74.5px,#f9c72f 75.5px,#fbbc21 76.5px 77.5px,#fbaf16 78.5px,#fca108 79.5px 80.5px,#ea9508 81.5px,#000004 82.5px 84.5px,#ad7209 85.5px,#fca60c 86.5px 88.5px,#fabd24 89.5px,#fac62d 90.5px 92.5px,#f6d745 93.5px,#f5db4c 94.5px 96.5px,#f4df53 97.5px,#f2e865 98.5px 101.5px,#f2f078 102.5px,#f2f27d 103.5px 105.5px,#f3f483 106.5px,#f5f992 107.5px 111.5px,#f6f993 112.5px,#fafda1 113.5px 117.5px,#fbfea2 118.5px,#fcffa4 119.5px 124.5px,#fcfea4 125.5px,#fafda1 126.5px 132.5px,#f9fc9b 133.5px,#f2f482 134.5px 141.5px,#cccd6e 142.5px,#000004 143.5px 153.5px,#d9dc87 154.5px,#f8fb9a 155.5px 166.5px,#f6f485 167.5px,#f3e55d 168.5px 184.5px,#f2e865 185.5px,#f1f179 186.5px 211.5px,#bdbc5f 212.5px,#000004 213.5px 250.5px,#dddddd 251.5px);top:194px;height:4px"><i style="opacity:.315"></i></div>
<div class="r" style="--g:linear-gradient(90deg,#feffe4 0.5px,#fafda1 1.5px 12.5px,#f9fd9e 13.5px,#f9fc9d 14.5px 22.5px,#f8fc9b 23.5px,#f8fb9a 24.5px 29.5px,#f7fb98 30.5px,#f6fa96 31.5px 35.5px,#f6f993 36.5px,#f5f992 37.5px 40.5px,#f5f88f 41.5px,#f4f88e 42.5px 45.5px,#f4f78b 46.5px,#f3f68a 47.5px 48.5px,#f3f689 49.5px,#f3f586 50.5px,#f2f483 51.5px,#f2f482 52.5px,#f2f380 53.5px,#f2f27d 54.5px,#f2f17b 55.5px,#f1f179 56.5px,#f1f078 57.5px,#f1ef75 58.5px 59.5px,#f1ed71 60.5px 61.5px,#f1ec6d 62.5px 64.5px,#f2e865 65.5px 66.5px,#f3e45d 67.5px,#f3e35a 68.5px 69.5px,#f4df53 70.5px 71.5px,#f4de51 72.5px,#f6d746 73.5px 74.5px,#f7d442 75.5px,#f8cd37 76.5px 77.5px,#f9c62e 78.5px,#fbbe23 79.5px 80.5px,#fbbc21 81.5px,#fca309 82.5px 84.5px,#4f3305 85.5px,#000004 86.5px 88.5px,#ba7c0b 89.5px,#fca80d 90.5px 92.5px,#fac32a 93.5px,#f9c932 94.5px 96.5px,#f8cf3a 97.5px,#f4dd4f 98.5px 101.5px,#f2e866 102.5px,#f1ec6d 103.5px 105.5px,#f2ee73 106.5px,#f3f586 107.5px 111.5px,#f3f587 112.5px,#f8fb9a 113.5px 117.5px,#f9fd9e 118.5px,#fcffa4 119.5px 132.5px,#fbfea2 133.5px,#f6fa96 134.5px 141.5px,#f7f488 142.5px,#f7d13d 143.5px 153.5px,#f3ef79 154.5px,#f2f482 155.5px 166.5px,#f3f587 167.5px,#f5f992 168.5px 184.5px,#f7fa96 185.5px,#fafda1 186.5px 211.5px,#fafd9f 212.5px,#f8fb9a 213.5px 250.5px,#fefef1 251.5px);top:198px;height:3px"><i style="opacity:.902"></i></div>
<div class="r" style="--g:linear-gradient(90deg,#feffe4 0.5px,#fafda1 1.5px 14.5px,#fafd9f 15.5px,#f9fc9d 16.5px 25.5px,#f9fc9c 26.5px,#f8fb9a 27.5px 34.5px,#f7fa96 35.5px,#f6fa96 36.5px 40.5px,#f6f993 41.5px,#f5f992 42.5px 45.5px,#f5f88f 46.5px,#f4f88e 47.5px 48.5px,#f4f78d 49.5px,#f3f68a 50.5px,#f3f688 51.5px,#f3f586 52.5px 54.5px,#f2f483 55.5px,#f2f482 56.5px,#f2f380 57.5px,#f2f27d 58.5px 59.5px,#f1f179 60.5px 61.5px,#f1ef76 62.5px,#f1ef75 63.5px 64.5px,#f1ec6d 65.5px 66.5px,#f2ea6a 67.5px,#f2ea69 68.5px 69.5px,#f3e55e 70.5px,#f3e55d 71.5px,#f3e45d 72.5px,#f4e156 73.5px 74.5px,#f4df52 75.5px,#f5d949 76.5px 77.5px,#f6d542 78.5px,#f8cf3a 79.5px 80.5px,#f8ce39 81.5px,#fac026 82.5px 84.5px,#fbae14 85.5px,#fca60c 86.5px 88.5px,#422c06 89.5px,#000004 90.5px 92.5px,#c7880e 93.5px,#fcac11 94.5px 96.5px,#fbb51b 97.5px,#f8cd37 98.5px 101.5px,#f5dc4f 102.5px,#f4e156 103.5px 105.5px,#f3e45e 106.5px,#f1ef75 107.5px 111.5px,#f1ef76 112.5px,#f4f88e 113.5px 117.5px,#f6fa94 118.5px,#f9fc9d 119.5px 124.5px,#f9fd9e 125.5px,#fcffa4 126.5px 132.5px,#fcfea4 133.5px,#fafda1 134.5px 141.5px,#f9fb99 142.5px,#f1ed71 143.5px 153.5px,#f5dd51 154.5px,#f5db4c 155.5px 166.5px,#f7e76a 167.5px,#fcffa4 168.5px 184.5px,#fcfea3 185.5px,#fafda1 186.5px 211.5px,#fafd9f 212.5px,#f8fb9a 213.5px 250.5px,#fefef1 251.5px);top:201px;height:3px"><i style="opacity:.489"></i></div>
<div class="r" style="--g:linear-gradient(90deg,#feffe5 0.5px,#fbfea2 1.5px,#fafda1 2.5px 18.5px,#fafda0 19.5px,#f9fc9d 20.5px 29.5px,#f8fc9c 30.5px,#f8fb9a 31.5px 38.5px,#f7fb98 39.5px,#f6fa96 40.5px 43.5px,#f5f992 44.5px 48.5px,#f5f991 49.5px,#f4f88e 50.5px 52.5px,#f4f78d 53.5px,#f3f68a 54.5px,#f3f687 55.5px,#f3f586 56.5px 58.5px,#f3f585 59.5px,#f2f482 60.5px 61.5px,#f2f27e 62.5px,#f2f27d 63.5px 64.5px,#f1f179 65.5px 66.5px,#f1ee73 67.5px,#f1ed71 68.5px 69.5px,#f1ec6d 70.5px 71.5px,#f2eb6c 72.5px,#f2e661 73.5px 74.5px,#f2e55f 75.5px,#f3e35a 76.5px 77.5px,#f4df53 78.5px,#f5db4c 79.5px 80.5px,#f5da4b 81.5px,#f7d13d 82.5px 84.5px,#f9c830 85.5px,#fac42a 86.5px 88.5px,#fbaf15 89.5px,#fca80d 90.5px 92.5px,#352306 93.5px,#000004 94.5px 96.5px,#463108 97.5px,#fcae12 98.5px 101.5px,#f9c831 102.5px,#f8cf3a 103.5px 105.5px,#f6d543 106.5px,#f3e55d 107.5px 111.5px,#f3e55f 112.5px,#f2f27d 113.5px 117.5px,#f3f586 118.5px,#f5f992 119.5px 124.5px,#f6f993 125.5px,#fafda1 126.5px 132.5px,#fbfea2 133.5px,#fcffa4 134.5px 141.5px,#fbfda1 142.5px,#f4f88e 143.5px 153.5px,#1e1f15 154.5px,#000004 155.5px 166.5px,#56573a 167.5px,#fcffa4 168.5px 184.5px,#f9fa98 185.5px,#f1f179 186.5px 211.5px,#bdbc5f 212.5px,#000004 213.5px 250.5px,#dddddd 251.5px);top:204px;height:4px"><i style="opacity:.076"></i></div>
<div class="r" style="--g:linear-gradient(90deg,#feffe5 0.5px,#fcffa4 1.5px 4.5px,#fcfea4 5.5px,#fafda1 6.5px 23.5px,#fafd9f 24.5px,#f9fc9d 25.5px 34.5px,#f8fb9a 35.5px 41.5px,#f7fb97 42.5px,#f6fa96 43.5px 48.5px,#f6fa95 49.5px,#f5f992 50.5px 52.5px,#f5f991 53.5px,#f4f88e 54.5px 56.5px,#f4f78d 57.5px,#f3f68a 58.5px 59.5px,#f3f586 60.5px 64.5px,#f2f482 65.5px 66.5px,#f2f27e 67.5px,#f2f27d 68.5px 69.5px,#f1ef76 70.5px,#f1ef75 71.5px 72.5px,#f1ed71 73.5px 74.5px,#f1ec6f 75.5px,#f2ea69 76.5px 77.5px,#f2e763 78.5px,#f3e55d 79.5px 80.5px,#f3e45c 81.5px,#f4dd4f 82.5px 84.5px,#f6d847 85.5px,#f6d543 86.5px 88.5px,#f9ca33 89.5px,#fac62d 90.5px 92.5px,#fbb117 93.5px,#fcac11 94.5px 96.5px,#b67c0d 97.5px,#000004 98.5px 101.5px,#c18812 102.5px,#fcb216 103.5px 105.5px,#faba21 106.5px,#f7d340 107.5px 111.5px,#f7d442 112.5px,#f2e865 113.5px 117.5px,#f2ed72 118.5px,#f3f586 119.5px 124.5px,#f3f587 125.5px,#f8fb9a 126.5px 132.5px,#f8fc9c 133.5px,#fcffa4 134.5px 141.5px,#fcfea3 142.5px,#f9fc9d 143.5px 153.5px,#f5df56 154.5px,#f5db4c 155.5px 166.5px,#f5e564 167.5px,#f5f992 168.5px 184.5px,#aeb068 185.5px,#000004 186.5px 211.5px,#373724 212.5px,#f8fb9a 213.5px 250.5px,#fefef1 251.5px);top:208px;height:3px"><i style="opacity:.663"></i></div>
<div class="r" style="--g:linear-gradient(90deg,#feffe5 0.5px,#fcffa4 1.5px 8.5px,#fcfea4 9.5px,#fafda1 10.5px 28.5px,#fafd9f 29.5px,#f9fc9d 30.5px 38.5px,#f9fc9c 39.5px,#f8fb9a 40.5px 47.5px,#f7fa96 48.5px,#f6fa96 49.5px 52.5px,#f6fa95 53.5px,#f5f992 54.5px 56.5px,#f5f891 57.5px,#f4f88e 58.5px 61.5px,#f4f78b 62.5px,#f3f68a 63.5px 64.5px,#f3f586 65.5px 69.5px,#f2f27e 70.5px,#f2f27d 71.5px 72.5px,#f1f179 73.5px 74.5px,#f1f078 75.5px,#f1ef75 76.5px 77.5px,#f1ed71 78.5px,#f1ec6d 79.5px 80.5px,#f1eb6c 81.5px,#f2e661 82.5px 84.5px,#f3e359 85.5px,#f4e156 86.5px 88.5px,#f5da4a 89.5px,#f6d746 90.5px 92.5px,#f8cc36 93.5px,#f9c932 94.5px 96.5px,#fac229 97.5px,#fcae12 98.5px 101.5px,#3b2907 102.5px,#000004 103.5px 105.5px,#402e09 106.5px,#fbb61a 107.5px 111.5px,#fbb81d 112.5px,#f6d746 113.5px 117.5px,#f4e056 118.5px,#f1ec6d 119.5px 124.5px,#f2ed6f 125.5px,#f4f88e 126.5px 132.5px,#f5f991 133.5px,#fafda1 134.5px 141.5px,#fbfea1 142.5px,#fcffa4 143.5px 153.5px,#f3f586 154.5px,#f2f482 155.5px 166.5px,#f2ee75 167.5px,#f3e55d 168.5px 184.5px,#f2e865 185.5px,#f1f179 186.5px 211.5px,#f3f380 212.5px,#f8fb9a 213.5px 250.5px,#fefef1 251.5px);top:211px;height:4px"><i style="opacity:.250"></i></div>
<div class="r" style="--g:linear-gradient(90deg,#feffe5 0.5px,#fcffa4 1.5px 14.5px,#fbfea2 15.5px,#fafda1 16.5px 34.5px,#f9fd9e 35.5px,#f9fc9d 36.5px 45.5px,#f8fc9b 46.5px,#f8fb9a 47.5px 52.5px,#f7fb99 53.5px,#f6fa96 54.5px 56.5px,#f6fa94 57.5px,#f5f992 58.5px 64.5px,#f4f88e 65.5px 66.5px,#f4f78b 67.5px,#f3f68a 68.5px 69.5px,#f3f586 70.5px 71.5px,#f3f585 72.5px,#f2f482 73.5px 74.5px,#f2f380 75.5px,#f2f27d 76.5px 77.5px,#f2f17b 78.5px,#f1f179 79.5px 80.5px,#f1f079 81.5px,#f1ed71 82.5px 84.5px,#f2ea69 85.5px,#f2e865 86.5px 88.5px,#f3e45d 89.5px,#f3e35a 90.5px 92.5px,#f5dd4f 93.5px,#f5db4c 94.5px 96.5px,#f6d746 97.5px,#f8cd37 98.5px 101.5px,#fbb81e 102.5px,#fcb216 103.5px 105.5px,#bc8512 106.5px,#000004 107.5px 111.5px,#0d0905 112.5px,#fbba1f 113.5px 117.5px,#f8c833 118.5px,#f4dd4f 119.5px 124.5px,#f4df53 125.5px,#f1f179 126.5px 132.5px,#f2f27e 133.5px,#f6fa96 134.5px 141.5px,#f7fb98 142.5px,#fcffa4 143.5px 153.5px,#f8fc9b 154.5px,#f8fb9a 155.5px 166.5px,#a3a666 167.5px,#000004 168.5px 184.5px,#494a32 185.5px,#fafda1 186.5px 211.5px,#c4c67e 212.5px,#000004 213.5px 250.5px,#dddddd 251.5px);top:215px;height:3px"><i style="opacity:.837"></i></div>
<div class="r" style="--g:linear-gradient(90deg,#feffe5 0.5px,#fcffa4 1.5px 20.5px,#fafea1 21.5px,#fafda1 22.5px 38.5px,#fafda0 39.5px,#f9fc9d 40.5px 50.5px,#f8fc9b 51.5px,#f8fb9a 52.5px 56.5px,#f7fb98 57.5px,#f6fa96 58.5px 64.5px,#f5f992 65.5px 69.5px,#f4f88e 70.5px 71.5px,#f4f78d 72.5px,#f3f68a 73.5px 74.5px,#f3f689 75.5px,#f3f586 76.5px 77.5px,#f2f484 78.5px,#f2f482 79.5px 80.5px,#f2f381 81.5px,#f2f27d 82.5px 84.5px,#f1f078 85.5px,#f1ef75 86.5px 88.5px,#f1ed6f 89.5px,#f1ec6d 90.5px 92.5px,#f2e763 93.5px,#f2e661 94.5px 96.5px,#f3e45c 97.5px,#f4dd4f 98.5px 101.5px,#f7d33f 102.5px,#f8cf3a 103.5px 105.5px,#f9c932 106.5px,#fbb61a 107.5px 111.5px,#efad19 112.5px,#000004 113.5px 117.5px,#674f12 118.5px,#fac026 119.5px 124.5px,#fac229 125.5px,#f4e156 126.5px 132.5px,#f3e45e 133.5px,#f2f482 134.5px 141.5px,#f3f586 142.5px,#f9fc9d 143.5px 153.5px,#fcfea4 154.5px,#fcffa4 155.5px 166.5px,#f9f68c 167.5px,#f3e55d 168.5px 184.5px,#f5ec71 185.5px,#fafda1 186.5px 211.5px,#fafd9f 212.5px,#f8fb9a 213.5px 250.5px,#fefef1 251.5px);top:218px;height:3px"><i style="opacity:.424"></i></div>
<div class="r" style="--g:linear-gradient(90deg,#feffe5 0.5px,#fcffa4 1.5px 25.5px,#fbfea3 26.5px,#fafda1 27.5px 45.5px,#fafd9f 46.5px,#f9fc9d 47.5px 56.5px,#f9fc9c 57.5px,#f8fb9a 58.5px 64.5px,#f6fa96 65.5px 69.5px,#f5f992 70.5px 74.5px,#f5f991 75.5px,#f4f88e 76.5px 77.5px,#f4f78c 78.5px,#f3f68a 79.5px 80.5px,#f3f689 81.5px,#f3f586 82.5px 84.5px,#f2f483 85.5px,#f2f482 86.5px 88.5px,#f2f17b 89.5px,#f1f179 90.5px 92.5px,#f1ee73 93.5px,#f1ed71 94.5px 96.5px,#f1ec6d 97.5px,#f2e865 98.5px 101.5px,#f3e359 102.5px,#f4e156 103.5px 105.5px,#f4dd50 106.5px,#f7d340 107.5px 111.5px,#f7d23e 112.5px,#fbba1f 113.5px 117.5px,#946e14 118.5px,#000004 119.5px 124.5px,#140f07 125.5px,#fac62d 126.5px 132.5px,#f8cb36 133.5px,#f2e661 134.5px 141.5px,#f3e968 142.5px,#f4f88e 143.5px 153.5px,#fbfea2 154.5px,#fcffa4 155.5px 166.5px,#fafd9e 167.5px,#f5f992 168.5px 184.5px,#f4f68b 185.5px,#f1f179 186.5px 211.5px,#f3f380 212.5px,#f8fb9a 213.5px 250.5px,#fefef1 251.5px);top:221px;height:4px"><i style="opacity:.011"></i></div>
<div class="r" style="--g:linear-gradient(90deg,#feffe5 0.5px,#fcffa4 1.5px 32.5px,#fbfea2 33.5px,#fafda1 34.5px 52.5px,#fafda0 53.5px,#f9fc9d 54.5px 64.5px,#f8fb9a 65.5px 71.5px,#f8fb99 72.5px,#f6fa96 73.5px 77.5px,#f6fa94 78.5px,#f5f992 79.5px 81.5px,#f4f88e 82.5px 84.5px,#f4f78b 85.5px,#f3f68a 86.5px 88.5px,#f3f587 89.5px,#f3f586 90.5px 92.5px,#f2f482 93.5px 96.5px,#f2f37f 97.5px,#f1f179 98.5px 101.5px,#f1ed70 102.5px,#f1ec6d 103.5px 105.5px,#f2ea69 106.5px,#f3e55d 107.5px 111.5px,#f3e45c 112.5px,#f6d746 113.5px 117.5px,#f8ce39 118.5px,#fac026 119.5px 124.5px,#e7b123 125.5px,#000004 126.5px 132.5px,#2d250c 133.5px,#f9cb35 134.5px 141.5px,#f7d13e 142.5px,#f1ed71 143.5px 153.5px,#f7fa95 154.5px,#f8fb9a 155.5px 166.5px,#f9fc9d 167.5px,#fcffa4 168.5px 184.5px,#b3b475 185.5px,#000004 186.5px 250.5px,#dddddd 251.5px);top:225px;height:3px"><i style="opacity:.598"></i></div>
<div class="r" style="--g:linear-gradient(90deg,#feffe5 0.5px,#fcffa4 1.5px 41.5px,#fbfea2 42.5px,#fafda1 43.5px 61.5px,#f9fd9e 62.5px,#f9fc9d 63.5px 72.5px,#f8fb9a 73.5px 77.5px,#f7fb98 78.5px,#f6fa96 79.5px 84.5px,#f6f993 85.5px,#f5f992 86.5px 88.5px,#f5f88f 89.5px,#f4f88e 90.5px 92.5px,#f4f78b 93.5px,#f3f68a 94.5px 96.5px,#f3f689 97.5px,#f3f586 98.5px 101.5px,#f2f37f 102.5px,#f2f27d 103.5px 105.5px,#f2f17b 106.5px,#f1ef75 107.5px 111.5px,#f1ef74 112.5px,#f2e865 113.5px 117.5px,#f3e45c 118.5px,#f4dd4f 119.5px 124.5px,#f5db4d 125.5px,#fac62d 126.5px 132.5px,#cca225 133.5px,#000004 134.5px 141.5px,#27210d 142.5px,#f7d13d 143.5px 153.5px,#f3ef79 154.5px,#f2f482 155.5px 166.5px,#f6f78d 167.5px,#fcffa4 168.5px 184.5px,#f9fa98 185.5px,#f1f179 186.5px 211.5px,#f3f380 212.5px,#f8fb9a 213.5px 250.5px,#fefef1 251.5px);top:228px;height:4px"><i style="opacity:.185"></i></div>
<div class="r" style="--g:linear-gradient(90deg,#feffe5 0.5px,#fcffa4 1.5px 50.5px,#fbfea3 51.5px,#fafda1 52.5px 69.5px,#f9fc9e 70.5px,#f9fc9d 71.5px 81.5px,#f8fb9a 82.5px 88.5px,#f7fa97 89.5px,#f6fa96 90.5px 96.5px,#f6fa95 97.5px,#f5f992 98.5px 101.5px,#f4f88f 102.5px,#f4f88e 103.5px 105.5px,#f4f78c 106.5px,#f3f586 107.5px 111.5px,#f3f585 112.5px,#f2f27d 113.5px 117.5px,#f2ef77 118.5px,#f1ec6d 119.5px 124.5px,#f2eb6b 125.5px,#f4e156 126.5px 132.5px,#f4dd50 133.5px,#f9cb35 134.5px 141.5px,#d1ab2d 142.5px,#000004 143.5px 153.5px,#d7c043 154.5px,#f5db4c 155.5px 166.5px,#f5e564 167.5px,#f5f992 168.5px 184.5px,#f7fa96 185.5px,#fafda1 186.5px 211.5px,#fafd9f 212.5px,#f8fb9a 213.5px 250.5px,#fefef1 251.5px);top:232px;height:3px"><i style="opacity:.772"></i></div>
<div class="r" style="--g:linear-gradient(90deg,#feffe5 0.5px,#fcffa4 1.5px 61.5px,#fbfea2 62.5px,#fafda1 63.5px 81.5px,#f9fc9d 82.5px 92.5px,#f8fb9a 93.5px 101.5px,#f7fa97 102.5px,#f6fa96 103.5px 105.5px,#f6fa95 106.5px,#f5f992 107.5px 112.5px,#f4f88e 113.5px 117.5px,#f4f78a 118.5px,#f3f586 119.5px 124.5px,#f3f585 125.5px,#f1f179 126.5px 132.5px,#f2ef75 133.5px,#f2e661 134.5px 141.5px,#f3e35b 142.5px,#f7d13d 143.5px 153.5px,#1f1a0b 154.5px,#000004 155.5px 166.5px,#534e22 167.5px,#f3e55d 168.5px 184.5px,#f5ec71 185.5px,#fafda1 186.5px 211.5px,#c4c67e 212.5px,#000004 213.5px 250.5px,#dddddd 251.5px);top:235px;height:4px"><i style="opacity:.359"></i></div>
<div class="r" style="--g:linear-gradient(90deg,#feffe5 0.5px,#fcffa4 1.5px 77.5px,#fbfea3 78.5px,#fafda1 79.5px 96.5px,#fafda0 97.5px,#f9fc9d 98.5px 105.5px,#f9fc9c 106.5px,#f8fb9a 107.5px 117.5px,#f7fa96 118.5px,#f5f992 119.5px 125.5px,#f4f88e 126.5px 132.5px,#f4f78c 133.5px,#f2f482 134.5px 141.5px,#f2f37f 142.5px,#f1ed71 143.5px 153.5px,#f5dd51 154.5px,#f5db4c 155.5px 166.5px,#a29033 167.5px,#000004 168.5px 184.5px,#474626 185.5px,#f1f179 186.5px 211.5px,#f3f380 212.5px,#f8fb9a 213.5px 250.5px,#fefef1 251.5px);top:239px;height:3px"><i style="opacity:.946"></i></div>
<div class="r" style="--g:linear-gradient(90deg,#feffe5 0.5px,#fcffa4 1.5px 96.5px,#fcfea3 97.5px,#fafda1 98.5px 117.5px,#fafd9f 118.5px,#f9fc9d 119.5px 125.5px,#f8fb9a 126.5px 132.5px,#f7fb99 133.5px,#f6fa96 134.5px 141.5px,#f6fa94 142.5px,#f4f88e 143.5px 153.5px,#f2f483 154.5px,#f2f482 155.5px 166.5px,#f2ee75 167.5px,#f3e55d 168.5px 184.5px,#aca243 185.5px,#000004 186.5px 211.5px,#373724 212.5px,#f8fb9a 213.5px 250.5px,#fefef1 251.5px);top:242px;height:3px"><i style="opacity:.533"></i></div>
<div class="r" style="--g:linear-gradient(90deg,#feffe5 0.5px,#fcffa4 1.5px 124.5px,#fcfea4 125.5px,#fafda1 126.5px 141.5px,#fafda0 142.5px,#f9fc9d 143.5px 153.5px,#f8fb9a 154.5px 166.5px,#f7fa97 167.5px,#f5f992 168.5px 184.5px,#f4f68b 185.5px,#f1f179 186.5px 211.5px,#bdbc5f 212.5px,#000004 213.5px 250.5px,#dddddd 251.5px);top:245px;height:4px"><i style="opacity:.120"></i></div>
<div class="r" style="--g:linear-gradient(90deg,#feffe5 0.5px,#fcffa4 1.5px 184.5px,#fcfea3 185.5px,#fafda1 186.5px 211.5px,#fafd9f 212.5px,#f8fb9a 213.5px 250.5px,#fefef1 251.5px);top:249px;height:1px"><i style="opacity:.707"></i></div>
</div>
<svg width="685" height="295" viewBox="0 0 685 295" style="position:absolute;left:0;top:0" font-family="DejaVu Sans, Liberation Sans, sans-serif" text-rendering="geometricPrecision" fill="#000" stroke="#000" stroke-width="0.15">
<defs><linearGradient id="cb" x1="0" y1="0" x2="0" y2="1"><stop offset="0.0000" stop-color="#fcffa4"/><stop offset="0.0156" stop-color="#f8fb9a"/><stop offset="0.0312" stop-color="#f3f68a"/><stop offset="0.0469" stop-color="#f1f179"/><stop offset="0.0625" stop-color="#f2ea69"/><stop offset="0.0781" stop-color="#f3e35a"/><stop offset="0.0938" stop-color="#f5db4c"/><stop offset="0.1094" stop-color="#f7d340"/><stop offset="0.1250" stop-color="#f9cb35"/><stop offset="0.1406" stop-color="#fac42a"/><stop offset="0.1562" stop-color="#fbbc21"/><stop offset="0.1719" stop-color="#fcb418"/><stop offset="0.1875" stop-color="#fcac11"/><stop offset="0.2031" stop-color="#fca50a"/><stop offset="0.2188" stop-color="#fb9d07"/><stop offset="0.2344" stop-color="#fb9606"/><stop offset="0.2500" stop-color="#f98e09"/><stop offset="0.2656" stop-color="#f8870e"/><stop offset="0.2812" stop-color="#f68013"/><stop offset="0.2969" stop-color="#f47918"/><stop offset="0.3125" stop-color="#f1731d"/><stop offset="0.3281" stop-color="#ef6c23"/><stop offset="0.3438" stop-color="#eb6628"/><stop offset="0.3594" stop-color="#e8602d"/><stop offset="0.3750" stop-color="#e45a31"/><stop offset="0.3906" stop-color="#e05536"/><stop offset="0.4062" stop-color="#db503b"/><stop offset="0.4219" stop-color="#d74b3f"/><stop offset="0.4375" stop-color="#d24644"/><stop offset="0.4531" stop-color="#cc4248"/><stop offset="0.4688" stop-color="#c73e4c"/><stop offset="0.4844" stop-color="#c13a50"/><stop offset="0.5000" stop-color="#bc3754"/><stop offset="0.5156" stop-color="#b63458"/><stop offset="0.5312" stop-color="#b0315b"/><stop offset="0.5469" stop-color="#a92e5e"/><stop offset="0.5625" stop-color="#a32c61"/><stop offset="0.5781" stop-color="#9d2964"/><stop offset="0.5938" stop-color="#972766"/><stop offset="0.6094" stop-color="#902568"/><stop offset="0.6250" stop-color="#8a226a"/><stop offset="0.6406" stop-color="#84206b"/><stop offset="0.6562" stop-color="#7d1e6d"/><stop offset="0.6719" stop-color="#771c6d"/><stop offset="0.6875" stop-color="#71196e"/><stop offset="0.7031" stop-color="#6a176e"/><stop offset="0.7188" stop-color="#64156e"/><stop offset="0.7344" stop-color="#5d126e"/><stop offset="0.7500" stop-color="#57106e"/><stop offset="0.7656" stop-color="#510e6c"/><stop offset="0.7812" stop-color="#4a0c6b"/><stop offset="0.7969" stop-color="#440a68"/><stop offset="0.8125" stop-color="#3d0965"/><stop offset="0.8281" stop-color="#360961"/><stop offset="0.8438" stop-color="#2f0a5b"/><stop offset="0.8594" stop-color="#280b53"/><stop offset="0.8750" stop-color="#210c4a"/><stop offset="0.8906" stop-color="#1b0c41"/><stop offset="0.9062" stop-color="#150b37"/><stop offset="0.9219" stop-color="#10092d"/><stop offset="0.9375" stop-color="#0b0724"/><stop offset="0.9531" stop-color="#07051b"/><stop offset="0.9688" stop-color="#040312"/><stop offset="0.9844" stop-color="#02010a"/><stop offset="1.0000" stop-color="#000004"/></linearGradient></defs>
<text transform="translate(21.00 274.63) rotate(0.05) scale(0.9900 1)" font-size="7.10" text-anchor="end" stroke-width="0.06">0</text>
<text transform="translate(21.00 241.41) rotate(0.05) scale(0.9900 1)" font-size="7.10" text-anchor="end" stroke-width="0.06">10</text>
<text transform="translate(21.00 208.19) rotate(0.05) scale(0.9900 1)" font-size="7.10" text-anchor="end" stroke-width="0.06">20</text>
<text transform="translate(21.00 174.97) rotate(0.05) scale(0.9900 1)" font-size="7.10" text-anchor="end" stroke-width="0.06">30</text>
<text transform="translate(21.00 141.75) rotate(0.05) scale(0.9900 1)" font-size="7.10" text-anchor="end" stroke-width="0.06">40</text>
<text transform="translate(21.00 108.53) rotate(0.05) scale(0.9900 1)" font-size="7.10" text-anchor="end" stroke-width="0.06">50</text>
<text transform="translate(21.00 75.31) rotate(0.05) scale(0.9900 1)" font-size="7.10" text-anchor="end" stroke-width="0.06">60</text>
<text transform="translate(21.00 42.09) rotate(0.05) scale(0.9900 1)" font-size="7.10" text-anchor="end" stroke-width="0.06">70</text>
<text transform="translate(25.50 282.70) rotate(0.05) scale(1.0600 1)" font-size="7.10" text-anchor="middle" stroke-width="0.06">10<tspan dx="0.35" dy="-2.59" font-size="4.97">−4</tspan></text>
<text transform="translate(88.09 282.70) rotate(0.05) scale(1.0600 1)" font-size="7.10" text-anchor="middle" stroke-width="0.06">10<tspan dx="0.35" dy="-2.59" font-size="4.97">−3</tspan></text>
<text transform="translate(150.68 282.70) rotate(0.05) scale(1.0600 1)" font-size="7.10" text-anchor="middle" stroke-width="0.06">10<tspan dx="0.35" dy="-2.59" font-size="4.97">−2</tspan></text>
<text transform="translate(213.26 282.70) rotate(0.05) scale(1.0600 1)" font-size="7.10" text-anchor="middle" stroke-width="0.06">10<tspan dx="0.35" dy="-2.59" font-size="4.97">−1</tspan></text>
<text transform="translate(275.85 282.70) rotate(0.05) scale(1.0600 1)" font-size="7.10" text-anchor="middle" stroke-width="0.06">10<tspan dx="0.35" dy="-2.59" font-size="4.97">0</tspan></text>
<rect x="291.40" y="22.85" width="12.60" height="249.15" fill="url(#cb)" stroke="none"/>
<text transform="translate(307.75 25.88) rotate(0.05) scale(1.0600 1)" font-size="7.10" text-anchor="start" stroke-width="0.06">10<tspan dx="0.35" dy="-2.59" font-size="4.97">0</tspan></text>
<text transform="translate(307.75 75.71) rotate(0.05) scale(1.0600 1)" font-size="7.10" text-anchor="start" stroke-width="0.06">10<tspan dx="0.35" dy="-2.59" font-size="4.97">−2</tspan></text>
<text transform="translate(307.75 125.54) rotate(0.05) scale(1.0600 1)" font-size="7.10" text-anchor="start" stroke-width="0.06">10<tspan dx="0.35" dy="-2.59" font-size="4.97">−4</tspan></text>
<text transform="translate(307.75 175.37) rotate(0.05) scale(1.0600 1)" font-size="7.10" text-anchor="start" stroke-width="0.06">10<tspan dx="0.35" dy="-2.59" font-size="4.97">−6</tspan></text>
<text transform="translate(307.75 225.20) rotate(0.05) scale(1.0600 1)" font-size="7.10" text-anchor="start" stroke-width="0.06">10<tspan dx="0.35" dy="-2.59" font-size="4.97">−8</tspan></text>
<text transform="translate(307.75 275.03) rotate(0.05) scale(1.0600 1)" font-size="7.10" text-anchor="start" stroke-width="0.06">10<tspan dx="0.35" dy="-2.59" font-size="4.97">−10</tspan></text>
<g fill="#000" stroke="none"><rect x="25" y="22" width="251" height="1" opacity="0.25"/><rect x="25" y="271" width="251" height="1" opacity="0.10"/><rect x="25" y="272" width="251" height="1" opacity="0.28"/><rect x="25" y="23" width="1" height="249" opacity="0.50"/><rect x="275" y="23" width="1" height="249" opacity="0.42"/></g>
<g stroke="#000" fill="none" opacity="0.65"><path d="M23.20 272.00h2.30" stroke-width="0.62"/><path d="M23.20 238.78h2.30" stroke-width="0.62"/><path d="M23.20 205.56h2.30" stroke-width="0.62"/><path d="M23.20 172.34h2.30" stroke-width="0.62"/><path d="M23.20 139.12h2.30" stroke-width="0.62"/><path d="M23.20 105.90h2.30" stroke-width="0.62"/><path d="M23.20 72.68h2.30" stroke-width="0.62"/><path d="M23.20 39.46h2.30" stroke-width="0.62"/><path d="M25.50 272.00v2.40" stroke-width="0.62"/><path d="M88.09 272.00v2.40" stroke-width="0.62"/><path d="M150.68 272.00v2.40" stroke-width="0.62"/><path d="M213.26 272.00v2.40" stroke-width="0.62"/><path d="M275.85 272.00v2.40" stroke-width="0.62"/><path d="M44.34 272.00v1.60" stroke-width="0.47"/><path d="M55.36 272.00v1.60" stroke-width="0.47"/><path d="M63.18 272.00v1.60" stroke-width="0.47"/><path d="M69.25 272.00v1.60" stroke-width="0.47"/><path d="M74.20 272.00v1.60" stroke-width="0.47"/><path d="M78.39 272.00v1.60" stroke-width="0.47"/><path d="M82.02 272.00v1.60" stroke-width="0.47"/><path d="M85.22 272.00v1.60" stroke-width="0.47"/><path d="M106.93 272.00v1.60" stroke-width="0.47"/><path d="M117.95 272.00v1.60" stroke-width="0.47"/><path d="M125.77 272.00v1.60" stroke-width="0.47"/><path d="M131.83 272.00v1.60" stroke-width="0.47"/><path d="M136.79 272.00v1.60" stroke-width="0.47"/><path d="M140.98 272.00v1.60" stroke-width="0.47"/><path d="M144.61 272.00v1.60" stroke-width="0.47"/><path d="M147.81 272.00v1.60" stroke-width="0.47"/><path d="M169.52 272.00v1.60" stroke-width="0.47"/><path d="M180.54 272.00v1.60" stroke-width="0.47"/><path d="M188.36 272.00v1.60" stroke-width="0.47"/><path d="M194.42 272.00v1.60" stroke-width="0.47"/><path d="M199.38 272.00v1.60" stroke-width="0.47"/><path d="M203.57 272.00v1.60" stroke-width="0.47"/><path d="M207.20 272.00v1.60" stroke-width="0.47"/><path d="M210.40 272.00v1.60" stroke-width="0.47"/><path d="M232.10 272.00v1.60" stroke-width="0.47"/><path d="M243.12 272.00v1.60" stroke-width="0.47"/><path d="M250.94 272.00v1.60" stroke-width="0.47"/><path d="M257.01 272.00v1.60" stroke-width="0.47"/><path d="M261.97 272.00v1.60" stroke-width="0.47"/><path d="M266.16 272.00v1.60" stroke-width="0.47"/><path d="M269.78 272.00v1.60" stroke-width="0.47"/><path d="M272.99 272.00v1.60" stroke-width="0.47"/><rect x="291.40" y="22.85" width="12.60" height="249.15" fill="none" stroke-width="0.70" opacity="1.00"/><path d="M304.00 22.85h2.30" stroke-width="0.62"/><path d="M304.00 72.68h2.30" stroke-width="0.62"/><path d="M304.00 122.51h2.30" stroke-width="0.62"/><path d="M304.00 172.34h2.30" stroke-width="0.62"/><path d="M304.00 222.17h2.30" stroke-width="0.62"/><path d="M304.00 272.00h2.30" stroke-width="0.62"/></g>
<text transform="translate(150.68 293.65) rotate(0.05) scale(1.0300 1)" font-size="8.50" text-anchor="middle">M/N</text>
<text transform="translate(7.15 147.62) rotate(-89.95) scale(1.0610 1)" font-size="8.50" text-anchor="middle">Number of iterations</text>
<text transform="translate(149.03 8.15) rotate(0.05) scale(1.0750 1)" font-size="9.40" text-anchor="middle">Probability of not measuring a solution</text>
<text transform="translate(152.03 19.40) rotate(0.05) scale(1.0750 1)" font-size="9.40" text-anchor="middle">using Grover's Algorithm</text>
<text transform="translate(376.80 275.13) rotate(0.05) scale(0.9900 1)" font-size="7.10" text-anchor="end" stroke-width="0.06">0</text>
<text transform="translate(376.80 241.00) rotate(0.05) scale(0.9900 1)" font-size="7.10" text-anchor="end" stroke-width="0.06">10</text>
<text transform="translate(376.80 206.87) rotate(0.05) scale(0.9900 1)" font-size="7.10" text-anchor="end" stroke-width="0.06">20</text>
<text transform="translate(376.80 172.74) rotate(0.05) scale(0.9900 1)" font-size="7.10" text-anchor="end" stroke-width="0.06">30</text>
<text transform="translate(376.80 138.61) rotate(0.05) scale(0.9900 1)" font-size="7.10" text-anchor="end" stroke-width="0.06">40</text>
<text transform="translate(376.80 104.48) rotate(0.05) scale(0.9900 1)" font-size="7.10" text-anchor="end" stroke-width="0.06">50</text>
<text transform="translate(376.80 70.35) rotate(0.05) scale(0.9900 1)" font-size="7.10" text-anchor="end" stroke-width="0.06">60</text>
<text transform="translate(376.80 36.22) rotate(0.05) scale(0.9900 1)" font-size="7.10" text-anchor="end" stroke-width="0.06">70</text>
<text transform="translate(380.95 282.70) rotate(0.05) scale(1.0600 1)" font-size="7.10" text-anchor="middle" stroke-width="0.06">10<tspan dx="0.35" dy="-2.59" font-size="4.97">0</tspan></text>
<text transform="translate(444.88 282.70) rotate(0.05) scale(1.0600 1)" font-size="7.10" text-anchor="middle" stroke-width="0.06">10<tspan dx="0.35" dy="-2.59" font-size="4.97">1</tspan></text>
<text transform="translate(508.82 282.70) rotate(0.05) scale(1.0600 1)" font-size="7.10" text-anchor="middle" stroke-width="0.06">10<tspan dx="0.35" dy="-2.59" font-size="4.97">2</tspan></text>
<text transform="translate(572.75 282.70) rotate(0.05) scale(1.0600 1)" font-size="7.10" text-anchor="middle" stroke-width="0.06">10<tspan dx="0.35" dy="-2.59" font-size="4.97">3</tspan></text>
<rect x="647.00" y="22.85" width="12.70" height="249.15" fill="url(#cb)" stroke="none"/>
<text transform="translate(663.45 75.71) rotate(0.05) scale(1.0600 1)" font-size="7.10" text-anchor="start" stroke-width="0.06">10<tspan dx="0.35" dy="-2.59" font-size="4.97">−2</tspan></text>
<text transform="translate(663.45 125.54) rotate(0.05) scale(1.0600 1)" font-size="7.10" text-anchor="start" stroke-width="0.06">10<tspan dx="0.35" dy="-2.59" font-size="4.97">−4</tspan></text>
<text transform="translate(663.45 175.37) rotate(0.05) scale(1.0600 1)" font-size="7.10" text-anchor="start" stroke-width="0.06">10<tspan dx="0.35" dy="-2.59" font-size="4.97">−6</tspan></text>
<text transform="translate(663.45 225.20) rotate(0.05) scale(1.0600 1)" font-size="7.10" text-anchor="start" stroke-width="0.06">10<tspan dx="0.35" dy="-2.59" font-size="4.97">−8</tspan></text>
<text transform="translate(663.45 275.03) rotate(0.05) scale(1.0600 1)" font-size="7.10" text-anchor="start" stroke-width="0.06">10<tspan dx="0.35" dy="-2.59" font-size="4.97">−10</tspan></text>
<g fill="#000" stroke="none"><rect x="380" y="22" width="252" height="1" opacity="0.25"/><rect x="380" y="271" width="252" height="1" opacity="0.10"/><rect x="380" y="272" width="252" height="1" opacity="0.28"/><rect x="380" y="23" width="1" height="249" opacity="0.30"/><rect x="381" y="23" width="1" height="249" opacity="0.17"/><rect x="631" y="23" width="1" height="249" opacity="0.33"/></g>
<g stroke="#000" fill="none" opacity="0.65"><path d="M378.65 272.00h2.30" stroke-width="0.62"/><path d="M378.65 237.87h2.30" stroke-width="0.62"/><path d="M378.65 203.74h2.30" stroke-width="0.62"/><path d="M378.65 169.61h2.30" stroke-width="0.62"/><path d="M378.65 135.48h2.30" stroke-width="0.62"/><path d="M378.65 101.35h2.30" stroke-width="0.62"/><path d="M378.65 67.22h2.30" stroke-width="0.62"/><path d="M378.65 33.09h2.30" stroke-width="0.62"/><path d="M380.95 272.00v2.40" stroke-width="0.62"/><path d="M444.88 272.00v2.40" stroke-width="0.62"/><path d="M508.82 272.00v2.40" stroke-width="0.62"/><path d="M572.75 272.00v2.40" stroke-width="0.62"/><path d="M400.20 272.00v1.60" stroke-width="0.47"/><path d="M411.45 272.00v1.60" stroke-width="0.47"/><path d="M419.44 272.00v1.60" stroke-width="0.47"/><path d="M425.64 272.00v1.60" stroke-width="0.47"/><path d="M430.70 272.00v1.60" stroke-width="0.47"/><path d="M434.98 272.00v1.60" stroke-width="0.47"/><path d="M438.69 272.00v1.60" stroke-width="0.47"/><path d="M441.96 272.00v1.60" stroke-width="0.47"/><path d="M464.13 272.00v1.60" stroke-width="0.47"/><path d="M475.39 272.00v1.60" stroke-width="0.47"/><path d="M483.38 272.00v1.60" stroke-width="0.47"/><path d="M489.57 272.00v1.60" stroke-width="0.47"/><path d="M494.63 272.00v1.60" stroke-width="0.47"/><path d="M498.92 272.00v1.60" stroke-width="0.47"/><path d="M502.62 272.00v1.60" stroke-width="0.47"/><path d="M505.89 272.00v1.60" stroke-width="0.47"/><path d="M528.06 272.00v1.60" stroke-width="0.47"/><path d="M539.32 272.00v1.60" stroke-width="0.47"/><path d="M547.31 272.00v1.60" stroke-width="0.47"/><path d="M553.51 272.00v1.60" stroke-width="0.47"/><path d="M558.57 272.00v1.60" stroke-width="0.47"/><path d="M562.85 272.00v1.60" stroke-width="0.47"/><path d="M566.56 272.00v1.60" stroke-width="0.47"/><path d="M569.83 272.00v1.60" stroke-width="0.47"/><path d="M592.00 272.00v1.60" stroke-width="0.47"/><path d="M603.26 272.00v1.60" stroke-width="0.47"/><path d="M611.25 272.00v1.60" stroke-width="0.47"/><path d="M617.44 272.00v1.60" stroke-width="0.47"/><path d="M622.50 272.00v1.60" stroke-width="0.47"/><path d="M626.78 272.00v1.60" stroke-width="0.47"/><path d="M630.49 272.00v1.60" stroke-width="0.47"/><rect x="647.00" y="22.85" width="12.70" height="249.15" fill="none" stroke-width="0.70" opacity="1.00"/><path d="M659.70 72.68h2.30" stroke-width="0.62"/><path d="M659.70 122.51h2.30" stroke-width="0.62"/><path d="M659.70 172.34h2.30" stroke-width="0.62"/><path d="M659.70 222.17h2.30" stroke-width="0.62"/><path d="M659.70 272.00h2.30" stroke-width="0.62"/></g>
<text transform="translate(506.05 293.65) rotate(0.05) scale(1.0300 1)" font-size="8.50" text-anchor="middle">M</text>
<text transform="translate(362.65 147.62) rotate(-89.95) scale(1.0610 1)" font-size="8.50" text-anchor="middle">Number of iterations</text>
<text transform="translate(506.05 8.15) rotate(0.05) scale(1.0750 1)" font-size="9.40" text-anchor="middle">Probability of not measuring a solution for N=8192</text>
<text transform="translate(507.65 19.40) rotate(0.05) scale(1.0750 1)" font-size="9.40" text-anchor="middle">using our Simple Exact Quantum Search algorithm</text>
</svg>
</div></body></html>
